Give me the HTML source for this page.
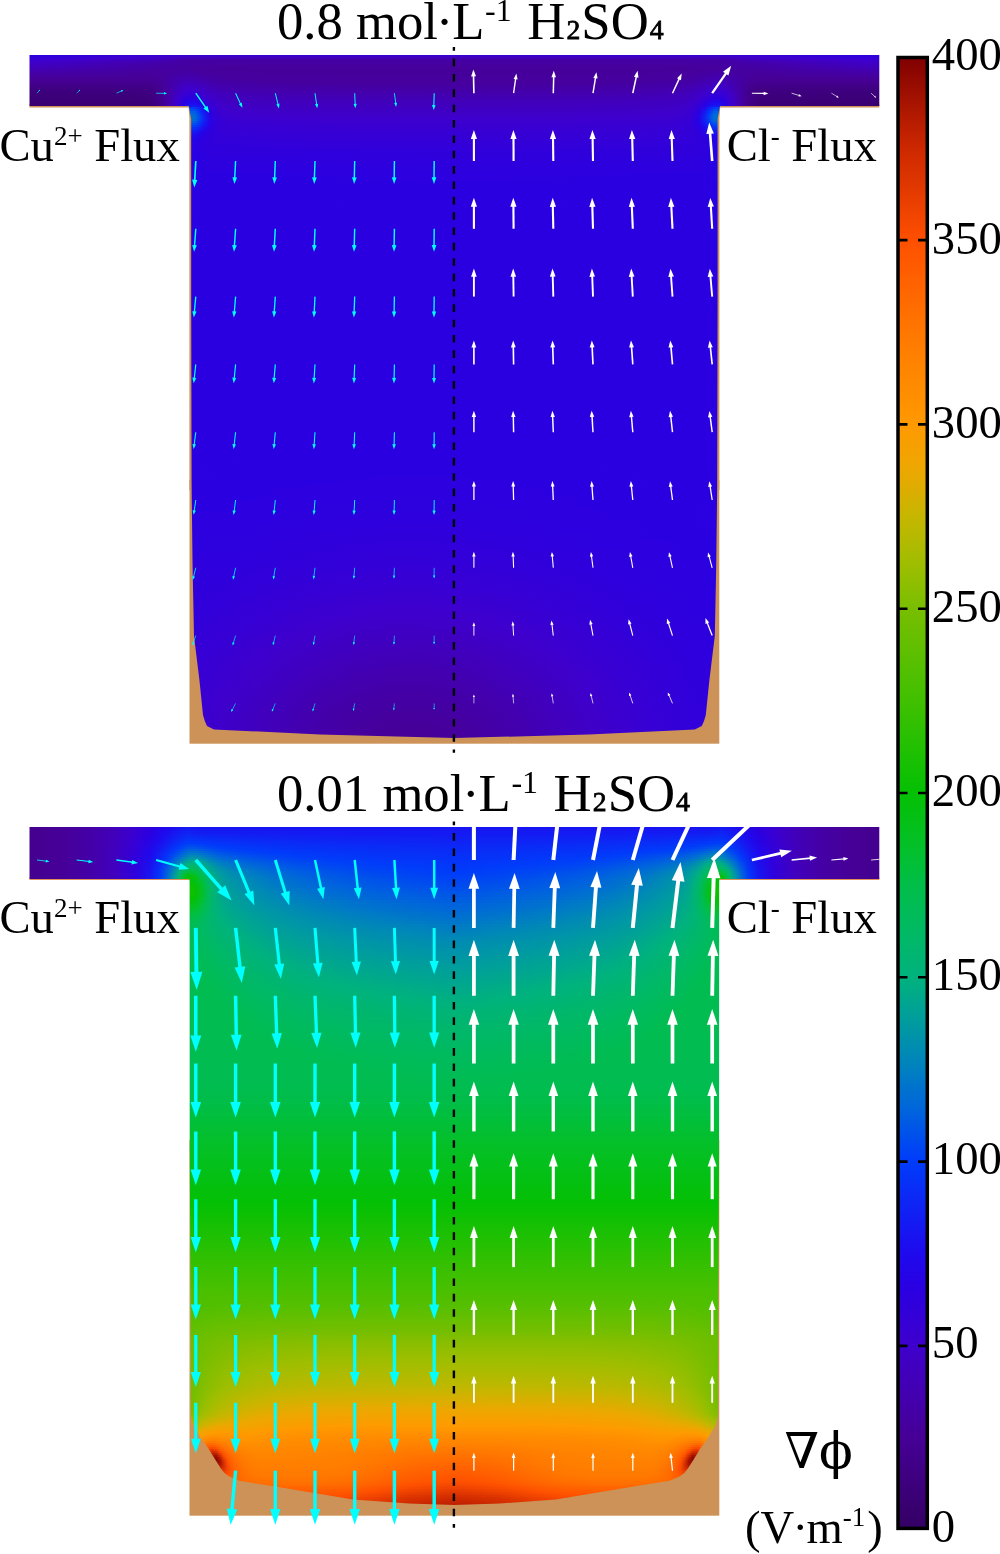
<!DOCTYPE html>
<html><head><meta charset="utf-8"><title>Flux</title><style>html,body{margin:0;padding:0;background:#fff}svg{display:block}</style></head><body>
<svg width="1000" height="1554" viewBox="0 0 1000 1554" font-family="'Liberation Serif', serif" fill="#000">
<defs><clipPath id="ct"><path d="M29.5 55.0L29.5 105.9L188.8 105.9L191.2 119.0L191.2 300.0L191.6 484.0L192.6 568.0L194.0 636.0L199.4 680.0L203.0 715.0L204.8 721.0L207.0 726.0L214.0 729.4L320.0 734.6L454.4 738.0L588.8 734.6L694.8 729.4L701.8 726.0L704.0 721.0L705.8 715.0L709.4 680.0L714.8 636.0L716.2 568.0L717.2 484.0L717.6 300.0L717.6 119.0L720.0 105.9L879.3 105.9L879.3 55.0Z"/></clipPath>
<clipPath id="cb"><path d="M29.5 827.0L29.5 879.2L189.2 879.2L189.6 881.0L189.7 1150.0L190.6 1300.0L190.8 1400.0L191.0 1416.0L193.4 1425.6L200.6 1437.6L209.0 1449.6L215.0 1459.2L221.0 1468.8L225.0 1473.5L229.4 1476.6L239.0 1480.8L269.0 1485.6L305.0 1491.6L353.0 1499.4L409.0 1503.6L454.4 1505.0L499.8 1503.6L555.8 1499.4L603.8 1491.6L639.8 1485.6L669.8 1480.8L679.4 1476.6L683.8 1473.5L687.8 1468.8L693.8 1459.2L699.8 1449.6L708.2 1437.6L715.4 1425.6L717.8 1416.0L718.0 1400.0L718.2 1300.0L719.1 1150.0L719.2 881.0L719.6 879.2L879.3 879.2L879.3 827.0Z"/></clipPath>
<clipPath id="cbx"><rect x="29.5" y="827" width="850" height="700"/></clipPath>
<linearGradient id="s1" gradientUnits="userSpaceOnUse" x1="454.4" x2="29.5" spreadMethod="reflect"><stop offset="0" stop-color="#3a00d1"/><stop offset=".639" stop-color="#3a00d1"/><stop offset=".648" stop-color="#3900d2"/><stop offset=".674" stop-color="#3900d2"/><stop offset=".693" stop-color="#3800d3"/><stop offset=".716" stop-color="#3700d4"/><stop offset=".752" stop-color="#3600d5"/><stop offset=".799" stop-color="#3400d7"/><stop offset=".858" stop-color="#3200d9"/><stop offset=".928" stop-color="#2f00dc"/><stop offset="1" stop-color="#2d00de"/></linearGradient>
<linearGradient id="s2" gradientUnits="userSpaceOnUse" x1="454.4" x2="29.5" spreadMethod="reflect"><stop offset="0" stop-color="#3f00c6"/><stop offset=".556" stop-color="#3f00c6"/><stop offset=".575" stop-color="#3f00c7"/><stop offset=".625" stop-color="#3f00c7"/><stop offset=".632" stop-color="#3f00c8"/><stop offset=".639" stop-color="#3f00c8"/><stop offset=".648" stop-color="#3f00c9"/><stop offset=".66" stop-color="#3e00cb"/><stop offset=".674" stop-color="#3e00cc"/><stop offset=".693" stop-color="#3d00ce"/><stop offset=".716" stop-color="#3c00cf"/><stop offset=".752" stop-color="#3a00d1"/><stop offset=".799" stop-color="#3800d3"/><stop offset=".858" stop-color="#3500d6"/><stop offset=".928" stop-color="#3200d9"/><stop offset="1" stop-color="#2f00dc"/></linearGradient>
<linearGradient id="s3" gradientUnits="userSpaceOnUse" x1="454.4" x2="29.5" spreadMethod="reflect"><stop offset="0" stop-color="#4100bb"/><stop offset=".61" stop-color="#4100bb"/><stop offset=".618" stop-color="#4100bc"/><stop offset=".625" stop-color="#4000bc"/><stop offset=".632" stop-color="#4000bd"/><stop offset=".639" stop-color="#4000be"/><stop offset=".648" stop-color="#4000bf"/><stop offset=".66" stop-color="#4000c1"/><stop offset=".674" stop-color="#3f00c4"/><stop offset=".693" stop-color="#3f00c6"/><stop offset=".716" stop-color="#3e00ca"/><stop offset=".752" stop-color="#3e00cd"/><stop offset=".799" stop-color="#3c00cf"/><stop offset=".858" stop-color="#3900d2"/><stop offset=".928" stop-color="#3500d6"/><stop offset="1" stop-color="#3200d9"/></linearGradient>
<linearGradient id="s4" gradientUnits="userSpaceOnUse" x1="454.4" x2="29.5" spreadMethod="reflect"><stop offset="0" stop-color="#4200b2"/><stop offset=".618" stop-color="#4200b2"/><stop offset=".625" stop-color="#4200b3"/><stop offset=".632" stop-color="#4200b4"/><stop offset=".639" stop-color="#4200b5"/><stop offset=".648" stop-color="#4100b7"/><stop offset=".66" stop-color="#4100b9"/><stop offset=".674" stop-color="#4000bc"/><stop offset=".693" stop-color="#4000c0"/><stop offset=".716" stop-color="#3f00c4"/><stop offset=".752" stop-color="#3f00c7"/><stop offset=".799" stop-color="#3e00cb"/><stop offset=".858" stop-color="#3c00cf"/><stop offset=".928" stop-color="#3800d3"/><stop offset="1" stop-color="#3500d6"/></linearGradient>
<linearGradient id="s5" gradientUnits="userSpaceOnUse" x1="454.4" x2="29.5" spreadMethod="reflect"><stop offset="0" stop-color="#4300a8"/><stop offset=".601" stop-color="#4300a8"/><stop offset=".61" stop-color="#4300a9"/><stop offset=".618" stop-color="#4300a9"/><stop offset=".625" stop-color="#4300aa"/><stop offset=".632" stop-color="#4300ab"/><stop offset=".639" stop-color="#4300ac"/><stop offset=".648" stop-color="#4200af"/><stop offset=".66" stop-color="#4200b2"/><stop offset=".674" stop-color="#4100b6"/><stop offset=".693" stop-color="#4100ba"/><stop offset=".716" stop-color="#4000bf"/><stop offset=".752" stop-color="#4000c2"/><stop offset=".799" stop-color="#3f00c6"/><stop offset=".858" stop-color="#3e00cb"/><stop offset=".928" stop-color="#3b00d0"/><stop offset="1" stop-color="#3700d4"/></linearGradient>
<linearGradient id="s6" gradientUnits="userSpaceOnUse" x1="454.4" x2="29.5" spreadMethod="reflect"><stop offset="0" stop-color="#4400a3"/><stop offset=".61" stop-color="#4400a3"/><stop offset=".618" stop-color="#4400a4"/><stop offset=".625" stop-color="#4400a5"/><stop offset=".632" stop-color="#4400a6"/><stop offset=".639" stop-color="#4400a7"/><stop offset=".648" stop-color="#4300a9"/><stop offset=".66" stop-color="#4300ad"/><stop offset=".674" stop-color="#4200b1"/><stop offset=".693" stop-color="#4100b5"/><stop offset=".716" stop-color="#4100ba"/><stop offset=".752" stop-color="#4000bd"/><stop offset=".799" stop-color="#4000c1"/><stop offset=".858" stop-color="#3f00c7"/><stop offset=".928" stop-color="#3e00cd"/><stop offset="1" stop-color="#3a00d1"/></linearGradient>
<linearGradient id="s7" gradientUnits="userSpaceOnUse" x1="454.4" x2="29.5" spreadMethod="reflect"><stop offset="0" stop-color="#4400a1"/><stop offset=".533" stop-color="#4400a1"/><stop offset=".556" stop-color="#4400a2"/><stop offset=".61" stop-color="#4400a2"/><stop offset=".618" stop-color="#4400a3"/><stop offset=".625" stop-color="#4400a3"/><stop offset=".632" stop-color="#4400a4"/><stop offset=".639" stop-color="#4400a5"/><stop offset=".648" stop-color="#4400a6"/><stop offset=".66" stop-color="#4300a9"/><stop offset=".674" stop-color="#4300ab"/><stop offset=".693" stop-color="#4200ae"/><stop offset=".716" stop-color="#4200b2"/><stop offset=".752" stop-color="#4100b5"/><stop offset=".799" stop-color="#4100ba"/><stop offset=".858" stop-color="#4000bf"/><stop offset=".928" stop-color="#3f00c6"/><stop offset="1" stop-color="#3e00cd"/></linearGradient>
<linearGradient id="s8" gradientUnits="userSpaceOnUse" x1="454.4" x2="29.5" spreadMethod="reflect"><stop offset="0" stop-color="#4500a0"/><stop offset=".575" stop-color="#4500a0"/><stop offset=".589" stop-color="#4400a0"/><stop offset=".601" stop-color="#4400a1"/><stop offset=".625" stop-color="#4400a1"/><stop offset=".632" stop-color="#4400a2"/><stop offset=".639" stop-color="#4400a2"/><stop offset=".648" stop-color="#4400a3"/><stop offset=".66" stop-color="#4400a3"/><stop offset=".674" stop-color="#4400a4"/><stop offset=".693" stop-color="#4400a5"/><stop offset=".716" stop-color="#4300a8"/><stop offset=".752" stop-color="#4300ac"/><stop offset=".799" stop-color="#4200b1"/><stop offset=".858" stop-color="#4100b7"/><stop offset=".928" stop-color="#4000bf"/><stop offset="1" stop-color="#3f00c6"/></linearGradient>
<linearGradient id="s9" gradientUnits="userSpaceOnUse" x1="454.4" x2="29.5" spreadMethod="reflect"><stop offset="0" stop-color="#45009e"/><stop offset=".556" stop-color="#45009e"/><stop offset=".575" stop-color="#45009f"/><stop offset=".601" stop-color="#45009f"/><stop offset=".61" stop-color="#4500a0"/><stop offset=".625" stop-color="#4500a0"/><stop offset=".632" stop-color="#4400a0"/><stop offset=".639" stop-color="#4400a1"/><stop offset=".648" stop-color="#4400a1"/><stop offset=".66" stop-color="#4400a2"/><stop offset=".674" stop-color="#4400a2"/><stop offset=".693" stop-color="#4400a3"/><stop offset=".716" stop-color="#4400a6"/><stop offset=".752" stop-color="#4300a9"/><stop offset=".799" stop-color="#4300ad"/><stop offset=".858" stop-color="#4200b2"/><stop offset=".928" stop-color="#4100b9"/><stop offset="1" stop-color="#4000bf"/></linearGradient>
<linearGradient id="s10" gradientUnits="userSpaceOnUse" x1="454.4" x2="29.5" spreadMethod="reflect"><stop offset="0" stop-color="#45009c"/><stop offset=".556" stop-color="#45009c"/><stop offset=".575" stop-color="#45009d"/><stop offset=".589" stop-color="#45009e"/><stop offset=".61" stop-color="#45009e"/><stop offset=".618" stop-color="#45009f"/><stop offset=".632" stop-color="#45009f"/><stop offset=".639" stop-color="#4500a0"/><stop offset=".648" stop-color="#4500a0"/><stop offset=".66" stop-color="#4400a0"/><stop offset=".674" stop-color="#4400a1"/><stop offset=".693" stop-color="#4400a1"/><stop offset=".716" stop-color="#4400a3"/><stop offset=".752" stop-color="#4400a6"/><stop offset=".799" stop-color="#4300a9"/><stop offset=".858" stop-color="#4300ae"/><stop offset=".928" stop-color="#4200b3"/><stop offset="1" stop-color="#4100b9"/></linearGradient>
<linearGradient id="s11" gradientUnits="userSpaceOnUse" x1="454.4" x2="29.5" spreadMethod="reflect"><stop offset="0" stop-color="#45009a"/><stop offset=".533" stop-color="#45009a"/><stop offset=".556" stop-color="#45009b"/><stop offset=".575" stop-color="#45009c"/><stop offset=".589" stop-color="#45009c"/><stop offset=".601" stop-color="#45009d"/><stop offset=".61" stop-color="#45009d"/><stop offset=".618" stop-color="#45009e"/><stop offset=".632" stop-color="#45009e"/><stop offset=".639" stop-color="#45009f"/><stop offset=".693" stop-color="#45009f"/><stop offset=".716" stop-color="#4400a1"/><stop offset=".752" stop-color="#4400a2"/><stop offset=".799" stop-color="#4400a5"/><stop offset=".858" stop-color="#4300a9"/><stop offset=".928" stop-color="#4300ae"/><stop offset="1" stop-color="#4200b2"/></linearGradient>
<linearGradient id="s12" gradientUnits="userSpaceOnUse" x1="454.4" x2="29.5" spreadMethod="reflect"><stop offset="0" stop-color="#45009b"/><stop offset=".293" stop-color="#45009b"/><stop offset=".363" stop-color="#45009c"/><stop offset=".469" stop-color="#45009c"/><stop offset=".505" stop-color="#45009d"/><stop offset=".533" stop-color="#45009d"/><stop offset=".556" stop-color="#45009e"/><stop offset=".575" stop-color="#45009f"/><stop offset=".589" stop-color="#4500a0"/><stop offset=".601" stop-color="#4400a1"/><stop offset=".61" stop-color="#4400a2"/><stop offset=".618" stop-color="#4400a3"/><stop offset=".639" stop-color="#4400a3"/><stop offset=".648" stop-color="#4400a2"/><stop offset=".66" stop-color="#4400a1"/><stop offset=".674" stop-color="#4500a0"/><stop offset=".693" stop-color="#45009e"/><stop offset=".716" stop-color="#45009e"/><stop offset=".752" stop-color="#45009f"/><stop offset=".799" stop-color="#4400a2"/><stop offset=".858" stop-color="#4400a4"/><stop offset=".928" stop-color="#4300a8"/><stop offset="1" stop-color="#4300ab"/></linearGradient>
<linearGradient id="s13" gradientUnits="userSpaceOnUse" x1="454.4" x2="29.5" spreadMethod="reflect"><stop offset="0" stop-color="#45009c"/><stop offset=".422" stop-color="#45009c"/><stop offset=".469" stop-color="#45009d"/><stop offset=".505" stop-color="#45009d"/><stop offset=".533" stop-color="#45009e"/><stop offset=".556" stop-color="#45009f"/><stop offset=".575" stop-color="#4500a0"/><stop offset=".589" stop-color="#4400a2"/><stop offset=".601" stop-color="#4400a3"/><stop offset=".61" stop-color="#4400a4"/><stop offset=".618" stop-color="#4400a5"/><stop offset=".625" stop-color="#4400a6"/><stop offset=".632" stop-color="#4400a6"/><stop offset=".639" stop-color="#4400a5"/><stop offset=".648" stop-color="#4400a4"/><stop offset=".66" stop-color="#4400a2"/><stop offset=".674" stop-color="#4500a0"/><stop offset=".693" stop-color="#45009d"/><stop offset=".716" stop-color="#45009c"/><stop offset=".752" stop-color="#45009c"/><stop offset=".799" stop-color="#45009e"/><stop offset=".858" stop-color="#4500a0"/><stop offset=".928" stop-color="#4400a2"/><stop offset="1" stop-color="#4400a4"/></linearGradient>
<linearGradient id="s14" gradientUnits="userSpaceOnUse" x1="454.4" x2="29.5" spreadMethod="reflect"><stop offset="0" stop-color="#45009c"/><stop offset=".199" stop-color="#45009c"/><stop offset=".293" stop-color="#45009d"/><stop offset=".469" stop-color="#45009d"/><stop offset=".505" stop-color="#45009e"/><stop offset=".533" stop-color="#45009e"/><stop offset=".556" stop-color="#45009f"/><stop offset=".575" stop-color="#4400a1"/><stop offset=".589" stop-color="#4400a4"/><stop offset=".601" stop-color="#4400a6"/><stop offset=".61" stop-color="#4300a9"/><stop offset=".618" stop-color="#4300aa"/><stop offset=".625" stop-color="#4300ab"/><stop offset=".632" stop-color="#4300aa"/><stop offset=".639" stop-color="#4300a9"/><stop offset=".648" stop-color="#4300a7"/><stop offset=".66" stop-color="#4400a4"/><stop offset=".674" stop-color="#4500a0"/><stop offset=".693" stop-color="#45009c"/><stop offset=".716" stop-color="#460099"/><stop offset=".752" stop-color="#450099"/><stop offset=".799" stop-color="#45009a"/><stop offset=".858" stop-color="#45009c"/><stop offset=".928" stop-color="#45009d"/><stop offset="1" stop-color="#45009f"/></linearGradient>
<linearGradient id="s15" gradientUnits="userSpaceOnUse" x1="454.4" x2="29.5" spreadMethod="reflect"><stop offset="0" stop-color="#45009d"/><stop offset=".363" stop-color="#45009d"/><stop offset=".422" stop-color="#45009e"/><stop offset=".505" stop-color="#45009e"/><stop offset=".533" stop-color="#45009f"/><stop offset=".556" stop-color="#4400a1"/><stop offset=".575" stop-color="#4400a4"/><stop offset=".589" stop-color="#4300a8"/><stop offset=".601" stop-color="#4300ab"/><stop offset=".61" stop-color="#4300ae"/><stop offset=".618" stop-color="#4200af"/><stop offset=".625" stop-color="#4200b0"/><stop offset=".632" stop-color="#4200af"/><stop offset=".639" stop-color="#4300ae"/><stop offset=".648" stop-color="#4300ab"/><stop offset=".66" stop-color="#4400a7"/><stop offset=".674" stop-color="#4400a1"/><stop offset=".693" stop-color="#45009b"/><stop offset=".716" stop-color="#460097"/><stop offset=".799" stop-color="#460097"/><stop offset=".858" stop-color="#460098"/><stop offset=".928" stop-color="#460099"/><stop offset="1" stop-color="#45009a"/></linearGradient>
<linearGradient id="s16" gradientUnits="userSpaceOnUse" x1="454.4" x2="29.5" spreadMethod="reflect"><stop offset="0" stop-color="#45009d"/><stop offset=".104" stop-color="#45009d"/><stop offset=".199" stop-color="#45009e"/><stop offset=".422" stop-color="#45009e"/><stop offset=".469" stop-color="#45009f"/><stop offset=".505" stop-color="#45009f"/><stop offset=".533" stop-color="#4400a1"/><stop offset=".556" stop-color="#4400a4"/><stop offset=".575" stop-color="#4300a8"/><stop offset=".589" stop-color="#4300ac"/><stop offset=".601" stop-color="#4200b0"/><stop offset=".61" stop-color="#4200b3"/><stop offset=".618" stop-color="#4200b4"/><stop offset=".625" stop-color="#4200b5"/><stop offset=".632" stop-color="#4200b4"/><stop offset=".639" stop-color="#4200b2"/><stop offset=".648" stop-color="#4200af"/><stop offset=".66" stop-color="#4300a9"/><stop offset=".674" stop-color="#4400a2"/><stop offset=".693" stop-color="#45009a"/><stop offset=".716" stop-color="#460095"/><stop offset=".752" stop-color="#450094"/><stop offset=".858" stop-color="#450094"/><stop offset=".928" stop-color="#450095"/><stop offset="1" stop-color="#460095"/></linearGradient>
<linearGradient id="s17" gradientUnits="userSpaceOnUse" x1="454.4" x2="29.5" spreadMethod="reflect"><stop offset="0" stop-color="#45009e"/><stop offset=".363" stop-color="#45009e"/><stop offset=".422" stop-color="#45009f"/><stop offset=".469" stop-color="#4400a1"/><stop offset=".505" stop-color="#4400a2"/><stop offset=".533" stop-color="#4400a5"/><stop offset=".556" stop-color="#4300a8"/><stop offset=".575" stop-color="#4300ac"/><stop offset=".589" stop-color="#4200b1"/><stop offset=".601" stop-color="#4200b5"/><stop offset=".61" stop-color="#4100b8"/><stop offset=".618" stop-color="#4100ba"/><stop offset=".625" stop-color="#4100ba"/><stop offset=".632" stop-color="#4100b9"/><stop offset=".639" stop-color="#4100b6"/><stop offset=".648" stop-color="#4200b2"/><stop offset=".66" stop-color="#4300ab"/><stop offset=".674" stop-color="#4400a2"/><stop offset=".693" stop-color="#460097"/><stop offset=".716" stop-color="#440091"/><stop offset=".752" stop-color="#440090"/><stop offset="1" stop-color="#440090"/></linearGradient>
<linearGradient id="s18" gradientUnits="userSpaceOnUse" x1="454.4" x2="29.5" spreadMethod="reflect"><stop offset="0" stop-color="#45009f"/><stop offset=".293" stop-color="#45009f"/><stop offset=".363" stop-color="#4500a0"/><stop offset=".422" stop-color="#4400a2"/><stop offset=".469" stop-color="#4400a4"/><stop offset=".505" stop-color="#4400a6"/><stop offset=".533" stop-color="#4300a8"/><stop offset=".556" stop-color="#4300ab"/><stop offset=".575" stop-color="#4200b0"/><stop offset=".589" stop-color="#4100b5"/><stop offset=".601" stop-color="#4100ba"/><stop offset=".61" stop-color="#4000be"/><stop offset=".618" stop-color="#4000c0"/><stop offset=".625" stop-color="#4000c0"/><stop offset=".632" stop-color="#4000be"/><stop offset=".639" stop-color="#4100bb"/><stop offset=".648" stop-color="#4100b6"/><stop offset=".66" stop-color="#4300ad"/><stop offset=".674" stop-color="#4400a2"/><stop offset=".693" stop-color="#460095"/><stop offset=".716" stop-color="#43008e"/><stop offset=".752" stop-color="#43008d"/><stop offset=".799" stop-color="#43008c"/><stop offset=".858" stop-color="#42008c"/><stop offset="1" stop-color="#42008c"/></linearGradient>
<linearGradient id="s19" gradientUnits="userSpaceOnUse" x1="454.4" x2="29.5" spreadMethod="reflect"><stop offset="0" stop-color="#4400a1"/><stop offset=".199" stop-color="#4400a1"/><stop offset=".293" stop-color="#4400a2"/><stop offset=".363" stop-color="#4400a4"/><stop offset=".422" stop-color="#4400a5"/><stop offset=".469" stop-color="#4400a7"/><stop offset=".505" stop-color="#4300a9"/><stop offset=".533" stop-color="#4300ab"/><stop offset=".556" stop-color="#4200af"/><stop offset=".575" stop-color="#4200b5"/><stop offset=".589" stop-color="#4100ba"/><stop offset=".601" stop-color="#4000c0"/><stop offset=".61" stop-color="#3f00c4"/><stop offset=".618" stop-color="#3f00c6"/><stop offset=".625" stop-color="#3f00c6"/><stop offset=".632" stop-color="#3f00c4"/><stop offset=".639" stop-color="#4000c0"/><stop offset=".648" stop-color="#4100b9"/><stop offset=".66" stop-color="#4200af"/><stop offset=".674" stop-color="#4400a2"/><stop offset=".693" stop-color="#450093"/><stop offset=".716" stop-color="#42008a"/><stop offset=".752" stop-color="#410089"/><stop offset=".799" stop-color="#410088"/><stop offset=".928" stop-color="#410088"/><stop offset="1" stop-color="#410087"/></linearGradient>
<linearGradient id="s20" gradientUnits="userSpaceOnUse" x1="454.4" x2="29.5" spreadMethod="reflect"><stop offset="0" stop-color="#4400a4"/><stop offset=".104" stop-color="#4400a4"/><stop offset=".199" stop-color="#4400a5"/><stop offset=".293" stop-color="#4400a6"/><stop offset=".363" stop-color="#4400a7"/><stop offset=".422" stop-color="#4300a8"/><stop offset=".469" stop-color="#4300aa"/><stop offset=".505" stop-color="#4300ac"/><stop offset=".533" stop-color="#4200af"/><stop offset=".556" stop-color="#4200b3"/><stop offset=".575" stop-color="#4100b9"/><stop offset=".589" stop-color="#4000bf"/><stop offset=".601" stop-color="#3f00c5"/><stop offset=".61" stop-color="#3e00ca"/><stop offset=".618" stop-color="#3e00cc"/><stop offset=".625" stop-color="#3e00cc"/><stop offset=".632" stop-color="#3f00c9"/><stop offset=".639" stop-color="#3f00c5"/><stop offset=".648" stop-color="#4000bd"/><stop offset=".66" stop-color="#4200b1"/><stop offset=".674" stop-color="#4400a2"/><stop offset=".693" stop-color="#440091"/><stop offset=".716" stop-color="#410087"/><stop offset=".752" stop-color="#400085"/><stop offset=".799" stop-color="#400085"/><stop offset=".858" stop-color="#400084"/><stop offset=".928" stop-color="#3f0083"/><stop offset="1" stop-color="#3f0083"/></linearGradient>
<linearGradient id="s21" gradientUnits="userSpaceOnUse" x1="454.4" x2="29.5" spreadMethod="reflect"><stop offset="0" stop-color="#4400a7"/><stop offset=".104" stop-color="#4300a7"/><stop offset=".199" stop-color="#4300a8"/><stop offset=".293" stop-color="#4300a9"/><stop offset=".363" stop-color="#4300aa"/><stop offset=".422" stop-color="#4300ac"/><stop offset=".469" stop-color="#4300ad"/><stop offset=".505" stop-color="#4200af"/><stop offset=".533" stop-color="#4200b2"/><stop offset=".556" stop-color="#4100b6"/><stop offset=".575" stop-color="#4000bd"/><stop offset=".589" stop-color="#3f00c4"/><stop offset=".601" stop-color="#3e00cb"/><stop offset=".61" stop-color="#3d00ce"/><stop offset=".618" stop-color="#3b00d0"/><stop offset=".625" stop-color="#3b00d0"/><stop offset=".632" stop-color="#3d00ce"/><stop offset=".639" stop-color="#3e00ca"/><stop offset=".648" stop-color="#4000c1"/><stop offset=".66" stop-color="#4200b3"/><stop offset=".674" stop-color="#4400a2"/><stop offset=".693" stop-color="#43008f"/><stop offset=".716" stop-color="#3f0083"/><stop offset=".752" stop-color="#3f0081"/><stop offset=".799" stop-color="#3e0081"/><stop offset=".858" stop-color="#3e0080"/><stop offset=".928" stop-color="#3e007f"/><stop offset="1" stop-color="#3d007e"/></linearGradient>
<linearGradient id="s22" gradientUnits="userSpaceOnUse" x1="454.4" x2="29.5" spreadMethod="reflect"><stop offset="0" stop-color="#4300aa"/><stop offset=".104" stop-color="#4300ab"/><stop offset=".199" stop-color="#4300ab"/><stop offset=".293" stop-color="#4300ac"/><stop offset=".363" stop-color="#4300ad"/><stop offset=".422" stop-color="#4200af"/><stop offset=".469" stop-color="#4200b1"/><stop offset=".505" stop-color="#4200b3"/><stop offset=".533" stop-color="#4100b5"/><stop offset=".556" stop-color="#4100ba"/><stop offset=".575" stop-color="#4000c1"/><stop offset=".589" stop-color="#3f00c9"/><stop offset=".601" stop-color="#3c00cf"/><stop offset=".61" stop-color="#3900d2"/><stop offset=".618" stop-color="#3800d3"/><stop offset=".625" stop-color="#3800d3"/><stop offset=".632" stop-color="#3a00d1"/><stop offset=".639" stop-color="#3d00ce"/><stop offset=".648" stop-color="#3f00c5"/><stop offset=".66" stop-color="#4100b6"/><stop offset=".674" stop-color="#4400a3"/><stop offset=".693" stop-color="#43008e"/><stop offset=".716" stop-color="#3f0082"/><stop offset=".752" stop-color="#3e0080"/><stop offset=".799" stop-color="#3e007f"/><stop offset=".858" stop-color="#3d007e"/><stop offset=".928" stop-color="#3d007d"/><stop offset="1" stop-color="#3d007c"/></linearGradient>
<linearGradient id="s23" gradientUnits="userSpaceOnUse" x1="454.4" x2="29.5" spreadMethod="reflect"><stop offset="0" stop-color="#4300ae"/><stop offset=".104" stop-color="#4300ae"/><stop offset=".199" stop-color="#4200ae"/><stop offset=".293" stop-color="#4200af"/><stop offset=".363" stop-color="#4200b0"/><stop offset=".422" stop-color="#4200b2"/><stop offset=".469" stop-color="#4200b4"/><stop offset=".505" stop-color="#4100b6"/><stop offset=".533" stop-color="#4100b8"/><stop offset=".556" stop-color="#4000bd"/><stop offset=".575" stop-color="#3f00c5"/><stop offset=".589" stop-color="#3e00cd"/><stop offset=".601" stop-color="#3900d2"/><stop offset=".61" stop-color="#3500d6"/><stop offset=".618" stop-color="#3400d7"/><stop offset=".625" stop-color="#3400d7"/><stop offset=".632" stop-color="#3700d4"/><stop offset=".639" stop-color="#3a00d1"/><stop offset=".648" stop-color="#3f00c9"/><stop offset=".66" stop-color="#4100b9"/><stop offset=".674" stop-color="#4400a4"/><stop offset=".693" stop-color="#43008d"/><stop offset=".716" stop-color="#3e0080"/><stop offset=".752" stop-color="#3d007e"/><stop offset=".799" stop-color="#3d007d"/><stop offset=".858" stop-color="#3d007d"/><stop offset=".928" stop-color="#3d007c"/><stop offset="1" stop-color="#3c007b"/></linearGradient>
<linearGradient id="s24" gradientUnits="userSpaceOnUse" x1="454.4" x2="29.5" spreadMethod="reflect"><stop offset="0" stop-color="#4200b1"/><stop offset=".104" stop-color="#4200b1"/><stop offset=".199" stop-color="#4200b2"/><stop offset=".293" stop-color="#4200b2"/><stop offset=".363" stop-color="#4200b4"/><stop offset=".422" stop-color="#4100b5"/><stop offset=".469" stop-color="#4100b7"/><stop offset=".505" stop-color="#4100b9"/><stop offset=".533" stop-color="#4100bb"/><stop offset=".556" stop-color="#4000c0"/><stop offset=".575" stop-color="#3f00c8"/><stop offset=".589" stop-color="#3b00d0"/><stop offset=".601" stop-color="#3500d6"/><stop offset=".61" stop-color="#3100da"/><stop offset=".618" stop-color="#3000db"/><stop offset=".625" stop-color="#3000db"/><stop offset=".632" stop-color="#3300d8"/><stop offset=".639" stop-color="#3700d4"/><stop offset=".648" stop-color="#3e00cd"/><stop offset=".66" stop-color="#4100bb"/><stop offset=".674" stop-color="#4400a5"/><stop offset=".693" stop-color="#43008d"/><stop offset=".716" stop-color="#3e007f"/><stop offset=".752" stop-color="#3d007c"/><stop offset=".799" stop-color="#3d007c"/><stop offset=".858" stop-color="#3c007b"/><stop offset=".928" stop-color="#3c007a"/><stop offset="1" stop-color="#3c0079"/></linearGradient>
<linearGradient id="s25" gradientUnits="userSpaceOnUse" x1="454.4" x2="29.5" spreadMethod="reflect"><stop offset="0" stop-color="#4200b4"/><stop offset=".104" stop-color="#4200b4"/><stop offset=".199" stop-color="#4200b5"/><stop offset=".293" stop-color="#4100b6"/><stop offset=".363" stop-color="#4100b7"/><stop offset=".422" stop-color="#4100b8"/><stop offset=".469" stop-color="#4100b9"/><stop offset=".505" stop-color="#4100bb"/><stop offset=".533" stop-color="#4000bd"/><stop offset=".556" stop-color="#4000c2"/><stop offset=".575" stop-color="#3e00cc"/><stop offset=".589" stop-color="#3700d4"/><stop offset=".601" stop-color="#3100da"/><stop offset=".61" stop-color="#2d00de"/><stop offset=".618" stop-color="#2b00e0"/><stop offset=".625" stop-color="#2c00df"/><stop offset=".632" stop-color="#2f00dc"/><stop offset=".639" stop-color="#3400d7"/><stop offset=".648" stop-color="#3c00cf"/><stop offset=".66" stop-color="#4000bd"/><stop offset=".674" stop-color="#4400a6"/><stop offset=".693" stop-color="#42008c"/><stop offset=".716" stop-color="#3d007d"/><stop offset=".752" stop-color="#3c007b"/><stop offset=".799" stop-color="#3c007a"/><stop offset=".858" stop-color="#3c0079"/><stop offset=".928" stop-color="#3b0078"/><stop offset="1" stop-color="#3b0077"/></linearGradient>
<linearGradient id="s26" gradientUnits="userSpaceOnUse" x1="454.4" x2="29.5" spreadMethod="reflect"><stop offset="0" stop-color="#4100b7"/><stop offset=".104" stop-color="#4100b7"/><stop offset=".199" stop-color="#4100b8"/><stop offset=".293" stop-color="#4100b8"/><stop offset=".363" stop-color="#4100b9"/><stop offset=".422" stop-color="#4100ba"/><stop offset=".469" stop-color="#4100bc"/><stop offset=".505" stop-color="#4000bd"/><stop offset=".533" stop-color="#4000bf"/><stop offset=".556" stop-color="#3f00c5"/><stop offset=".575" stop-color="#3c00cf"/><stop offset=".589" stop-color="#3400d7"/><stop offset=".601" stop-color="#2c00df"/><stop offset=".61" stop-color="#2802e3"/><stop offset=".618" stop-color="#2703e5"/><stop offset=".625" stop-color="#2802e3"/><stop offset=".632" stop-color="#2b00e0"/><stop offset=".639" stop-color="#3100da"/><stop offset=".648" stop-color="#3a00d1"/><stop offset=".66" stop-color="#4000bf"/><stop offset=".674" stop-color="#4400a6"/><stop offset=".693" stop-color="#42008b"/><stop offset=".716" stop-color="#3d007c"/><stop offset=".752" stop-color="#3c0079"/><stop offset=".799" stop-color="#3b0078"/><stop offset=".858" stop-color="#3b0078"/><stop offset=".928" stop-color="#3b0077"/><stop offset="1" stop-color="#3a0076"/></linearGradient>
<linearGradient id="s27" gradientUnits="userSpaceOnUse" x1="454.4" x2="29.5" spreadMethod="reflect"><stop offset="0" stop-color="#4100ba"/><stop offset=".199" stop-color="#4100ba"/><stop offset=".293" stop-color="#4100bb"/><stop offset=".363" stop-color="#4100bc"/><stop offset=".422" stop-color="#4000bd"/><stop offset=".469" stop-color="#4000be"/><stop offset=".505" stop-color="#4000c0"/><stop offset=".533" stop-color="#4000c2"/><stop offset=".556" stop-color="#3f00c8"/><stop offset=".575" stop-color="#3900d2"/><stop offset=".589" stop-color="#2f00dc"/><stop offset=".601" stop-color="#2703e4"/><stop offset=".61" stop-color="#2206e9"/><stop offset=".618" stop-color="#2107ea"/><stop offset=".625" stop-color="#2306e8"/><stop offset=".632" stop-color="#2702e4"/><stop offset=".639" stop-color="#2e00dd"/><stop offset=".648" stop-color="#3800d3"/><stop offset=".66" stop-color="#4000c1"/><stop offset=".674" stop-color="#4400a6"/><stop offset=".693" stop-color="#42008a"/><stop offset=".716" stop-color="#3c007a"/><stop offset=".752" stop-color="#3b0078"/><stop offset=".799" stop-color="#3b0077"/><stop offset=".858" stop-color="#3a0076"/><stop offset=".928" stop-color="#3a0075"/><stop offset="1" stop-color="#3a0074"/></linearGradient>
<linearGradient id="s28" gradientUnits="userSpaceOnUse" x1="454.4" x2="29.5" spreadMethod="reflect"><stop offset="0" stop-color="#4000bc"/><stop offset=".199" stop-color="#4000bc"/><stop offset=".293" stop-color="#4000bd"/><stop offset=".363" stop-color="#4000be"/><stop offset=".422" stop-color="#4000bf"/><stop offset=".469" stop-color="#4000c0"/><stop offset=".505" stop-color="#4000c2"/><stop offset=".533" stop-color="#3f00c4"/><stop offset=".556" stop-color="#3e00cb"/><stop offset=".575" stop-color="#3600d5"/><stop offset=".589" stop-color="#2b00e0"/><stop offset=".601" stop-color="#2107eb"/><stop offset=".61" stop-color="#1c0def"/><stop offset=".618" stop-color="#1c0eef"/><stop offset=".625" stop-color="#1e0aee"/><stop offset=".632" stop-color="#2306e8"/><stop offset=".639" stop-color="#2a00e1"/><stop offset=".648" stop-color="#3600d5"/><stop offset=".66" stop-color="#4000c2"/><stop offset=".674" stop-color="#4400a6"/><stop offset=".693" stop-color="#410089"/><stop offset=".716" stop-color="#3b0079"/><stop offset=".752" stop-color="#3a0076"/><stop offset=".799" stop-color="#3a0075"/><stop offset=".858" stop-color="#3a0074"/><stop offset=".928" stop-color="#3a0073"/><stop offset="1" stop-color="#390072"/></linearGradient>
<linearGradient id="s29" gradientUnits="userSpaceOnUse" x1="454.4" x2="29.5" spreadMethod="reflect"><stop offset="0" stop-color="#4000be"/><stop offset=".104" stop-color="#4000be"/><stop offset=".199" stop-color="#4000bf"/><stop offset=".293" stop-color="#4000bf"/><stop offset=".363" stop-color="#4000c0"/><stop offset=".422" stop-color="#4000c1"/><stop offset=".469" stop-color="#3f00c3"/><stop offset=".505" stop-color="#3f00c4"/><stop offset=".533" stop-color="#3f00c7"/><stop offset=".556" stop-color="#3e00cd"/><stop offset=".575" stop-color="#3300d8"/><stop offset=".589" stop-color="#2603e6"/><stop offset=".601" stop-color="#1b0fef"/><stop offset=".61" stop-color="#1618f1"/><stop offset=".618" stop-color="#1518f1"/><stop offset=".625" stop-color="#1913f0"/><stop offset=".632" stop-color="#1f09ed"/><stop offset=".639" stop-color="#2702e4"/><stop offset=".648" stop-color="#3400d7"/><stop offset=".66" stop-color="#3f00c3"/><stop offset=".674" stop-color="#4400a6"/><stop offset=".693" stop-color="#410088"/><stop offset=".716" stop-color="#3b0077"/><stop offset=".752" stop-color="#3a0074"/><stop offset=".799" stop-color="#3a0073"/><stop offset=".858" stop-color="#390073"/><stop offset=".928" stop-color="#390072"/><stop offset="1" stop-color="#390071"/></linearGradient>
<linearGradient id="s30" gradientUnits="userSpaceOnUse" x1="454.4" x2="29.5" spreadMethod="reflect"><stop offset="0" stop-color="#4000c1"/><stop offset=".199" stop-color="#4000c1"/><stop offset=".293" stop-color="#4000c2"/><stop offset=".363" stop-color="#4000c3"/><stop offset=".422" stop-color="#3f00c4"/><stop offset=".469" stop-color="#3f00c5"/><stop offset=".505" stop-color="#3f00c7"/><stop offset=".533" stop-color="#3f00c9"/><stop offset=".556" stop-color="#3c00cf"/><stop offset=".575" stop-color="#3000db"/><stop offset=".589" stop-color="#2009ec"/><stop offset=".601" stop-color="#0e24f4"/><stop offset=".61" stop-color="#0238f9"/><stop offset=".618" stop-color="#0041f7"/><stop offset=".625" stop-color="#003dfa"/><stop offset=".632" stop-color="#0534f8"/><stop offset=".639" stop-color="#0a2bf6"/><stop offset=".648" stop-color="#121ef3"/><stop offset=".66" stop-color="#1912f0"/><stop offset=".674" stop-color="#2009ec"/><stop offset=".693" stop-color="#2604e6"/><stop offset=".716" stop-color="#2901e2"/><stop offset=".752" stop-color="#2b00e0"/><stop offset="1" stop-color="#2b00e0"/></linearGradient>
<linearGradient id="s31" gradientUnits="userSpaceOnUse" x1="454.4" x2="29.5" spreadMethod="reflect"><stop offset="0" stop-color="#3f00c3"/><stop offset=".199" stop-color="#3f00c3"/><stop offset=".293" stop-color="#3f00c4"/><stop offset=".363" stop-color="#3f00c5"/><stop offset=".422" stop-color="#3f00c6"/><stop offset=".469" stop-color="#3f00c8"/><stop offset=".505" stop-color="#3f00c9"/><stop offset=".533" stop-color="#3e00cb"/><stop offset=".556" stop-color="#3b00d0"/><stop offset=".575" stop-color="#2d00de"/><stop offset=".589" stop-color="#1b0fef"/><stop offset=".601" stop-color="#082ff7"/><stop offset=".61" stop-color="#0048f2"/><stop offset=".618" stop-color="#0051eb"/><stop offset=".625" stop-color="#004af0"/><stop offset=".632" stop-color="#003bfa"/><stop offset=".639" stop-color="#0730f7"/><stop offset=".648" stop-color="#1021f4"/><stop offset=".66" stop-color="#1814f0"/><stop offset=".674" stop-color="#1f09ed"/><stop offset=".693" stop-color="#2504e7"/><stop offset=".716" stop-color="#2801e3"/><stop offset=".752" stop-color="#2a00e1"/><stop offset="1" stop-color="#2a00e1"/></linearGradient>
<linearGradient id="s32" gradientUnits="userSpaceOnUse" x1="454.4" x2="29.5" spreadMethod="reflect"><stop offset="0" stop-color="#3f00c5"/><stop offset=".104" stop-color="#3f00c5"/><stop offset=".199" stop-color="#3f00c6"/><stop offset=".293" stop-color="#3f00c6"/><stop offset=".363" stop-color="#3f00c7"/><stop offset=".422" stop-color="#3f00c8"/><stop offset=".469" stop-color="#3e00ca"/><stop offset=".505" stop-color="#3e00cb"/><stop offset=".533" stop-color="#3e00cd"/><stop offset=".556" stop-color="#3900d2"/><stop offset=".575" stop-color="#2b00e0"/><stop offset=".589" stop-color="#1617f1"/><stop offset=".601" stop-color="#0239f9"/><stop offset=".61" stop-color="#0057e7"/><stop offset=".618" stop-color="#005fe1"/><stop offset=".625" stop-color="#0056e7"/><stop offset=".632" stop-color="#0045f4"/><stop offset=".639" stop-color="#0534f8"/><stop offset=".648" stop-color="#0f24f4"/><stop offset=".66" stop-color="#1815f1"/><stop offset=".674" stop-color="#1e0aee"/><stop offset=".693" stop-color="#2405e8"/><stop offset=".716" stop-color="#2702e4"/><stop offset=".752" stop-color="#2901e3"/><stop offset=".928" stop-color="#2901e3"/><stop offset="1" stop-color="#2901e2"/></linearGradient>
<linearGradient id="s33" gradientUnits="userSpaceOnUse" x1="454.4" x2="29.5" spreadMethod="reflect"><stop offset="0" stop-color="#3f00c8"/><stop offset=".199" stop-color="#3f00c8"/><stop offset=".293" stop-color="#3f00c9"/><stop offset=".363" stop-color="#3f00ca"/><stop offset=".422" stop-color="#3e00cb"/><stop offset=".469" stop-color="#3e00cc"/><stop offset=".505" stop-color="#3e00cd"/><stop offset=".533" stop-color="#3d00ce"/><stop offset=".556" stop-color="#3800d3"/><stop offset=".575" stop-color="#2901e2"/><stop offset=".589" stop-color="#131df2"/><stop offset=".601" stop-color="#0043f5"/><stop offset=".61" stop-color="#0063dd"/><stop offset=".618" stop-color="#0069d7"/><stop offset=".625" stop-color="#0060e0"/><stop offset=".632" stop-color="#004cef"/><stop offset=".639" stop-color="#0337f9"/><stop offset=".648" stop-color="#0e25f5"/><stop offset=".66" stop-color="#1716f1"/><stop offset=".674" stop-color="#1e0aee"/><stop offset=".693" stop-color="#2306e8"/><stop offset=".716" stop-color="#2603e5"/><stop offset=".752" stop-color="#2702e4"/><stop offset=".799" stop-color="#2802e4"/><stop offset="1" stop-color="#2802e4"/></linearGradient>
<linearGradient id="s34" gradientUnits="userSpaceOnUse" x1="454.4" x2="29.5" spreadMethod="reflect"><stop offset="0" stop-color="#3e00ca"/><stop offset=".199" stop-color="#3e00ca"/><stop offset=".293" stop-color="#3e00cb"/><stop offset=".363" stop-color="#3e00cc"/><stop offset=".422" stop-color="#3e00cd"/><stop offset=".469" stop-color="#3e00cd"/><stop offset=".505" stop-color="#3d00ce"/><stop offset=".533" stop-color="#3c00cf"/><stop offset=".556" stop-color="#3700d4"/><stop offset=".575" stop-color="#2702e4"/><stop offset=".589" stop-color="#1021f3"/><stop offset=".601" stop-color="#004bef"/><stop offset=".61" stop-color="#006ad6"/><stop offset=".618" stop-color="#006fd1"/><stop offset=".625" stop-color="#0065db"/><stop offset=".632" stop-color="#0050ec"/><stop offset=".639" stop-color="#0239f9"/><stop offset=".648" stop-color="#0d26f5"/><stop offset=".66" stop-color="#1716f1"/><stop offset=".674" stop-color="#1e0bee"/><stop offset=".693" stop-color="#2206e9"/><stop offset=".716" stop-color="#2504e6"/><stop offset=".752" stop-color="#2603e5"/><stop offset="1" stop-color="#2603e5"/></linearGradient>
<linearGradient id="s35" gradientUnits="userSpaceOnUse" x1="454.4" x2="29.5" spreadMethod="reflect"><stop offset="0" stop-color="#3e00cc"/><stop offset=".199" stop-color="#3e00cc"/><stop offset=".293" stop-color="#3e00cd"/><stop offset=".363" stop-color="#3e00cd"/><stop offset=".422" stop-color="#3d00ce"/><stop offset=".469" stop-color="#3c00cf"/><stop offset=".505" stop-color="#3c00cf"/><stop offset=".533" stop-color="#3a00d1"/><stop offset=".556" stop-color="#3600d5"/><stop offset=".575" stop-color="#2603e5"/><stop offset=".589" stop-color="#0f22f4"/><stop offset=".601" stop-color="#004dee"/><stop offset=".61" stop-color="#006bd5"/><stop offset=".618" stop-color="#0070d0"/><stop offset=".625" stop-color="#0065db"/><stop offset=".632" stop-color="#004fec"/><stop offset=".639" stop-color="#0238f9"/><stop offset=".648" stop-color="#0e25f5"/><stop offset=".66" stop-color="#1715f1"/><stop offset=".674" stop-color="#1e0bee"/><stop offset=".693" stop-color="#2207ea"/><stop offset=".716" stop-color="#2504e7"/><stop offset=".752" stop-color="#2604e6"/><stop offset="1" stop-color="#2604e6"/></linearGradient>
<linearGradient id="s36" gradientUnits="userSpaceOnUse" x1="454.4" x2="29.5" spreadMethod="reflect"><stop offset="0" stop-color="#3d00ce"/><stop offset=".293" stop-color="#3d00ce"/><stop offset=".363" stop-color="#3c00cf"/><stop offset=".422" stop-color="#3c00cf"/><stop offset=".469" stop-color="#3b00d0"/><stop offset=".505" stop-color="#3a00d1"/><stop offset=".533" stop-color="#3900d2"/><stop offset=".556" stop-color="#3500d6"/><stop offset=".575" stop-color="#2603e5"/><stop offset=".589" stop-color="#1021f3"/><stop offset=".601" stop-color="#0049f1"/><stop offset=".61" stop-color="#0066da"/><stop offset=".618" stop-color="#006ad6"/><stop offset=".625" stop-color="#005fe1"/><stop offset=".632" stop-color="#0049f1"/><stop offset=".639" stop-color="#0435f8"/><stop offset=".648" stop-color="#0f22f4"/><stop offset=".66" stop-color="#1913f0"/><stop offset=".674" stop-color="#1f09ed"/><stop offset=".693" stop-color="#2306e9"/><stop offset=".716" stop-color="#2504e6"/><stop offset=".752" stop-color="#2604e6"/><stop offset=".799" stop-color="#2603e6"/><stop offset="1" stop-color="#2603e6"/></linearGradient>
<linearGradient id="s37" gradientUnits="userSpaceOnUse" x1="454.4" x2="29.5" spreadMethod="reflect"><stop offset="0" stop-color="#3c00cf"/><stop offset=".293" stop-color="#3c00cf"/><stop offset=".363" stop-color="#3b00d0"/><stop offset=".422" stop-color="#3b00d0"/><stop offset=".469" stop-color="#3a00d1"/><stop offset=".505" stop-color="#3900d2"/><stop offset=".533" stop-color="#3800d3"/><stop offset=".556" stop-color="#3400d7"/><stop offset=".575" stop-color="#2703e5"/><stop offset=".589" stop-color="#131df3"/><stop offset=".601" stop-color="#003ff8"/><stop offset=".61" stop-color="#005be4"/><stop offset=".618" stop-color="#0060e0"/><stop offset=".625" stop-color="#0054e9"/><stop offset=".632" stop-color="#0040f7"/><stop offset=".639" stop-color="#0730f7"/><stop offset=".648" stop-color="#121ef3"/><stop offset=".66" stop-color="#1a10ef"/><stop offset=".674" stop-color="#2009ec"/><stop offset=".693" stop-color="#2306e8"/><stop offset=".716" stop-color="#2504e6"/><stop offset=".752" stop-color="#2603e6"/><stop offset=".799" stop-color="#2603e5"/><stop offset="1" stop-color="#2603e5"/></linearGradient>
<linearGradient id="s38" gradientUnits="userSpaceOnUse" x1="454.4" x2="29.5" spreadMethod="reflect"><stop offset="0" stop-color="#3b00d0"/><stop offset=".199" stop-color="#3b00d0"/><stop offset=".293" stop-color="#3a00d1"/><stop offset=".363" stop-color="#3a00d1"/><stop offset=".422" stop-color="#3900d2"/><stop offset=".469" stop-color="#3900d2"/><stop offset=".505" stop-color="#3800d3"/><stop offset=".533" stop-color="#3700d4"/><stop offset=".556" stop-color="#3400d7"/><stop offset=".575" stop-color="#2802e3"/><stop offset=".589" stop-color="#1617f1"/><stop offset=".601" stop-color="#0435f8"/><stop offset=".61" stop-color="#004cee"/><stop offset=".618" stop-color="#0051eb"/><stop offset=".625" stop-color="#0046f3"/><stop offset=".632" stop-color="#0337f9"/><stop offset=".639" stop-color="#0b29f6"/><stop offset=".648" stop-color="#141af2"/><stop offset=".66" stop-color="#1c0eef"/><stop offset=".674" stop-color="#2008eb"/><stop offset=".693" stop-color="#2405e8"/><stop offset=".716" stop-color="#2504e6"/><stop offset=".752" stop-color="#2603e6"/><stop offset=".799" stop-color="#2603e5"/><stop offset="1" stop-color="#2603e5"/></linearGradient>
<linearGradient id="s39" gradientUnits="userSpaceOnUse" x1="454.4" x2="29.5" spreadMethod="reflect"><stop offset="0" stop-color="#3a00d1"/><stop offset=".199" stop-color="#3a00d1"/><stop offset=".293" stop-color="#3900d2"/><stop offset=".363" stop-color="#3900d2"/><stop offset=".422" stop-color="#3800d3"/><stop offset=".469" stop-color="#3800d3"/><stop offset=".505" stop-color="#3700d4"/><stop offset=".533" stop-color="#3700d4"/><stop offset=".556" stop-color="#3400d7"/><stop offset=".575" stop-color="#2900e2"/><stop offset=".589" stop-color="#1a11f0"/><stop offset=".601" stop-color="#0a2bf6"/><stop offset=".61" stop-color="#013bfa"/><stop offset=".618" stop-color="#003ff8"/><stop offset=".625" stop-color="#0238f9"/><stop offset=".632" stop-color="#092ef7"/><stop offset=".639" stop-color="#0f22f4"/><stop offset=".648" stop-color="#1716f1"/><stop offset=".66" stop-color="#1d0bee"/><stop offset=".674" stop-color="#2107ea"/><stop offset=".693" stop-color="#2405e8"/><stop offset=".716" stop-color="#2504e6"/><stop offset=".752" stop-color="#2603e6"/><stop offset=".799" stop-color="#2603e5"/><stop offset="1" stop-color="#2603e5"/></linearGradient>
<linearGradient id="s40" gradientUnits="userSpaceOnUse" x1="454.4" x2="29.5" spreadMethod="reflect"><stop offset="0" stop-color="#3900d2"/><stop offset=".104" stop-color="#3900d2"/><stop offset=".199" stop-color="#3800d3"/><stop offset=".422" stop-color="#3800d3"/><stop offset=".469" stop-color="#3700d4"/><stop offset=".505" stop-color="#3700d4"/><stop offset=".533" stop-color="#3600d5"/><stop offset=".556" stop-color="#3400d7"/><stop offset=".575" stop-color="#2b00e0"/><stop offset=".589" stop-color="#1e0aee"/><stop offset=".601" stop-color="#1120f3"/><stop offset=".61" stop-color="#082ef7"/><stop offset=".618" stop-color="#0632f8"/><stop offset=".625" stop-color="#092df6"/><stop offset=".632" stop-color="#0e25f4"/><stop offset=".639" stop-color="#131cf2"/><stop offset=".648" stop-color="#1a11f0"/><stop offset=".66" stop-color="#1f09ed"/><stop offset=".674" stop-color="#2207ea"/><stop offset=".693" stop-color="#2405e7"/><stop offset=".716" stop-color="#2504e6"/><stop offset=".752" stop-color="#2604e6"/><stop offset=".799" stop-color="#2603e6"/><stop offset="1" stop-color="#2603e6"/></linearGradient>
<linearGradient id="s41" gradientUnits="userSpaceOnUse" x1="454.4" x2="29.5" spreadMethod="reflect"><stop offset="0" stop-color="#3800d3"/><stop offset=".293" stop-color="#3800d3"/><stop offset=".363" stop-color="#3700d4"/><stop offset=".422" stop-color="#3700d4"/><stop offset=".469" stop-color="#3600d5"/><stop offset=".505" stop-color="#3600d5"/><stop offset=".533" stop-color="#3500d6"/><stop offset=".556" stop-color="#3300d8"/><stop offset=".575" stop-color="#2d00de"/><stop offset=".589" stop-color="#2206e9"/><stop offset=".601" stop-color="#1715f1"/><stop offset=".61" stop-color="#0f22f4"/><stop offset=".618" stop-color="#0d26f5"/><stop offset=".625" stop-color="#0f23f4"/><stop offset=".632" stop-color="#131cf2"/><stop offset=".639" stop-color="#1715f1"/><stop offset=".648" stop-color="#1c0def"/><stop offset=".66" stop-color="#2008ec"/><stop offset=".674" stop-color="#2306e9"/><stop offset=".693" stop-color="#2405e7"/><stop offset=".716" stop-color="#2504e6"/><stop offset=".752" stop-color="#2604e6"/><stop offset="1" stop-color="#2604e6"/></linearGradient>
<linearGradient id="s42" gradientUnits="userSpaceOnUse" x1="454.4" x2="29.5" spreadMethod="reflect"><stop offset="0" stop-color="#3700d4"/><stop offset=".363" stop-color="#3700d4"/><stop offset=".422" stop-color="#3600d5"/><stop offset=".469" stop-color="#3600d5"/><stop offset=".505" stop-color="#3500d6"/><stop offset=".533" stop-color="#3500d6"/><stop offset=".556" stop-color="#3300d8"/><stop offset=".575" stop-color="#2e00dd"/><stop offset=".589" stop-color="#2604e6"/><stop offset=".601" stop-color="#1d0cef"/><stop offset=".61" stop-color="#1618f1"/><stop offset=".618" stop-color="#131cf2"/><stop offset=".625" stop-color="#151af2"/><stop offset=".632" stop-color="#1815f1"/><stop offset=".639" stop-color="#1b0fef"/><stop offset=".648" stop-color="#1e0aee"/><stop offset=".66" stop-color="#2107ea"/><stop offset=".674" stop-color="#2306e8"/><stop offset=".693" stop-color="#2505e7"/><stop offset=".716" stop-color="#2504e6"/><stop offset=".752" stop-color="#2604e6"/><stop offset="1" stop-color="#2604e6"/></linearGradient>
<linearGradient id="s43" gradientUnits="userSpaceOnUse" x1="454.4" x2="29.5" spreadMethod="reflect"><stop offset="0" stop-color="#3600d5"/><stop offset=".363" stop-color="#3600d5"/><stop offset=".422" stop-color="#3500d6"/><stop offset=".505" stop-color="#3500d6"/><stop offset=".533" stop-color="#3400d7"/><stop offset=".556" stop-color="#3300d8"/><stop offset=".575" stop-color="#2f00dc"/><stop offset=".589" stop-color="#2801e3"/><stop offset=".601" stop-color="#2107eb"/><stop offset=".61" stop-color="#1b0fef"/><stop offset=".618" stop-color="#1913f0"/><stop offset=".625" stop-color="#1912f0"/><stop offset=".632" stop-color="#1b0eef"/><stop offset=".639" stop-color="#1e0bee"/><stop offset=".648" stop-color="#2008ec"/><stop offset=".66" stop-color="#2206e9"/><stop offset=".674" stop-color="#2405e8"/><stop offset=".693" stop-color="#2504e7"/><stop offset=".716" stop-color="#2504e6"/><stop offset=".752" stop-color="#2604e6"/><stop offset="1" stop-color="#2604e6"/></linearGradient>
<linearGradient id="s44" gradientUnits="userSpaceOnUse" x1="454.4" x2="29.5" spreadMethod="reflect"><stop offset="0" stop-color="#3600d5"/><stop offset=".199" stop-color="#3600d5"/><stop offset=".293" stop-color="#3500d6"/><stop offset=".422" stop-color="#3500d6"/><stop offset=".469" stop-color="#3400d7"/><stop offset=".505" stop-color="#3400d7"/><stop offset=".533" stop-color="#3300d8"/><stop offset=".556" stop-color="#3200d9"/><stop offset=".575" stop-color="#2f00dc"/><stop offset=".589" stop-color="#2b00e0"/><stop offset=".601" stop-color="#2405e7"/><stop offset=".61" stop-color="#1f09ed"/><stop offset=".618" stop-color="#1d0cef"/><stop offset=".625" stop-color="#1d0cee"/><stop offset=".632" stop-color="#1e0aee"/><stop offset=".639" stop-color="#2009ec"/><stop offset=".648" stop-color="#2107ea"/><stop offset=".66" stop-color="#2306e9"/><stop offset=".674" stop-color="#2405e8"/><stop offset=".693" stop-color="#2504e7"/><stop offset=".716" stop-color="#2504e6"/><stop offset="1" stop-color="#2504e6"/></linearGradient>
<linearGradient id="s45" gradientUnits="userSpaceOnUse" x1="454.4" x2="29.5" spreadMethod="reflect"><stop offset="0" stop-color="#3500d6"/><stop offset=".293" stop-color="#3500d6"/><stop offset=".363" stop-color="#3400d7"/><stop offset=".469" stop-color="#3400d7"/><stop offset=".505" stop-color="#3300d8"/><stop offset=".533" stop-color="#3300d8"/><stop offset=".556" stop-color="#3200d9"/><stop offset=".575" stop-color="#3000db"/><stop offset=".589" stop-color="#2c00df"/><stop offset=".601" stop-color="#2703e4"/><stop offset=".61" stop-color="#2207ea"/><stop offset=".618" stop-color="#2009ec"/><stop offset=".625" stop-color="#1f09ec"/><stop offset=".632" stop-color="#2008eb"/><stop offset=".639" stop-color="#2107ea"/><stop offset=".648" stop-color="#2206e9"/><stop offset=".66" stop-color="#2305e8"/><stop offset=".674" stop-color="#2405e7"/><stop offset=".693" stop-color="#2504e7"/><stop offset=".716" stop-color="#2504e6"/><stop offset="1" stop-color="#2504e6"/></linearGradient>
<linearGradient id="s46" gradientUnits="userSpaceOnUse" x1="454.4" x2="29.5" spreadMethod="reflect"><stop offset="0" stop-color="#3400d7"/><stop offset=".363" stop-color="#3400d7"/><stop offset=".422" stop-color="#3300d8"/><stop offset=".469" stop-color="#3300d8"/><stop offset=".505" stop-color="#3200d9"/><stop offset=".533" stop-color="#3200d9"/><stop offset=".556" stop-color="#3100da"/><stop offset=".575" stop-color="#3000db"/><stop offset=".589" stop-color="#2d00de"/><stop offset=".601" stop-color="#2801e3"/><stop offset=".61" stop-color="#2405e7"/><stop offset=".618" stop-color="#2207ea"/><stop offset=".632" stop-color="#2207ea"/><stop offset=".639" stop-color="#2306e9"/><stop offset=".648" stop-color="#2305e8"/><stop offset=".66" stop-color="#2405e7"/><stop offset=".674" stop-color="#2505e7"/><stop offset=".693" stop-color="#2504e6"/><stop offset="1" stop-color="#2504e6"/></linearGradient>
<linearGradient id="s47" gradientUnits="userSpaceOnUse" x1="454.4" x2="29.5" spreadMethod="reflect"><stop offset="0" stop-color="#3400d7"/><stop offset=".104" stop-color="#3300d8"/><stop offset=".422" stop-color="#3300d8"/><stop offset=".469" stop-color="#3200d9"/><stop offset=".505" stop-color="#3200d9"/><stop offset=".533" stop-color="#3100da"/><stop offset=".556" stop-color="#3100da"/><stop offset=".575" stop-color="#3000db"/><stop offset=".589" stop-color="#2e00dd"/><stop offset=".601" stop-color="#2a00e1"/><stop offset=".61" stop-color="#2604e6"/><stop offset=".618" stop-color="#2305e8"/><stop offset=".625" stop-color="#2306e8"/><stop offset=".632" stop-color="#2306e8"/><stop offset=".639" stop-color="#2405e8"/><stop offset=".648" stop-color="#2405e7"/><stop offset=".66" stop-color="#2505e7"/><stop offset=".674" stop-color="#2504e7"/><stop offset=".693" stop-color="#2504e6"/><stop offset=".752" stop-color="#2504e6"/><stop offset=".799" stop-color="#2604e6"/><stop offset="1" stop-color="#2604e6"/></linearGradient>
<linearGradient id="s48" gradientUnits="userSpaceOnUse" x1="454.4" x2="29.5" spreadMethod="reflect"><stop offset="0" stop-color="#3300d8"/><stop offset=".199" stop-color="#3300d8"/><stop offset=".293" stop-color="#3200d9"/><stop offset=".422" stop-color="#3200d9"/><stop offset=".469" stop-color="#3100da"/><stop offset=".533" stop-color="#3100da"/><stop offset=".556" stop-color="#3000db"/><stop offset=".575" stop-color="#3000db"/><stop offset=".589" stop-color="#2e00dd"/><stop offset=".601" stop-color="#2a00e1"/><stop offset=".61" stop-color="#2703e5"/><stop offset=".618" stop-color="#2505e7"/><stop offset=".625" stop-color="#2405e7"/><stop offset=".639" stop-color="#2405e7"/><stop offset=".648" stop-color="#2504e7"/><stop offset=".66" stop-color="#2504e6"/><stop offset=".693" stop-color="#2504e6"/><stop offset=".716" stop-color="#2604e6"/><stop offset="1" stop-color="#2604e6"/></linearGradient>
<linearGradient id="s49" gradientUnits="userSpaceOnUse" x1="454.4" x2="29.5" spreadMethod="reflect"><stop offset="0" stop-color="#3200d9"/><stop offset=".293" stop-color="#3200d9"/><stop offset=".363" stop-color="#3100da"/><stop offset=".469" stop-color="#3100da"/><stop offset=".505" stop-color="#3000db"/><stop offset=".556" stop-color="#3000db"/><stop offset=".575" stop-color="#2f00dc"/><stop offset=".589" stop-color="#2e00dd"/><stop offset=".601" stop-color="#2b00e0"/><stop offset=".61" stop-color="#2702e4"/><stop offset=".618" stop-color="#2504e6"/><stop offset=".625" stop-color="#2504e7"/><stop offset=".632" stop-color="#2504e7"/><stop offset=".639" stop-color="#2504e6"/><stop offset=".674" stop-color="#2504e6"/><stop offset=".693" stop-color="#2604e6"/><stop offset="1" stop-color="#2604e6"/></linearGradient>
<linearGradient id="s50" gradientUnits="userSpaceOnUse" x1="454.4" x2="29.5" spreadMethod="reflect"><stop offset="0" stop-color="#3100da"/><stop offset=".422" stop-color="#3100da"/><stop offset=".469" stop-color="#3000db"/><stop offset=".556" stop-color="#3000db"/><stop offset=".575" stop-color="#2f00dc"/><stop offset=".589" stop-color="#2e00dd"/><stop offset=".601" stop-color="#2b00e0"/><stop offset=".61" stop-color="#2802e4"/><stop offset=".618" stop-color="#2604e6"/><stop offset=".625" stop-color="#2504e6"/><stop offset=".66" stop-color="#2504e6"/><stop offset=".674" stop-color="#2604e6"/><stop offset="1" stop-color="#2604e6"/></linearGradient>
<linearGradient id="s51" gradientUnits="userSpaceOnUse" x1="454.4" x2="29.5" spreadMethod="reflect"><stop offset="0" stop-color="#3100da"/><stop offset=".199" stop-color="#3100da"/><stop offset=".293" stop-color="#3000db"/><stop offset=".533" stop-color="#3000db"/><stop offset=".556" stop-color="#2f00dc"/><stop offset=".575" stop-color="#2f00dc"/><stop offset=".589" stop-color="#2e00dd"/><stop offset=".601" stop-color="#2b00e0"/><stop offset=".61" stop-color="#2802e3"/><stop offset=".618" stop-color="#2603e5"/><stop offset=".625" stop-color="#2504e6"/><stop offset=".632" stop-color="#2504e6"/><stop offset=".639" stop-color="#2604e6"/><stop offset=".693" stop-color="#2604e6"/><stop offset=".716" stop-color="#2603e6"/><stop offset="1" stop-color="#2603e6"/></linearGradient>
<linearGradient id="s52" gradientUnits="userSpaceOnUse" x1="454.4" x2="189" spreadMethod="reflect"><stop offset="0" stop-color="#3000db"/><stop offset=".838" stop-color="#2f00dc"/><stop offset=".906" stop-color="#2f00dc"/><stop offset=".932" stop-color="#2e00dd"/><stop offset=".955" stop-color="#2c00df"/><stop offset=".974" stop-color="#2901e2"/><stop offset=".989" stop-color="#2603e5"/><stop offset="1" stop-color="#2604e6"/></linearGradient>
<linearGradient id="s53" gradientUnits="userSpaceOnUse" x1="454.4" x2="189" spreadMethod="reflect"><stop offset="0" stop-color="#2f00dc"/><stop offset=".838" stop-color="#2e00dd"/><stop offset=".906" stop-color="#2e00dd"/><stop offset=".932" stop-color="#2d00de"/><stop offset=".955" stop-color="#2c00df"/><stop offset=".974" stop-color="#2801e3"/><stop offset=".989" stop-color="#2603e5"/><stop offset="1" stop-color="#2603e6"/></linearGradient>
<linearGradient id="s54" gradientUnits="userSpaceOnUse" x1="454.4" x2="189" spreadMethod="reflect"><stop offset="0" stop-color="#2e00dd"/><stop offset=".838" stop-color="#2d00de"/><stop offset=".906" stop-color="#2d00de"/><stop offset=".932" stop-color="#2c00df"/><stop offset=".955" stop-color="#2b00e0"/><stop offset=".974" stop-color="#2802e3"/><stop offset=".989" stop-color="#2603e5"/><stop offset="1" stop-color="#2604e6"/></linearGradient>
<linearGradient id="s55" gradientUnits="userSpaceOnUse" x1="454.4" x2="189" spreadMethod="reflect"><stop offset="0" stop-color="#2d00de"/><stop offset=".838" stop-color="#2c00df"/><stop offset=".932" stop-color="#2c00df"/><stop offset=".955" stop-color="#2a00e1"/><stop offset=".974" stop-color="#2802e3"/><stop offset=".989" stop-color="#2603e5"/><stop offset="1" stop-color="#2604e6"/></linearGradient>
<linearGradient id="s56" gradientUnits="userSpaceOnUse" x1="454.4" x2="189" spreadMethod="reflect"><stop offset="0" stop-color="#2c00df"/><stop offset=".838" stop-color="#2b00e0"/><stop offset=".932" stop-color="#2b00e0"/><stop offset=".955" stop-color="#2a00e1"/><stop offset=".974" stop-color="#2802e3"/><stop offset=".989" stop-color="#2603e5"/><stop offset="1" stop-color="#2603e5"/></linearGradient>
<linearGradient id="s57" gradientUnits="userSpaceOnUse" x1="454.4" x2="189" spreadMethod="reflect"><stop offset="0" stop-color="#2c00df"/><stop offset=".838" stop-color="#2b00e0"/><stop offset=".932" stop-color="#2b00e0"/><stop offset=".955" stop-color="#2a00e1"/><stop offset=".974" stop-color="#2802e3"/><stop offset=".989" stop-color="#2703e5"/><stop offset="1" stop-color="#2703e5"/></linearGradient>
<linearGradient id="s58" gradientUnits="userSpaceOnUse" x1="454.4" x2="189" spreadMethod="reflect"><stop offset="0" stop-color="#2b00e0"/><stop offset=".932" stop-color="#2b00e0"/><stop offset=".955" stop-color="#2a00e1"/><stop offset=".974" stop-color="#2801e3"/><stop offset=".989" stop-color="#2702e4"/><stop offset="1" stop-color="#2703e4"/></linearGradient>
<linearGradient id="s59" gradientUnits="userSpaceOnUse" x1="454.4" x2="189" spreadMethod="reflect"><stop offset="0" stop-color="#2b00e0"/><stop offset=".932" stop-color="#2b00e0"/><stop offset=".955" stop-color="#2a00e1"/><stop offset=".974" stop-color="#2801e3"/><stop offset=".989" stop-color="#2702e4"/><stop offset="1" stop-color="#2702e4"/></linearGradient>
<linearGradient id="s60" gradientUnits="userSpaceOnUse" x1="454.4" x2="189" spreadMethod="reflect"><stop offset="0" stop-color="#2b00e0"/><stop offset=".906" stop-color="#2b00e0"/><stop offset=".932" stop-color="#2a00e1"/><stop offset=".955" stop-color="#2a00e1"/><stop offset=".974" stop-color="#2801e3"/><stop offset=".989" stop-color="#2702e4"/><stop offset="1" stop-color="#2702e4"/></linearGradient>
<linearGradient id="s61" gradientUnits="userSpaceOnUse" x1="454.4" x2="189" spreadMethod="reflect"><stop offset="0" stop-color="#2b00e0"/><stop offset=".838" stop-color="#2b00e0"/><stop offset=".876" stop-color="#2a00e1"/><stop offset=".955" stop-color="#2a00e1"/><stop offset=".974" stop-color="#2901e3"/><stop offset=".989" stop-color="#2802e4"/><stop offset="1" stop-color="#2702e4"/></linearGradient>
<linearGradient id="s62" gradientUnits="userSpaceOnUse" x1="454.4" x2="189" spreadMethod="reflect"><stop offset="0" stop-color="#2b00e0"/><stop offset=".838" stop-color="#2a00e1"/><stop offset=".955" stop-color="#2a00e1"/><stop offset=".974" stop-color="#2901e3"/><stop offset=".989" stop-color="#2802e3"/><stop offset="1" stop-color="#2802e4"/></linearGradient>
<linearGradient id="s63" gradientUnits="userSpaceOnUse" x1="454.4" x2="189" spreadMethod="reflect"><stop offset="0" stop-color="#2a00e1"/><stop offset=".955" stop-color="#2a00e1"/><stop offset=".974" stop-color="#2901e3"/><stop offset=".989" stop-color="#2802e3"/><stop offset="1" stop-color="#2802e3"/></linearGradient>
<linearGradient id="s64" gradientUnits="userSpaceOnUse" x1="454.4" x2="189" spreadMethod="reflect"><stop offset="0" stop-color="#2a00e1"/><stop offset=".955" stop-color="#2a00e1"/><stop offset=".974" stop-color="#2901e2"/><stop offset=".989" stop-color="#2802e3"/><stop offset="1" stop-color="#2802e3"/></linearGradient>
<linearGradient id="s65" gradientUnits="userSpaceOnUse" x1="454.4" x2="189" spreadMethod="reflect"><stop offset="0" stop-color="#2a00e1"/><stop offset=".955" stop-color="#2a00e1"/><stop offset=".974" stop-color="#2901e2"/><stop offset=".989" stop-color="#2801e3"/><stop offset="1" stop-color="#2802e3"/></linearGradient>
<linearGradient id="s66" gradientUnits="userSpaceOnUse" x1="454.4" x2="189" spreadMethod="reflect"><stop offset="0" stop-color="#2a00e1"/><stop offset=".955" stop-color="#2a00e1"/><stop offset=".974" stop-color="#2901e2"/><stop offset=".989" stop-color="#2801e3"/><stop offset="1" stop-color="#2801e3"/></linearGradient>
<linearGradient id="s67" gradientUnits="userSpaceOnUse" x1="454.4" x2="189" spreadMethod="reflect"><stop offset="0" stop-color="#2a00e1"/><stop offset=".955" stop-color="#2a00e1"/><stop offset=".974" stop-color="#2901e2"/><stop offset=".989" stop-color="#2901e2"/><stop offset="1" stop-color="#2901e3"/></linearGradient>
<linearGradient id="s68" gradientUnits="userSpaceOnUse" x1="454.4" x2="189" spreadMethod="reflect"><stop offset="0" stop-color="#2a00e1"/><stop offset=".955" stop-color="#2a00e1"/><stop offset=".974" stop-color="#2901e2"/><stop offset="1" stop-color="#2901e2"/></linearGradient>
<linearGradient id="s69" gradientUnits="userSpaceOnUse" x1="454.4" x2="189" spreadMethod="reflect"><stop offset="0" stop-color="#2a00e1"/><stop offset=".955" stop-color="#2a00e1"/><stop offset=".974" stop-color="#2901e2"/><stop offset="1" stop-color="#2901e2"/></linearGradient>
<linearGradient id="s70" gradientUnits="userSpaceOnUse" x1="454.4" x2="189" spreadMethod="reflect"><stop offset="0" stop-color="#2a00e1"/><stop offset=".955" stop-color="#2a00e1"/><stop offset=".974" stop-color="#2901e2"/><stop offset="1" stop-color="#2901e2"/></linearGradient>
<linearGradient id="s71" gradientUnits="userSpaceOnUse" x1="454.4" x2="189" spreadMethod="reflect"><stop offset="0" stop-color="#2a00e1"/><stop offset=".955" stop-color="#2a00e1"/><stop offset=".974" stop-color="#2900e2"/><stop offset=".989" stop-color="#2901e2"/><stop offset="1" stop-color="#2901e2"/></linearGradient>
<linearGradient id="s72" gradientUnits="userSpaceOnUse" x1="189" x2="720"><stop offset="0" stop-color="#2a00e1"/><stop offset=".25" stop-color="#2a00e1"/><stop offset=".312" stop-color="#2b00e0"/><stop offset=".5" stop-color="#2b00e0"/><stop offset=".562" stop-color="#2a00e1"/><stop offset="1" stop-color="#2a00e1"/></linearGradient>
<linearGradient id="s73" gradientUnits="userSpaceOnUse" x1="189" x2="720"><stop offset="0" stop-color="#2a00e1"/><stop offset=".188" stop-color="#2a00e1"/><stop offset=".25" stop-color="#2b00e0"/><stop offset=".562" stop-color="#2b00e0"/><stop offset=".625" stop-color="#2a00e1"/><stop offset="1" stop-color="#2a00e1"/></linearGradient>
<linearGradient id="s74" gradientUnits="userSpaceOnUse" x1="189" x2="720"><stop offset="0" stop-color="#2a00e1"/><stop offset=".188" stop-color="#2a00e1"/><stop offset=".25" stop-color="#2b00e0"/><stop offset=".625" stop-color="#2b00e0"/><stop offset=".688" stop-color="#2a00e1"/><stop offset="1" stop-color="#2a00e1"/></linearGradient>
<linearGradient id="s75" gradientUnits="userSpaceOnUse" x1="189" x2="720"><stop offset="0" stop-color="#2a00e1"/><stop offset=".125" stop-color="#2a00e1"/><stop offset=".188" stop-color="#2b00e0"/><stop offset=".625" stop-color="#2b00e0"/><stop offset=".688" stop-color="#2a00e1"/><stop offset="1" stop-color="#2a00e1"/></linearGradient>
<linearGradient id="s76" gradientUnits="userSpaceOnUse" x1="189" x2="720"><stop offset="0" stop-color="#2a00e1"/><stop offset=".125" stop-color="#2a00e1"/><stop offset=".188" stop-color="#2b00e0"/><stop offset=".688" stop-color="#2b00e0"/><stop offset=".75" stop-color="#2a00e1"/><stop offset="1" stop-color="#2a00e1"/></linearGradient>
<linearGradient id="s77" gradientUnits="userSpaceOnUse" x1="189" x2="720"><stop offset="0" stop-color="#2a00e1"/><stop offset=".062" stop-color="#2a00e1"/><stop offset=".125" stop-color="#2b00e0"/><stop offset=".688" stop-color="#2b00e0"/><stop offset=".75" stop-color="#2a00e1"/><stop offset="1" stop-color="#2a00e1"/></linearGradient>
<linearGradient id="s78" gradientUnits="userSpaceOnUse" x1="189" x2="720"><stop offset="0" stop-color="#2a00e1"/><stop offset=".062" stop-color="#2a00e1"/><stop offset=".125" stop-color="#2b00e0"/><stop offset=".75" stop-color="#2b00e0"/><stop offset=".812" stop-color="#2a00e1"/><stop offset="1" stop-color="#2a00e1"/></linearGradient>
<linearGradient id="s79" gradientUnits="userSpaceOnUse" x1="189" x2="720"><stop offset="0" stop-color="#2a00e1"/><stop offset=".062" stop-color="#2b00e0"/><stop offset=".75" stop-color="#2b00e0"/><stop offset=".812" stop-color="#2a00e1"/><stop offset="1" stop-color="#2a00e1"/></linearGradient>
<linearGradient id="s80" gradientUnits="userSpaceOnUse" x1="189" x2="720"><stop offset="0" stop-color="#2a00e1"/><stop offset=".062" stop-color="#2b00e0"/><stop offset=".75" stop-color="#2b00e0"/><stop offset=".812" stop-color="#2a00e1"/><stop offset="1" stop-color="#2a00e1"/></linearGradient>
<linearGradient id="s81" gradientUnits="userSpaceOnUse" x1="189" x2="720"><stop offset="0" stop-color="#2a00e1"/><stop offset=".062" stop-color="#2b00e0"/><stop offset=".812" stop-color="#2b00e0"/><stop offset=".875" stop-color="#2a00e1"/><stop offset="1" stop-color="#2a00e1"/></linearGradient>
<linearGradient id="s82" gradientUnits="userSpaceOnUse" x1="189" x2="720"><stop offset="0" stop-color="#2a00e1"/><stop offset=".062" stop-color="#2b00e0"/><stop offset=".312" stop-color="#2b00e0"/><stop offset=".375" stop-color="#2c00df"/><stop offset=".5" stop-color="#2c00df"/><stop offset=".562" stop-color="#2b00e0"/><stop offset=".812" stop-color="#2b00e0"/><stop offset=".875" stop-color="#2a00e1"/><stop offset="1" stop-color="#2a00e1"/></linearGradient>
<linearGradient id="s83" gradientUnits="userSpaceOnUse" x1="189" x2="720"><stop offset="0" stop-color="#2b00e0"/><stop offset=".25" stop-color="#2b00e0"/><stop offset=".312" stop-color="#2c00df"/><stop offset=".562" stop-color="#2c00df"/><stop offset=".625" stop-color="#2b00e0"/><stop offset=".812" stop-color="#2b00e0"/><stop offset=".875" stop-color="#2a00e1"/><stop offset="1" stop-color="#2a00e1"/></linearGradient>
<linearGradient id="s84" gradientUnits="userSpaceOnUse" x1="189" x2="720"><stop offset="0" stop-color="#2b00e0"/><stop offset=".188" stop-color="#2b00e0"/><stop offset=".25" stop-color="#2c00df"/><stop offset=".562" stop-color="#2c00df"/><stop offset=".625" stop-color="#2b00e0"/><stop offset=".812" stop-color="#2b00e0"/><stop offset=".875" stop-color="#2a00e1"/><stop offset="1" stop-color="#2a00e1"/></linearGradient>
<linearGradient id="s85" gradientUnits="userSpaceOnUse" x1="189" x2="720"><stop offset="0" stop-color="#2b00e0"/><stop offset=".125" stop-color="#2b00e0"/><stop offset=".188" stop-color="#2c00df"/><stop offset=".625" stop-color="#2c00df"/><stop offset=".688" stop-color="#2b00e0"/><stop offset=".875" stop-color="#2b00e0"/><stop offset=".938" stop-color="#2a00e1"/><stop offset="1" stop-color="#2a00e1"/></linearGradient>
<linearGradient id="s86" gradientUnits="userSpaceOnUse" x1="189" x2="720"><stop offset="0" stop-color="#2b00e0"/><stop offset=".125" stop-color="#2b00e0"/><stop offset=".188" stop-color="#2c00df"/><stop offset=".625" stop-color="#2c00df"/><stop offset=".688" stop-color="#2b00e0"/><stop offset=".875" stop-color="#2b00e0"/><stop offset=".938" stop-color="#2a00e1"/><stop offset="1" stop-color="#2a00e1"/></linearGradient>
<linearGradient id="s87" gradientUnits="userSpaceOnUse" x1="189" x2="720"><stop offset="0" stop-color="#2b00e0"/><stop offset=".125" stop-color="#2b00e0"/><stop offset=".188" stop-color="#2c00df"/><stop offset=".312" stop-color="#2c00df"/><stop offset=".375" stop-color="#2d00de"/><stop offset=".438" stop-color="#2d00de"/><stop offset=".5" stop-color="#2c00df"/><stop offset=".688" stop-color="#2c00df"/><stop offset=".75" stop-color="#2b00e0"/><stop offset=".875" stop-color="#2b00e0"/><stop offset=".938" stop-color="#2a00e1"/><stop offset="1" stop-color="#2a00e1"/></linearGradient>
<linearGradient id="s88" gradientUnits="userSpaceOnUse" x1="189" x2="720"><stop offset="0" stop-color="#2b00e0"/><stop offset=".062" stop-color="#2b00e0"/><stop offset=".125" stop-color="#2c00df"/><stop offset=".25" stop-color="#2c00df"/><stop offset=".312" stop-color="#2d00de"/><stop offset=".5" stop-color="#2d00de"/><stop offset=".562" stop-color="#2c00df"/><stop offset=".688" stop-color="#2c00df"/><stop offset=".75" stop-color="#2b00e0"/><stop offset=".875" stop-color="#2b00e0"/><stop offset=".938" stop-color="#2a00e1"/><stop offset="1" stop-color="#2a00e1"/></linearGradient>
<linearGradient id="s89" gradientUnits="userSpaceOnUse" x1="189" x2="720"><stop offset="0" stop-color="#2b00e0"/><stop offset=".062" stop-color="#2b00e0"/><stop offset=".125" stop-color="#2c00df"/><stop offset=".188" stop-color="#2c00df"/><stop offset=".25" stop-color="#2d00de"/><stop offset=".562" stop-color="#2d00de"/><stop offset=".625" stop-color="#2c00df"/><stop offset=".688" stop-color="#2c00df"/><stop offset=".75" stop-color="#2b00e0"/><stop offset=".938" stop-color="#2b00e0"/><stop offset="1" stop-color="#2a00e1"/></linearGradient>
<linearGradient id="s90" gradientUnits="userSpaceOnUse" x1="189" x2="720"><stop offset="0" stop-color="#2b00e0"/><stop offset=".062" stop-color="#2b00e0"/><stop offset=".125" stop-color="#2c00df"/><stop offset=".188" stop-color="#2c00df"/><stop offset=".25" stop-color="#2d00de"/><stop offset=".625" stop-color="#2d00de"/><stop offset=".688" stop-color="#2c00df"/><stop offset=".75" stop-color="#2c00df"/><stop offset=".812" stop-color="#2b00e0"/><stop offset=".938" stop-color="#2b00e0"/><stop offset="1" stop-color="#2a00e1"/></linearGradient>
<linearGradient id="s91" gradientUnits="userSpaceOnUse" x1="189" x2="720"><stop offset="0" stop-color="#2b00e0"/><stop offset=".062" stop-color="#2c00df"/><stop offset=".125" stop-color="#2c00df"/><stop offset=".188" stop-color="#2d00de"/><stop offset=".312" stop-color="#2d00de"/><stop offset=".375" stop-color="#2e00dd"/><stop offset=".5" stop-color="#2e00dd"/><stop offset=".562" stop-color="#2d00de"/><stop offset=".625" stop-color="#2d00de"/><stop offset=".688" stop-color="#2c00df"/><stop offset=".75" stop-color="#2c00df"/><stop offset=".812" stop-color="#2b00e0"/><stop offset=".938" stop-color="#2b00e0"/><stop offset="1" stop-color="#2a00e1"/></linearGradient>
<linearGradient id="s92" gradientUnits="userSpaceOnUse" x1="189" x2="720"><stop offset="0" stop-color="#2b00e0"/><stop offset=".062" stop-color="#2c00df"/><stop offset=".125" stop-color="#2c00df"/><stop offset=".188" stop-color="#2d00de"/><stop offset=".25" stop-color="#2d00de"/><stop offset=".312" stop-color="#2e00dd"/><stop offset=".5" stop-color="#2e00dd"/><stop offset=".562" stop-color="#2d00de"/><stop offset=".625" stop-color="#2d00de"/><stop offset=".688" stop-color="#2c00df"/><stop offset=".75" stop-color="#2c00df"/><stop offset=".812" stop-color="#2b00e0"/><stop offset=".938" stop-color="#2b00e0"/><stop offset="1" stop-color="#2a00e1"/></linearGradient>
<linearGradient id="s93" gradientUnits="userSpaceOnUse" x1="189" x2="720"><stop offset="0" stop-color="#2b00e0"/><stop offset=".062" stop-color="#2c00df"/><stop offset=".125" stop-color="#2c00df"/><stop offset=".188" stop-color="#2d00de"/><stop offset=".25" stop-color="#2e00dd"/><stop offset=".562" stop-color="#2e00dd"/><stop offset=".625" stop-color="#2d00de"/><stop offset=".688" stop-color="#2d00de"/><stop offset=".75" stop-color="#2c00df"/><stop offset=".812" stop-color="#2c00df"/><stop offset=".875" stop-color="#2b00e0"/><stop offset=".938" stop-color="#2b00e0"/><stop offset="1" stop-color="#2a00e1"/></linearGradient>
<linearGradient id="s94" gradientUnits="userSpaceOnUse" x1="189" x2="720"><stop offset="0" stop-color="#2b00e0"/><stop offset=".062" stop-color="#2c00df"/><stop offset=".125" stop-color="#2d00de"/><stop offset=".188" stop-color="#2d00de"/><stop offset=".25" stop-color="#2e00dd"/><stop offset=".312" stop-color="#2e00dd"/><stop offset=".375" stop-color="#2f00dc"/><stop offset=".5" stop-color="#2f00dc"/><stop offset=".562" stop-color="#2e00dd"/><stop offset=".625" stop-color="#2e00dd"/><stop offset=".688" stop-color="#2d00de"/><stop offset=".75" stop-color="#2c00df"/><stop offset=".812" stop-color="#2c00df"/><stop offset=".875" stop-color="#2b00e0"/><stop offset=".938" stop-color="#2b00e0"/><stop offset="1" stop-color="#2a00e1"/></linearGradient>
<linearGradient id="s95" gradientUnits="userSpaceOnUse" x1="189" x2="720"><stop offset="0" stop-color="#2c00df"/><stop offset=".062" stop-color="#2c00df"/><stop offset=".125" stop-color="#2d00de"/><stop offset=".188" stop-color="#2e00dd"/><stop offset=".25" stop-color="#2e00dd"/><stop offset=".312" stop-color="#2f00dc"/><stop offset=".5" stop-color="#2f00dc"/><stop offset=".562" stop-color="#2e00dd"/><stop offset=".625" stop-color="#2e00dd"/><stop offset=".688" stop-color="#2d00de"/><stop offset=".75" stop-color="#2c00df"/><stop offset=".812" stop-color="#2c00df"/><stop offset=".875" stop-color="#2b00e0"/><stop offset="1" stop-color="#2b00e0"/></linearGradient>
<linearGradient id="s96" gradientUnits="userSpaceOnUse" x1="189" x2="720"><stop offset="0" stop-color="#2c00df"/><stop offset=".062" stop-color="#2c00df"/><stop offset=".125" stop-color="#2d00de"/><stop offset=".188" stop-color="#2e00dd"/><stop offset=".25" stop-color="#2f00dc"/><stop offset=".312" stop-color="#2f00dc"/><stop offset=".375" stop-color="#3000db"/><stop offset=".438" stop-color="#3000db"/><stop offset=".5" stop-color="#2f00dc"/><stop offset=".562" stop-color="#2f00dc"/><stop offset=".625" stop-color="#2e00dd"/><stop offset=".688" stop-color="#2d00de"/><stop offset=".75" stop-color="#2d00de"/><stop offset=".812" stop-color="#2c00df"/><stop offset=".875" stop-color="#2b00e0"/><stop offset="1" stop-color="#2b00e0"/></linearGradient>
<linearGradient id="s97" gradientUnits="userSpaceOnUse" x1="189" x2="720"><stop offset="0" stop-color="#2c00df"/><stop offset=".062" stop-color="#2d00de"/><stop offset=".125" stop-color="#2d00de"/><stop offset=".188" stop-color="#2e00dd"/><stop offset=".25" stop-color="#2f00dc"/><stop offset=".312" stop-color="#3000db"/><stop offset=".5" stop-color="#3000db"/><stop offset=".562" stop-color="#2f00dc"/><stop offset=".625" stop-color="#2f00dc"/><stop offset=".688" stop-color="#2e00dd"/><stop offset=".75" stop-color="#2d00de"/><stop offset=".812" stop-color="#2c00df"/><stop offset=".875" stop-color="#2b00e0"/><stop offset="1" stop-color="#2b00e0"/></linearGradient>
<linearGradient id="s98" gradientUnits="userSpaceOnUse" x1="189" x2="720"><stop offset="0" stop-color="#2c00df"/><stop offset=".062" stop-color="#2d00de"/><stop offset=".125" stop-color="#2e00dd"/><stop offset=".188" stop-color="#2f00dc"/><stop offset=".25" stop-color="#2f00dc"/><stop offset=".312" stop-color="#3000db"/><stop offset=".375" stop-color="#3100da"/><stop offset=".438" stop-color="#3100da"/><stop offset=".5" stop-color="#3000db"/><stop offset=".562" stop-color="#3000db"/><stop offset=".625" stop-color="#2f00dc"/><stop offset=".688" stop-color="#2e00dd"/><stop offset=".75" stop-color="#2d00de"/><stop offset=".812" stop-color="#2c00df"/><stop offset=".875" stop-color="#2c00df"/><stop offset=".938" stop-color="#2b00e0"/><stop offset="1" stop-color="#2b00e0"/></linearGradient>
<linearGradient id="s99" gradientUnits="userSpaceOnUse" x1="189" x2="720"><stop offset="0" stop-color="#2c00df"/><stop offset=".062" stop-color="#2d00de"/><stop offset=".125" stop-color="#2e00dd"/><stop offset=".188" stop-color="#2f00dc"/><stop offset=".25" stop-color="#3000db"/><stop offset=".312" stop-color="#3100da"/><stop offset=".5" stop-color="#3100da"/><stop offset=".562" stop-color="#3000db"/><stop offset=".625" stop-color="#2f00dc"/><stop offset=".688" stop-color="#2e00dd"/><stop offset=".75" stop-color="#2d00de"/><stop offset=".812" stop-color="#2c00df"/><stop offset=".875" stop-color="#2c00df"/><stop offset=".938" stop-color="#2b00e0"/><stop offset="1" stop-color="#2b00e0"/></linearGradient>
<linearGradient id="s100" gradientUnits="userSpaceOnUse" x1="189" x2="720"><stop offset="0" stop-color="#2c00df"/><stop offset=".062" stop-color="#2d00de"/><stop offset=".125" stop-color="#2e00dd"/><stop offset=".188" stop-color="#2f00dc"/><stop offset=".25" stop-color="#3000db"/><stop offset=".312" stop-color="#3100da"/><stop offset=".375" stop-color="#3200d9"/><stop offset=".438" stop-color="#3200d9"/><stop offset=".5" stop-color="#3100da"/><stop offset=".562" stop-color="#3100da"/><stop offset=".625" stop-color="#3000db"/><stop offset=".688" stop-color="#2f00dc"/><stop offset=".75" stop-color="#2e00dd"/><stop offset=".812" stop-color="#2d00de"/><stop offset=".875" stop-color="#2c00df"/><stop offset=".938" stop-color="#2b00e0"/><stop offset="1" stop-color="#2b00e0"/></linearGradient>
<linearGradient id="s101" gradientUnits="userSpaceOnUse" x1="189" x2="720"><stop offset="0" stop-color="#2d00de"/><stop offset=".062" stop-color="#2e00dd"/><stop offset=".125" stop-color="#2f00dc"/><stop offset=".188" stop-color="#3000db"/><stop offset=".25" stop-color="#3100da"/><stop offset=".312" stop-color="#3200d9"/><stop offset=".5" stop-color="#3200d9"/><stop offset=".562" stop-color="#3100da"/><stop offset=".625" stop-color="#3000db"/><stop offset=".688" stop-color="#2f00dc"/><stop offset=".75" stop-color="#2e00dd"/><stop offset=".812" stop-color="#2d00de"/><stop offset=".875" stop-color="#2c00df"/><stop offset=".938" stop-color="#2b00e0"/><stop offset="1" stop-color="#2b00e0"/></linearGradient>
<linearGradient id="s102" gradientUnits="userSpaceOnUse" x1="189" x2="720"><stop offset="0" stop-color="#2d00de"/><stop offset=".062" stop-color="#2e00dd"/><stop offset=".125" stop-color="#2f00dc"/><stop offset=".188" stop-color="#3000db"/><stop offset=".25" stop-color="#3100da"/><stop offset=".312" stop-color="#3200d9"/><stop offset=".375" stop-color="#3300d8"/><stop offset=".438" stop-color="#3300d8"/><stop offset=".5" stop-color="#3200d9"/><stop offset=".562" stop-color="#3200d9"/><stop offset=".625" stop-color="#3100da"/><stop offset=".688" stop-color="#2f00dc"/><stop offset=".75" stop-color="#2e00dd"/><stop offset=".812" stop-color="#2d00de"/><stop offset=".875" stop-color="#2c00df"/><stop offset=".938" stop-color="#2b00e0"/><stop offset="1" stop-color="#2b00e0"/></linearGradient>
<linearGradient id="s103" gradientUnits="userSpaceOnUse" x1="189" x2="720"><stop offset="0" stop-color="#2d00de"/><stop offset=".062" stop-color="#2e00dd"/><stop offset=".125" stop-color="#2f00dc"/><stop offset=".188" stop-color="#3100da"/><stop offset=".25" stop-color="#3200d9"/><stop offset=".312" stop-color="#3300d8"/><stop offset=".5" stop-color="#3300d8"/><stop offset=".562" stop-color="#3200d9"/><stop offset=".625" stop-color="#3100da"/><stop offset=".688" stop-color="#3000db"/><stop offset=".75" stop-color="#2f00dc"/><stop offset=".812" stop-color="#2d00de"/><stop offset=".875" stop-color="#2c00df"/><stop offset=".938" stop-color="#2c00df"/><stop offset="1" stop-color="#2b00e0"/></linearGradient>
<linearGradient id="s104" gradientUnits="userSpaceOnUse" x1="189" x2="720"><stop offset="0" stop-color="#2d00de"/><stop offset=".062" stop-color="#2e00dd"/><stop offset=".125" stop-color="#3000db"/><stop offset=".188" stop-color="#3100da"/><stop offset=".25" stop-color="#3200d9"/><stop offset=".312" stop-color="#3300d8"/><stop offset=".375" stop-color="#3400d7"/><stop offset=".5" stop-color="#3400d7"/><stop offset=".562" stop-color="#3300d8"/><stop offset=".625" stop-color="#3200d9"/><stop offset=".688" stop-color="#3000db"/><stop offset=".75" stop-color="#2f00dc"/><stop offset=".812" stop-color="#2e00dd"/><stop offset=".875" stop-color="#2c00df"/><stop offset=".938" stop-color="#2c00df"/><stop offset="1" stop-color="#2b00e0"/></linearGradient>
<linearGradient id="s105" gradientUnits="userSpaceOnUse" x1="189" x2="720"><stop offset="0" stop-color="#2d00de"/><stop offset=".062" stop-color="#2f00dc"/><stop offset=".125" stop-color="#3000db"/><stop offset=".188" stop-color="#3200d9"/><stop offset=".25" stop-color="#3300d8"/><stop offset=".312" stop-color="#3400d7"/><stop offset=".375" stop-color="#3500d6"/><stop offset=".438" stop-color="#3500d6"/><stop offset=".5" stop-color="#3400d7"/><stop offset=".562" stop-color="#3300d8"/><stop offset=".625" stop-color="#3200d9"/><stop offset=".688" stop-color="#3100da"/><stop offset=".75" stop-color="#2f00dc"/><stop offset=".812" stop-color="#2e00dd"/><stop offset=".875" stop-color="#2d00de"/><stop offset=".938" stop-color="#2c00df"/><stop offset="1" stop-color="#2b00e0"/></linearGradient>
<linearGradient id="s106" gradientUnits="userSpaceOnUse" x1="189" x2="720"><stop offset="0" stop-color="#2e00dd"/><stop offset=".062" stop-color="#2f00dc"/><stop offset=".125" stop-color="#3100da"/><stop offset=".188" stop-color="#3200d9"/><stop offset=".25" stop-color="#3400d7"/><stop offset=".312" stop-color="#3500d6"/><stop offset=".375" stop-color="#3600d5"/><stop offset=".438" stop-color="#3600d5"/><stop offset=".5" stop-color="#3500d6"/><stop offset=".562" stop-color="#3400d7"/><stop offset=".625" stop-color="#3300d8"/><stop offset=".688" stop-color="#3100da"/><stop offset=".75" stop-color="#3000db"/><stop offset=".812" stop-color="#2e00dd"/><stop offset=".875" stop-color="#2d00de"/><stop offset=".938" stop-color="#2c00df"/><stop offset="1" stop-color="#2b00e0"/></linearGradient>
<linearGradient id="s107" gradientUnits="userSpaceOnUse" x1="189" x2="720"><stop offset="0" stop-color="#2e00dd"/><stop offset=".062" stop-color="#2f00dc"/><stop offset=".125" stop-color="#3100da"/><stop offset=".188" stop-color="#3300d8"/><stop offset=".25" stop-color="#3400d7"/><stop offset=".312" stop-color="#3600d5"/><stop offset=".5" stop-color="#3600d5"/><stop offset=".562" stop-color="#3500d6"/><stop offset=".625" stop-color="#3300d8"/><stop offset=".688" stop-color="#3200d9"/><stop offset=".75" stop-color="#3000db"/><stop offset=".812" stop-color="#2e00dd"/><stop offset=".875" stop-color="#2d00de"/><stop offset=".938" stop-color="#2c00df"/><stop offset="1" stop-color="#2b00e0"/></linearGradient>
<linearGradient id="s108" gradientUnits="userSpaceOnUse" x1="189" x2="720"><stop offset="0" stop-color="#2e00dd"/><stop offset=".062" stop-color="#3000db"/><stop offset=".125" stop-color="#3200d9"/><stop offset=".188" stop-color="#3300d8"/><stop offset=".25" stop-color="#3500d6"/><stop offset=".312" stop-color="#3600d5"/><stop offset=".375" stop-color="#3700d4"/><stop offset=".5" stop-color="#3700d4"/><stop offset=".562" stop-color="#3500d6"/><stop offset=".625" stop-color="#3400d7"/><stop offset=".688" stop-color="#3200d9"/><stop offset=".75" stop-color="#3000db"/><stop offset=".812" stop-color="#2f00dc"/><stop offset=".875" stop-color="#2d00de"/><stop offset=".938" stop-color="#2c00df"/><stop offset="1" stop-color="#2b00e0"/></linearGradient>
<linearGradient id="s109" gradientUnits="userSpaceOnUse" x1="189" x2="720"><stop offset="0" stop-color="#2e00dd"/><stop offset=".062" stop-color="#3000db"/><stop offset=".125" stop-color="#3200d9"/><stop offset=".188" stop-color="#3400d7"/><stop offset=".25" stop-color="#3600d5"/><stop offset=".312" stop-color="#3700d4"/><stop offset=".375" stop-color="#3800d3"/><stop offset=".438" stop-color="#3800d3"/><stop offset=".5" stop-color="#3700d4"/><stop offset=".562" stop-color="#3600d5"/><stop offset=".625" stop-color="#3500d6"/><stop offset=".688" stop-color="#3300d8"/><stop offset=".75" stop-color="#3100da"/><stop offset=".812" stop-color="#2f00dc"/><stop offset=".875" stop-color="#2d00de"/><stop offset=".938" stop-color="#2c00df"/><stop offset="1" stop-color="#2b00e0"/></linearGradient>
<linearGradient id="s110" gradientUnits="userSpaceOnUse" x1="189" x2="720"><stop offset="0" stop-color="#2f00dc"/><stop offset=".062" stop-color="#3000db"/><stop offset=".125" stop-color="#3200d9"/><stop offset=".188" stop-color="#3500d6"/><stop offset=".25" stop-color="#3600d5"/><stop offset=".312" stop-color="#3800d3"/><stop offset=".375" stop-color="#3900d2"/><stop offset=".438" stop-color="#3900d2"/><stop offset=".5" stop-color="#3800d3"/><stop offset=".562" stop-color="#3700d4"/><stop offset=".625" stop-color="#3500d6"/><stop offset=".688" stop-color="#3300d8"/><stop offset=".75" stop-color="#3100da"/><stop offset=".812" stop-color="#2f00dc"/><stop offset=".875" stop-color="#2e00dd"/><stop offset=".938" stop-color="#2c00df"/><stop offset="1" stop-color="#2c00df"/></linearGradient>
<linearGradient id="s111" gradientUnits="userSpaceOnUse" x1="189" x2="720"><stop offset="0" stop-color="#2f00dc"/><stop offset=".062" stop-color="#3100da"/><stop offset=".125" stop-color="#3300d8"/><stop offset=".188" stop-color="#3500d6"/><stop offset=".25" stop-color="#3700d4"/><stop offset=".312" stop-color="#3900d2"/><stop offset=".375" stop-color="#3a00d1"/><stop offset=".438" stop-color="#3a00d1"/><stop offset=".5" stop-color="#3900d2"/><stop offset=".562" stop-color="#3800d3"/><stop offset=".625" stop-color="#3600d5"/><stop offset=".688" stop-color="#3400d7"/><stop offset=".75" stop-color="#3200d9"/><stop offset=".812" stop-color="#3000db"/><stop offset=".875" stop-color="#2e00dd"/><stop offset=".938" stop-color="#2d00de"/><stop offset="1" stop-color="#2c00df"/></linearGradient>
<linearGradient id="s112" gradientUnits="userSpaceOnUse" x1="189" x2="720"><stop offset="0" stop-color="#2f00dc"/><stop offset=".062" stop-color="#3100da"/><stop offset=".125" stop-color="#3400d7"/><stop offset=".188" stop-color="#3600d5"/><stop offset=".25" stop-color="#3800d3"/><stop offset=".312" stop-color="#3a00d1"/><stop offset=".375" stop-color="#3b00d0"/><stop offset=".438" stop-color="#3b00d0"/><stop offset=".5" stop-color="#3a00d1"/><stop offset=".562" stop-color="#3900d2"/><stop offset=".625" stop-color="#3700d4"/><stop offset=".688" stop-color="#3400d7"/><stop offset=".75" stop-color="#3200d9"/><stop offset=".812" stop-color="#3000db"/><stop offset=".875" stop-color="#2e00dd"/><stop offset=".938" stop-color="#2d00de"/><stop offset="1" stop-color="#2c00df"/></linearGradient>
<linearGradient id="s113" gradientUnits="userSpaceOnUse" x1="189" x2="720"><stop offset="0" stop-color="#3000db"/><stop offset=".062" stop-color="#3200d9"/><stop offset=".125" stop-color="#3400d7"/><stop offset=".188" stop-color="#3700d4"/><stop offset=".25" stop-color="#3900d2"/><stop offset=".312" stop-color="#3b00d0"/><stop offset=".375" stop-color="#3c00cf"/><stop offset=".438" stop-color="#3c00cf"/><stop offset=".5" stop-color="#3b00d0"/><stop offset=".562" stop-color="#3900d2"/><stop offset=".625" stop-color="#3700d4"/><stop offset=".688" stop-color="#3500d6"/><stop offset=".75" stop-color="#3200d9"/><stop offset=".812" stop-color="#3000db"/><stop offset=".875" stop-color="#2e00dd"/><stop offset=".938" stop-color="#2d00de"/><stop offset="1" stop-color="#2c00df"/></linearGradient>
<linearGradient id="s114" gradientUnits="userSpaceOnUse" x1="189" x2="720"><stop offset="0" stop-color="#3000db"/><stop offset=".062" stop-color="#3200d9"/><stop offset=".125" stop-color="#3500d6"/><stop offset=".188" stop-color="#3700d4"/><stop offset=".25" stop-color="#3a00d1"/><stop offset=".312" stop-color="#3c00cf"/><stop offset=".375" stop-color="#3d00ce"/><stop offset=".438" stop-color="#3d00ce"/><stop offset=".5" stop-color="#3c00cf"/><stop offset=".562" stop-color="#3a00d1"/><stop offset=".625" stop-color="#3800d3"/><stop offset=".688" stop-color="#3500d6"/><stop offset=".75" stop-color="#3300d8"/><stop offset=".812" stop-color="#3100da"/><stop offset=".875" stop-color="#2f00dc"/><stop offset=".938" stop-color="#2d00de"/><stop offset="1" stop-color="#2c00df"/></linearGradient>
<linearGradient id="s115" gradientUnits="userSpaceOnUse" x1="189" x2="720"><stop offset="0" stop-color="#3000db"/><stop offset=".062" stop-color="#3300d8"/><stop offset=".125" stop-color="#3500d6"/><stop offset=".188" stop-color="#3800d3"/><stop offset=".25" stop-color="#3b00d0"/><stop offset=".312" stop-color="#3c00cf"/><stop offset=".375" stop-color="#3e00cd"/><stop offset=".438" stop-color="#3e00cd"/><stop offset=".5" stop-color="#3d00ce"/><stop offset=".562" stop-color="#3b00d0"/><stop offset=".625" stop-color="#3900d2"/><stop offset=".688" stop-color="#3600d5"/><stop offset=".75" stop-color="#3300d8"/><stop offset=".812" stop-color="#3100da"/><stop offset=".875" stop-color="#2f00dc"/><stop offset=".938" stop-color="#2d00de"/><stop offset="1" stop-color="#2c00df"/></linearGradient>
<linearGradient id="s116" gradientUnits="userSpaceOnUse" x1="189" x2="720"><stop offset="0" stop-color="#3100da"/><stop offset=".062" stop-color="#3300d8"/><stop offset=".125" stop-color="#3600d5"/><stop offset=".188" stop-color="#3900d2"/><stop offset=".25" stop-color="#3b00d0"/><stop offset=".312" stop-color="#3d00ce"/><stop offset=".375" stop-color="#3e00cc"/><stop offset=".438" stop-color="#3e00cc"/><stop offset=".5" stop-color="#3e00cd"/><stop offset=".562" stop-color="#3c00cf"/><stop offset=".625" stop-color="#3a00d1"/><stop offset=".688" stop-color="#3700d4"/><stop offset=".75" stop-color="#3400d7"/><stop offset=".812" stop-color="#3100da"/><stop offset=".875" stop-color="#2f00dc"/><stop offset=".938" stop-color="#2d00de"/><stop offset="1" stop-color="#2c00df"/></linearGradient>
<linearGradient id="s117" gradientUnits="userSpaceOnUse" x1="189" x2="720"><stop offset="0" stop-color="#3100da"/><stop offset=".062" stop-color="#3400d7"/><stop offset=".125" stop-color="#3600d5"/><stop offset=".188" stop-color="#3a00d1"/><stop offset=".25" stop-color="#3c00cf"/><stop offset=".312" stop-color="#3e00cc"/><stop offset=".375" stop-color="#3e00ca"/><stop offset=".438" stop-color="#3e00ca"/><stop offset=".5" stop-color="#3e00cb"/><stop offset=".562" stop-color="#3d00ce"/><stop offset=".625" stop-color="#3a00d1"/><stop offset=".688" stop-color="#3700d4"/><stop offset=".75" stop-color="#3400d7"/><stop offset=".812" stop-color="#3200d9"/><stop offset=".875" stop-color="#2f00dc"/><stop offset=".938" stop-color="#2e00dd"/><stop offset="1" stop-color="#2c00df"/></linearGradient>
<linearGradient id="s118" gradientUnits="userSpaceOnUse" x1="189" x2="720"><stop offset="0" stop-color="#3100da"/><stop offset=".062" stop-color="#3400d7"/><stop offset=".125" stop-color="#3700d4"/><stop offset=".188" stop-color="#3a00d1"/><stop offset=".25" stop-color="#3d00ce"/><stop offset=".312" stop-color="#3e00ca"/><stop offset=".375" stop-color="#3f00c8"/><stop offset=".438" stop-color="#3f00c8"/><stop offset=".5" stop-color="#3f00ca"/><stop offset=".562" stop-color="#3e00cd"/><stop offset=".625" stop-color="#3b00d0"/><stop offset=".688" stop-color="#3800d3"/><stop offset=".75" stop-color="#3500d6"/><stop offset=".812" stop-color="#3200d9"/><stop offset=".875" stop-color="#3000db"/><stop offset=".938" stop-color="#2e00dd"/><stop offset="1" stop-color="#2c00df"/></linearGradient>
<linearGradient id="s119" gradientUnits="userSpaceOnUse" x1="189" x2="720"><stop offset="0" stop-color="#3200d9"/><stop offset=".062" stop-color="#3400d7"/><stop offset=".125" stop-color="#3800d3"/><stop offset=".188" stop-color="#3b00d0"/><stop offset=".25" stop-color="#3e00cd"/><stop offset=".312" stop-color="#3f00c9"/><stop offset=".375" stop-color="#3f00c6"/><stop offset=".438" stop-color="#3f00c6"/><stop offset=".5" stop-color="#3f00c8"/><stop offset=".562" stop-color="#3e00cb"/><stop offset=".625" stop-color="#3c00cf"/><stop offset=".688" stop-color="#3900d2"/><stop offset=".75" stop-color="#3600d5"/><stop offset=".812" stop-color="#3200d9"/><stop offset=".875" stop-color="#3000db"/><stop offset=".938" stop-color="#2e00dd"/><stop offset="1" stop-color="#2c00df"/></linearGradient>
<linearGradient id="s120" gradientUnits="userSpaceOnUse" x1="189" x2="720"><stop offset="0" stop-color="#3200d9"/><stop offset=".062" stop-color="#3500d6"/><stop offset=".125" stop-color="#3800d3"/><stop offset=".188" stop-color="#3c00cf"/><stop offset=".25" stop-color="#3e00cb"/><stop offset=".312" stop-color="#3f00c7"/><stop offset=".375" stop-color="#3f00c4"/><stop offset=".438" stop-color="#3f00c4"/><stop offset=".5" stop-color="#3f00c6"/><stop offset=".562" stop-color="#3e00ca"/><stop offset=".625" stop-color="#3d00ce"/><stop offset=".688" stop-color="#3a00d1"/><stop offset=".75" stop-color="#3600d5"/><stop offset=".812" stop-color="#3300d8"/><stop offset=".875" stop-color="#3000db"/><stop offset=".938" stop-color="#2e00dd"/><stop offset="1" stop-color="#2d00de"/></linearGradient>
<linearGradient id="s121" gradientUnits="userSpaceOnUse" x1="189" x2="720"><stop offset="0" stop-color="#3200d9"/><stop offset=".062" stop-color="#3600d5"/><stop offset=".125" stop-color="#3900d2"/><stop offset=".188" stop-color="#3d00ce"/><stop offset=".25" stop-color="#3f00c9"/><stop offset=".312" stop-color="#3f00c5"/><stop offset=".375" stop-color="#4000c3"/><stop offset=".438" stop-color="#4000c2"/><stop offset=".5" stop-color="#3f00c4"/><stop offset=".562" stop-color="#3f00c8"/><stop offset=".625" stop-color="#3e00cd"/><stop offset=".688" stop-color="#3a00d1"/><stop offset=".75" stop-color="#3700d4"/><stop offset=".812" stop-color="#3300d8"/><stop offset=".875" stop-color="#3000db"/><stop offset=".938" stop-color="#2e00dd"/><stop offset="1" stop-color="#2d00de"/></linearGradient>
<linearGradient id="s122" gradientUnits="userSpaceOnUse" x1="189" x2="720"><stop offset="0" stop-color="#3300d8"/><stop offset=".062" stop-color="#3600d5"/><stop offset=".125" stop-color="#3a00d1"/><stop offset=".188" stop-color="#3e00cd"/><stop offset=".25" stop-color="#3f00c8"/><stop offset=".312" stop-color="#3f00c3"/><stop offset=".375" stop-color="#4000c1"/><stop offset=".438" stop-color="#4000c0"/><stop offset=".5" stop-color="#4000c2"/><stop offset=".562" stop-color="#3f00c6"/><stop offset=".625" stop-color="#3e00cc"/><stop offset=".688" stop-color="#3b00d0"/><stop offset=".75" stop-color="#3700d4"/><stop offset=".812" stop-color="#3400d7"/><stop offset=".875" stop-color="#3100da"/><stop offset=".938" stop-color="#2e00dd"/><stop offset="1" stop-color="#2d00de"/></linearGradient>
<linearGradient id="s123" gradientUnits="userSpaceOnUse" x1="189" x2="720"><stop offset="0" stop-color="#3300d8"/><stop offset=".062" stop-color="#3700d4"/><stop offset=".125" stop-color="#3a00d1"/><stop offset=".188" stop-color="#3e00cc"/><stop offset=".25" stop-color="#3f00c6"/><stop offset=".312" stop-color="#4000c1"/><stop offset=".375" stop-color="#4000bf"/><stop offset=".438" stop-color="#4000be"/><stop offset=".5" stop-color="#4000c0"/><stop offset=".562" stop-color="#3f00c5"/><stop offset=".625" stop-color="#3e00ca"/><stop offset=".688" stop-color="#3c00cf"/><stop offset=".75" stop-color="#3800d3"/><stop offset=".812" stop-color="#3400d7"/><stop offset=".875" stop-color="#3100da"/><stop offset=".938" stop-color="#2f00dc"/><stop offset="1" stop-color="#2d00de"/></linearGradient>
<linearGradient id="s124" gradientUnits="userSpaceOnUse" x1="189" x2="720"><stop offset="0" stop-color="#3300d8"/><stop offset=".062" stop-color="#3700d4"/><stop offset=".125" stop-color="#3b00d0"/><stop offset=".188" stop-color="#3e00cb"/><stop offset=".25" stop-color="#3f00c5"/><stop offset=".312" stop-color="#4000c0"/><stop offset=".375" stop-color="#4000bd"/><stop offset=".438" stop-color="#4000bc"/><stop offset=".5" stop-color="#4000be"/><stop offset=".562" stop-color="#3f00c3"/><stop offset=".625" stop-color="#3f00c9"/><stop offset=".688" stop-color="#3c00cf"/><stop offset=".75" stop-color="#3800d3"/><stop offset=".812" stop-color="#3500d6"/><stop offset=".875" stop-color="#3100da"/><stop offset=".938" stop-color="#2f00dc"/><stop offset="1" stop-color="#2d00de"/></linearGradient>
<linearGradient id="s125" gradientUnits="userSpaceOnUse" x1="189" x2="720"><stop offset="0" stop-color="#3400d7"/><stop offset=".062" stop-color="#3800d3"/><stop offset=".125" stop-color="#3c00cf"/><stop offset=".188" stop-color="#3f00c9"/><stop offset=".25" stop-color="#3f00c3"/><stop offset=".312" stop-color="#4000be"/><stop offset=".375" stop-color="#4100bb"/><stop offset=".438" stop-color="#4100ba"/><stop offset=".5" stop-color="#4000bc"/><stop offset=".562" stop-color="#4000c1"/><stop offset=".625" stop-color="#3f00c7"/><stop offset=".688" stop-color="#3d00ce"/><stop offset=".75" stop-color="#3900d2"/><stop offset=".812" stop-color="#3500d6"/><stop offset=".875" stop-color="#3200d9"/><stop offset=".938" stop-color="#2f00dc"/><stop offset="1" stop-color="#2d00de"/></linearGradient>
<linearGradient id="s126" gradientUnits="userSpaceOnUse" x1="189" x2="720"><stop offset="0" stop-color="#3400d7"/><stop offset=".062" stop-color="#3800d3"/><stop offset=".125" stop-color="#3c00cf"/><stop offset=".188" stop-color="#3f00c8"/><stop offset=".25" stop-color="#4000c1"/><stop offset=".312" stop-color="#4000bc"/><stop offset=".375" stop-color="#4100b9"/><stop offset=".438" stop-color="#4100b8"/><stop offset=".5" stop-color="#4100bb"/><stop offset=".562" stop-color="#4000bf"/><stop offset=".625" stop-color="#3f00c6"/><stop offset=".688" stop-color="#3e00cd"/><stop offset=".75" stop-color="#3900d2"/><stop offset=".812" stop-color="#3500d6"/><stop offset=".875" stop-color="#3200d9"/><stop offset=".938" stop-color="#2f00dc"/><stop offset="1" stop-color="#2d00de"/></linearGradient>
<linearGradient id="s127" gradientUnits="userSpaceOnUse" x1="189" x2="720"><stop offset="0" stop-color="#3500d6"/><stop offset=".062" stop-color="#3900d2"/><stop offset=".125" stop-color="#3d00ce"/><stop offset=".188" stop-color="#3f00c7"/><stop offset=".25" stop-color="#4000c0"/><stop offset=".312" stop-color="#4100ba"/><stop offset=".375" stop-color="#4100b7"/><stop offset=".438" stop-color="#4100b6"/><stop offset=".5" stop-color="#4100b9"/><stop offset=".562" stop-color="#4000be"/><stop offset=".625" stop-color="#3f00c4"/><stop offset=".688" stop-color="#3e00cc"/><stop offset=".75" stop-color="#3a00d1"/><stop offset=".812" stop-color="#3600d5"/><stop offset=".875" stop-color="#3200d9"/><stop offset=".938" stop-color="#2f00dc"/><stop offset="1" stop-color="#2d00de"/></linearGradient>
<linearGradient id="s128" gradientUnits="userSpaceOnUse" x1="189" x2="720"><stop offset="0" stop-color="#3500d6"/><stop offset=".062" stop-color="#3900d2"/><stop offset=".125" stop-color="#3e00cd"/><stop offset=".188" stop-color="#3f00c5"/><stop offset=".25" stop-color="#4000be"/><stop offset=".312" stop-color="#4100b8"/><stop offset=".375" stop-color="#4200b5"/><stop offset=".438" stop-color="#4200b4"/><stop offset=".5" stop-color="#4100b7"/><stop offset=".562" stop-color="#4000bc"/><stop offset=".625" stop-color="#3f00c3"/><stop offset=".688" stop-color="#3e00cb"/><stop offset=".75" stop-color="#3b00d0"/><stop offset=".812" stop-color="#3600d5"/><stop offset=".875" stop-color="#3300d8"/><stop offset=".938" stop-color="#3000db"/><stop offset="1" stop-color="#2e00dd"/></linearGradient>
<linearGradient id="s129" gradientUnits="userSpaceOnUse" x1="189" x2="720"><stop offset="0" stop-color="#3500d6"/><stop offset=".062" stop-color="#3a00d1"/><stop offset=".125" stop-color="#3e00cc"/><stop offset=".188" stop-color="#3f00c4"/><stop offset=".25" stop-color="#4000bc"/><stop offset=".312" stop-color="#4100b6"/><stop offset=".375" stop-color="#4200b3"/><stop offset=".438" stop-color="#4200b2"/><stop offset=".5" stop-color="#4200b5"/><stop offset=".562" stop-color="#4100ba"/><stop offset=".625" stop-color="#4000c1"/><stop offset=".688" stop-color="#3f00c9"/><stop offset=".75" stop-color="#3b00d0"/><stop offset=".812" stop-color="#3700d4"/><stop offset=".875" stop-color="#3300d8"/><stop offset=".938" stop-color="#3000db"/><stop offset="1" stop-color="#2e00dd"/></linearGradient>
<linearGradient id="s130" gradientUnits="userSpaceOnUse" x1="189" x2="720"><stop offset="0" stop-color="#3600d5"/><stop offset=".062" stop-color="#3a00d1"/><stop offset=".125" stop-color="#3e00cb"/><stop offset=".188" stop-color="#4000c2"/><stop offset=".25" stop-color="#4100bb"/><stop offset=".312" stop-color="#4200b4"/><stop offset=".375" stop-color="#4200b1"/><stop offset=".438" stop-color="#4200b0"/><stop offset=".5" stop-color="#4200b3"/><stop offset=".562" stop-color="#4100b8"/><stop offset=".625" stop-color="#4000c0"/><stop offset=".688" stop-color="#3f00c8"/><stop offset=".75" stop-color="#3c00cf"/><stop offset=".812" stop-color="#3700d4"/><stop offset=".875" stop-color="#3300d8"/><stop offset=".938" stop-color="#3000db"/><stop offset="1" stop-color="#2e00dd"/></linearGradient>
<linearGradient id="s131" gradientUnits="userSpaceOnUse" x1="189" x2="720"><stop offset="0" stop-color="#3600d5"/><stop offset=".062" stop-color="#3b00d0"/><stop offset=".125" stop-color="#3e00ca"/><stop offset=".188" stop-color="#4000c1"/><stop offset=".25" stop-color="#4100b9"/><stop offset=".312" stop-color="#4200b3"/><stop offset=".375" stop-color="#4200af"/><stop offset=".438" stop-color="#4200ae"/><stop offset=".5" stop-color="#4200b1"/><stop offset=".562" stop-color="#4100b7"/><stop offset=".625" stop-color="#4000be"/><stop offset=".688" stop-color="#3f00c7"/><stop offset=".75" stop-color="#3c00cf"/><stop offset=".812" stop-color="#3700d4"/><stop offset=".875" stop-color="#3300d8"/><stop offset=".938" stop-color="#3000db"/><stop offset="1" stop-color="#2e00dd"/></linearGradient>
<linearGradient id="s132" gradientUnits="userSpaceOnUse" x1="189" x2="720"><stop offset="0" stop-color="#3600d5"/><stop offset=".062" stop-color="#3b00d0"/><stop offset=".125" stop-color="#3f00c9"/><stop offset=".188" stop-color="#4000c0"/><stop offset=".25" stop-color="#4100b7"/><stop offset=".312" stop-color="#4200b1"/><stop offset=".375" stop-color="#4300ad"/><stop offset=".438" stop-color="#4300ac"/><stop offset=".5" stop-color="#4200af"/><stop offset=".562" stop-color="#4100b5"/><stop offset=".625" stop-color="#4000bd"/><stop offset=".688" stop-color="#3f00c6"/><stop offset=".75" stop-color="#3d00ce"/><stop offset=".812" stop-color="#3800d3"/><stop offset=".875" stop-color="#3400d7"/><stop offset=".938" stop-color="#3000db"/><stop offset="1" stop-color="#2e00dd"/></linearGradient>
<linearGradient id="s133" gradientUnits="userSpaceOnUse" x1="189" x2="720"><stop offset="0" stop-color="#3700d4"/><stop offset=".062" stop-color="#3c00cf"/><stop offset=".125" stop-color="#3f00c8"/><stop offset=".188" stop-color="#4000be"/><stop offset=".25" stop-color="#4100b6"/><stop offset=".312" stop-color="#4200af"/><stop offset=".375" stop-color="#4300ab"/><stop offset=".438" stop-color="#4300ab"/><stop offset=".5" stop-color="#4300ad"/><stop offset=".562" stop-color="#4200b3"/><stop offset=".625" stop-color="#4100bc"/><stop offset=".688" stop-color="#3f00c5"/><stop offset=".75" stop-color="#3d00ce"/><stop offset=".812" stop-color="#3800d3"/><stop offset=".875" stop-color="#3400d7"/><stop offset=".938" stop-color="#3100da"/><stop offset="1" stop-color="#2e00dd"/></linearGradient>
<linearGradient id="s134" gradientUnits="userSpaceOnUse" x1="189" x2="720"><stop offset="0" stop-color="#3700d4"/><stop offset=".062" stop-color="#3c00cf"/><stop offset=".125" stop-color="#3f00c7"/><stop offset=".188" stop-color="#4000bd"/><stop offset=".25" stop-color="#4200b4"/><stop offset=".312" stop-color="#4300ad"/><stop offset=".375" stop-color="#4300a9"/><stop offset=".438" stop-color="#4300a9"/><stop offset=".5" stop-color="#4300ac"/><stop offset=".562" stop-color="#4200b2"/><stop offset=".625" stop-color="#4100ba"/><stop offset=".688" stop-color="#3f00c4"/><stop offset=".75" stop-color="#3e00cd"/><stop offset=".812" stop-color="#3900d2"/><stop offset=".875" stop-color="#3400d7"/><stop offset=".938" stop-color="#3100da"/><stop offset="1" stop-color="#2e00dd"/></linearGradient>
<linearGradient id="s135" gradientUnits="userSpaceOnUse" x1="189" x2="720"><stop offset="0" stop-color="#3800d3"/><stop offset=".062" stop-color="#3d00ce"/><stop offset=".125" stop-color="#3f00c6"/><stop offset=".188" stop-color="#4000bc"/><stop offset=".25" stop-color="#4200b3"/><stop offset=".312" stop-color="#4300ac"/><stop offset=".375" stop-color="#4300a8"/><stop offset=".438" stop-color="#4400a7"/><stop offset=".5" stop-color="#4300aa"/><stop offset=".562" stop-color="#4200b0"/><stop offset=".625" stop-color="#4100b9"/><stop offset=".688" stop-color="#4000c3"/><stop offset=".75" stop-color="#3e00cc"/><stop offset=".812" stop-color="#3900d2"/><stop offset=".875" stop-color="#3500d6"/><stop offset=".938" stop-color="#3100da"/><stop offset="1" stop-color="#2e00dd"/></linearGradient>
<linearGradient id="s136" gradientUnits="userSpaceOnUse" x1="189" x2="720"><stop offset="0" stop-color="#3800d3"/><stop offset=".062" stop-color="#3d00ce"/><stop offset=".125" stop-color="#3f00c5"/><stop offset=".188" stop-color="#4100bb"/><stop offset=".25" stop-color="#4200b1"/><stop offset=".312" stop-color="#4300aa"/><stop offset=".375" stop-color="#4400a6"/><stop offset=".438" stop-color="#4400a5"/><stop offset=".5" stop-color="#4300a8"/><stop offset=".562" stop-color="#4200af"/><stop offset=".625" stop-color="#4100b8"/><stop offset=".688" stop-color="#4000c1"/><stop offset=".75" stop-color="#3e00cb"/><stop offset=".812" stop-color="#3900d2"/><stop offset=".875" stop-color="#3500d6"/><stop offset=".938" stop-color="#3100da"/><stop offset="1" stop-color="#2e00dd"/></linearGradient>
<linearGradient id="s137" gradientUnits="userSpaceOnUse" x1="189" x2="720"><stop offset="0" stop-color="#3800d3"/><stop offset=".062" stop-color="#3e00cd"/><stop offset=".125" stop-color="#3f00c4"/><stop offset=".188" stop-color="#4100b9"/><stop offset=".25" stop-color="#4200b0"/><stop offset=".312" stop-color="#4300a9"/><stop offset=".375" stop-color="#4400a4"/><stop offset=".438" stop-color="#4400a4"/><stop offset=".5" stop-color="#4400a7"/><stop offset=".562" stop-color="#4300ad"/><stop offset=".625" stop-color="#4100b6"/><stop offset=".688" stop-color="#4000c0"/><stop offset=".75" stop-color="#3e00cb"/><stop offset=".812" stop-color="#3a00d1"/><stop offset=".875" stop-color="#3500d6"/><stop offset=".938" stop-color="#3100da"/><stop offset="1" stop-color="#2f00dc"/></linearGradient>
<linearGradient id="s138" gradientUnits="userSpaceOnUse" x1="189" x2="720"><stop offset="0" stop-color="#3800d3"/><stop offset=".062" stop-color="#3e00cd"/><stop offset=".125" stop-color="#3f00c3"/><stop offset=".188" stop-color="#4100b8"/><stop offset=".25" stop-color="#4200af"/><stop offset=".312" stop-color="#4400a7"/><stop offset=".375" stop-color="#4400a3"/><stop offset=".438" stop-color="#4400a2"/><stop offset=".5" stop-color="#4400a5"/><stop offset=".562" stop-color="#4300ac"/><stop offset=".625" stop-color="#4100b5"/><stop offset=".688" stop-color="#4000c0"/><stop offset=".75" stop-color="#3e00ca"/><stop offset=".812" stop-color="#3a00d1"/><stop offset=".875" stop-color="#3500d6"/><stop offset=".938" stop-color="#3100da"/><stop offset="1" stop-color="#2f00dc"/></linearGradient>
<linearGradient id="s139" gradientUnits="userSpaceOnUse" x1="189" x2="720"><stop offset="0" stop-color="#3900d2"/><stop offset=".062" stop-color="#3e00cc"/><stop offset=".125" stop-color="#4000c2"/><stop offset=".188" stop-color="#4100b7"/><stop offset=".25" stop-color="#4300ad"/><stop offset=".312" stop-color="#4400a6"/><stop offset=".375" stop-color="#4400a1"/><stop offset=".438" stop-color="#4400a1"/><stop offset=".5" stop-color="#4400a4"/><stop offset=".562" stop-color="#4300ab"/><stop offset=".625" stop-color="#4200b4"/><stop offset=".688" stop-color="#4000bf"/><stop offset=".75" stop-color="#3f00c9"/><stop offset=".812" stop-color="#3a00d1"/><stop offset=".875" stop-color="#3500d6"/><stop offset=".938" stop-color="#3200d9"/><stop offset="1" stop-color="#2f00dc"/></linearGradient>
<linearGradient id="s140" gradientUnits="userSpaceOnUse" x1="189" x2="720"><stop offset="0" stop-color="#3900d2"/><stop offset=".062" stop-color="#3e00cc"/><stop offset=".125" stop-color="#4000c1"/><stop offset=".188" stop-color="#4100b6"/><stop offset=".25" stop-color="#4300ac"/><stop offset=".312" stop-color="#4400a4"/><stop offset=".375" stop-color="#4500a0"/><stop offset=".438" stop-color="#45009f"/><stop offset=".5" stop-color="#4400a3"/><stop offset=".562" stop-color="#4300a9"/><stop offset=".625" stop-color="#4200b3"/><stop offset=".688" stop-color="#4000be"/><stop offset=".75" stop-color="#3f00c9"/><stop offset=".812" stop-color="#3b00d0"/><stop offset=".875" stop-color="#3600d5"/><stop offset=".938" stop-color="#3200d9"/><stop offset="1" stop-color="#2f00dc"/></linearGradient>
<linearGradient id="s141" gradientUnits="userSpaceOnUse" x1="189" x2="720"><stop offset="0" stop-color="#3900d2"/><stop offset=".062" stop-color="#3e00cb"/><stop offset=".125" stop-color="#4000c0"/><stop offset=".188" stop-color="#4100b5"/><stop offset=".25" stop-color="#4300ab"/><stop offset=".312" stop-color="#4400a3"/><stop offset=".375" stop-color="#45009e"/><stop offset=".438" stop-color="#45009e"/><stop offset=".5" stop-color="#4400a1"/><stop offset=".562" stop-color="#4300a8"/><stop offset=".625" stop-color="#4200b2"/><stop offset=".688" stop-color="#4000bd"/><stop offset=".75" stop-color="#3f00c8"/><stop offset=".812" stop-color="#3b00d0"/><stop offset=".875" stop-color="#3600d5"/><stop offset=".938" stop-color="#3200d9"/><stop offset="1" stop-color="#2f00dc"/></linearGradient>
<linearGradient id="s142" gradientUnits="userSpaceOnUse" x1="189" x2="720"><stop offset="0" stop-color="#3900d2"/><stop offset=".062" stop-color="#3e00cb"/><stop offset=".125" stop-color="#4000c0"/><stop offset=".188" stop-color="#4200b5"/><stop offset=".25" stop-color="#4300aa"/><stop offset=".312" stop-color="#4400a2"/><stop offset=".375" stop-color="#45009d"/><stop offset=".438" stop-color="#45009d"/><stop offset=".5" stop-color="#4500a0"/><stop offset=".562" stop-color="#4300a7"/><stop offset=".625" stop-color="#4200b1"/><stop offset=".688" stop-color="#4000bc"/><stop offset=".75" stop-color="#3f00c7"/><stop offset=".812" stop-color="#3b00d0"/><stop offset=".875" stop-color="#3600d5"/><stop offset=".938" stop-color="#3200d9"/><stop offset="1" stop-color="#2f00dc"/></linearGradient>
<linearGradient id="s143" gradientUnits="userSpaceOnUse" x1="189" x2="720"><stop offset="0" stop-color="#3a00d1"/><stop offset=".062" stop-color="#3e00ca"/><stop offset=".125" stop-color="#4000bf"/><stop offset=".188" stop-color="#4200b4"/><stop offset=".25" stop-color="#4300a9"/><stop offset=".312" stop-color="#4400a1"/><stop offset=".375" stop-color="#45009c"/><stop offset=".438" stop-color="#45009b"/><stop offset=".5" stop-color="#45009f"/><stop offset=".562" stop-color="#4400a6"/><stop offset=".625" stop-color="#4200b0"/><stop offset=".688" stop-color="#4100bb"/><stop offset=".75" stop-color="#3f00c7"/><stop offset=".812" stop-color="#3b00d0"/><stop offset=".875" stop-color="#3600d5"/><stop offset=".938" stop-color="#3200d9"/><stop offset="1" stop-color="#2f00dc"/></linearGradient>
<linearGradient id="s144" gradientUnits="userSpaceOnUse" x1="189" x2="720"><stop offset="0" stop-color="#3a00d1"/><stop offset=".062" stop-color="#3e00ca"/><stop offset=".125" stop-color="#4000bf"/><stop offset=".188" stop-color="#4200b3"/><stop offset=".25" stop-color="#4300a8"/><stop offset=".312" stop-color="#4500a0"/><stop offset=".375" stop-color="#45009b"/><stop offset=".438" stop-color="#45009a"/><stop offset=".5" stop-color="#45009e"/><stop offset=".562" stop-color="#4400a5"/><stop offset=".625" stop-color="#4200af"/><stop offset=".688" stop-color="#4100bb"/><stop offset=".75" stop-color="#3f00c6"/><stop offset=".812" stop-color="#3c00cf"/><stop offset=".875" stop-color="#3600d5"/><stop offset=".938" stop-color="#3200d9"/><stop offset="1" stop-color="#2f00dc"/></linearGradient>
<linearGradient id="s145" gradientUnits="userSpaceOnUse" x1="189" x2="720"><stop offset="0" stop-color="#3a00d1"/><stop offset=".062" stop-color="#3f00c9"/><stop offset=".125" stop-color="#4000be"/><stop offset=".188" stop-color="#4200b2"/><stop offset=".25" stop-color="#4300a8"/><stop offset=".312" stop-color="#45009f"/><stop offset=".375" stop-color="#45009a"/><stop offset=".438" stop-color="#450099"/><stop offset=".5" stop-color="#45009d"/><stop offset=".562" stop-color="#4400a5"/><stop offset=".625" stop-color="#4200af"/><stop offset=".688" stop-color="#4100ba"/><stop offset=".75" stop-color="#3f00c6"/><stop offset=".812" stop-color="#3c00cf"/><stop offset=".875" stop-color="#3700d4"/><stop offset=".938" stop-color="#3200d9"/><stop offset="1" stop-color="#2f00dc"/></linearGradient>
<linearGradient id="s146" gradientUnits="userSpaceOnUse" x1="189" x2="720"><stop offset="0" stop-color="#3a00d1"/><stop offset=".062" stop-color="#3f00c9"/><stop offset=".125" stop-color="#4000be"/><stop offset=".188" stop-color="#4200b2"/><stop offset=".25" stop-color="#4400a7"/><stop offset=".312" stop-color="#45009e"/><stop offset=".375" stop-color="#460099"/><stop offset=".438" stop-color="#460099"/><stop offset=".5" stop-color="#45009c"/><stop offset=".562" stop-color="#4400a4"/><stop offset=".625" stop-color="#4200ae"/><stop offset=".688" stop-color="#4100ba"/><stop offset=".75" stop-color="#3f00c5"/><stop offset=".812" stop-color="#3c00cf"/><stop offset=".875" stop-color="#3700d4"/><stop offset=".938" stop-color="#3200d9"/><stop offset="1" stop-color="#2f00dc"/></linearGradient>
<linearGradient id="s147" gradientUnits="userSpaceOnUse" x1="189" x2="720"><stop offset="0" stop-color="#3a00d1"/><stop offset=".062" stop-color="#3f00c9"/><stop offset=".125" stop-color="#4000bd"/><stop offset=".188" stop-color="#4200b1"/><stop offset=".25" stop-color="#4400a6"/><stop offset=".312" stop-color="#45009e"/><stop offset=".375" stop-color="#460099"/><stop offset=".438" stop-color="#460098"/><stop offset=".5" stop-color="#45009c"/><stop offset=".562" stop-color="#4400a3"/><stop offset=".625" stop-color="#4300ae"/><stop offset=".688" stop-color="#4100b9"/><stop offset=".75" stop-color="#3f00c5"/><stop offset=".812" stop-color="#3c00cf"/><stop offset=".875" stop-color="#3700d4"/><stop offset=".938" stop-color="#3200d9"/><stop offset="1" stop-color="#2f00dc"/></linearGradient>
<linearGradient id="s148" gradientUnits="userSpaceOnUse" x1="189" x2="720"><stop offset="0" stop-color="#3a00d1"/><stop offset=".062" stop-color="#3f00c8"/><stop offset=".125" stop-color="#4000bd"/><stop offset=".188" stop-color="#4200b1"/><stop offset=".25" stop-color="#4400a6"/><stop offset=".312" stop-color="#45009d"/><stop offset=".375" stop-color="#460098"/><stop offset=".438" stop-color="#460097"/><stop offset=".5" stop-color="#45009b"/><stop offset=".562" stop-color="#4400a3"/><stop offset=".625" stop-color="#4300ad"/><stop offset=".688" stop-color="#4100b9"/><stop offset=".75" stop-color="#3f00c5"/><stop offset=".812" stop-color="#3c00cf"/><stop offset=".875" stop-color="#3700d4"/><stop offset=".938" stop-color="#3300d8"/><stop offset="1" stop-color="#2f00dc"/></linearGradient>
<linearGradient id="s149" gradientUnits="userSpaceOnUse" x1="454.4" x2="29.5" spreadMethod="reflect"><stop offset="0" stop-color="#1715f1"/><stop offset=".601" stop-color="#1715f1"/><stop offset=".61" stop-color="#1716f1"/><stop offset=".618" stop-color="#1618f1"/><stop offset=".625" stop-color="#1519f2"/><stop offset=".632" stop-color="#1519f2"/><stop offset=".639" stop-color="#1617f1"/><stop offset=".648" stop-color="#1814f0"/><stop offset=".66" stop-color="#1b0fef"/><stop offset=".674" stop-color="#1f09ed"/><stop offset=".693" stop-color="#2405e7"/><stop offset=".716" stop-color="#2c00df"/><stop offset=".752" stop-color="#3a00d1"/><stop offset=".799" stop-color="#4100ba"/><stop offset=".858" stop-color="#4400a7"/><stop offset=".928" stop-color="#460098"/><stop offset="1" stop-color="#44008f"/></linearGradient>
<linearGradient id="s150" gradientUnits="userSpaceOnUse" x1="454.4" x2="29.5" spreadMethod="reflect"><stop offset="0" stop-color="#1617f1"/><stop offset=".556" stop-color="#1617f1"/><stop offset=".575" stop-color="#1618f1"/><stop offset=".601" stop-color="#1618f1"/><stop offset=".61" stop-color="#1519f2"/><stop offset=".618" stop-color="#141bf2"/><stop offset=".625" stop-color="#131cf2"/><stop offset=".632" stop-color="#131cf2"/><stop offset=".639" stop-color="#141af2"/><stop offset=".648" stop-color="#1617f1"/><stop offset=".66" stop-color="#1912f0"/><stop offset=".674" stop-color="#1d0bee"/><stop offset=".693" stop-color="#2306e8"/><stop offset=".716" stop-color="#2b00e0"/><stop offset=".752" stop-color="#3900d2"/><stop offset=".799" stop-color="#4100ba"/><stop offset=".858" stop-color="#4400a7"/><stop offset=".928" stop-color="#460098"/><stop offset="1" stop-color="#44008f"/></linearGradient>
<linearGradient id="s151" gradientUnits="userSpaceOnUse" x1="454.4" x2="29.5" spreadMethod="reflect"><stop offset="0" stop-color="#1519f2"/><stop offset=".293" stop-color="#1519f2"/><stop offset=".363" stop-color="#151af2"/><stop offset=".422" stop-color="#151af2"/><stop offset=".469" stop-color="#141af2"/><stop offset=".533" stop-color="#141af2"/><stop offset=".556" stop-color="#141bf2"/><stop offset=".601" stop-color="#141bf2"/><stop offset=".61" stop-color="#131df3"/><stop offset=".618" stop-color="#121ff3"/><stop offset=".625" stop-color="#1120f3"/><stop offset=".632" stop-color="#1120f3"/><stop offset=".639" stop-color="#121ef3"/><stop offset=".648" stop-color="#141af2"/><stop offset=".66" stop-color="#1815f1"/><stop offset=".674" stop-color="#1c0def"/><stop offset=".693" stop-color="#2207ea"/><stop offset=".716" stop-color="#2a00e1"/><stop offset=".752" stop-color="#3900d2"/><stop offset=".799" stop-color="#4100ba"/><stop offset=".858" stop-color="#4400a7"/><stop offset=".928" stop-color="#460098"/><stop offset="1" stop-color="#44008f"/></linearGradient>
<linearGradient id="s152" gradientUnits="userSpaceOnUse" x1="454.4" x2="29.5" spreadMethod="reflect"><stop offset="0" stop-color="#141bf2"/><stop offset=".199" stop-color="#141bf2"/><stop offset=".293" stop-color="#131cf2"/><stop offset=".363" stop-color="#131cf2"/><stop offset=".422" stop-color="#131df2"/><stop offset=".469" stop-color="#131df3"/><stop offset=".505" stop-color="#121df3"/><stop offset=".533" stop-color="#121ef3"/><stop offset=".556" stop-color="#121ef3"/><stop offset=".575" stop-color="#111ff3"/><stop offset=".589" stop-color="#111ff3"/><stop offset=".601" stop-color="#1120f3"/><stop offset=".61" stop-color="#1021f4"/><stop offset=".618" stop-color="#0f23f4"/><stop offset=".625" stop-color="#0e25f4"/><stop offset=".632" stop-color="#0e24f4"/><stop offset=".639" stop-color="#1022f4"/><stop offset=".648" stop-color="#121df3"/><stop offset=".66" stop-color="#1618f1"/><stop offset=".674" stop-color="#1a10ef"/><stop offset=".693" stop-color="#2108eb"/><stop offset=".716" stop-color="#2901e2"/><stop offset=".752" stop-color="#3800d3"/><stop offset=".799" stop-color="#4100bb"/><stop offset=".858" stop-color="#4400a7"/><stop offset=".928" stop-color="#460098"/><stop offset="1" stop-color="#44008f"/></linearGradient>
<linearGradient id="s153" gradientUnits="userSpaceOnUse" x1="454.4" x2="29.5" spreadMethod="reflect"><stop offset="0" stop-color="#131df3"/><stop offset=".104" stop-color="#121df3"/><stop offset=".199" stop-color="#121ef3"/><stop offset=".293" stop-color="#121ef3"/><stop offset=".363" stop-color="#111ff3"/><stop offset=".422" stop-color="#1120f3"/><stop offset=".469" stop-color="#1120f3"/><stop offset=".505" stop-color="#1021f4"/><stop offset=".533" stop-color="#1022f4"/><stop offset=".556" stop-color="#0f23f4"/><stop offset=".575" stop-color="#0f24f4"/><stop offset=".589" stop-color="#0e24f4"/><stop offset=".601" stop-color="#0e25f5"/><stop offset=".61" stop-color="#0d27f5"/><stop offset=".618" stop-color="#0c28f5"/><stop offset=".625" stop-color="#0b29f6"/><stop offset=".632" stop-color="#0c28f5"/><stop offset=".639" stop-color="#0d26f5"/><stop offset=".648" stop-color="#1021f4"/><stop offset=".66" stop-color="#141bf2"/><stop offset=".674" stop-color="#1913f0"/><stop offset=".693" stop-color="#2009ec"/><stop offset=".716" stop-color="#2802e3"/><stop offset=".752" stop-color="#3800d3"/><stop offset=".799" stop-color="#4100bb"/><stop offset=".858" stop-color="#4400a7"/><stop offset=".928" stop-color="#460098"/><stop offset="1" stop-color="#44008f"/></linearGradient>
<linearGradient id="s154" gradientUnits="userSpaceOnUse" x1="454.4" x2="29.5" spreadMethod="reflect"><stop offset="0" stop-color="#111ff3"/><stop offset=".104" stop-color="#1120f3"/><stop offset=".199" stop-color="#1120f3"/><stop offset=".293" stop-color="#1021f4"/><stop offset=".363" stop-color="#1022f4"/><stop offset=".422" stop-color="#0f23f4"/><stop offset=".469" stop-color="#0e24f4"/><stop offset=".505" stop-color="#0e25f5"/><stop offset=".533" stop-color="#0d27f5"/><stop offset=".556" stop-color="#0c28f5"/><stop offset=".575" stop-color="#0b29f5"/><stop offset=".589" stop-color="#0b2af6"/><stop offset=".601" stop-color="#0a2bf6"/><stop offset=".61" stop-color="#092df6"/><stop offset=".618" stop-color="#082ef7"/><stop offset=".625" stop-color="#082ff7"/><stop offset=".632" stop-color="#092df6"/><stop offset=".639" stop-color="#0b2af6"/><stop offset=".648" stop-color="#0e25f4"/><stop offset=".66" stop-color="#121ef3"/><stop offset=".674" stop-color="#1716f1"/><stop offset=".693" stop-color="#1e0aee"/><stop offset=".716" stop-color="#2702e4"/><stop offset=".752" stop-color="#3700d4"/><stop offset=".799" stop-color="#4100bb"/><stop offset=".858" stop-color="#4400a7"/><stop offset=".928" stop-color="#460098"/><stop offset="1" stop-color="#44008f"/></linearGradient>
<linearGradient id="s155" gradientUnits="userSpaceOnUse" x1="454.4" x2="29.5" spreadMethod="reflect"><stop offset="0" stop-color="#1021f4"/><stop offset=".104" stop-color="#1022f4"/><stop offset=".199" stop-color="#0f23f4"/><stop offset=".293" stop-color="#0e24f4"/><stop offset=".363" stop-color="#0e25f5"/><stop offset=".422" stop-color="#0d27f5"/><stop offset=".469" stop-color="#0c28f5"/><stop offset=".505" stop-color="#0b2af6"/><stop offset=".533" stop-color="#0a2cf6"/><stop offset=".556" stop-color="#092df6"/><stop offset=".575" stop-color="#082ef7"/><stop offset=".589" stop-color="#0730f7"/><stop offset=".601" stop-color="#0731f7"/><stop offset=".61" stop-color="#0632f8"/><stop offset=".618" stop-color="#0534f8"/><stop offset=".625" stop-color="#0534f8"/><stop offset=".632" stop-color="#0632f8"/><stop offset=".639" stop-color="#082ff7"/><stop offset=".648" stop-color="#0b29f5"/><stop offset=".66" stop-color="#1022f4"/><stop offset=".674" stop-color="#1519f2"/><stop offset=".693" stop-color="#1d0cee"/><stop offset=".716" stop-color="#2603e5"/><stop offset=".752" stop-color="#3600d5"/><stop offset=".799" stop-color="#4100bb"/><stop offset=".858" stop-color="#4400a7"/><stop offset=".928" stop-color="#460098"/><stop offset="1" stop-color="#44008f"/></linearGradient>
<linearGradient id="s156" gradientUnits="userSpaceOnUse" x1="454.4" x2="29.5" spreadMethod="reflect"><stop offset="0" stop-color="#0f23f4"/><stop offset=".104" stop-color="#0e24f4"/><stop offset=".199" stop-color="#0e25f5"/><stop offset=".293" stop-color="#0d27f5"/><stop offset=".363" stop-color="#0c29f5"/><stop offset=".422" stop-color="#0a2bf6"/><stop offset=".469" stop-color="#092df6"/><stop offset=".505" stop-color="#082ef7"/><stop offset=".533" stop-color="#0730f7"/><stop offset=".556" stop-color="#0631f7"/><stop offset=".575" stop-color="#0533f8"/><stop offset=".589" stop-color="#0435f8"/><stop offset=".601" stop-color="#0337f9"/><stop offset=".61" stop-color="#0238f9"/><stop offset=".618" stop-color="#0239f9"/><stop offset=".625" stop-color="#013af9"/><stop offset=".632" stop-color="#0337f9"/><stop offset=".639" stop-color="#0533f8"/><stop offset=".648" stop-color="#092ef7"/><stop offset=".66" stop-color="#0d26f5"/><stop offset=".674" stop-color="#131cf2"/><stop offset=".693" stop-color="#1b0eef"/><stop offset=".716" stop-color="#2504e6"/><stop offset=".752" stop-color="#3600d5"/><stop offset=".799" stop-color="#4100bc"/><stop offset=".858" stop-color="#4400a7"/><stop offset=".928" stop-color="#460098"/><stop offset="1" stop-color="#44008f"/></linearGradient>
<linearGradient id="s157" gradientUnits="userSpaceOnUse" x1="454.4" x2="29.5" spreadMethod="reflect"><stop offset="0" stop-color="#0e25f5"/><stop offset=".104" stop-color="#0d27f5"/><stop offset=".199" stop-color="#0c28f5"/><stop offset=".293" stop-color="#0b2af6"/><stop offset=".363" stop-color="#0a2cf6"/><stop offset=".422" stop-color="#082ef7"/><stop offset=".469" stop-color="#0730f7"/><stop offset=".505" stop-color="#0632f8"/><stop offset=".533" stop-color="#0534f8"/><stop offset=".556" stop-color="#0436f9"/><stop offset=".575" stop-color="#0238f9"/><stop offset=".589" stop-color="#013bfa"/><stop offset=".601" stop-color="#003df9"/><stop offset=".61" stop-color="#0040f7"/><stop offset=".618" stop-color="#0041f6"/><stop offset=".625" stop-color="#0041f6"/><stop offset=".632" stop-color="#003df9"/><stop offset=".639" stop-color="#0239f9"/><stop offset=".648" stop-color="#0632f8"/><stop offset=".66" stop-color="#0b2af6"/><stop offset=".674" stop-color="#1120f3"/><stop offset=".693" stop-color="#1a11f0"/><stop offset=".716" stop-color="#2405e7"/><stop offset=".752" stop-color="#3500d6"/><stop offset=".799" stop-color="#4000bc"/><stop offset=".858" stop-color="#4400a7"/><stop offset=".928" stop-color="#460098"/><stop offset="1" stop-color="#44008f"/></linearGradient>
<linearGradient id="s158" gradientUnits="userSpaceOnUse" x1="454.4" x2="29.5" spreadMethod="reflect"><stop offset="0" stop-color="#0c27f5"/><stop offset=".104" stop-color="#0b29f5"/><stop offset=".199" stop-color="#0a2bf6"/><stop offset=".293" stop-color="#092df6"/><stop offset=".363" stop-color="#082ff7"/><stop offset=".422" stop-color="#0731f7"/><stop offset=".469" stop-color="#0533f8"/><stop offset=".505" stop-color="#0436f8"/><stop offset=".533" stop-color="#0238f9"/><stop offset=".556" stop-color="#013afa"/><stop offset=".575" stop-color="#003ef8"/><stop offset=".589" stop-color="#0043f5"/><stop offset=".601" stop-color="#0046f3"/><stop offset=".61" stop-color="#004af0"/><stop offset=".618" stop-color="#004bef"/><stop offset=".625" stop-color="#004bef"/><stop offset=".632" stop-color="#0047f2"/><stop offset=".639" stop-color="#0040f7"/><stop offset=".648" stop-color="#0338f9"/><stop offset=".66" stop-color="#082ff7"/><stop offset=".674" stop-color="#0f23f4"/><stop offset=".693" stop-color="#1814f0"/><stop offset=".716" stop-color="#2306e8"/><stop offset=".752" stop-color="#3500d6"/><stop offset=".799" stop-color="#4000bc"/><stop offset=".858" stop-color="#4400a7"/><stop offset=".928" stop-color="#460098"/><stop offset="1" stop-color="#44008f"/></linearGradient>
<linearGradient id="s159" gradientUnits="userSpaceOnUse" x1="454.4" x2="29.5" spreadMethod="reflect"><stop offset="0" stop-color="#0b29f6"/><stop offset=".104" stop-color="#0a2bf6"/><stop offset=".199" stop-color="#092df6"/><stop offset=".293" stop-color="#082ff7"/><stop offset=".363" stop-color="#0631f7"/><stop offset=".422" stop-color="#0534f8"/><stop offset=".469" stop-color="#0337f9"/><stop offset=".505" stop-color="#013af9"/><stop offset=".533" stop-color="#003cfa"/><stop offset=".556" stop-color="#0041f6"/><stop offset=".575" stop-color="#0047f2"/><stop offset=".589" stop-color="#004cee"/><stop offset=".601" stop-color="#0052ea"/><stop offset=".61" stop-color="#0056e8"/><stop offset=".618" stop-color="#0057e6"/><stop offset=".625" stop-color="#0056e7"/><stop offset=".632" stop-color="#0051eb"/><stop offset=".639" stop-color="#0049f1"/><stop offset=".648" stop-color="#003ef9"/><stop offset=".66" stop-color="#0533f8"/><stop offset=".674" stop-color="#0d27f5"/><stop offset=".693" stop-color="#1716f1"/><stop offset=".716" stop-color="#2207ea"/><stop offset=".752" stop-color="#3400d7"/><stop offset=".799" stop-color="#4000bd"/><stop offset=".858" stop-color="#4400a7"/><stop offset=".928" stop-color="#460098"/><stop offset="1" stop-color="#44008f"/></linearGradient>
<linearGradient id="s160" gradientUnits="userSpaceOnUse" x1="454.4" x2="29.5" spreadMethod="reflect"><stop offset="0" stop-color="#0a2bf6"/><stop offset=".104" stop-color="#092df6"/><stop offset=".199" stop-color="#082ff7"/><stop offset=".293" stop-color="#0631f7"/><stop offset=".363" stop-color="#0534f8"/><stop offset=".422" stop-color="#0337f9"/><stop offset=".469" stop-color="#013afa"/><stop offset=".505" stop-color="#003ef8"/><stop offset=".533" stop-color="#0043f5"/><stop offset=".556" stop-color="#0049f1"/><stop offset=".575" stop-color="#0051eb"/><stop offset=".589" stop-color="#0058e6"/><stop offset=".601" stop-color="#005fe1"/><stop offset=".61" stop-color="#0063dd"/><stop offset=".618" stop-color="#0064dc"/><stop offset=".625" stop-color="#0062de"/><stop offset=".632" stop-color="#005ce3"/><stop offset=".639" stop-color="#0053ea"/><stop offset=".648" stop-color="#0046f3"/><stop offset=".66" stop-color="#0239f9"/><stop offset=".674" stop-color="#0a2bf6"/><stop offset=".693" stop-color="#1519f2"/><stop offset=".716" stop-color="#2108eb"/><stop offset=".752" stop-color="#3400d7"/><stop offset=".799" stop-color="#4000bd"/><stop offset=".858" stop-color="#4400a7"/><stop offset=".928" stop-color="#460098"/><stop offset="1" stop-color="#44008f"/></linearGradient>
<linearGradient id="s161" gradientUnits="userSpaceOnUse" x1="454.4" x2="29.5" spreadMethod="reflect"><stop offset="0" stop-color="#092df6"/><stop offset=".104" stop-color="#082ff7"/><stop offset=".199" stop-color="#0731f7"/><stop offset=".293" stop-color="#0534f8"/><stop offset=".363" stop-color="#0337f9"/><stop offset=".422" stop-color="#013afa"/><stop offset=".469" stop-color="#003ff8"/><stop offset=".505" stop-color="#0044f4"/><stop offset=".533" stop-color="#004bef"/><stop offset=".556" stop-color="#0052ea"/><stop offset=".575" stop-color="#005ce3"/><stop offset=".589" stop-color="#0064dc"/><stop offset=".601" stop-color="#006bd5"/><stop offset=".61" stop-color="#006fd1"/><stop offset=".618" stop-color="#006fd1"/><stop offset=".625" stop-color="#006dd3"/><stop offset=".632" stop-color="#0066da"/><stop offset=".639" stop-color="#005de2"/><stop offset=".648" stop-color="#004fec"/><stop offset=".66" stop-color="#003ff8"/><stop offset=".674" stop-color="#082ff7"/><stop offset=".693" stop-color="#131cf2"/><stop offset=".716" stop-color="#2008ec"/><stop offset=".752" stop-color="#3300d8"/><stop offset=".799" stop-color="#4000bd"/><stop offset=".858" stop-color="#4400a7"/><stop offset=".928" stop-color="#460098"/><stop offset="1" stop-color="#44008f"/></linearGradient>
<linearGradient id="s162" gradientUnits="userSpaceOnUse" x1="454.4" x2="29.5" spreadMethod="reflect"><stop offset="0" stop-color="#082ef7"/><stop offset=".104" stop-color="#0731f7"/><stop offset=".199" stop-color="#0533f8"/><stop offset=".293" stop-color="#0436f9"/><stop offset=".363" stop-color="#0239f9"/><stop offset=".422" stop-color="#003ef9"/><stop offset=".469" stop-color="#0044f4"/><stop offset=".505" stop-color="#004bef"/><stop offset=".533" stop-color="#0053ea"/><stop offset=".556" stop-color="#005ce3"/><stop offset=".575" stop-color="#0066da"/><stop offset=".589" stop-color="#006fd1"/><stop offset=".601" stop-color="#0077c9"/><stop offset=".61" stop-color="#007cc4"/><stop offset=".618" stop-color="#007cc4"/><stop offset=".625" stop-color="#0079c7"/><stop offset=".632" stop-color="#0071cf"/><stop offset=".639" stop-color="#0067d9"/><stop offset=".648" stop-color="#0059e5"/><stop offset=".66" stop-color="#0046f3"/><stop offset=".674" stop-color="#0533f8"/><stop offset=".693" stop-color="#121ff3"/><stop offset=".716" stop-color="#1f09ed"/><stop offset=".752" stop-color="#3300d8"/><stop offset=".799" stop-color="#4000bd"/><stop offset=".858" stop-color="#4400a7"/><stop offset=".928" stop-color="#460098"/><stop offset="1" stop-color="#44008f"/></linearGradient>
<linearGradient id="s163" gradientUnits="userSpaceOnUse" x1="454.4" x2="29.5" spreadMethod="reflect"><stop offset="0" stop-color="#0730f7"/><stop offset=".104" stop-color="#0632f8"/><stop offset=".199" stop-color="#0435f8"/><stop offset=".293" stop-color="#0238f9"/><stop offset=".363" stop-color="#003cfa"/><stop offset=".422" stop-color="#0043f5"/><stop offset=".469" stop-color="#004bf0"/><stop offset=".505" stop-color="#0053ea"/><stop offset=".533" stop-color="#005be4"/><stop offset=".556" stop-color="#0064dc"/><stop offset=".575" stop-color="#0070d0"/><stop offset=".589" stop-color="#007bc5"/><stop offset=".601" stop-color="#0084bb"/><stop offset=".61" stop-color="#0089b6"/><stop offset=".618" stop-color="#0089b6"/><stop offset=".625" stop-color="#0085ba"/><stop offset=".632" stop-color="#007dc3"/><stop offset=".639" stop-color="#0071cf"/><stop offset=".648" stop-color="#0063dd"/><stop offset=".66" stop-color="#004fed"/><stop offset=".674" stop-color="#0337f9"/><stop offset=".693" stop-color="#1021f4"/><stop offset=".716" stop-color="#1e0aee"/><stop offset=".752" stop-color="#3200d9"/><stop offset=".799" stop-color="#4000be"/><stop offset=".858" stop-color="#4400a7"/><stop offset=".928" stop-color="#460098"/><stop offset="1" stop-color="#44008f"/></linearGradient>
<linearGradient id="s164" gradientUnits="userSpaceOnUse" x1="454.4" x2="29.5" spreadMethod="reflect"><stop offset="0" stop-color="#0631f7"/><stop offset=".104" stop-color="#0534f8"/><stop offset=".199" stop-color="#0337f9"/><stop offset=".293" stop-color="#013bfa"/><stop offset=".363" stop-color="#0040f7"/><stop offset=".422" stop-color="#0048f2"/><stop offset=".469" stop-color="#0051eb"/><stop offset=".505" stop-color="#005ae4"/><stop offset=".533" stop-color="#0063dd"/><stop offset=".556" stop-color="#006dd3"/><stop offset=".575" stop-color="#007ac6"/><stop offset=".589" stop-color="#0087b8"/><stop offset=".601" stop-color="#0091ac"/><stop offset=".61" stop-color="#0096a6"/><stop offset=".618" stop-color="#0096a6"/><stop offset=".625" stop-color="#0092ab"/><stop offset=".632" stop-color="#0088b6"/><stop offset=".639" stop-color="#007dc3"/><stop offset=".648" stop-color="#006cd4"/><stop offset=".66" stop-color="#0057e6"/><stop offset=".674" stop-color="#003cfa"/><stop offset=".693" stop-color="#0e24f4"/><stop offset=".716" stop-color="#1d0bee"/><stop offset=".752" stop-color="#3200d9"/><stop offset=".799" stop-color="#4000be"/><stop offset=".858" stop-color="#4400a7"/><stop offset=".928" stop-color="#460098"/><stop offset="1" stop-color="#44008f"/></linearGradient>
<linearGradient id="s165" gradientUnits="userSpaceOnUse" x1="454.4" x2="29.5" spreadMethod="reflect"><stop offset="0" stop-color="#0533f8"/><stop offset=".104" stop-color="#0436f9"/><stop offset=".199" stop-color="#0239f9"/><stop offset=".293" stop-color="#003ef9"/><stop offset=".363" stop-color="#0044f4"/><stop offset=".422" stop-color="#004dee"/><stop offset=".469" stop-color="#0057e6"/><stop offset=".505" stop-color="#0061df"/><stop offset=".533" stop-color="#006ad6"/><stop offset=".556" stop-color="#0075cb"/><stop offset=".575" stop-color="#0084bb"/><stop offset=".589" stop-color="#0092ab"/><stop offset=".601" stop-color="#009d9c"/><stop offset=".61" stop-color="#00a196"/><stop offset=".618" stop-color="#00a197"/><stop offset=".625" stop-color="#009d9d"/><stop offset=".632" stop-color="#0094a8"/><stop offset=".639" stop-color="#0088b7"/><stop offset=".648" stop-color="#0076ca"/><stop offset=".66" stop-color="#0060e0"/><stop offset=".674" stop-color="#0042f6"/><stop offset=".693" stop-color="#0d27f5"/><stop offset=".716" stop-color="#1c0def"/><stop offset=".752" stop-color="#3100da"/><stop offset=".799" stop-color="#4000be"/><stop offset=".858" stop-color="#4400a7"/><stop offset=".928" stop-color="#460098"/><stop offset="1" stop-color="#44008f"/></linearGradient>
<linearGradient id="s166" gradientUnits="userSpaceOnUse" x1="454.4" x2="29.5" spreadMethod="reflect"><stop offset="0" stop-color="#0534f8"/><stop offset=".104" stop-color="#0337f9"/><stop offset=".199" stop-color="#013bfa"/><stop offset=".293" stop-color="#0041f7"/><stop offset=".363" stop-color="#0048f1"/><stop offset=".422" stop-color="#0053ea"/><stop offset=".469" stop-color="#005ee2"/><stop offset=".505" stop-color="#0067d9"/><stop offset=".533" stop-color="#0071cf"/><stop offset=".556" stop-color="#007ec2"/><stop offset=".575" stop-color="#008db0"/><stop offset=".589" stop-color="#009d9d"/><stop offset=".601" stop-color="#00a78e"/><stop offset=".61" stop-color="#00ab88"/><stop offset=".618" stop-color="#00ab88"/><stop offset=".625" stop-color="#00a78d"/><stop offset=".632" stop-color="#00a099"/><stop offset=".639" stop-color="#0094a9"/><stop offset=".648" stop-color="#0081be"/><stop offset=".66" stop-color="#0069d7"/><stop offset=".674" stop-color="#0049f1"/><stop offset=".693" stop-color="#0b2af6"/><stop offset=".716" stop-color="#1b0fef"/><stop offset=".752" stop-color="#3100da"/><stop offset=".799" stop-color="#4000be"/><stop offset=".858" stop-color="#4400a7"/><stop offset=".928" stop-color="#460098"/><stop offset="1" stop-color="#44008f"/></linearGradient>
<linearGradient id="s167" gradientUnits="userSpaceOnUse" x1="454.4" x2="29.5" spreadMethod="reflect"><stop offset="0" stop-color="#0436f9"/><stop offset=".104" stop-color="#0239f9"/><stop offset=".199" stop-color="#003df9"/><stop offset=".293" stop-color="#0044f4"/><stop offset=".363" stop-color="#004dee"/><stop offset=".422" stop-color="#0058e6"/><stop offset=".469" stop-color="#0063dd"/><stop offset=".505" stop-color="#006dd3"/><stop offset=".533" stop-color="#0078c8"/><stop offset=".556" stop-color="#0085ba"/><stop offset=".575" stop-color="#0097a5"/><stop offset=".589" stop-color="#00a591"/><stop offset=".601" stop-color="#00b081"/><stop offset=".61" stop-color="#00b37a"/><stop offset=".618" stop-color="#00b379"/><stop offset=".625" stop-color="#00b27d"/><stop offset=".632" stop-color="#00aa88"/><stop offset=".639" stop-color="#009f9a"/><stop offset=".648" stop-color="#008cb2"/><stop offset=".66" stop-color="#0071cf"/><stop offset=".674" stop-color="#004fec"/><stop offset=".693" stop-color="#092cf6"/><stop offset=".716" stop-color="#1a10ef"/><stop offset=".752" stop-color="#3100da"/><stop offset=".799" stop-color="#4000be"/><stop offset=".858" stop-color="#4400a7"/><stop offset=".928" stop-color="#460098"/><stop offset="1" stop-color="#44008f"/></linearGradient>
<linearGradient id="s168" gradientUnits="userSpaceOnUse" x1="454.4" x2="29.5" spreadMethod="reflect"><stop offset="0" stop-color="#0337f9"/><stop offset=".104" stop-color="#013bfa"/><stop offset=".199" stop-color="#0040f7"/><stop offset=".293" stop-color="#0048f2"/><stop offset=".363" stop-color="#0051eb"/><stop offset=".422" stop-color="#005de2"/><stop offset=".469" stop-color="#0068d8"/><stop offset=".505" stop-color="#0073cd"/><stop offset=".533" stop-color="#007fc1"/><stop offset=".556" stop-color="#008cb2"/><stop offset=".575" stop-color="#009d9c"/><stop offset=".589" stop-color="#00ac86"/><stop offset=".601" stop-color="#00b475"/><stop offset=".61" stop-color="#00b66d"/><stop offset=".618" stop-color="#00b76c"/><stop offset=".625" stop-color="#00b66f"/><stop offset=".632" stop-color="#00b378"/><stop offset=".639" stop-color="#00aa8a"/><stop offset=".648" stop-color="#0096a6"/><stop offset=".66" stop-color="#007ac6"/><stop offset=".674" stop-color="#0056e7"/><stop offset=".693" stop-color="#082ff7"/><stop offset=".716" stop-color="#1a11f0"/><stop offset=".752" stop-color="#3000db"/><stop offset=".799" stop-color="#4000bf"/><stop offset=".858" stop-color="#4400a7"/><stop offset=".928" stop-color="#460098"/><stop offset="1" stop-color="#44008f"/></linearGradient>
<linearGradient id="s169" gradientUnits="userSpaceOnUse" x1="454.4" x2="29.5" spreadMethod="reflect"><stop offset="0" stop-color="#0239f9"/><stop offset=".104" stop-color="#003dfa"/><stop offset=".199" stop-color="#0042f5"/><stop offset=".293" stop-color="#004bef"/><stop offset=".363" stop-color="#0056e8"/><stop offset=".422" stop-color="#0061df"/><stop offset=".469" stop-color="#006dd3"/><stop offset=".505" stop-color="#0079c7"/><stop offset=".533" stop-color="#0084bb"/><stop offset=".556" stop-color="#0092ab"/><stop offset=".575" stop-color="#00a394"/><stop offset=".589" stop-color="#00b37b"/><stop offset=".601" stop-color="#00b76a"/><stop offset=".61" stop-color="#00ba61"/><stop offset=".618" stop-color="#00ba5e"/><stop offset=".625" stop-color="#00ba60"/><stop offset=".632" stop-color="#00b869"/><stop offset=".639" stop-color="#00b379"/><stop offset=".648" stop-color="#00a098"/><stop offset=".66" stop-color="#0082bd"/><stop offset=".674" stop-color="#005ce3"/><stop offset=".693" stop-color="#0631f7"/><stop offset=".716" stop-color="#1913f0"/><stop offset=".752" stop-color="#3000db"/><stop offset=".799" stop-color="#4000bf"/><stop offset=".858" stop-color="#4400a7"/><stop offset=".928" stop-color="#460098"/><stop offset="1" stop-color="#44008f"/></linearGradient>
<linearGradient id="s170" gradientUnits="userSpaceOnUse" x1="454.4" x2="29.5" spreadMethod="reflect"><stop offset="0" stop-color="#013afa"/><stop offset=".104" stop-color="#003ff8"/><stop offset=".199" stop-color="#0045f4"/><stop offset=".293" stop-color="#004fec"/><stop offset=".363" stop-color="#005ae5"/><stop offset=".422" stop-color="#0065db"/><stop offset=".469" stop-color="#0072ce"/><stop offset=".505" stop-color="#007ec2"/><stop offset=".533" stop-color="#0089b5"/><stop offset=".556" stop-color="#0096a5"/><stop offset=".575" stop-color="#00a88c"/><stop offset=".589" stop-color="#00b572"/><stop offset=".601" stop-color="#00ba5f"/><stop offset=".61" stop-color="#00bc53"/><stop offset=".618" stop-color="#00bd4f"/><stop offset=".625" stop-color="#00bd50"/><stop offset=".632" stop-color="#00bb59"/><stop offset=".639" stop-color="#00b76c"/><stop offset=".648" stop-color="#00a98b"/><stop offset=".66" stop-color="#0089b5"/><stop offset=".674" stop-color="#0062de"/><stop offset=".693" stop-color="#0534f8"/><stop offset=".716" stop-color="#1814f0"/><stop offset=".752" stop-color="#2f00dc"/><stop offset=".799" stop-color="#4000bf"/><stop offset=".858" stop-color="#4400a7"/><stop offset=".928" stop-color="#460098"/><stop offset="1" stop-color="#44008f"/></linearGradient>
<linearGradient id="s171" gradientUnits="userSpaceOnUse" x1="454.4" x2="29.5" spreadMethod="reflect"><stop offset="0" stop-color="#003cfa"/><stop offset=".104" stop-color="#0041f6"/><stop offset=".199" stop-color="#0048f1"/><stop offset=".293" stop-color="#0053ea"/><stop offset=".363" stop-color="#005ee2"/><stop offset=".422" stop-color="#0069d7"/><stop offset=".469" stop-color="#0076ca"/><stop offset=".505" stop-color="#0083bd"/><stop offset=".533" stop-color="#008db0"/><stop offset=".556" stop-color="#009ba0"/><stop offset=".575" stop-color="#00ad84"/><stop offset=".589" stop-color="#00b76a"/><stop offset=".601" stop-color="#00bc55"/><stop offset=".61" stop-color="#00be45"/><stop offset=".618" stop-color="#01bf3c"/><stop offset=".625" stop-color="#02bf3a"/><stop offset=".632" stop-color="#00be48"/><stop offset=".639" stop-color="#00ba5d"/><stop offset=".648" stop-color="#00b17f"/><stop offset=".66" stop-color="#0090ad"/><stop offset=".674" stop-color="#0066da"/><stop offset=".693" stop-color="#0436f8"/><stop offset=".716" stop-color="#1715f1"/><stop offset=".752" stop-color="#2f00dc"/><stop offset=".799" stop-color="#4000bf"/><stop offset=".858" stop-color="#4400a7"/><stop offset=".928" stop-color="#460098"/><stop offset="1" stop-color="#44008f"/></linearGradient>
<linearGradient id="s172" gradientUnits="userSpaceOnUse" x1="454.4" x2="29.5" spreadMethod="reflect"><stop offset="0" stop-color="#003df9"/><stop offset=".104" stop-color="#0043f5"/><stop offset=".199" stop-color="#004bef"/><stop offset=".293" stop-color="#0056e8"/><stop offset=".363" stop-color="#0061df"/><stop offset=".422" stop-color="#006dd3"/><stop offset=".469" stop-color="#007ac6"/><stop offset=".505" stop-color="#0086b8"/><stop offset=".533" stop-color="#0091ac"/><stop offset=".556" stop-color="#009e9c"/><stop offset=".575" stop-color="#00b27d"/><stop offset=".589" stop-color="#00b962"/><stop offset=".601" stop-color="#00be4a"/><stop offset=".61" stop-color="#02bf32"/><stop offset=".618" stop-color="#04c026"/><stop offset=".625" stop-color="#04c021"/><stop offset=".632" stop-color="#03bf2f"/><stop offset=".639" stop-color="#00bd50"/><stop offset=".648" stop-color="#00b476"/><stop offset=".66" stop-color="#0095a7"/><stop offset=".674" stop-color="#006ad6"/><stop offset=".693" stop-color="#0337f9"/><stop offset=".716" stop-color="#1716f1"/><stop offset=".752" stop-color="#2f00dc"/><stop offset=".799" stop-color="#4000bf"/><stop offset=".858" stop-color="#4400a7"/><stop offset=".928" stop-color="#460098"/><stop offset="1" stop-color="#44008f"/></linearGradient>
<linearGradient id="s173" gradientUnits="userSpaceOnUse" x1="454.4" x2="29.5" spreadMethod="reflect"><stop offset="0" stop-color="#003ff8"/><stop offset=".104" stop-color="#0046f3"/><stop offset=".199" stop-color="#004eed"/><stop offset=".293" stop-color="#0059e5"/><stop offset=".363" stop-color="#0064dc"/><stop offset=".422" stop-color="#0070d0"/><stop offset=".469" stop-color="#007ec2"/><stop offset=".505" stop-color="#008ab4"/><stop offset=".533" stop-color="#0093a9"/><stop offset=".556" stop-color="#00a198"/><stop offset=".575" stop-color="#00b378"/><stop offset=".589" stop-color="#00bb5a"/><stop offset=".601" stop-color="#01bf3e"/><stop offset=".61" stop-color="#04c021"/><stop offset=".618" stop-color="#04c013"/><stop offset=".625" stop-color="#04c00a"/><stop offset=".632" stop-color="#04c01b"/><stop offset=".639" stop-color="#01be43"/><stop offset=".648" stop-color="#00b670"/><stop offset=".66" stop-color="#009aa2"/><stop offset=".674" stop-color="#006dd3"/><stop offset=".693" stop-color="#0239f9"/><stop offset=".716" stop-color="#1617f1"/><stop offset=".752" stop-color="#2e00dd"/><stop offset=".799" stop-color="#4000bf"/><stop offset=".858" stop-color="#4400a7"/><stop offset=".928" stop-color="#460098"/><stop offset="1" stop-color="#44008f"/></linearGradient>
<linearGradient id="s174" gradientUnits="userSpaceOnUse" x1="454.4" x2="29.5" spreadMethod="reflect"><stop offset="0" stop-color="#0042f6"/><stop offset=".104" stop-color="#0048f1"/><stop offset=".199" stop-color="#0051eb"/><stop offset=".293" stop-color="#005ce3"/><stop offset=".363" stop-color="#0067d9"/><stop offset=".422" stop-color="#0073cd"/><stop offset=".469" stop-color="#0081bf"/><stop offset=".505" stop-color="#008cb1"/><stop offset=".533" stop-color="#0095a7"/><stop offset=".556" stop-color="#00a394"/><stop offset=".575" stop-color="#00b574"/><stop offset=".589" stop-color="#00bc54"/><stop offset=".601" stop-color="#02bf32"/><stop offset=".61" stop-color="#04c012"/><stop offset=".618" stop-color="#09c004"/><stop offset=".625" stop-color="#13c003"/><stop offset=".632" stop-color="#04c00d"/><stop offset=".639" stop-color="#02bf39"/><stop offset=".648" stop-color="#00b76b"/><stop offset=".66" stop-color="#009c9e"/><stop offset=".674" stop-color="#006fd1"/><stop offset=".693" stop-color="#013af9"/><stop offset=".716" stop-color="#1618f1"/><stop offset=".752" stop-color="#2e00dd"/><stop offset=".799" stop-color="#4000c0"/><stop offset=".858" stop-color="#4400a7"/><stop offset=".928" stop-color="#460098"/><stop offset="1" stop-color="#44008f"/></linearGradient>
<linearGradient id="s175" gradientUnits="userSpaceOnUse" x1="454.4" x2="189" spreadMethod="reflect"><stop offset="0" stop-color="#0044f4"/><stop offset=".167" stop-color="#004cef"/><stop offset=".299" stop-color="#0053ea"/><stop offset=".412" stop-color="#005ae4"/><stop offset=".514" stop-color="#0063dd"/><stop offset=".601" stop-color="#006cd4"/><stop offset=".676" stop-color="#0076ca"/><stop offset=".74" stop-color="#0081be"/><stop offset=".793" stop-color="#008cb2"/><stop offset=".838" stop-color="#0094a8"/><stop offset=".876" stop-color="#009e9b"/><stop offset=".906" stop-color="#00af81"/><stop offset=".932" stop-color="#00ba5f"/><stop offset=".955" stop-color="#02bf35"/><stop offset=".974" stop-color="#04c017"/><stop offset=".989" stop-color="#04c00e"/><stop offset="1" stop-color="#04c00e"/></linearGradient>
<linearGradient id="s176" gradientUnits="userSpaceOnUse" x1="454.4" x2="189" spreadMethod="reflect"><stop offset="0" stop-color="#0048f2"/><stop offset=".167" stop-color="#004fec"/><stop offset=".299" stop-color="#0057e7"/><stop offset=".412" stop-color="#005ee2"/><stop offset=".514" stop-color="#0066da"/><stop offset=".601" stop-color="#006fd1"/><stop offset=".676" stop-color="#0079c7"/><stop offset=".74" stop-color="#0084bb"/><stop offset=".793" stop-color="#008eaf"/><stop offset=".838" stop-color="#0096a6"/><stop offset=".876" stop-color="#00a098"/><stop offset=".906" stop-color="#00b27d"/><stop offset=".932" stop-color="#00bb5a"/><stop offset=".955" stop-color="#03c02b"/><stop offset=".974" stop-color="#04c00d"/><stop offset=".989" stop-color="#05c004"/><stop offset="1" stop-color="#04c004"/></linearGradient>
<linearGradient id="s177" gradientUnits="userSpaceOnUse" x1="454.4" x2="189" spreadMethod="reflect"><stop offset="0" stop-color="#004cef"/><stop offset=".167" stop-color="#0053e9"/><stop offset=".299" stop-color="#005ae4"/><stop offset=".412" stop-color="#0062de"/><stop offset=".514" stop-color="#0069d7"/><stop offset=".601" stop-color="#0072ce"/><stop offset=".676" stop-color="#007dc3"/><stop offset=".74" stop-color="#0087b7"/><stop offset=".793" stop-color="#0090ad"/><stop offset=".838" stop-color="#0098a3"/><stop offset=".876" stop-color="#00a295"/><stop offset=".906" stop-color="#00b37a"/><stop offset=".932" stop-color="#00bc56"/><stop offset=".955" stop-color="#04c023"/><stop offset=".974" stop-color="#04c006"/><stop offset=".989" stop-color="#0cc003"/><stop offset="1" stop-color="#0bc004"/></linearGradient>
<linearGradient id="s178" gradientUnits="userSpaceOnUse" x1="454.4" x2="189" spreadMethod="reflect"><stop offset="0" stop-color="#004fec"/><stop offset=".167" stop-color="#0057e7"/><stop offset=".299" stop-color="#005ee2"/><stop offset=".412" stop-color="#0065db"/><stop offset=".514" stop-color="#006dd3"/><stop offset=".601" stop-color="#0076ca"/><stop offset=".676" stop-color="#0080c0"/><stop offset=".74" stop-color="#008bb4"/><stop offset=".793" stop-color="#0092aa"/><stop offset=".838" stop-color="#009ba1"/><stop offset=".876" stop-color="#00a492"/><stop offset=".906" stop-color="#00b378"/><stop offset=".932" stop-color="#00bc53"/><stop offset=".955" stop-color="#04c020"/><stop offset=".974" stop-color="#06c004"/><stop offset=".989" stop-color="#0fc003"/><stop offset="1" stop-color="#0fc003"/></linearGradient>
<linearGradient id="s179" gradientUnits="userSpaceOnUse" x1="454.4" x2="189" spreadMethod="reflect"><stop offset="0" stop-color="#0053e9"/><stop offset=".167" stop-color="#005be4"/><stop offset=".299" stop-color="#0062de"/><stop offset=".412" stop-color="#0068d8"/><stop offset=".514" stop-color="#0070d0"/><stop offset=".601" stop-color="#0079c7"/><stop offset=".676" stop-color="#0083bc"/><stop offset=".74" stop-color="#008db1"/><stop offset=".793" stop-color="#0094a8"/><stop offset=".838" stop-color="#009c9e"/><stop offset=".876" stop-color="#00a690"/><stop offset=".906" stop-color="#00b476"/><stop offset=".932" stop-color="#00bc52"/><stop offset=".955" stop-color="#04c01f"/><stop offset=".974" stop-color="#06c004"/><stop offset=".989" stop-color="#0fc003"/><stop offset="1" stop-color="#0fc003"/></linearGradient>
<linearGradient id="s180" gradientUnits="userSpaceOnUse" x1="454.4" x2="189" spreadMethod="reflect"><stop offset="0" stop-color="#0057e7"/><stop offset=".167" stop-color="#005fe1"/><stop offset=".299" stop-color="#0065db"/><stop offset=".412" stop-color="#006cd4"/><stop offset=".514" stop-color="#0074cc"/><stop offset=".601" stop-color="#007dc3"/><stop offset=".676" stop-color="#0086b8"/><stop offset=".74" stop-color="#008fae"/><stop offset=".793" stop-color="#0097a5"/><stop offset=".838" stop-color="#009e9b"/><stop offset=".876" stop-color="#00a78e"/><stop offset=".906" stop-color="#00b475"/><stop offset=".932" stop-color="#00bc52"/><stop offset=".955" stop-color="#04c022"/><stop offset=".974" stop-color="#04c006"/><stop offset=".989" stop-color="#0cc003"/><stop offset="1" stop-color="#0bc004"/></linearGradient>
<linearGradient id="s181" gradientUnits="userSpaceOnUse" x1="454.4" x2="189" spreadMethod="reflect"><stop offset="0" stop-color="#005be4"/><stop offset=".167" stop-color="#0062de"/><stop offset=".299" stop-color="#0068d8"/><stop offset=".412" stop-color="#006fd1"/><stop offset=".514" stop-color="#0077c9"/><stop offset=".601" stop-color="#0080c0"/><stop offset=".676" stop-color="#0089b5"/><stop offset=".74" stop-color="#0091ac"/><stop offset=".793" stop-color="#0099a3"/><stop offset=".838" stop-color="#00a099"/><stop offset=".876" stop-color="#00a98b"/><stop offset=".906" stop-color="#00b475"/><stop offset=".932" stop-color="#00bc54"/><stop offset=".955" stop-color="#04c027"/><stop offset=".974" stop-color="#04c00c"/><stop offset=".989" stop-color="#05c004"/><stop offset="1" stop-color="#05c004"/></linearGradient>
<linearGradient id="s182" gradientUnits="userSpaceOnUse" x1="454.4" x2="189" spreadMethod="reflect"><stop offset="0" stop-color="#005ee1"/><stop offset=".167" stop-color="#0065db"/><stop offset=".299" stop-color="#006cd4"/><stop offset=".412" stop-color="#0073cd"/><stop offset=".514" stop-color="#007bc5"/><stop offset=".601" stop-color="#0083bc"/><stop offset=".676" stop-color="#008cb2"/><stop offset=".74" stop-color="#0093a9"/><stop offset=".793" stop-color="#009ba0"/><stop offset=".838" stop-color="#00a196"/><stop offset=".876" stop-color="#00aa89"/><stop offset=".906" stop-color="#00b474"/><stop offset=".932" stop-color="#00bb57"/><stop offset=".955" stop-color="#03bf2f"/><stop offset=".974" stop-color="#04c015"/><stop offset=".989" stop-color="#04c00c"/><stop offset="1" stop-color="#04c00c"/></linearGradient>
<linearGradient id="s183" gradientUnits="userSpaceOnUse" x1="454.4" x2="189" spreadMethod="reflect"><stop offset="0" stop-color="#0062de"/><stop offset=".167" stop-color="#0069d7"/><stop offset=".299" stop-color="#006fd1"/><stop offset=".412" stop-color="#0076ca"/><stop offset=".514" stop-color="#007ec2"/><stop offset=".601" stop-color="#0086b9"/><stop offset=".676" stop-color="#008eaf"/><stop offset=".74" stop-color="#0096a6"/><stop offset=".793" stop-color="#009d9d"/><stop offset=".838" stop-color="#00a394"/><stop offset=".876" stop-color="#00ab87"/><stop offset=".906" stop-color="#00b474"/><stop offset=".932" stop-color="#00bb5a"/><stop offset=".955" stop-color="#02bf38"/><stop offset=".974" stop-color="#04c01f"/><stop offset=".989" stop-color="#04c016"/><stop offset="1" stop-color="#04c016"/></linearGradient>
<linearGradient id="s184" gradientUnits="userSpaceOnUse" x1="454.4" x2="189" spreadMethod="reflect"><stop offset="0" stop-color="#0065db"/><stop offset=".167" stop-color="#006cd4"/><stop offset=".299" stop-color="#0072ce"/><stop offset=".412" stop-color="#0079c7"/><stop offset=".514" stop-color="#0081be"/><stop offset=".601" stop-color="#0089b5"/><stop offset=".676" stop-color="#0091ac"/><stop offset=".74" stop-color="#0098a4"/><stop offset=".793" stop-color="#009e9b"/><stop offset=".838" stop-color="#00a591"/><stop offset=".876" stop-color="#00ad85"/><stop offset=".906" stop-color="#00b474"/><stop offset=".932" stop-color="#00ba5d"/><stop offset=".955" stop-color="#01be42"/><stop offset=".974" stop-color="#03c02a"/><stop offset=".989" stop-color="#04c021"/><stop offset="1" stop-color="#04c021"/></linearGradient>
<linearGradient id="s185" gradientUnits="userSpaceOnUse" x1="454.4" x2="189" spreadMethod="reflect"><stop offset="0" stop-color="#0068d8"/><stop offset=".167" stop-color="#006fd1"/><stop offset=".299" stop-color="#0076ca"/><stop offset=".412" stop-color="#007dc3"/><stop offset=".514" stop-color="#0084bb"/><stop offset=".601" stop-color="#008cb2"/><stop offset=".676" stop-color="#0093aa"/><stop offset=".74" stop-color="#009aa1"/><stop offset=".793" stop-color="#00a098"/><stop offset=".838" stop-color="#00a68f"/><stop offset=".876" stop-color="#00ae83"/><stop offset=".906" stop-color="#00b474"/><stop offset=".932" stop-color="#00ba60"/><stop offset=".955" stop-color="#00be4a"/><stop offset=".974" stop-color="#02bf36"/><stop offset=".989" stop-color="#03bf2e"/><stop offset="1" stop-color="#03bf2e"/></linearGradient>
<linearGradient id="s186" gradientUnits="userSpaceOnUse" x1="454.4" x2="189" spreadMethod="reflect"><stop offset="0" stop-color="#006cd4"/><stop offset=".167" stop-color="#0073cd"/><stop offset=".299" stop-color="#0079c7"/><stop offset=".412" stop-color="#0080c0"/><stop offset=".514" stop-color="#0087b7"/><stop offset=".601" stop-color="#008eaf"/><stop offset=".676" stop-color="#0095a7"/><stop offset=".74" stop-color="#009c9f"/><stop offset=".793" stop-color="#00a296"/><stop offset=".838" stop-color="#00a88c"/><stop offset=".876" stop-color="#00af81"/><stop offset=".906" stop-color="#00b574"/><stop offset=".932" stop-color="#00b963"/><stop offset=".955" stop-color="#00bd50"/><stop offset=".974" stop-color="#01be41"/><stop offset=".989" stop-color="#02bf3a"/><stop offset="1" stop-color="#02bf39"/></linearGradient>
<linearGradient id="s187" gradientUnits="userSpaceOnUse" x1="454.4" x2="189" spreadMethod="reflect"><stop offset="0" stop-color="#006fd1"/><stop offset=".167" stop-color="#0076ca"/><stop offset=".299" stop-color="#007dc3"/><stop offset=".412" stop-color="#0083bc"/><stop offset=".514" stop-color="#008ab4"/><stop offset=".601" stop-color="#0090ad"/><stop offset=".676" stop-color="#0097a5"/><stop offset=".74" stop-color="#009e9c"/><stop offset=".793" stop-color="#00a493"/><stop offset=".838" stop-color="#00aa89"/><stop offset=".876" stop-color="#00b17f"/><stop offset=".906" stop-color="#00b574"/><stop offset=".932" stop-color="#00b965"/><stop offset=".955" stop-color="#00bc55"/><stop offset=".974" stop-color="#00be4a"/><stop offset=".989" stop-color="#00be45"/><stop offset="1" stop-color="#01be43"/></linearGradient>
<linearGradient id="s188" gradientUnits="userSpaceOnUse" x1="454.4" x2="189" spreadMethod="reflect"><stop offset="0" stop-color="#0073cd"/><stop offset=".167" stop-color="#007ac6"/><stop offset=".299" stop-color="#0080c0"/><stop offset=".412" stop-color="#0086b8"/><stop offset=".514" stop-color="#008db1"/><stop offset=".601" stop-color="#0093aa"/><stop offset=".676" stop-color="#0099a2"/><stop offset=".74" stop-color="#009f99"/><stop offset=".793" stop-color="#00a590"/><stop offset=".838" stop-color="#00ac87"/><stop offset=".876" stop-color="#00b27d"/><stop offset=".906" stop-color="#00b573"/><stop offset=".932" stop-color="#00b866"/><stop offset=".955" stop-color="#00bb59"/><stop offset=".974" stop-color="#00bd50"/><stop offset=".989" stop-color="#00bd4c"/><stop offset="1" stop-color="#00be4b"/></linearGradient>
<linearGradient id="s189" gradientUnits="userSpaceOnUse" x1="454.4" x2="189" spreadMethod="reflect"><stop offset="0" stop-color="#0076ca"/><stop offset=".167" stop-color="#007dc3"/><stop offset=".299" stop-color="#0083bc"/><stop offset=".412" stop-color="#0089b5"/><stop offset=".514" stop-color="#008fae"/><stop offset=".601" stop-color="#0095a7"/><stop offset=".676" stop-color="#009ba0"/><stop offset=".74" stop-color="#00a197"/><stop offset=".793" stop-color="#00a78e"/><stop offset=".838" stop-color="#00ad84"/><stop offset=".876" stop-color="#00b37b"/><stop offset=".906" stop-color="#00b572"/><stop offset=".932" stop-color="#00b867"/><stop offset=".955" stop-color="#00ba5c"/><stop offset=".974" stop-color="#00bc55"/><stop offset=".989" stop-color="#00bc50"/><stop offset="1" stop-color="#00bd4f"/></linearGradient>
<linearGradient id="s190" gradientUnits="userSpaceOnUse" x1="454.4" x2="189" spreadMethod="reflect"><stop offset="0" stop-color="#007ac6"/><stop offset=".167" stop-color="#0081bf"/><stop offset=".299" stop-color="#0086b9"/><stop offset=".412" stop-color="#008cb2"/><stop offset=".514" stop-color="#0091ac"/><stop offset=".601" stop-color="#0097a5"/><stop offset=".676" stop-color="#009d9d"/><stop offset=".74" stop-color="#00a394"/><stop offset=".793" stop-color="#00a98b"/><stop offset=".838" stop-color="#00af82"/><stop offset=".876" stop-color="#00b379"/><stop offset=".906" stop-color="#00b571"/><stop offset=".932" stop-color="#00b867"/><stop offset=".955" stop-color="#00ba5e"/><stop offset=".974" stop-color="#00bb58"/><stop offset=".989" stop-color="#00bc54"/><stop offset="1" stop-color="#00bc52"/></linearGradient>
<linearGradient id="s191" gradientUnits="userSpaceOnUse" x1="454.4" x2="189" spreadMethod="reflect"><stop offset="0" stop-color="#007dc3"/><stop offset=".167" stop-color="#0084bc"/><stop offset=".299" stop-color="#0089b5"/><stop offset=".412" stop-color="#008eaf"/><stop offset=".514" stop-color="#0093a9"/><stop offset=".601" stop-color="#0099a2"/><stop offset=".676" stop-color="#009f9a"/><stop offset=".74" stop-color="#00a492"/><stop offset=".793" stop-color="#00aa89"/><stop offset=".838" stop-color="#00b17f"/><stop offset=".876" stop-color="#00b477"/><stop offset=".906" stop-color="#00b66f"/><stop offset=".932" stop-color="#00b867"/><stop offset=".955" stop-color="#00ba5f"/><stop offset=".974" stop-color="#00bb5a"/><stop offset=".989" stop-color="#00bc56"/><stop offset="1" stop-color="#00bc54"/></linearGradient>
<linearGradient id="s192" gradientUnits="userSpaceOnUse" x1="454.4" x2="189" spreadMethod="reflect"><stop offset="0" stop-color="#0080bf"/><stop offset=".167" stop-color="#0087b8"/><stop offset=".299" stop-color="#008cb2"/><stop offset=".412" stop-color="#0090ac"/><stop offset=".514" stop-color="#0096a6"/><stop offset=".601" stop-color="#009ba0"/><stop offset=".676" stop-color="#00a098"/><stop offset=".74" stop-color="#00a68f"/><stop offset=".793" stop-color="#00ac86"/><stop offset=".838" stop-color="#00b27d"/><stop offset=".876" stop-color="#00b475"/><stop offset=".906" stop-color="#00b66e"/><stop offset=".932" stop-color="#00b966"/><stop offset=".955" stop-color="#00ba60"/><stop offset=".974" stop-color="#00bb5b"/><stop offset=".989" stop-color="#00bb57"/><stop offset="1" stop-color="#00bc55"/></linearGradient>
<linearGradient id="s193" gradientUnits="userSpaceOnUse" x1="454.4" x2="189" spreadMethod="reflect"><stop offset="0" stop-color="#0083bc"/><stop offset=".167" stop-color="#008ab5"/><stop offset=".299" stop-color="#008eaf"/><stop offset=".412" stop-color="#0093aa"/><stop offset=".514" stop-color="#0098a4"/><stop offset=".601" stop-color="#009d9d"/><stop offset=".676" stop-color="#00a295"/><stop offset=".74" stop-color="#00a88c"/><stop offset=".793" stop-color="#00ae83"/><stop offset=".838" stop-color="#00b37b"/><stop offset=".876" stop-color="#00b573"/><stop offset=".906" stop-color="#00b76c"/><stop offset=".932" stop-color="#00b965"/><stop offset=".955" stop-color="#00ba60"/><stop offset=".974" stop-color="#00bb5b"/><stop offset=".989" stop-color="#00bb57"/><stop offset="1" stop-color="#00bc55"/></linearGradient>
<linearGradient id="s194" gradientUnits="userSpaceOnUse" x1="454.4" x2="189" spreadMethod="reflect"><stop offset="0" stop-color="#0087b8"/><stop offset=".167" stop-color="#008cb1"/><stop offset=".299" stop-color="#0090ad"/><stop offset=".412" stop-color="#0095a7"/><stop offset=".514" stop-color="#009aa1"/><stop offset=".601" stop-color="#009f9a"/><stop offset=".676" stop-color="#00a493"/><stop offset=".74" stop-color="#00aa8a"/><stop offset=".793" stop-color="#00b081"/><stop offset=".838" stop-color="#00b379"/><stop offset=".876" stop-color="#00b571"/><stop offset=".906" stop-color="#00b76a"/><stop offset=".932" stop-color="#00b964"/><stop offset=".955" stop-color="#00ba5f"/><stop offset=".974" stop-color="#00bb5a"/><stop offset=".989" stop-color="#00bb57"/><stop offset="1" stop-color="#00bc55"/></linearGradient>
<linearGradient id="s195" gradientUnits="userSpaceOnUse" x1="454.4" x2="189" spreadMethod="reflect"><stop offset="0" stop-color="#008ab5"/><stop offset=".167" stop-color="#008eaf"/><stop offset=".299" stop-color="#0093aa"/><stop offset=".412" stop-color="#0097a5"/><stop offset=".514" stop-color="#009c9f"/><stop offset=".601" stop-color="#00a098"/><stop offset=".676" stop-color="#00a690"/><stop offset=".74" stop-color="#00ab87"/><stop offset=".793" stop-color="#00b17e"/><stop offset=".838" stop-color="#00b477"/><stop offset=".876" stop-color="#00b66f"/><stop offset=".906" stop-color="#00b868"/><stop offset=".932" stop-color="#00b963"/><stop offset=".955" stop-color="#00ba5e"/><stop offset=".974" stop-color="#00bb5a"/><stop offset=".989" stop-color="#00bb56"/><stop offset="1" stop-color="#00bc54"/></linearGradient>
<linearGradient id="s196" gradientUnits="userSpaceOnUse" x1="454.4" x2="189" spreadMethod="reflect"><stop offset="0" stop-color="#008cb1"/><stop offset=".167" stop-color="#0091ac"/><stop offset=".299" stop-color="#0095a7"/><stop offset=".412" stop-color="#0099a2"/><stop offset=".514" stop-color="#009e9c"/><stop offset=".601" stop-color="#00a295"/><stop offset=".676" stop-color="#00a78d"/><stop offset=".74" stop-color="#00ad85"/><stop offset=".793" stop-color="#00b27c"/><stop offset=".838" stop-color="#00b474"/><stop offset=".876" stop-color="#00b66d"/><stop offset=".906" stop-color="#00b867"/><stop offset=".932" stop-color="#00b962"/><stop offset=".955" stop-color="#00ba5d"/><stop offset=".974" stop-color="#00bb59"/><stop offset=".989" stop-color="#00bc55"/><stop offset="1" stop-color="#00bc53"/></linearGradient>
<linearGradient id="s197" gradientUnits="userSpaceOnUse" x1="454.4" x2="189" spreadMethod="reflect"><stop offset="0" stop-color="#008eaf"/><stop offset=".167" stop-color="#0093aa"/><stop offset=".299" stop-color="#0097a5"/><stop offset=".412" stop-color="#009ba0"/><stop offset=".514" stop-color="#009f99"/><stop offset=".601" stop-color="#00a493"/><stop offset=".676" stop-color="#00a98b"/><stop offset=".74" stop-color="#00af82"/><stop offset=".793" stop-color="#00b37a"/><stop offset=".838" stop-color="#00b572"/><stop offset=".876" stop-color="#00b76b"/><stop offset=".906" stop-color="#00b965"/><stop offset=".932" stop-color="#00ba60"/><stop offset=".955" stop-color="#00ba5c"/><stop offset=".974" stop-color="#00bb58"/><stop offset=".989" stop-color="#00bc54"/><stop offset="1" stop-color="#00bc52"/></linearGradient>
<linearGradient id="s198" gradientUnits="userSpaceOnUse" x1="454.4" x2="189" spreadMethod="reflect"><stop offset="0" stop-color="#0091ac"/><stop offset=".167" stop-color="#0095a7"/><stop offset=".299" stop-color="#0099a2"/><stop offset=".412" stop-color="#009d9d"/><stop offset=".514" stop-color="#00a197"/><stop offset=".601" stop-color="#00a690"/><stop offset=".676" stop-color="#00ab88"/><stop offset=".74" stop-color="#00b07f"/><stop offset=".793" stop-color="#00b378"/><stop offset=".838" stop-color="#00b670"/><stop offset=".876" stop-color="#00b869"/><stop offset=".906" stop-color="#00b964"/><stop offset=".932" stop-color="#00ba5f"/><stop offset=".955" stop-color="#00bb5a"/><stop offset=".974" stop-color="#00bb56"/><stop offset=".989" stop-color="#00bc53"/><stop offset="1" stop-color="#00bc51"/></linearGradient>
<linearGradient id="s199" gradientUnits="userSpaceOnUse" x1="454.4" x2="189" spreadMethod="reflect"><stop offset="0" stop-color="#0093aa"/><stop offset=".167" stop-color="#0097a5"/><stop offset=".299" stop-color="#009ba0"/><stop offset=".412" stop-color="#009f9a"/><stop offset=".514" stop-color="#00a394"/><stop offset=".601" stop-color="#00a78d"/><stop offset=".676" stop-color="#00ac85"/><stop offset=".74" stop-color="#00b27d"/><stop offset=".793" stop-color="#00b476"/><stop offset=".838" stop-color="#00b66e"/><stop offset=".876" stop-color="#00b867"/><stop offset=".906" stop-color="#00b963"/><stop offset=".932" stop-color="#00ba5e"/><stop offset=".955" stop-color="#00bb59"/><stop offset=".974" stop-color="#00bc55"/><stop offset=".989" stop-color="#00bc51"/><stop offset="1" stop-color="#00bc51"/></linearGradient>
<linearGradient id="s200" gradientUnits="userSpaceOnUse" x1="454.4" x2="189" spreadMethod="reflect"><stop offset="0" stop-color="#0095a7"/><stop offset=".167" stop-color="#0099a2"/><stop offset=".299" stop-color="#009d9d"/><stop offset=".412" stop-color="#00a098"/><stop offset=".514" stop-color="#00a492"/><stop offset=".601" stop-color="#00a98b"/><stop offset=".676" stop-color="#00ae83"/><stop offset=".74" stop-color="#00b37b"/><stop offset=".793" stop-color="#00b574"/><stop offset=".838" stop-color="#00b76c"/><stop offset=".876" stop-color="#00b866"/><stop offset=".906" stop-color="#00ba61"/><stop offset=".932" stop-color="#00ba5c"/><stop offset=".955" stop-color="#00bb58"/><stop offset=".974" stop-color="#00bc54"/><stop offset=".989" stop-color="#00bc51"/><stop offset="1" stop-color="#00bc51"/></linearGradient>
<linearGradient id="s201" gradientUnits="userSpaceOnUse" x1="454.4" x2="189" spreadMethod="reflect"><stop offset="0" stop-color="#0097a5"/><stop offset=".167" stop-color="#009b9f"/><stop offset=".299" stop-color="#009f9a"/><stop offset=".412" stop-color="#00a295"/><stop offset=".514" stop-color="#00a68f"/><stop offset=".601" stop-color="#00ab88"/><stop offset=".676" stop-color="#00b080"/><stop offset=".74" stop-color="#00b379"/><stop offset=".793" stop-color="#00b572"/><stop offset=".838" stop-color="#00b76a"/><stop offset=".876" stop-color="#00b965"/><stop offset=".906" stop-color="#00ba60"/><stop offset=".932" stop-color="#00bb5b"/><stop offset=".955" stop-color="#00bb56"/><stop offset=".974" stop-color="#00bc52"/><stop offset=".989" stop-color="#00bc51"/><stop offset="1" stop-color="#00bc51"/></linearGradient>
<linearGradient id="s202" gradientUnits="userSpaceOnUse" x1="454.4" x2="189" spreadMethod="reflect"><stop offset="0" stop-color="#0099a2"/><stop offset=".167" stop-color="#009d9d"/><stop offset=".299" stop-color="#00a098"/><stop offset=".412" stop-color="#00a493"/><stop offset=".514" stop-color="#00a88c"/><stop offset=".601" stop-color="#00ac86"/><stop offset=".676" stop-color="#00b27e"/><stop offset=".74" stop-color="#00b477"/><stop offset=".793" stop-color="#00b670"/><stop offset=".838" stop-color="#00b868"/><stop offset=".876" stop-color="#00b963"/><stop offset=".906" stop-color="#00ba5e"/><stop offset=".932" stop-color="#00bb59"/><stop offset=".955" stop-color="#00bc55"/><stop offset=".974" stop-color="#00bc51"/><stop offset="1" stop-color="#00bc51"/></linearGradient>
<linearGradient id="s203" gradientUnits="userSpaceOnUse" x1="454.4" x2="189" spreadMethod="reflect"><stop offset="0" stop-color="#009b9f"/><stop offset=".167" stop-color="#009f9a"/><stop offset=".299" stop-color="#00a295"/><stop offset=".412" stop-color="#00a690"/><stop offset=".514" stop-color="#00aa8a"/><stop offset=".601" stop-color="#00ae83"/><stop offset=".676" stop-color="#00b27b"/><stop offset=".74" stop-color="#00b475"/><stop offset=".793" stop-color="#00b66e"/><stop offset=".838" stop-color="#00b867"/><stop offset=".876" stop-color="#00b962"/><stop offset=".906" stop-color="#00ba5d"/><stop offset=".932" stop-color="#00bb58"/><stop offset=".955" stop-color="#00bc54"/><stop offset=".974" stop-color="#00bc51"/><stop offset="1" stop-color="#00bc51"/></linearGradient>
<linearGradient id="s204" gradientUnits="userSpaceOnUse" x1="454.4" x2="189" spreadMethod="reflect"><stop offset="0" stop-color="#009d9d"/><stop offset=".167" stop-color="#00a198"/><stop offset=".299" stop-color="#00a493"/><stop offset=".412" stop-color="#00a78d"/><stop offset=".514" stop-color="#00ab87"/><stop offset=".601" stop-color="#00b080"/><stop offset=".676" stop-color="#00b379"/><stop offset=".74" stop-color="#00b573"/><stop offset=".793" stop-color="#00b76c"/><stop offset=".838" stop-color="#00b965"/><stop offset=".876" stop-color="#00ba60"/><stop offset=".906" stop-color="#00bb5b"/><stop offset=".932" stop-color="#00bb57"/><stop offset=".955" stop-color="#00bc52"/><stop offset=".974" stop-color="#00bc51"/><stop offset="1" stop-color="#00bc51"/></linearGradient>
<linearGradient id="s205" gradientUnits="userSpaceOnUse" x1="454.4" x2="189" spreadMethod="reflect"><stop offset="0" stop-color="#009f9a"/><stop offset=".167" stop-color="#00a295"/><stop offset=".299" stop-color="#00a690"/><stop offset=".412" stop-color="#00a98b"/><stop offset=".514" stop-color="#00ad85"/><stop offset=".601" stop-color="#00b27e"/><stop offset=".676" stop-color="#00b477"/><stop offset=".74" stop-color="#00b571"/><stop offset=".793" stop-color="#00b76a"/><stop offset=".838" stop-color="#00b964"/><stop offset=".876" stop-color="#00ba5f"/><stop offset=".906" stop-color="#00bb5a"/><stop offset=".932" stop-color="#00bc55"/><stop offset=".955" stop-color="#00bc51"/><stop offset="1" stop-color="#00bc51"/></linearGradient>
<linearGradient id="s206" gradientUnits="userSpaceOnUse" x1="454.4" x2="189" spreadMethod="reflect"><stop offset="0" stop-color="#00a198"/><stop offset=".167" stop-color="#00a492"/><stop offset=".299" stop-color="#00a78d"/><stop offset=".412" stop-color="#00ab88"/><stop offset=".514" stop-color="#00af82"/><stop offset=".601" stop-color="#00b27c"/><stop offset=".676" stop-color="#00b475"/><stop offset=".74" stop-color="#00b66f"/><stop offset=".793" stop-color="#00b868"/><stop offset=".838" stop-color="#00b963"/><stop offset=".876" stop-color="#00ba5d"/><stop offset=".906" stop-color="#00bb59"/><stop offset=".932" stop-color="#00bc54"/><stop offset=".955" stop-color="#00bc51"/><stop offset="1" stop-color="#00bc51"/></linearGradient>
<linearGradient id="s207" gradientUnits="userSpaceOnUse" x1="454.4" x2="189" spreadMethod="reflect"><stop offset="0" stop-color="#00a295"/><stop offset=".167" stop-color="#00a690"/><stop offset=".299" stop-color="#00a98b"/><stop offset=".412" stop-color="#00ac86"/><stop offset=".514" stop-color="#00b07f"/><stop offset=".601" stop-color="#00b37a"/><stop offset=".676" stop-color="#00b573"/><stop offset=".74" stop-color="#00b76d"/><stop offset=".793" stop-color="#00b866"/><stop offset=".838" stop-color="#00ba61"/><stop offset=".876" stop-color="#00ba5c"/><stop offset=".906" stop-color="#00bb57"/><stop offset=".932" stop-color="#00bc52"/><stop offset=".955" stop-color="#00bc51"/><stop offset="1" stop-color="#00bc51"/></linearGradient>
<linearGradient id="s208" gradientUnits="userSpaceOnUse" x1="454.4" x2="189" spreadMethod="reflect"><stop offset="0" stop-color="#00a492"/><stop offset=".167" stop-color="#00a78d"/><stop offset=".299" stop-color="#00ab88"/><stop offset=".412" stop-color="#00ae83"/><stop offset=".514" stop-color="#00b27d"/><stop offset=".601" stop-color="#00b478"/><stop offset=".676" stop-color="#00b571"/><stop offset=".74" stop-color="#00b76b"/><stop offset=".793" stop-color="#00b965"/><stop offset=".838" stop-color="#00ba60"/><stop offset=".876" stop-color="#00bb5a"/><stop offset=".906" stop-color="#00bc56"/><stop offset=".932" stop-color="#00bc51"/><stop offset="1" stop-color="#00bc51"/></linearGradient>
<linearGradient id="s209" gradientUnits="userSpaceOnUse" x1="454.4" x2="189" spreadMethod="reflect"><stop offset="0" stop-color="#00a690"/><stop offset=".167" stop-color="#00a98a"/><stop offset=".299" stop-color="#00ac86"/><stop offset=".412" stop-color="#00b080"/><stop offset=".514" stop-color="#00b37b"/><stop offset=".601" stop-color="#00b476"/><stop offset=".676" stop-color="#00b66f"/><stop offset=".74" stop-color="#00b869"/><stop offset=".793" stop-color="#00b964"/><stop offset=".838" stop-color="#00ba5e"/><stop offset=".876" stop-color="#00bb59"/><stop offset=".906" stop-color="#00bc54"/><stop offset=".932" stop-color="#00bc51"/><stop offset="1" stop-color="#00bc51"/></linearGradient>
<linearGradient id="s210" gradientUnits="userSpaceOnUse" x1="454.4" x2="189" spreadMethod="reflect"><stop offset="0" stop-color="#00a78d"/><stop offset=".167" stop-color="#00ab88"/><stop offset=".299" stop-color="#00ae83"/><stop offset=".412" stop-color="#00b27e"/><stop offset=".514" stop-color="#00b379"/><stop offset=".601" stop-color="#00b573"/><stop offset=".676" stop-color="#00b66d"/><stop offset=".74" stop-color="#00b867"/><stop offset=".793" stop-color="#00b962"/><stop offset=".838" stop-color="#00ba5d"/><stop offset=".876" stop-color="#00bb58"/><stop offset=".906" stop-color="#00bc53"/><stop offset=".932" stop-color="#00bc51"/><stop offset="1" stop-color="#00bc51"/></linearGradient>
<linearGradient id="s211" gradientUnits="userSpaceOnUse" x1="454.4" x2="189" spreadMethod="reflect"><stop offset="0" stop-color="#00a98b"/><stop offset=".167" stop-color="#00ad85"/><stop offset=".299" stop-color="#00b080"/><stop offset=".412" stop-color="#00b27c"/><stop offset=".514" stop-color="#00b477"/><stop offset=".601" stop-color="#00b571"/><stop offset=".676" stop-color="#00b76b"/><stop offset=".74" stop-color="#00b966"/><stop offset=".793" stop-color="#00ba61"/><stop offset=".838" stop-color="#00bb5b"/><stop offset=".876" stop-color="#00bb56"/><stop offset=".906" stop-color="#00bc51"/><stop offset="1" stop-color="#00bc51"/></linearGradient>
<linearGradient id="s212" gradientUnits="userSpaceOnUse" x1="454.4" x2="189" spreadMethod="reflect"><stop offset="0" stop-color="#00ab88"/><stop offset=".167" stop-color="#00ae83"/><stop offset=".299" stop-color="#00b27e"/><stop offset=".412" stop-color="#00b37a"/><stop offset=".514" stop-color="#00b475"/><stop offset=".601" stop-color="#00b66f"/><stop offset=".676" stop-color="#00b869"/><stop offset=".74" stop-color="#00b964"/><stop offset=".793" stop-color="#00ba5f"/><stop offset=".838" stop-color="#00bb5a"/><stop offset=".876" stop-color="#00bc55"/><stop offset=".906" stop-color="#00bc51"/><stop offset="1" stop-color="#00bc51"/></linearGradient>
<linearGradient id="s213" gradientUnits="userSpaceOnUse" x1="454.4" x2="189" spreadMethod="reflect"><stop offset="0" stop-color="#00ac85"/><stop offset=".167" stop-color="#00b080"/><stop offset=".299" stop-color="#00b27c"/><stop offset=".412" stop-color="#00b478"/><stop offset=".514" stop-color="#00b573"/><stop offset=".601" stop-color="#00b66d"/><stop offset=".676" stop-color="#00b868"/><stop offset=".74" stop-color="#00b963"/><stop offset=".793" stop-color="#00ba5e"/><stop offset=".838" stop-color="#00bb59"/><stop offset=".876" stop-color="#00bc53"/><stop offset=".906" stop-color="#00bc51"/><stop offset="1" stop-color="#00bc51"/></linearGradient>
<linearGradient id="s214" gradientUnits="userSpaceOnUse" x1="454.4" x2="189" spreadMethod="reflect"><stop offset="0" stop-color="#00ae83"/><stop offset=".167" stop-color="#00b27d"/><stop offset=".299" stop-color="#00b37a"/><stop offset=".412" stop-color="#00b475"/><stop offset=".514" stop-color="#00b571"/><stop offset=".601" stop-color="#00b76b"/><stop offset=".676" stop-color="#00b866"/><stop offset=".74" stop-color="#00b961"/><stop offset=".793" stop-color="#00ba5c"/><stop offset=".838" stop-color="#00bb57"/><stop offset=".876" stop-color="#00bc52"/><stop offset=".906" stop-color="#00bc51"/><stop offset="1" stop-color="#00bc51"/></linearGradient>
<linearGradient id="s215" gradientUnits="userSpaceOnUse" x1="454.4" x2="189" spreadMethod="reflect"><stop offset="0" stop-color="#00b080"/><stop offset=".167" stop-color="#00b27b"/><stop offset=".299" stop-color="#00b478"/><stop offset=".412" stop-color="#00b573"/><stop offset=".514" stop-color="#00b66f"/><stop offset=".601" stop-color="#00b769"/><stop offset=".676" stop-color="#00b965"/><stop offset=".74" stop-color="#00ba60"/><stop offset=".793" stop-color="#00bb5b"/><stop offset=".838" stop-color="#00bc56"/><stop offset=".876" stop-color="#00bc51"/><stop offset="1" stop-color="#00bc51"/></linearGradient>
<linearGradient id="s216" gradientUnits="userSpaceOnUse" x1="454.4" x2="189" spreadMethod="reflect"><stop offset="0" stop-color="#00b27e"/><stop offset=".167" stop-color="#00b379"/><stop offset=".299" stop-color="#00b476"/><stop offset=".412" stop-color="#00b571"/><stop offset=".514" stop-color="#00b76d"/><stop offset=".601" stop-color="#00b868"/><stop offset=".676" stop-color="#00b963"/><stop offset=".74" stop-color="#00ba5e"/><stop offset=".793" stop-color="#00bb59"/><stop offset=".838" stop-color="#00bc54"/><stop offset=".876" stop-color="#00bc51"/><stop offset="1" stop-color="#00bc51"/></linearGradient>
<linearGradient id="s217" gradientUnits="userSpaceOnUse" x1="454.4" x2="189" spreadMethod="reflect"><stop offset="0" stop-color="#00b27b"/><stop offset=".167" stop-color="#00b477"/><stop offset=".299" stop-color="#00b573"/><stop offset=".412" stop-color="#00b66f"/><stop offset=".514" stop-color="#00b76b"/><stop offset=".601" stop-color="#00b866"/><stop offset=".676" stop-color="#00b962"/><stop offset=".74" stop-color="#00ba5d"/><stop offset=".793" stop-color="#00bb58"/><stop offset=".838" stop-color="#00bc53"/><stop offset=".876" stop-color="#00bc51"/><stop offset="1" stop-color="#00bc51"/></linearGradient>
<linearGradient id="s218" gradientUnits="userSpaceOnUse" x1="454.4" x2="189" spreadMethod="reflect"><stop offset="0" stop-color="#00b379"/><stop offset=".167" stop-color="#00b475"/><stop offset=".299" stop-color="#00b571"/><stop offset=".412" stop-color="#00b66d"/><stop offset=".514" stop-color="#00b869"/><stop offset=".601" stop-color="#00b965"/><stop offset=".676" stop-color="#00ba60"/><stop offset=".74" stop-color="#00bb5c"/><stop offset=".793" stop-color="#00bb57"/><stop offset=".838" stop-color="#00bc51"/><stop offset="1" stop-color="#00bc51"/></linearGradient>
<linearGradient id="s219" gradientUnits="userSpaceOnUse" x1="454.4" x2="189" spreadMethod="reflect"><stop offset="0" stop-color="#00b477"/><stop offset=".167" stop-color="#00b573"/><stop offset=".299" stop-color="#00b66f"/><stop offset=".412" stop-color="#00b76b"/><stop offset=".514" stop-color="#00b867"/><stop offset=".601" stop-color="#00b963"/><stop offset=".676" stop-color="#00ba5f"/><stop offset=".74" stop-color="#00bb5a"/><stop offset=".793" stop-color="#00bc55"/><stop offset=".838" stop-color="#00bc51"/><stop offset="1" stop-color="#00bc51"/></linearGradient>
<linearGradient id="s220" gradientUnits="userSpaceOnUse" x1="454.4" x2="189" spreadMethod="reflect"><stop offset="0" stop-color="#00b475"/><stop offset=".167" stop-color="#00b571"/><stop offset=".299" stop-color="#00b66d"/><stop offset=".412" stop-color="#00b769"/><stop offset=".514" stop-color="#00b966"/><stop offset=".601" stop-color="#00b962"/><stop offset=".676" stop-color="#00ba5d"/><stop offset=".74" stop-color="#00bb59"/><stop offset=".793" stop-color="#00bc54"/><stop offset=".838" stop-color="#00bc51"/><stop offset="1" stop-color="#00bc51"/></linearGradient>
<linearGradient id="s221" gradientUnits="userSpaceOnUse" x1="454.4" x2="189" spreadMethod="reflect"><stop offset="0" stop-color="#00b573"/><stop offset=".167" stop-color="#00b66f"/><stop offset=".299" stop-color="#00b76b"/><stop offset=".412" stop-color="#00b868"/><stop offset=".514" stop-color="#00b964"/><stop offset=".601" stop-color="#00ba60"/><stop offset=".676" stop-color="#00ba5c"/><stop offset=".74" stop-color="#00bb57"/><stop offset=".793" stop-color="#00bc52"/><stop offset=".838" stop-color="#00bc51"/><stop offset="1" stop-color="#00bc51"/></linearGradient>
<linearGradient id="s222" gradientUnits="userSpaceOnUse" x1="454.4" x2="189" spreadMethod="reflect"><stop offset="0" stop-color="#00b571"/><stop offset=".167" stop-color="#00b66d"/><stop offset=".299" stop-color="#00b769"/><stop offset=".412" stop-color="#00b866"/><stop offset=".514" stop-color="#00b963"/><stop offset=".601" stop-color="#00ba5f"/><stop offset=".676" stop-color="#00bb5b"/><stop offset=".74" stop-color="#00bc56"/><stop offset=".793" stop-color="#00bc51"/><stop offset="1" stop-color="#00bc51"/></linearGradient>
<linearGradient id="s223" gradientUnits="userSpaceOnUse" x1="454.4" x2="189" spreadMethod="reflect"><stop offset="0" stop-color="#00b66f"/><stop offset=".167" stop-color="#00b76b"/><stop offset=".299" stop-color="#00b868"/><stop offset=".412" stop-color="#00b965"/><stop offset=".514" stop-color="#00b961"/><stop offset=".601" stop-color="#00ba5d"/><stop offset=".676" stop-color="#00bb59"/><stop offset=".74" stop-color="#00bc54"/><stop offset=".793" stop-color="#00bc51"/><stop offset="1" stop-color="#00bc51"/></linearGradient>
<linearGradient id="s224" gradientUnits="userSpaceOnUse" x1="454.4" x2="189" spreadMethod="reflect"><stop offset="0" stop-color="#00b66d"/><stop offset=".167" stop-color="#00b869"/><stop offset=".299" stop-color="#00b866"/><stop offset=".412" stop-color="#00b963"/><stop offset=".514" stop-color="#00ba60"/><stop offset=".601" stop-color="#00ba5c"/><stop offset=".676" stop-color="#00bb58"/><stop offset=".74" stop-color="#00bc53"/><stop offset=".793" stop-color="#00bc51"/><stop offset="1" stop-color="#00bc51"/></linearGradient>
<linearGradient id="s225" gradientUnits="userSpaceOnUse" x1="454.4" x2="189" spreadMethod="reflect"><stop offset="0" stop-color="#00b76b"/><stop offset=".167" stop-color="#00b867"/><stop offset=".299" stop-color="#00b965"/><stop offset=".412" stop-color="#00b962"/><stop offset=".514" stop-color="#00ba5e"/><stop offset=".601" stop-color="#00bb5b"/><stop offset=".676" stop-color="#00bb56"/><stop offset=".74" stop-color="#00bc52"/><stop offset=".793" stop-color="#00bc51"/><stop offset="1" stop-color="#00bc51"/></linearGradient>
<linearGradient id="s226" gradientUnits="userSpaceOnUse" x1="454.4" x2="189" spreadMethod="reflect"><stop offset="0" stop-color="#00b869"/><stop offset=".167" stop-color="#00b866"/><stop offset=".299" stop-color="#00b963"/><stop offset=".412" stop-color="#00ba60"/><stop offset=".514" stop-color="#00ba5d"/><stop offset=".601" stop-color="#00bb59"/><stop offset=".676" stop-color="#00bc55"/><stop offset=".74" stop-color="#00bc51"/><stop offset="1" stop-color="#00bc51"/></linearGradient>
<linearGradient id="s227" gradientUnits="userSpaceOnUse" x1="454.4" x2="189" spreadMethod="reflect"><stop offset="0" stop-color="#00b868"/><stop offset=".167" stop-color="#00b965"/><stop offset=".299" stop-color="#00b962"/><stop offset=".412" stop-color="#00ba5f"/><stop offset=".514" stop-color="#00bb5c"/><stop offset=".601" stop-color="#00bb58"/><stop offset=".676" stop-color="#00bc54"/><stop offset=".74" stop-color="#00bc51"/><stop offset="1" stop-color="#00bc51"/></linearGradient>
<linearGradient id="s228" gradientUnits="userSpaceOnUse" x1="454.4" x2="189" spreadMethod="reflect"><stop offset="0" stop-color="#00b866"/><stop offset=".167" stop-color="#00b963"/><stop offset=".299" stop-color="#00ba60"/><stop offset=".412" stop-color="#00ba5d"/><stop offset=".514" stop-color="#00bb5a"/><stop offset=".601" stop-color="#00bb56"/><stop offset=".676" stop-color="#00bc52"/><stop offset=".74" stop-color="#00bc51"/><stop offset="1" stop-color="#00bc51"/></linearGradient>
<linearGradient id="s229" gradientUnits="userSpaceOnUse" x1="454.4" x2="189" spreadMethod="reflect"><stop offset="0" stop-color="#00b965"/><stop offset=".167" stop-color="#00b962"/><stop offset=".299" stop-color="#00ba5f"/><stop offset=".412" stop-color="#00ba5c"/><stop offset=".514" stop-color="#00bb59"/><stop offset=".601" stop-color="#00bc55"/><stop offset=".676" stop-color="#00bc51"/><stop offset="1" stop-color="#00bc51"/></linearGradient>
<linearGradient id="s230" gradientUnits="userSpaceOnUse" x1="454.4" x2="189" spreadMethod="reflect"><stop offset="0" stop-color="#00b963"/><stop offset=".167" stop-color="#00ba60"/><stop offset=".299" stop-color="#00ba5d"/><stop offset=".412" stop-color="#00bb5b"/><stop offset=".514" stop-color="#00bb57"/><stop offset=".601" stop-color="#00bc54"/><stop offset=".676" stop-color="#00bc51"/><stop offset="1" stop-color="#00bc51"/></linearGradient>
<linearGradient id="s231" gradientUnits="userSpaceOnUse" x1="454.4" x2="189" spreadMethod="reflect"><stop offset="0" stop-color="#00b962"/><stop offset=".167" stop-color="#00ba5f"/><stop offset=".299" stop-color="#00ba5c"/><stop offset=".412" stop-color="#00bb59"/><stop offset=".514" stop-color="#00bc56"/><stop offset=".601" stop-color="#00bc52"/><stop offset=".676" stop-color="#00bc51"/><stop offset="1" stop-color="#00bc51"/></linearGradient>
<linearGradient id="s232" gradientUnits="userSpaceOnUse" x1="454.4" x2="189" spreadMethod="reflect"><stop offset="0" stop-color="#00ba60"/><stop offset=".167" stop-color="#00ba5d"/><stop offset=".299" stop-color="#00bb5b"/><stop offset=".412" stop-color="#00bb58"/><stop offset=".514" stop-color="#00bc54"/><stop offset=".601" stop-color="#00bc51"/><stop offset="1" stop-color="#00bc51"/></linearGradient>
<linearGradient id="s233" gradientUnits="userSpaceOnUse" x1="454.4" x2="189" spreadMethod="reflect"><stop offset="0" stop-color="#00ba5f"/><stop offset=".167" stop-color="#00ba5c"/><stop offset=".299" stop-color="#00bb59"/><stop offset=".412" stop-color="#00bb56"/><stop offset=".514" stop-color="#00bc53"/><stop offset=".601" stop-color="#00bc51"/><stop offset="1" stop-color="#00bc51"/></linearGradient>
<linearGradient id="s234" gradientUnits="userSpaceOnUse" x1="454.4" x2="189" spreadMethod="reflect"><stop offset="0" stop-color="#00ba5d"/><stop offset=".167" stop-color="#00bb5a"/><stop offset=".299" stop-color="#00bb58"/><stop offset=".412" stop-color="#00bc55"/><stop offset=".514" stop-color="#00bc52"/><stop offset=".601" stop-color="#00bc51"/><stop offset="1" stop-color="#00bc51"/></linearGradient>
<linearGradient id="s235" gradientUnits="userSpaceOnUse" x1="454.4" x2="189" spreadMethod="reflect"><stop offset="0" stop-color="#00ba5c"/><stop offset=".167" stop-color="#00bb59"/><stop offset=".299" stop-color="#00bb56"/><stop offset=".412" stop-color="#00bc54"/><stop offset=".514" stop-color="#00bc51"/><stop offset="1" stop-color="#00bc51"/></linearGradient>
<linearGradient id="s236" gradientUnits="userSpaceOnUse" x1="454.4" x2="189" spreadMethod="reflect"><stop offset="0" stop-color="#00bb5b"/><stop offset=".167" stop-color="#00bb58"/><stop offset=".299" stop-color="#00bc55"/><stop offset=".412" stop-color="#00bc52"/><stop offset=".514" stop-color="#00bc51"/><stop offset="1" stop-color="#00bc51"/></linearGradient>
<linearGradient id="s237" gradientUnits="userSpaceOnUse" x1="454.4" x2="189" spreadMethod="reflect"><stop offset="0" stop-color="#00bb59"/><stop offset=".167" stop-color="#00bb56"/><stop offset=".299" stop-color="#00bc54"/><stop offset=".412" stop-color="#00bc51"/><stop offset="1" stop-color="#00bc51"/></linearGradient>
<linearGradient id="s238" gradientUnits="userSpaceOnUse" x1="454.4" x2="189" spreadMethod="reflect"><stop offset="0" stop-color="#00bb58"/><stop offset=".167" stop-color="#00bc55"/><stop offset=".299" stop-color="#00bc52"/><stop offset=".412" stop-color="#00bc51"/><stop offset="1" stop-color="#00bc51"/></linearGradient>
<linearGradient id="s239" gradientUnits="userSpaceOnUse" x1="454.4" x2="189" spreadMethod="reflect"><stop offset="0" stop-color="#00bb56"/><stop offset=".167" stop-color="#00bc53"/><stop offset=".299" stop-color="#00bc51"/><stop offset="1" stop-color="#00bc51"/></linearGradient>
<linearGradient id="s240" gradientUnits="userSpaceOnUse" x1="454.4" x2="189" spreadMethod="reflect"><stop offset="0" stop-color="#00bc55"/><stop offset=".167" stop-color="#00bc52"/><stop offset=".299" stop-color="#00bc51"/><stop offset="1" stop-color="#00bc51"/></linearGradient>
<linearGradient id="s241" gradientUnits="userSpaceOnUse" x1="454.4" x2="189" spreadMethod="reflect"><stop offset="0" stop-color="#00bc53"/><stop offset=".167" stop-color="#00bc51"/><stop offset="1" stop-color="#00bc51"/></linearGradient>
<linearGradient id="s242" gradientUnits="userSpaceOnUse" x1="454.4" x2="189" spreadMethod="reflect"><stop offset="0" stop-color="#00bc52"/><stop offset=".167" stop-color="#00bc51"/><stop offset="1" stop-color="#00bc51"/></linearGradient>
<linearGradient id="gb" gradientUnits="userSpaceOnUse" x1="0" y1="1131" x2="0" y2="1291"><stop offset="0" stop-color="#02bf32"/><stop offset=".031" stop-color="#03bf2f"/><stop offset=".062" stop-color="#03c02b"/><stop offset=".094" stop-color="#04c027"/><stop offset=".125" stop-color="#04c024"/><stop offset=".156" stop-color="#04c021"/><stop offset=".188" stop-color="#04c01d"/><stop offset=".219" stop-color="#04c01a"/><stop offset=".25" stop-color="#04c017"/><stop offset=".281" stop-color="#04c014"/><stop offset=".312" stop-color="#04c011"/><stop offset=".344" stop-color="#04c00e"/><stop offset=".375" stop-color="#04c00b"/><stop offset=".406" stop-color="#04c008"/><stop offset=".438" stop-color="#04c005"/><stop offset=".469" stop-color="#06c004"/><stop offset=".5" stop-color="#0ac004"/><stop offset=".531" stop-color="#0ec003"/><stop offset=".562" stop-color="#12c003"/><stop offset=".594" stop-color="#16c003"/><stop offset=".625" stop-color="#1ac003"/><stop offset=".656" stop-color="#1ec002"/><stop offset=".688" stop-color="#22c002"/><stop offset=".719" stop-color="#26c002"/><stop offset=".75" stop-color="#2ac001"/><stop offset=".781" stop-color="#2ec001"/><stop offset=".812" stop-color="#32c001"/><stop offset=".844" stop-color="#36c001"/><stop offset=".875" stop-color="#3ac000"/><stop offset=".906" stop-color="#3ec000"/><stop offset=".938" stop-color="#42c000"/><stop offset=".969" stop-color="#46c000"/><stop offset="1" stop-color="#4ac000"/></linearGradient>
<linearGradient id="s243" gradientUnits="userSpaceOnUse" x1="454.4" x2="189" spreadMethod="reflect"><stop offset="0" stop-color="#4bc000"/><stop offset=".601" stop-color="#4bc000"/><stop offset=".676" stop-color="#4ac000"/><stop offset="1" stop-color="#4ac000"/></linearGradient>
<linearGradient id="s244" gradientUnits="userSpaceOnUse" x1="454.4" x2="189" spreadMethod="reflect"><stop offset="0" stop-color="#4cc000"/><stop offset=".793" stop-color="#4cc000"/><stop offset=".838" stop-color="#4bc000"/><stop offset=".955" stop-color="#4bc000"/><stop offset=".974" stop-color="#4ac000"/><stop offset="1" stop-color="#4ac000"/></linearGradient>
<linearGradient id="s245" gradientUnits="userSpaceOnUse" x1="454.4" x2="189" spreadMethod="reflect"><stop offset="0" stop-color="#4ec000"/><stop offset=".601" stop-color="#4ec000"/><stop offset=".676" stop-color="#4dc000"/><stop offset=".838" stop-color="#4dc000"/><stop offset=".876" stop-color="#4cc000"/><stop offset=".932" stop-color="#4cc000"/><stop offset=".955" stop-color="#4bc000"/><stop offset="1" stop-color="#4bc000"/></linearGradient>
<linearGradient id="s246" gradientUnits="userSpaceOnUse" x1="454.4" x2="189" spreadMethod="reflect"><stop offset="0" stop-color="#4fbf00"/><stop offset=".74" stop-color="#4fbf00"/><stop offset=".793" stop-color="#4ebf00"/><stop offset=".838" stop-color="#4ec000"/><stop offset=".876" stop-color="#4ec000"/><stop offset=".906" stop-color="#4dc000"/><stop offset=".932" stop-color="#4dc000"/><stop offset=".955" stop-color="#4cc000"/><stop offset=".989" stop-color="#4cc000"/><stop offset="1" stop-color="#4bc000"/></linearGradient>
<linearGradient id="s247" gradientUnits="userSpaceOnUse" x1="454.4" x2="189" spreadMethod="reflect"><stop offset="0" stop-color="#51bf00"/><stop offset=".601" stop-color="#51bf00"/><stop offset=".676" stop-color="#50bf00"/><stop offset=".793" stop-color="#50bf00"/><stop offset=".838" stop-color="#4fbf00"/><stop offset=".876" stop-color="#4fbf00"/><stop offset=".906" stop-color="#4ebf00"/><stop offset=".932" stop-color="#4ec000"/><stop offset=".955" stop-color="#4dc000"/><stop offset=".974" stop-color="#4dc000"/><stop offset=".989" stop-color="#4cc000"/><stop offset="1" stop-color="#4cc000"/></linearGradient>
<linearGradient id="s248" gradientUnits="userSpaceOnUse" x1="454.4" x2="189" spreadMethod="reflect"><stop offset="0" stop-color="#52bf00"/><stop offset=".676" stop-color="#52bf00"/><stop offset=".74" stop-color="#51bf00"/><stop offset=".793" stop-color="#51bf00"/><stop offset=".838" stop-color="#50bf00"/><stop offset=".876" stop-color="#50bf00"/><stop offset=".906" stop-color="#4fbf00"/><stop offset=".932" stop-color="#4fbf00"/><stop offset=".955" stop-color="#4ec000"/><stop offset=".974" stop-color="#4dc000"/><stop offset="1" stop-color="#4dc000"/></linearGradient>
<linearGradient id="s249" gradientUnits="userSpaceOnUse" x1="454.4" x2="189" spreadMethod="reflect"><stop offset="0" stop-color="#54bf00"/><stop offset=".601" stop-color="#54bf00"/><stop offset=".676" stop-color="#53bf00"/><stop offset=".74" stop-color="#53bf00"/><stop offset=".793" stop-color="#52bf00"/><stop offset=".838" stop-color="#52bf00"/><stop offset=".876" stop-color="#51bf00"/><stop offset=".906" stop-color="#50bf00"/><stop offset=".932" stop-color="#50bf00"/><stop offset=".955" stop-color="#4fbf00"/><stop offset=".974" stop-color="#4ebf00"/><stop offset=".989" stop-color="#4dc000"/><stop offset="1" stop-color="#4dc000"/></linearGradient>
<linearGradient id="s250" gradientUnits="userSpaceOnUse" x1="454.4" x2="189" spreadMethod="reflect"><stop offset="0" stop-color="#56bf00"/><stop offset=".299" stop-color="#56bf00"/><stop offset=".412" stop-color="#55bf00"/><stop offset=".676" stop-color="#55bf00"/><stop offset=".74" stop-color="#54bf00"/><stop offset=".793" stop-color="#54bf00"/><stop offset=".838" stop-color="#53bf00"/><stop offset=".876" stop-color="#52bf00"/><stop offset=".906" stop-color="#51bf00"/><stop offset=".932" stop-color="#50bf00"/><stop offset=".955" stop-color="#50bf00"/><stop offset=".974" stop-color="#4fbf00"/><stop offset=".989" stop-color="#4ebf00"/><stop offset="1" stop-color="#4ec000"/></linearGradient>
<linearGradient id="s251" gradientUnits="userSpaceOnUse" x1="454.4" x2="189" spreadMethod="reflect"><stop offset="0" stop-color="#58bf00"/><stop offset=".299" stop-color="#58bf00"/><stop offset=".412" stop-color="#57bf00"/><stop offset=".676" stop-color="#57bf00"/><stop offset=".74" stop-color="#56bf00"/><stop offset=".793" stop-color="#55bf00"/><stop offset=".838" stop-color="#55bf00"/><stop offset=".876" stop-color="#54bf00"/><stop offset=".906" stop-color="#53bf00"/><stop offset=".932" stop-color="#52bf00"/><stop offset=".955" stop-color="#51bf00"/><stop offset=".974" stop-color="#50bf00"/><stop offset=".989" stop-color="#4fbf00"/><stop offset="1" stop-color="#4fbf00"/></linearGradient>
<linearGradient id="s252" gradientUnits="userSpaceOnUse" x1="454.4" x2="189" spreadMethod="reflect"><stop offset="0" stop-color="#5abf00"/><stop offset=".601" stop-color="#5abf00"/><stop offset=".676" stop-color="#59bf00"/><stop offset=".74" stop-color="#58bf00"/><stop offset=".793" stop-color="#58bf00"/><stop offset=".838" stop-color="#57bf00"/><stop offset=".876" stop-color="#56bf00"/><stop offset=".906" stop-color="#55bf00"/><stop offset=".932" stop-color="#54bf00"/><stop offset=".955" stop-color="#53bf00"/><stop offset=".974" stop-color="#52bf00"/><stop offset=".989" stop-color="#51bf00"/><stop offset="1" stop-color="#50bf00"/></linearGradient>
<linearGradient id="s253" gradientUnits="userSpaceOnUse" x1="454.4" x2="189" spreadMethod="reflect"><stop offset="0" stop-color="#5dbf00"/><stop offset=".412" stop-color="#5dbf00"/><stop offset=".514" stop-color="#5cbf00"/><stop offset=".676" stop-color="#5cbf00"/><stop offset=".74" stop-color="#5bbf00"/><stop offset=".793" stop-color="#5abf00"/><stop offset=".838" stop-color="#59bf00"/><stop offset=".876" stop-color="#58bf00"/><stop offset=".906" stop-color="#57bf00"/><stop offset=".932" stop-color="#56bf00"/><stop offset=".955" stop-color="#55bf00"/><stop offset=".974" stop-color="#53bf00"/><stop offset=".989" stop-color="#52bf00"/><stop offset="1" stop-color="#52bf00"/></linearGradient>
<linearGradient id="s254" gradientUnits="userSpaceOnUse" x1="454.4" x2="189" spreadMethod="reflect"><stop offset="0" stop-color="#5fbf00"/><stop offset=".601" stop-color="#5fbf00"/><stop offset=".676" stop-color="#5ebf00"/><stop offset=".74" stop-color="#5dbf00"/><stop offset=".793" stop-color="#5cbf00"/><stop offset=".838" stop-color="#5bbf00"/><stop offset=".876" stop-color="#5abf00"/><stop offset=".906" stop-color="#59bf00"/><stop offset=".932" stop-color="#58bf00"/><stop offset=".955" stop-color="#56bf00"/><stop offset=".974" stop-color="#55bf00"/><stop offset=".989" stop-color="#54bf00"/><stop offset="1" stop-color="#54bf00"/></linearGradient>
<linearGradient id="s255" gradientUnits="userSpaceOnUse" x1="454.4" x2="189" spreadMethod="reflect"><stop offset="0" stop-color="#62bf00"/><stop offset=".412" stop-color="#62bf00"/><stop offset=".514" stop-color="#61bf00"/><stop offset=".601" stop-color="#61bf00"/><stop offset=".676" stop-color="#60bf00"/><stop offset=".74" stop-color="#60bf00"/><stop offset=".793" stop-color="#5fbf00"/><stop offset=".838" stop-color="#5dbf00"/><stop offset=".876" stop-color="#5cbf00"/><stop offset=".906" stop-color="#5bbf00"/><stop offset=".932" stop-color="#5abf00"/><stop offset=".955" stop-color="#58bf00"/><stop offset=".974" stop-color="#57bf00"/><stop offset=".989" stop-color="#56bf00"/><stop offset="1" stop-color="#55bf00"/></linearGradient>
<linearGradient id="s256" gradientUnits="userSpaceOnUse" x1="454.4" x2="189" spreadMethod="reflect"><stop offset="0" stop-color="#64bf00"/><stop offset=".514" stop-color="#64bf00"/><stop offset=".601" stop-color="#63bf00"/><stop offset=".676" stop-color="#63bf00"/><stop offset=".74" stop-color="#62bf00"/><stop offset=".793" stop-color="#61bf00"/><stop offset=".838" stop-color="#60bf00"/><stop offset=".876" stop-color="#5ebf00"/><stop offset=".906" stop-color="#5dbf00"/><stop offset=".932" stop-color="#5bbf00"/><stop offset=".955" stop-color="#5abf00"/><stop offset=".974" stop-color="#59bf00"/><stop offset=".989" stop-color="#57bf00"/><stop offset="1" stop-color="#57bf00"/></linearGradient>
<linearGradient id="s257" gradientUnits="userSpaceOnUse" x1="454.4" x2="189" spreadMethod="reflect"><stop offset="0" stop-color="#67bf00"/><stop offset=".412" stop-color="#67bf00"/><stop offset=".514" stop-color="#66bf00"/><stop offset=".601" stop-color="#66bf00"/><stop offset=".676" stop-color="#65bf00"/><stop offset=".74" stop-color="#64bf00"/><stop offset=".793" stop-color="#63bf00"/><stop offset=".838" stop-color="#62bf00"/><stop offset=".876" stop-color="#60bf00"/><stop offset=".906" stop-color="#5fbf00"/><stop offset=".932" stop-color="#5dbf00"/><stop offset=".955" stop-color="#5cbf00"/><stop offset=".974" stop-color="#5abf00"/><stop offset=".989" stop-color="#59bf00"/><stop offset="1" stop-color="#58bf00"/></linearGradient>
<linearGradient id="s258" gradientUnits="userSpaceOnUse" x1="454.4" x2="189" spreadMethod="reflect"><stop offset="0" stop-color="#6abf00"/><stop offset=".167" stop-color="#6abf00"/><stop offset=".299" stop-color="#69bf00"/><stop offset=".514" stop-color="#69bf00"/><stop offset=".601" stop-color="#68bf00"/><stop offset=".676" stop-color="#68bf00"/><stop offset=".74" stop-color="#67bf00"/><stop offset=".793" stop-color="#66bf00"/><stop offset=".838" stop-color="#64bf00"/><stop offset=".876" stop-color="#63bf00"/><stop offset=".906" stop-color="#61bf00"/><stop offset=".932" stop-color="#5fbf00"/><stop offset=".955" stop-color="#5ebf00"/><stop offset=".974" stop-color="#5cbf00"/><stop offset=".989" stop-color="#5bbf00"/><stop offset="1" stop-color="#5abf00"/></linearGradient>
<linearGradient id="s259" gradientUnits="userSpaceOnUse" x1="454.4" x2="189" spreadMethod="reflect"><stop offset="0" stop-color="#6cbe00"/><stop offset=".412" stop-color="#6cbe00"/><stop offset=".514" stop-color="#6bbe00"/><stop offset=".601" stop-color="#6bbe00"/><stop offset=".676" stop-color="#6abe00"/><stop offset=".74" stop-color="#69bf00"/><stop offset=".793" stop-color="#68bf00"/><stop offset=".838" stop-color="#66bf00"/><stop offset=".876" stop-color="#65bf00"/><stop offset=".906" stop-color="#63bf00"/><stop offset=".932" stop-color="#61bf00"/><stop offset=".955" stop-color="#5fbf00"/><stop offset=".974" stop-color="#5ebf00"/><stop offset=".989" stop-color="#5cbf00"/><stop offset="1" stop-color="#5bbf00"/></linearGradient>
<linearGradient id="s260" gradientUnits="userSpaceOnUse" x1="454.4" x2="189" spreadMethod="reflect"><stop offset="0" stop-color="#6fbe00"/><stop offset=".299" stop-color="#6fbe00"/><stop offset=".412" stop-color="#6ebe00"/><stop offset=".514" stop-color="#6ebe00"/><stop offset=".601" stop-color="#6dbe00"/><stop offset=".676" stop-color="#6dbe00"/><stop offset=".74" stop-color="#6bbe00"/><stop offset=".793" stop-color="#6abe00"/><stop offset=".838" stop-color="#69bf00"/><stop offset=".876" stop-color="#67bf00"/><stop offset=".906" stop-color="#65bf00"/><stop offset=".932" stop-color="#63bf00"/><stop offset=".955" stop-color="#61bf00"/><stop offset=".974" stop-color="#5fbf00"/><stop offset=".989" stop-color="#5ebf00"/><stop offset="1" stop-color="#5dbf00"/></linearGradient>
<linearGradient id="s261" gradientUnits="userSpaceOnUse" x1="454.4" x2="189" spreadMethod="reflect"><stop offset="0" stop-color="#71be00"/><stop offset=".514" stop-color="#71be00"/><stop offset=".601" stop-color="#70be00"/><stop offset=".676" stop-color="#6fbe00"/><stop offset=".74" stop-color="#6ebe00"/><stop offset=".793" stop-color="#6cbe00"/><stop offset=".838" stop-color="#6bbe00"/><stop offset=".876" stop-color="#69bf00"/><stop offset=".906" stop-color="#67bf00"/><stop offset=".932" stop-color="#65bf00"/><stop offset=".955" stop-color="#63bf00"/><stop offset=".974" stop-color="#61bf00"/><stop offset=".989" stop-color="#5fbf00"/><stop offset="1" stop-color="#5fbf00"/></linearGradient>
<linearGradient id="s262" gradientUnits="userSpaceOnUse" x1="454.4" x2="189" spreadMethod="reflect"><stop offset="0" stop-color="#74be00"/><stop offset=".299" stop-color="#74be00"/><stop offset=".412" stop-color="#73be00"/><stop offset=".514" stop-color="#73be00"/><stop offset=".601" stop-color="#72be00"/><stop offset=".676" stop-color="#71be00"/><stop offset=".74" stop-color="#70be00"/><stop offset=".793" stop-color="#6fbe00"/><stop offset=".838" stop-color="#6dbe00"/><stop offset=".876" stop-color="#6bbe00"/><stop offset=".906" stop-color="#69bf00"/><stop offset=".932" stop-color="#67bf00"/><stop offset=".955" stop-color="#65bf00"/><stop offset=".974" stop-color="#63bf00"/><stop offset=".989" stop-color="#61bf00"/><stop offset="1" stop-color="#60bf00"/></linearGradient>
<linearGradient id="s263" gradientUnits="userSpaceOnUse" x1="454.4" x2="189" spreadMethod="reflect"><stop offset="0" stop-color="#76be00"/><stop offset=".514" stop-color="#76be00"/><stop offset=".601" stop-color="#75be00"/><stop offset=".676" stop-color="#74be00"/><stop offset=".74" stop-color="#73be00"/><stop offset=".793" stop-color="#71be00"/><stop offset=".838" stop-color="#6fbe00"/><stop offset=".876" stop-color="#6dbe00"/><stop offset=".906" stop-color="#6bbe00"/><stop offset=".932" stop-color="#69bf00"/><stop offset=".955" stop-color="#67bf00"/><stop offset=".974" stop-color="#65bf00"/><stop offset=".989" stop-color="#63bf00"/><stop offset="1" stop-color="#62bf00"/></linearGradient>
<linearGradient id="s264" gradientUnits="userSpaceOnUse" x1="454.4" x2="189" spreadMethod="reflect"><stop offset="0" stop-color="#79be00"/><stop offset=".412" stop-color="#79be00"/><stop offset=".514" stop-color="#78be00"/><stop offset=".601" stop-color="#77be00"/><stop offset=".676" stop-color="#76be00"/><stop offset=".74" stop-color="#75be00"/><stop offset=".793" stop-color="#73be00"/><stop offset=".838" stop-color="#71be00"/><stop offset=".876" stop-color="#6fbe00"/><stop offset=".906" stop-color="#6dbe00"/><stop offset=".932" stop-color="#6bbe00"/><stop offset=".955" stop-color="#68bf00"/><stop offset=".974" stop-color="#66bf00"/><stop offset=".989" stop-color="#64bf00"/><stop offset="1" stop-color="#63bf00"/></linearGradient>
<linearGradient id="s265" gradientUnits="userSpaceOnUse" x1="454.4" x2="189" spreadMethod="reflect"><stop offset="0" stop-color="#7dbe00"/><stop offset=".299" stop-color="#7dbe00"/><stop offset=".412" stop-color="#7cbe00"/><stop offset=".514" stop-color="#7cbe00"/><stop offset=".601" stop-color="#7bbe00"/><stop offset=".676" stop-color="#79be00"/><stop offset=".74" stop-color="#77be00"/><stop offset=".793" stop-color="#76be00"/><stop offset=".838" stop-color="#74be00"/><stop offset=".876" stop-color="#71be00"/><stop offset=".906" stop-color="#6fbe00"/><stop offset=".932" stop-color="#6dbe00"/><stop offset=".955" stop-color="#6abe00"/><stop offset=".974" stop-color="#68bf00"/><stop offset=".989" stop-color="#66bf00"/><stop offset="1" stop-color="#65bf00"/></linearGradient>
<linearGradient id="s266" gradientUnits="userSpaceOnUse" x1="454.4" x2="189" spreadMethod="reflect"><stop offset="0" stop-color="#81be00"/><stop offset=".167" stop-color="#80be00"/><stop offset=".412" stop-color="#80be00"/><stop offset=".514" stop-color="#7fbe00"/><stop offset=".601" stop-color="#7ebe00"/><stop offset=".676" stop-color="#7dbe00"/><stop offset=".74" stop-color="#7abe00"/><stop offset=".793" stop-color="#78be00"/><stop offset=".838" stop-color="#76be00"/><stop offset=".876" stop-color="#73be00"/><stop offset=".906" stop-color="#71be00"/><stop offset=".932" stop-color="#6fbe00"/><stop offset=".955" stop-color="#6cbe00"/><stop offset=".974" stop-color="#6abf00"/><stop offset=".989" stop-color="#68bf00"/><stop offset="1" stop-color="#66bf00"/></linearGradient>
<linearGradient id="s267" gradientUnits="userSpaceOnUse" x1="454.4" x2="189" spreadMethod="reflect"><stop offset="0" stop-color="#84be00"/><stop offset=".299" stop-color="#84be00"/><stop offset=".412" stop-color="#83be00"/><stop offset=".514" stop-color="#83be00"/><stop offset=".601" stop-color="#82be00"/><stop offset=".676" stop-color="#80be00"/><stop offset=".74" stop-color="#7ebe00"/><stop offset=".793" stop-color="#7bbe00"/><stop offset=".838" stop-color="#78be00"/><stop offset=".876" stop-color="#76be00"/><stop offset=".906" stop-color="#73be00"/><stop offset=".932" stop-color="#71be00"/><stop offset=".955" stop-color="#6ebe00"/><stop offset=".974" stop-color="#6bbe00"/><stop offset=".989" stop-color="#69bf00"/><stop offset="1" stop-color="#68bf00"/></linearGradient>
<linearGradient id="s268" gradientUnits="userSpaceOnUse" x1="454.4" x2="189" spreadMethod="reflect"><stop offset="0" stop-color="#88be00"/><stop offset=".167" stop-color="#88be00"/><stop offset=".299" stop-color="#87be00"/><stop offset=".412" stop-color="#87be00"/><stop offset=".514" stop-color="#86be00"/><stop offset=".601" stop-color="#85be00"/><stop offset=".676" stop-color="#83be00"/><stop offset=".74" stop-color="#81be00"/><stop offset=".793" stop-color="#7ebe00"/><stop offset=".838" stop-color="#7bbe00"/><stop offset=".876" stop-color="#77be00"/><stop offset=".906" stop-color="#75be00"/><stop offset=".932" stop-color="#72be00"/><stop offset=".955" stop-color="#6fbe00"/><stop offset=".974" stop-color="#6dbe00"/><stop offset=".989" stop-color="#6abe00"/><stop offset="1" stop-color="#69bf00"/></linearGradient>
<linearGradient id="s269" gradientUnits="userSpaceOnUse" x1="454.4" x2="189" spreadMethod="reflect"><stop offset="0" stop-color="#8abe00"/><stop offset=".412" stop-color="#8abe00"/><stop offset=".514" stop-color="#89be00"/><stop offset=".601" stop-color="#88be00"/><stop offset=".676" stop-color="#86be00"/><stop offset=".74" stop-color="#83be00"/><stop offset=".793" stop-color="#80be00"/><stop offset=".838" stop-color="#7dbe00"/><stop offset=".876" stop-color="#79be00"/><stop offset=".906" stop-color="#76be00"/><stop offset=".932" stop-color="#73be00"/><stop offset=".955" stop-color="#70be00"/><stop offset=".974" stop-color="#6dbe00"/><stop offset=".989" stop-color="#6bbe00"/><stop offset="1" stop-color="#69bf00"/></linearGradient>
<linearGradient id="s270" gradientUnits="userSpaceOnUse" x1="454.4" x2="189" spreadMethod="reflect"><stop offset="0" stop-color="#8dbe00"/><stop offset=".167" stop-color="#8dbe00"/><stop offset=".299" stop-color="#8cbe00"/><stop offset=".412" stop-color="#8cbe00"/><stop offset=".514" stop-color="#8bbe00"/><stop offset=".601" stop-color="#8abe00"/><stop offset=".676" stop-color="#88be00"/><stop offset=".74" stop-color="#85be00"/><stop offset=".793" stop-color="#82be00"/><stop offset=".838" stop-color="#7ebe00"/><stop offset=".876" stop-color="#7abe00"/><stop offset=".906" stop-color="#77be00"/><stop offset=".932" stop-color="#74be00"/><stop offset=".955" stop-color="#71be00"/><stop offset=".974" stop-color="#6ebe00"/><stop offset=".989" stop-color="#6bbe00"/><stop offset="1" stop-color="#6abf00"/></linearGradient>
<linearGradient id="s271" gradientUnits="userSpaceOnUse" x1="454.4" x2="189" spreadMethod="reflect"><stop offset="0" stop-color="#8fbe00"/><stop offset=".299" stop-color="#8fbe00"/><stop offset=".412" stop-color="#8ebe00"/><stop offset=".514" stop-color="#8ebe00"/><stop offset=".601" stop-color="#8cbe00"/><stop offset=".676" stop-color="#8abe00"/><stop offset=".74" stop-color="#87be00"/><stop offset=".793" stop-color="#84be00"/><stop offset=".838" stop-color="#80be00"/><stop offset=".876" stop-color="#7cbe00"/><stop offset=".906" stop-color="#78be00"/><stop offset=".932" stop-color="#75be00"/><stop offset=".955" stop-color="#71be00"/><stop offset=".974" stop-color="#6ebe00"/><stop offset=".989" stop-color="#6bbe00"/><stop offset="1" stop-color="#6abf00"/></linearGradient>
<linearGradient id="s272" gradientUnits="userSpaceOnUse" x1="454.4" x2="189" spreadMethod="reflect"><stop offset="0" stop-color="#92be00"/><stop offset=".167" stop-color="#92be00"/><stop offset=".299" stop-color="#91be00"/><stop offset=".412" stop-color="#91be00"/><stop offset=".514" stop-color="#90be00"/><stop offset=".601" stop-color="#8fbe00"/><stop offset=".676" stop-color="#8cbe00"/><stop offset=".74" stop-color="#8abe00"/><stop offset=".793" stop-color="#86be00"/><stop offset=".838" stop-color="#82be00"/><stop offset=".876" stop-color="#7ebe00"/><stop offset=".906" stop-color="#79be00"/><stop offset=".932" stop-color="#75be00"/><stop offset=".955" stop-color="#72be00"/><stop offset=".974" stop-color="#6fbe00"/><stop offset=".989" stop-color="#6cbe00"/><stop offset="1" stop-color="#6abe00"/></linearGradient>
<linearGradient id="s273" gradientUnits="userSpaceOnUse" x1="454.4" x2="189" spreadMethod="reflect"><stop offset="0" stop-color="#94be00"/><stop offset=".299" stop-color="#94be00"/><stop offset=".412" stop-color="#93be00"/><stop offset=".514" stop-color="#92be00"/><stop offset=".601" stop-color="#91be00"/><stop offset=".676" stop-color="#8fbe00"/><stop offset=".74" stop-color="#8cbe00"/><stop offset=".793" stop-color="#88be00"/><stop offset=".838" stop-color="#84be00"/><stop offset=".876" stop-color="#7fbe00"/><stop offset=".906" stop-color="#7abe00"/><stop offset=".932" stop-color="#76be00"/><stop offset=".955" stop-color="#73be00"/><stop offset=".974" stop-color="#6fbe00"/><stop offset=".989" stop-color="#6cbe00"/><stop offset="1" stop-color="#6bbe00"/></linearGradient>
<linearGradient id="s274" gradientUnits="userSpaceOnUse" x1="454.4" x2="189" spreadMethod="reflect"><stop offset="0" stop-color="#97be00"/><stop offset=".167" stop-color="#97be00"/><stop offset=".299" stop-color="#96be00"/><stop offset=".412" stop-color="#96be00"/><stop offset=".514" stop-color="#95be00"/><stop offset=".601" stop-color="#93be00"/><stop offset=".676" stop-color="#91be00"/><stop offset=".74" stop-color="#8ebe00"/><stop offset=".793" stop-color="#8abe00"/><stop offset=".838" stop-color="#86be00"/><stop offset=".876" stop-color="#81be00"/><stop offset=".906" stop-color="#7cbe00"/><stop offset=".932" stop-color="#77be00"/><stop offset=".955" stop-color="#73be00"/><stop offset=".974" stop-color="#70be00"/><stop offset=".989" stop-color="#6dbe00"/><stop offset="1" stop-color="#6bbe00"/></linearGradient>
<linearGradient id="s275" gradientUnits="userSpaceOnUse" x1="454.4" x2="189" spreadMethod="reflect"><stop offset="0" stop-color="#99be00"/><stop offset=".299" stop-color="#99be00"/><stop offset=".412" stop-color="#98be00"/><stop offset=".514" stop-color="#97be00"/><stop offset=".601" stop-color="#96be00"/><stop offset=".676" stop-color="#93be00"/><stop offset=".74" stop-color="#90be00"/><stop offset=".793" stop-color="#8cbe00"/><stop offset=".838" stop-color="#87be00"/><stop offset=".876" stop-color="#82be00"/><stop offset=".906" stop-color="#7dbe00"/><stop offset=".932" stop-color="#78be00"/><stop offset=".955" stop-color="#74be00"/><stop offset=".974" stop-color="#70be00"/><stop offset=".989" stop-color="#6dbe00"/><stop offset="1" stop-color="#6bbe00"/></linearGradient>
<linearGradient id="s276" gradientUnits="userSpaceOnUse" x1="454.4" x2="189" spreadMethod="reflect"><stop offset="0" stop-color="#9cbe00"/><stop offset=".167" stop-color="#9cbe00"/><stop offset=".299" stop-color="#9bbe00"/><stop offset=".412" stop-color="#9bbe00"/><stop offset=".514" stop-color="#9abe00"/><stop offset=".601" stop-color="#98be00"/><stop offset=".676" stop-color="#95be00"/><stop offset=".74" stop-color="#92be00"/><stop offset=".793" stop-color="#8ebe00"/><stop offset=".838" stop-color="#89be00"/><stop offset=".876" stop-color="#84be00"/><stop offset=".906" stop-color="#7ebe00"/><stop offset=".932" stop-color="#79be00"/><stop offset=".955" stop-color="#75be00"/><stop offset=".974" stop-color="#71be00"/><stop offset=".989" stop-color="#6dbe00"/><stop offset="1" stop-color="#6bbe00"/></linearGradient>
<linearGradient id="s277" gradientUnits="userSpaceOnUse" x1="454.4" x2="189" spreadMethod="reflect"><stop offset="0" stop-color="#9ebe00"/><stop offset=".299" stop-color="#9ebe00"/><stop offset=".412" stop-color="#9dbe00"/><stop offset=".514" stop-color="#9cbe00"/><stop offset=".601" stop-color="#9abe00"/><stop offset=".676" stop-color="#98be00"/><stop offset=".74" stop-color="#94be00"/><stop offset=".793" stop-color="#90be00"/><stop offset=".838" stop-color="#8bbe00"/><stop offset=".876" stop-color="#85be00"/><stop offset=".906" stop-color="#80be00"/><stop offset=".932" stop-color="#7abe00"/><stop offset=".955" stop-color="#75be00"/><stop offset=".974" stop-color="#71be00"/><stop offset=".989" stop-color="#6ebe00"/><stop offset="1" stop-color="#6cbe00"/></linearGradient>
<linearGradient id="s278" gradientUnits="userSpaceOnUse" x1="454.4" x2="189" spreadMethod="reflect"><stop offset="0" stop-color="#a1bd00"/><stop offset=".167" stop-color="#a1bd00"/><stop offset=".299" stop-color="#a0be00"/><stop offset=".412" stop-color="#a0be00"/><stop offset=".514" stop-color="#9fbe00"/><stop offset=".601" stop-color="#9dbe00"/><stop offset=".676" stop-color="#9abe00"/><stop offset=".74" stop-color="#96be00"/><stop offset=".793" stop-color="#92be00"/><stop offset=".838" stop-color="#8dbe00"/><stop offset=".876" stop-color="#87be00"/><stop offset=".906" stop-color="#81be00"/><stop offset=".932" stop-color="#7bbe00"/><stop offset=".955" stop-color="#76be00"/><stop offset=".974" stop-color="#72be00"/><stop offset=".989" stop-color="#6ebe00"/><stop offset="1" stop-color="#6cbe00"/></linearGradient>
<linearGradient id="s279" gradientUnits="userSpaceOnUse" x1="454.4" x2="189" spreadMethod="reflect"><stop offset="0" stop-color="#a3bd00"/><stop offset=".299" stop-color="#a3bd00"/><stop offset=".412" stop-color="#a2bd00"/><stop offset=".514" stop-color="#a1bd00"/><stop offset=".601" stop-color="#9fbe00"/><stop offset=".676" stop-color="#9cbe00"/><stop offset=".74" stop-color="#98be00"/><stop offset=".793" stop-color="#94be00"/><stop offset=".838" stop-color="#8ebe00"/><stop offset=".876" stop-color="#88be00"/><stop offset=".906" stop-color="#82be00"/><stop offset=".932" stop-color="#7cbe00"/><stop offset=".955" stop-color="#76be00"/><stop offset=".974" stop-color="#72be00"/><stop offset=".989" stop-color="#6ebe00"/><stop offset="1" stop-color="#6cbe00"/></linearGradient>
<linearGradient id="s280" gradientUnits="userSpaceOnUse" x1="454.4" x2="189" spreadMethod="reflect"><stop offset="0" stop-color="#a6bc00"/><stop offset=".167" stop-color="#a5bd00"/><stop offset=".299" stop-color="#a5bd00"/><stop offset=".412" stop-color="#a4bd00"/><stop offset=".514" stop-color="#a3bd00"/><stop offset=".601" stop-color="#a1bd00"/><stop offset=".676" stop-color="#9ebe00"/><stop offset=".74" stop-color="#9bbe00"/><stop offset=".793" stop-color="#96be00"/><stop offset=".838" stop-color="#90be00"/><stop offset=".876" stop-color="#8abe00"/><stop offset=".906" stop-color="#84be00"/><stop offset=".932" stop-color="#7dbe00"/><stop offset=".955" stop-color="#77be00"/><stop offset=".974" stop-color="#73be00"/><stop offset=".989" stop-color="#6fbe00"/><stop offset="1" stop-color="#6dbe00"/></linearGradient>
<linearGradient id="s281" gradientUnits="userSpaceOnUse" x1="454.4" x2="189" spreadMethod="reflect"><stop offset="0" stop-color="#a8bc00"/><stop offset=".167" stop-color="#a8bc00"/><stop offset=".299" stop-color="#a7bc00"/><stop offset=".412" stop-color="#a7bc00"/><stop offset=".514" stop-color="#a6bc00"/><stop offset=".601" stop-color="#a4bd00"/><stop offset=".676" stop-color="#a1bd00"/><stop offset=".74" stop-color="#9dbe00"/><stop offset=".793" stop-color="#98be00"/><stop offset=".838" stop-color="#92be00"/><stop offset=".876" stop-color="#8cbe00"/><stop offset=".906" stop-color="#85be00"/><stop offset=".932" stop-color="#7ebe00"/><stop offset=".955" stop-color="#78be00"/><stop offset=".974" stop-color="#73be00"/><stop offset=".989" stop-color="#6fbe00"/><stop offset="1" stop-color="#6dbe00"/></linearGradient>
<linearGradient id="s282" gradientUnits="userSpaceOnUse" x1="454.4" x2="189" spreadMethod="reflect"><stop offset="0" stop-color="#aabc00"/><stop offset=".299" stop-color="#aabc00"/><stop offset=".412" stop-color="#a9bc00"/><stop offset=".514" stop-color="#a8bc00"/><stop offset=".601" stop-color="#a6bc00"/><stop offset=".676" stop-color="#a3bd00"/><stop offset=".74" stop-color="#9fbe00"/><stop offset=".793" stop-color="#9abe00"/><stop offset=".838" stop-color="#94be00"/><stop offset=".876" stop-color="#8dbe00"/><stop offset=".906" stop-color="#87be00"/><stop offset=".932" stop-color="#80be00"/><stop offset=".955" stop-color="#79be00"/><stop offset=".974" stop-color="#74be00"/><stop offset=".989" stop-color="#6fbe00"/><stop offset="1" stop-color="#6dbe00"/></linearGradient>
<linearGradient id="s283" gradientUnits="userSpaceOnUse" x1="454.4" x2="189" spreadMethod="reflect"><stop offset="0" stop-color="#adbb00"/><stop offset=".167" stop-color="#adbb00"/><stop offset=".299" stop-color="#acbb00"/><stop offset=".412" stop-color="#acbb00"/><stop offset=".514" stop-color="#aabc00"/><stop offset=".601" stop-color="#a8bc00"/><stop offset=".676" stop-color="#a5bd00"/><stop offset=".74" stop-color="#a1bd00"/><stop offset=".793" stop-color="#9cbe00"/><stop offset=".838" stop-color="#96be00"/><stop offset=".876" stop-color="#8fbe00"/><stop offset=".906" stop-color="#88be00"/><stop offset=".932" stop-color="#81be00"/><stop offset=".955" stop-color="#7abe00"/><stop offset=".974" stop-color="#74be00"/><stop offset=".989" stop-color="#70be00"/><stop offset="1" stop-color="#6dbe00"/></linearGradient>
<linearGradient id="s284" gradientUnits="userSpaceOnUse" x1="454.4" x2="189" spreadMethod="reflect"><stop offset="0" stop-color="#afbb00"/><stop offset=".299" stop-color="#afbb00"/><stop offset=".412" stop-color="#aebb00"/><stop offset=".514" stop-color="#adbb00"/><stop offset=".601" stop-color="#aabc00"/><stop offset=".676" stop-color="#a7bc00"/><stop offset=".74" stop-color="#a3bd00"/><stop offset=".793" stop-color="#9ebe00"/><stop offset=".838" stop-color="#97be00"/><stop offset=".876" stop-color="#90be00"/><stop offset=".906" stop-color="#89be00"/><stop offset=".932" stop-color="#82be00"/><stop offset=".955" stop-color="#7abe00"/><stop offset=".974" stop-color="#75be00"/><stop offset=".989" stop-color="#70be00"/><stop offset="1" stop-color="#6ebe00"/></linearGradient>
<linearGradient id="s285" gradientUnits="userSpaceOnUse" x1="454.4" x2="189" spreadMethod="reflect"><stop offset="0" stop-color="#b2ba00"/><stop offset=".167" stop-color="#b2ba00"/><stop offset=".299" stop-color="#b1ba00"/><stop offset=".412" stop-color="#b0ba00"/><stop offset=".514" stop-color="#afbb00"/><stop offset=".601" stop-color="#adbb00"/><stop offset=".676" stop-color="#a9bc00"/><stop offset=".74" stop-color="#a5bd00"/><stop offset=".793" stop-color="#a0be00"/><stop offset=".838" stop-color="#99be00"/><stop offset=".876" stop-color="#92be00"/><stop offset=".906" stop-color="#8bbe00"/><stop offset=".932" stop-color="#83be00"/><stop offset=".955" stop-color="#7bbe00"/><stop offset=".974" stop-color="#75be00"/><stop offset=".989" stop-color="#71be00"/><stop offset="1" stop-color="#6ebe00"/></linearGradient>
<linearGradient id="s286" gradientUnits="userSpaceOnUse" x1="454.4" x2="189" spreadMethod="reflect"><stop offset="0" stop-color="#b4ba00"/><stop offset=".299" stop-color="#b4ba00"/><stop offset=".412" stop-color="#b3ba00"/><stop offset=".514" stop-color="#b1ba00"/><stop offset=".601" stop-color="#afbb00"/><stop offset=".676" stop-color="#acbb00"/><stop offset=".74" stop-color="#a7bc00"/><stop offset=".793" stop-color="#a1bd00"/><stop offset=".838" stop-color="#9bbe00"/><stop offset=".876" stop-color="#93be00"/><stop offset=".906" stop-color="#8cbe00"/><stop offset=".932" stop-color="#84be00"/><stop offset=".955" stop-color="#7cbe00"/><stop offset=".974" stop-color="#76be00"/><stop offset=".989" stop-color="#71be00"/><stop offset="1" stop-color="#6ebe00"/></linearGradient>
<linearGradient id="s287" gradientUnits="userSpaceOnUse" x1="454.4" x2="189" spreadMethod="reflect"><stop offset="0" stop-color="#b7b900"/><stop offset=".167" stop-color="#b6b900"/><stop offset=".299" stop-color="#b6b900"/><stop offset=".412" stop-color="#b5b900"/><stop offset=".514" stop-color="#b4ba00"/><stop offset=".601" stop-color="#b1ba00"/><stop offset=".676" stop-color="#aebb00"/><stop offset=".74" stop-color="#a9bc00"/><stop offset=".793" stop-color="#a3bd00"/><stop offset=".838" stop-color="#9dbe00"/><stop offset=".876" stop-color="#95be00"/><stop offset=".906" stop-color="#8dbe00"/><stop offset=".932" stop-color="#85be00"/><stop offset=".955" stop-color="#7dbe00"/><stop offset=".974" stop-color="#76be00"/><stop offset=".989" stop-color="#71be00"/><stop offset="1" stop-color="#6fbe00"/></linearGradient>
<linearGradient id="s288" gradientUnits="userSpaceOnUse" x1="454.4" x2="189" spreadMethod="reflect"><stop offset="0" stop-color="#b9b900"/><stop offset=".167" stop-color="#b9b900"/><stop offset=".299" stop-color="#b8b900"/><stop offset=".412" stop-color="#b8b900"/><stop offset=".514" stop-color="#b6b900"/><stop offset=".601" stop-color="#b4ba00"/><stop offset=".676" stop-color="#b0ba00"/><stop offset=".74" stop-color="#abbb00"/><stop offset=".793" stop-color="#a5bd00"/><stop offset=".838" stop-color="#9ebe00"/><stop offset=".876" stop-color="#96be00"/><stop offset=".906" stop-color="#8ebe00"/><stop offset=".932" stop-color="#86be00"/><stop offset=".955" stop-color="#7dbe00"/><stop offset=".974" stop-color="#76be00"/><stop offset=".989" stop-color="#71be00"/><stop offset="1" stop-color="#6ebe00"/></linearGradient>
<linearGradient id="s289" gradientUnits="userSpaceOnUse" x1="454.4" x2="189" spreadMethod="reflect"><stop offset="0" stop-color="#bbb800"/><stop offset=".299" stop-color="#bbb800"/><stop offset=".412" stop-color="#bab800"/><stop offset=".514" stop-color="#b8b900"/><stop offset=".601" stop-color="#b6b900"/><stop offset=".676" stop-color="#b2ba00"/><stop offset=".74" stop-color="#adbb00"/><stop offset=".793" stop-color="#a7bc00"/><stop offset=".838" stop-color="#9fbe00"/><stop offset=".876" stop-color="#97be00"/><stop offset=".906" stop-color="#8fbe00"/><stop offset=".932" stop-color="#86be00"/><stop offset=".955" stop-color="#7dbe00"/><stop offset=".974" stop-color="#76be00"/><stop offset=".989" stop-color="#71be00"/><stop offset="1" stop-color="#6ebe00"/></linearGradient>
<linearGradient id="s290" gradientUnits="userSpaceOnUse" x1="454.4" x2="189" spreadMethod="reflect"><stop offset="0" stop-color="#bfb700"/><stop offset=".167" stop-color="#beb800"/><stop offset=".299" stop-color="#beb800"/><stop offset=".412" stop-color="#bdb800"/><stop offset=".514" stop-color="#bbb800"/><stop offset=".601" stop-color="#b9b900"/><stop offset=".676" stop-color="#b5b900"/><stop offset=".74" stop-color="#afbb00"/><stop offset=".793" stop-color="#a9bc00"/><stop offset=".838" stop-color="#a1bd00"/><stop offset=".876" stop-color="#99be00"/><stop offset=".906" stop-color="#90be00"/><stop offset=".932" stop-color="#87be00"/><stop offset=".955" stop-color="#7ebe00"/><stop offset=".974" stop-color="#76be00"/><stop offset=".989" stop-color="#71be00"/><stop offset="1" stop-color="#6ebe00"/></linearGradient>
<linearGradient id="s291" gradientUnits="userSpaceOnUse" x1="454.4" x2="189" spreadMethod="reflect"><stop offset="0" stop-color="#c2b700"/><stop offset=".299" stop-color="#c2b700"/><stop offset=".412" stop-color="#c1b700"/><stop offset=".514" stop-color="#bfb700"/><stop offset=".601" stop-color="#bcb800"/><stop offset=".676" stop-color="#b8b900"/><stop offset=".74" stop-color="#b3ba00"/><stop offset=".793" stop-color="#acbb00"/><stop offset=".838" stop-color="#a4bd00"/><stop offset=".876" stop-color="#9bbe00"/><stop offset=".906" stop-color="#93be00"/><stop offset=".932" stop-color="#89be00"/><stop offset=".955" stop-color="#80be00"/><stop offset=".974" stop-color="#77be00"/><stop offset=".989" stop-color="#71be00"/><stop offset="1" stop-color="#6ebe00"/></linearGradient>
<linearGradient id="s292" gradientUnits="userSpaceOnUse" x1="454.4" x2="189" spreadMethod="reflect"><stop offset="0" stop-color="#c6b600"/><stop offset=".167" stop-color="#c6b600"/><stop offset=".299" stop-color="#c5b600"/><stop offset=".412" stop-color="#c4b600"/><stop offset=".514" stop-color="#c3b700"/><stop offset=".601" stop-color="#c0b700"/><stop offset=".676" stop-color="#bcb800"/><stop offset=".74" stop-color="#b6b900"/><stop offset=".793" stop-color="#afbb00"/><stop offset=".838" stop-color="#a7bc00"/><stop offset=".876" stop-color="#9ebe00"/><stop offset=".906" stop-color="#95be00"/><stop offset=".932" stop-color="#8bbe00"/><stop offset=".955" stop-color="#81be00"/><stop offset=".974" stop-color="#78be00"/><stop offset=".989" stop-color="#72be00"/><stop offset="1" stop-color="#6fbe00"/></linearGradient>
<linearGradient id="s293" gradientUnits="userSpaceOnUse" x1="454.4" x2="189" spreadMethod="reflect"><stop offset="0" stop-color="#cab400"/><stop offset=".167" stop-color="#cab500"/><stop offset=".299" stop-color="#c9b500"/><stop offset=".412" stop-color="#c8b500"/><stop offset=".514" stop-color="#c6b600"/><stop offset=".601" stop-color="#c3b700"/><stop offset=".676" stop-color="#bfb700"/><stop offset=".74" stop-color="#b9b900"/><stop offset=".793" stop-color="#b2ba00"/><stop offset=".838" stop-color="#aabc00"/><stop offset=".876" stop-color="#a0be00"/><stop offset=".906" stop-color="#97be00"/><stop offset=".932" stop-color="#8dbe00"/><stop offset=".955" stop-color="#83be00"/><stop offset=".974" stop-color="#79be00"/><stop offset=".989" stop-color="#73be00"/><stop offset="1" stop-color="#6fbe00"/></linearGradient>
<linearGradient id="s294" gradientUnits="userSpaceOnUse" x1="454.4" x2="189" spreadMethod="reflect"><stop offset="0" stop-color="#ceb300"/><stop offset=".167" stop-color="#ceb300"/><stop offset=".299" stop-color="#cdb300"/><stop offset=".412" stop-color="#ccb400"/><stop offset=".514" stop-color="#cab400"/><stop offset=".601" stop-color="#c7b600"/><stop offset=".676" stop-color="#c2b700"/><stop offset=".74" stop-color="#bcb800"/><stop offset=".793" stop-color="#b5b900"/><stop offset=".838" stop-color="#acbb00"/><stop offset=".876" stop-color="#a3bd00"/><stop offset=".906" stop-color="#99be00"/><stop offset=".932" stop-color="#8fbe00"/><stop offset=".955" stop-color="#84be00"/><stop offset=".974" stop-color="#7abe00"/><stop offset=".989" stop-color="#73be00"/><stop offset="1" stop-color="#70be00"/></linearGradient>
<linearGradient id="s295" gradientUnits="userSpaceOnUse" x1="454.4" x2="189" spreadMethod="reflect"><stop offset="0" stop-color="#d2b200"/><stop offset=".167" stop-color="#d1b200"/><stop offset=".299" stop-color="#d1b200"/><stop offset=".412" stop-color="#d0b200"/><stop offset=".514" stop-color="#ceb300"/><stop offset=".601" stop-color="#cbb400"/><stop offset=".676" stop-color="#c6b600"/><stop offset=".74" stop-color="#c0b700"/><stop offset=".793" stop-color="#b8b900"/><stop offset=".838" stop-color="#afbb00"/><stop offset=".876" stop-color="#a5bd00"/><stop offset=".906" stop-color="#9bbe00"/><stop offset=".932" stop-color="#91be00"/><stop offset=".955" stop-color="#86be00"/><stop offset=".974" stop-color="#7bbe00"/><stop offset=".989" stop-color="#74be00"/><stop offset="1" stop-color="#70be00"/></linearGradient>
<linearGradient id="s296" gradientUnits="userSpaceOnUse" x1="454.4" x2="189" spreadMethod="reflect"><stop offset="0" stop-color="#d5b000"/><stop offset=".299" stop-color="#d5b000"/><stop offset=".412" stop-color="#d3b100"/><stop offset=".514" stop-color="#d1b200"/><stop offset=".601" stop-color="#ceb300"/><stop offset=".676" stop-color="#c9b500"/><stop offset=".74" stop-color="#c3b700"/><stop offset=".793" stop-color="#bbb800"/><stop offset=".838" stop-color="#b2ba00"/><stop offset=".876" stop-color="#a8bc00"/><stop offset=".906" stop-color="#9ebe00"/><stop offset=".932" stop-color="#93be00"/><stop offset=".955" stop-color="#87be00"/><stop offset=".974" stop-color="#7dbe00"/><stop offset=".989" stop-color="#75be00"/><stop offset="1" stop-color="#71be00"/></linearGradient>
<linearGradient id="s297" gradientUnits="userSpaceOnUse" x1="454.4" x2="189" spreadMethod="reflect"><stop offset="0" stop-color="#d9af00"/><stop offset=".167" stop-color="#d9af00"/><stop offset=".299" stop-color="#d8af00"/><stop offset=".412" stop-color="#d7af00"/><stop offset=".514" stop-color="#d5b000"/><stop offset=".601" stop-color="#d2b200"/><stop offset=".676" stop-color="#cdb300"/><stop offset=".74" stop-color="#c6b600"/><stop offset=".793" stop-color="#beb800"/><stop offset=".838" stop-color="#b5b900"/><stop offset=".876" stop-color="#aabc00"/><stop offset=".906" stop-color="#a0be00"/><stop offset=".932" stop-color="#95be00"/><stop offset=".955" stop-color="#89be00"/><stop offset=".974" stop-color="#7ebe00"/><stop offset=".989" stop-color="#75be00"/><stop offset="1" stop-color="#72be00"/></linearGradient>
<linearGradient id="s298" gradientUnits="userSpaceOnUse" x1="454.4" x2="189" spreadMethod="reflect"><stop offset="0" stop-color="#ddad00"/><stop offset=".167" stop-color="#ddad00"/><stop offset=".299" stop-color="#dcae00"/><stop offset=".412" stop-color="#dbae00"/><stop offset=".514" stop-color="#d9af00"/><stop offset=".601" stop-color="#d5b000"/><stop offset=".676" stop-color="#d0b200"/><stop offset=".74" stop-color="#c9b500"/><stop offset=".793" stop-color="#c1b700"/><stop offset=".838" stop-color="#b7b900"/><stop offset=".876" stop-color="#adbb00"/><stop offset=".906" stop-color="#a2bd00"/><stop offset=".932" stop-color="#97be00"/><stop offset=".955" stop-color="#8bbe00"/><stop offset=".974" stop-color="#7fbe00"/><stop offset=".989" stop-color="#76be00"/><stop offset="1" stop-color="#72be00"/></linearGradient>
<linearGradient id="s299" gradientUnits="userSpaceOnUse" x1="454.4" x2="189" spreadMethod="reflect"><stop offset="0" stop-color="#e1ac00"/><stop offset=".167" stop-color="#e1ac00"/><stop offset=".299" stop-color="#e0ac00"/><stop offset=".412" stop-color="#dfad00"/><stop offset=".514" stop-color="#dcae00"/><stop offset=".601" stop-color="#d9af00"/><stop offset=".676" stop-color="#d4b100"/><stop offset=".74" stop-color="#cdb400"/><stop offset=".793" stop-color="#c4b600"/><stop offset=".838" stop-color="#bab800"/><stop offset=".876" stop-color="#afbb00"/><stop offset=".906" stop-color="#a4bd00"/><stop offset=".932" stop-color="#99be00"/><stop offset=".955" stop-color="#8cbe00"/><stop offset=".974" stop-color="#81be00"/><stop offset=".989" stop-color="#77be00"/><stop offset="1" stop-color="#73be00"/></linearGradient>
<linearGradient id="s300" gradientUnits="userSpaceOnUse" x1="454.4" x2="189" spreadMethod="reflect"><stop offset="0" stop-color="#e5aa00"/><stop offset=".167" stop-color="#e4ab00"/><stop offset=".299" stop-color="#e4ab00"/><stop offset=".412" stop-color="#e2ab00"/><stop offset=".514" stop-color="#e0ac00"/><stop offset=".601" stop-color="#ddad00"/><stop offset=".676" stop-color="#d7b000"/><stop offset=".74" stop-color="#d0b200"/><stop offset=".793" stop-color="#c7b600"/><stop offset=".838" stop-color="#bdb800"/><stop offset=".876" stop-color="#b2ba00"/><stop offset=".906" stop-color="#a7bc00"/><stop offset=".932" stop-color="#9bbe00"/><stop offset=".955" stop-color="#8ebe00"/><stop offset=".974" stop-color="#82be00"/><stop offset=".989" stop-color="#78be00"/><stop offset="1" stop-color="#73be00"/></linearGradient>
<linearGradient id="s301" gradientUnits="userSpaceOnUse" x1="454.4" x2="189" spreadMethod="reflect"><stop offset="0" stop-color="#e9a900"/><stop offset=".167" stop-color="#e9a900"/><stop offset=".299" stop-color="#e8a900"/><stop offset=".412" stop-color="#e7aa00"/><stop offset=".514" stop-color="#e5aa00"/><stop offset=".601" stop-color="#e1ac00"/><stop offset=".676" stop-color="#dbae00"/><stop offset=".74" stop-color="#d4b100"/><stop offset=".793" stop-color="#cbb400"/><stop offset=".838" stop-color="#c0b700"/><stop offset=".876" stop-color="#b5b900"/><stop offset=".906" stop-color="#aabc00"/><stop offset=".932" stop-color="#9ebe00"/><stop offset=".955" stop-color="#91be00"/><stop offset=".974" stop-color="#85be00"/><stop offset=".989" stop-color="#79be00"/><stop offset="1" stop-color="#75be00"/></linearGradient>
<linearGradient id="s302" gradientUnits="userSpaceOnUse" x1="454.4" x2="189" spreadMethod="reflect"><stop offset="0" stop-color="#eca700"/><stop offset=".299" stop-color="#eca700"/><stop offset=".412" stop-color="#eba800"/><stop offset=".514" stop-color="#e9a900"/><stop offset=".601" stop-color="#e5aa00"/><stop offset=".676" stop-color="#e0ac00"/><stop offset=".74" stop-color="#d8af00"/><stop offset=".793" stop-color="#cfb300"/><stop offset=".838" stop-color="#c4b600"/><stop offset=".876" stop-color="#b9b900"/><stop offset=".906" stop-color="#aebb00"/><stop offset=".932" stop-color="#a1bd00"/><stop offset=".955" stop-color="#94be00"/><stop offset=".974" stop-color="#87be00"/><stop offset=".989" stop-color="#7bbe00"/><stop offset="1" stop-color="#76be00"/></linearGradient>
<linearGradient id="s303" gradientUnits="userSpaceOnUse" x1="454.4" x2="189" spreadMethod="reflect"><stop offset="0" stop-color="#efa500"/><stop offset=".167" stop-color="#efa500"/><stop offset=".299" stop-color="#eea600"/><stop offset=".412" stop-color="#eea600"/><stop offset=".514" stop-color="#eca700"/><stop offset=".601" stop-color="#eaa800"/><stop offset=".676" stop-color="#e4ab00"/><stop offset=".74" stop-color="#dcae00"/><stop offset=".793" stop-color="#d3b100"/><stop offset=".838" stop-color="#c8b500"/><stop offset=".876" stop-color="#bdb800"/><stop offset=".906" stop-color="#b1ba00"/><stop offset=".932" stop-color="#a5bd00"/><stop offset=".955" stop-color="#97be00"/><stop offset=".974" stop-color="#8abe00"/><stop offset=".989" stop-color="#7ebe00"/><stop offset="1" stop-color="#77be00"/></linearGradient>
<linearGradient id="s304" gradientUnits="userSpaceOnUse" x1="454.4" x2="189" spreadMethod="reflect"><stop offset="0" stop-color="#f1a400"/><stop offset=".299" stop-color="#f1a400"/><stop offset=".412" stop-color="#f0a500"/><stop offset=".514" stop-color="#efa600"/><stop offset=".601" stop-color="#eda700"/><stop offset=".676" stop-color="#e8a900"/><stop offset=".74" stop-color="#e0ac00"/><stop offset=".793" stop-color="#d7b000"/><stop offset=".838" stop-color="#ccb400"/><stop offset=".876" stop-color="#c1b700"/><stop offset=".906" stop-color="#b5b900"/><stop offset=".932" stop-color="#a8bc00"/><stop offset=".955" stop-color="#9abe00"/><stop offset=".974" stop-color="#8cbe00"/><stop offset=".989" stop-color="#80be00"/><stop offset="1" stop-color="#79be00"/></linearGradient>
<linearGradient id="s305" gradientUnits="userSpaceOnUse" x1="454.4" x2="189" spreadMethod="reflect"><stop offset="0" stop-color="#f3a200"/><stop offset=".167" stop-color="#f3a200"/><stop offset=".299" stop-color="#f3a300"/><stop offset=".412" stop-color="#f2a300"/><stop offset=".514" stop-color="#f1a400"/><stop offset=".601" stop-color="#efa500"/><stop offset=".676" stop-color="#eca700"/><stop offset=".74" stop-color="#e5aa00"/><stop offset=".793" stop-color="#dbae00"/><stop offset=".838" stop-color="#d1b200"/><stop offset=".876" stop-color="#c6b600"/><stop offset=".906" stop-color="#bbb800"/><stop offset=".932" stop-color="#aebb00"/><stop offset=".955" stop-color="#a0be00"/><stop offset=".974" stop-color="#92be00"/><stop offset=".989" stop-color="#85be00"/><stop offset="1" stop-color="#7ebe00"/></linearGradient>
<linearGradient id="s306" gradientUnits="userSpaceOnUse" x1="454.4" x2="189" spreadMethod="reflect"><stop offset="0" stop-color="#f6a100"/><stop offset=".167" stop-color="#f6a100"/><stop offset=".299" stop-color="#f5a100"/><stop offset=".412" stop-color="#f4a100"/><stop offset=".514" stop-color="#f3a200"/><stop offset=".601" stop-color="#f1a400"/><stop offset=".676" stop-color="#eea600"/><stop offset=".74" stop-color="#eaa900"/><stop offset=".793" stop-color="#e0ac00"/><stop offset=".838" stop-color="#d7b000"/><stop offset=".876" stop-color="#cdb300"/><stop offset=".906" stop-color="#c2b700"/><stop offset=".932" stop-color="#b6b900"/><stop offset=".955" stop-color="#a8bc00"/><stop offset=".974" stop-color="#9abe00"/><stop offset=".989" stop-color="#8dbe00"/><stop offset="1" stop-color="#86be00"/></linearGradient>
<linearGradient id="s307" gradientUnits="userSpaceOnUse" x1="454.4" x2="189" spreadMethod="reflect"><stop offset="0" stop-color="#f89f00"/><stop offset=".167" stop-color="#f89f00"/><stop offset=".299" stop-color="#f79f00"/><stop offset=".412" stop-color="#f7a000"/><stop offset=".514" stop-color="#f6a100"/><stop offset=".601" stop-color="#f4a200"/><stop offset=".676" stop-color="#f1a400"/><stop offset=".74" stop-color="#eda700"/><stop offset=".793" stop-color="#e6aa00"/><stop offset=".838" stop-color="#ddad00"/><stop offset=".876" stop-color="#d4b100"/><stop offset=".906" stop-color="#cab400"/><stop offset=".932" stop-color="#beb800"/><stop offset=".955" stop-color="#b0ba00"/><stop offset=".974" stop-color="#a2bd00"/><stop offset=".989" stop-color="#95be00"/><stop offset="1" stop-color="#8ebe00"/></linearGradient>
<linearGradient id="s308" gradientUnits="userSpaceOnUse" x1="454.4" x2="189" spreadMethod="reflect"><stop offset="0" stop-color="#fa9d00"/><stop offset=".167" stop-color="#fa9d00"/><stop offset=".299" stop-color="#fa9e00"/><stop offset=".412" stop-color="#f99e00"/><stop offset=".514" stop-color="#f89f00"/><stop offset=".601" stop-color="#f6a000"/><stop offset=".676" stop-color="#f3a200"/><stop offset=".732" stop-color="#f0a500"/><stop offset=".77" stop-color="#eda700"/><stop offset=".797" stop-color="#eaa800"/><stop offset=".819" stop-color="#e6aa00"/><stop offset=".838" stop-color="#e3ab00"/><stop offset=".853" stop-color="#e0ac00"/><stop offset=".868" stop-color="#ddad00"/><stop offset=".883" stop-color="#d9af00"/><stop offset=".898" stop-color="#d5b000"/><stop offset=".913" stop-color="#cfb200"/><stop offset=".928" stop-color="#c8b500"/><stop offset=".943" stop-color="#c0b700"/><stop offset=".959" stop-color="#b6b900"/><stop offset=".974" stop-color="#aabc00"/><stop offset=".989" stop-color="#9dbe00"/><stop offset="1" stop-color="#96be00"/></linearGradient>
<linearGradient id="s309" gradientUnits="userSpaceOnUse" x1="454.4" x2="189" spreadMethod="reflect"><stop offset="0" stop-color="#fd9c00"/><stop offset=".167" stop-color="#fc9c00"/><stop offset=".299" stop-color="#fc9c00"/><stop offset=".412" stop-color="#fb9c00"/><stop offset=".514" stop-color="#fa9d00"/><stop offset=".601" stop-color="#f89f00"/><stop offset=".676" stop-color="#f6a100"/><stop offset=".732" stop-color="#f2a300"/><stop offset=".77" stop-color="#f0a500"/><stop offset=".797" stop-color="#eda600"/><stop offset=".819" stop-color="#eca800"/><stop offset=".838" stop-color="#e9a900"/><stop offset=".853" stop-color="#e7a900"/><stop offset=".868" stop-color="#e5aa00"/><stop offset=".883" stop-color="#e2ac00"/><stop offset=".898" stop-color="#dead00"/><stop offset=".913" stop-color="#d9af00"/><stop offset=".928" stop-color="#d2b200"/><stop offset=".943" stop-color="#c9b500"/><stop offset=".959" stop-color="#beb800"/><stop offset=".974" stop-color="#b2ba00"/><stop offset=".989" stop-color="#a5bd00"/><stop offset="1" stop-color="#9ebe00"/></linearGradient>
<linearGradient id="s310" gradientUnits="userSpaceOnUse" x1="454.4" x2="189" spreadMethod="reflect"><stop offset="0" stop-color="#ff9a00"/><stop offset=".167" stop-color="#ff9a00"/><stop offset=".299" stop-color="#fe9a00"/><stop offset=".412" stop-color="#fe9b00"/><stop offset=".514" stop-color="#fd9c00"/><stop offset=".601" stop-color="#fb9d00"/><stop offset=".676" stop-color="#f89f00"/><stop offset=".732" stop-color="#f5a100"/><stop offset=".77" stop-color="#f2a300"/><stop offset=".797" stop-color="#f0a400"/><stop offset=".819" stop-color="#efa500"/><stop offset=".838" stop-color="#eea600"/><stop offset=".853" stop-color="#eda700"/><stop offset=".868" stop-color="#eca700"/><stop offset=".883" stop-color="#eaa800"/><stop offset=".898" stop-color="#e7a900"/><stop offset=".913" stop-color="#e2ab00"/><stop offset=".928" stop-color="#dbae00"/><stop offset=".943" stop-color="#d3b100"/><stop offset=".959" stop-color="#c8b500"/><stop offset=".974" stop-color="#bbb800"/><stop offset=".989" stop-color="#aebb00"/><stop offset="1" stop-color="#a6bc00"/></linearGradient>
<linearGradient id="s311" gradientUnits="userSpaceOnUse" x1="454.4" x2="189" spreadMethod="reflect"><stop offset="0" stop-color="#ff9700"/><stop offset=".167" stop-color="#ff9700"/><stop offset=".299" stop-color="#ff9800"/><stop offset=".412" stop-color="#ff9800"/><stop offset=".514" stop-color="#ff9900"/><stop offset=".601" stop-color="#fe9b00"/><stop offset=".676" stop-color="#fb9d00"/><stop offset=".732" stop-color="#f89f00"/><stop offset=".77" stop-color="#f6a100"/><stop offset=".797" stop-color="#f4a200"/><stop offset=".819" stop-color="#f3a300"/><stop offset=".838" stop-color="#f2a300"/><stop offset=".853" stop-color="#f1a300"/><stop offset=".868" stop-color="#f1a400"/><stop offset=".883" stop-color="#f0a400"/><stop offset=".898" stop-color="#efa500"/><stop offset=".913" stop-color="#eda700"/><stop offset=".928" stop-color="#e7a900"/><stop offset=".943" stop-color="#dead00"/><stop offset=".959" stop-color="#d3b100"/><stop offset=".974" stop-color="#c6b600"/><stop offset=".989" stop-color="#b8b900"/><stop offset="1" stop-color="#b0ba00"/></linearGradient>
<linearGradient id="s312" gradientUnits="userSpaceOnUse" x1="454.4" x2="189" spreadMethod="reflect"><stop offset="0" stop-color="#ff9500"/><stop offset=".299" stop-color="#ff9500"/><stop offset=".412" stop-color="#ff9600"/><stop offset=".514" stop-color="#ff9700"/><stop offset=".601" stop-color="#ff9800"/><stop offset=".676" stop-color="#fe9a00"/><stop offset=".732" stop-color="#fb9c00"/><stop offset=".77" stop-color="#f99e00"/><stop offset=".797" stop-color="#f89f00"/><stop offset=".819" stop-color="#f7a000"/><stop offset=".838" stop-color="#f6a000"/><stop offset=".883" stop-color="#f6a000"/><stop offset=".898" stop-color="#f5a100"/><stop offset=".913" stop-color="#f3a200"/><stop offset=".928" stop-color="#f0a500"/><stop offset=".943" stop-color="#eba800"/><stop offset=".959" stop-color="#dfad00"/><stop offset=".974" stop-color="#d1b200"/><stop offset=".989" stop-color="#c2b700"/><stop offset="1" stop-color="#b9b900"/></linearGradient>
<linearGradient id="s313" gradientUnits="userSpaceOnUse" x1="454.4" x2="189" spreadMethod="reflect"><stop offset="0" stop-color="#ff9200"/><stop offset=".299" stop-color="#ff9200"/><stop offset=".412" stop-color="#ff9300"/><stop offset=".514" stop-color="#ff9400"/><stop offset=".601" stop-color="#ff9600"/><stop offset=".676" stop-color="#ff9800"/><stop offset=".732" stop-color="#ff9a00"/><stop offset=".77" stop-color="#fc9c00"/><stop offset=".797" stop-color="#fb9d00"/><stop offset=".853" stop-color="#fb9d00"/><stop offset=".868" stop-color="#fc9c00"/><stop offset=".883" stop-color="#fc9c00"/><stop offset=".898" stop-color="#fb9d00"/><stop offset=".913" stop-color="#f99e00"/><stop offset=".928" stop-color="#f6a000"/><stop offset=".943" stop-color="#f2a300"/><stop offset=".959" stop-color="#eba800"/><stop offset=".974" stop-color="#dcae00"/><stop offset=".989" stop-color="#ccb400"/><stop offset="1" stop-color="#c3b700"/></linearGradient>
<linearGradient id="s314" gradientUnits="userSpaceOnUse" x1="454.4" x2="189" spreadMethod="reflect"><stop offset="0" stop-color="#ff8f00"/><stop offset=".167" stop-color="#ff8f00"/><stop offset=".299" stop-color="#ff9000"/><stop offset=".412" stop-color="#ff9100"/><stop offset=".514" stop-color="#ff9200"/><stop offset=".601" stop-color="#ff9300"/><stop offset=".676" stop-color="#ff9500"/><stop offset=".732" stop-color="#ff9800"/><stop offset=".77" stop-color="#ff9a00"/><stop offset=".797" stop-color="#fe9a00"/><stop offset=".819" stop-color="#fe9a00"/><stop offset=".838" stop-color="#ff9a00"/><stop offset=".853" stop-color="#ff9900"/><stop offset=".868" stop-color="#ff9800"/><stop offset=".883" stop-color="#ff9700"/><stop offset=".898" stop-color="#ff9800"/><stop offset=".913" stop-color="#ff9900"/><stop offset=".928" stop-color="#fd9b00"/><stop offset=".943" stop-color="#f89f00"/><stop offset=".959" stop-color="#f1a400"/><stop offset=".974" stop-color="#e7aa00"/><stop offset=".989" stop-color="#d6b000"/><stop offset="1" stop-color="#ccb400"/></linearGradient>
<linearGradient id="s315" gradientUnits="userSpaceOnUse" x1="454.4" x2="189" spreadMethod="reflect"><stop offset="0" stop-color="#ff8c00"/><stop offset=".167" stop-color="#ff8d00"/><stop offset=".299" stop-color="#ff8e00"/><stop offset=".412" stop-color="#ff8e00"/><stop offset=".514" stop-color="#ff8f00"/><stop offset=".601" stop-color="#ff9100"/><stop offset=".676" stop-color="#ff9300"/><stop offset=".732" stop-color="#ff9600"/><stop offset=".77" stop-color="#ff9700"/><stop offset=".797" stop-color="#ff9800"/><stop offset=".819" stop-color="#ff9700"/><stop offset=".838" stop-color="#ff9600"/><stop offset=".853" stop-color="#ff9400"/><stop offset=".868" stop-color="#ff9300"/><stop offset=".883" stop-color="#ff9200"/><stop offset=".913" stop-color="#ff9200"/><stop offset=".928" stop-color="#ff9500"/><stop offset=".943" stop-color="#ff9a00"/><stop offset=".959" stop-color="#f7a000"/><stop offset=".974" stop-color="#eea600"/><stop offset=".989" stop-color="#dfac00"/><stop offset="1" stop-color="#d5b000"/></linearGradient>
<linearGradient id="s316" gradientUnits="userSpaceOnUse" x1="454.4" x2="189" spreadMethod="reflect"><stop offset="0" stop-color="#ff8a00"/><stop offset=".167" stop-color="#ff8a00"/><stop offset=".299" stop-color="#ff8b00"/><stop offset=".412" stop-color="#ff8c00"/><stop offset=".514" stop-color="#ff8e00"/><stop offset=".601" stop-color="#ff8f00"/><stop offset=".676" stop-color="#ff9100"/><stop offset=".732" stop-color="#ff9400"/><stop offset=".77" stop-color="#ff9500"/><stop offset=".797" stop-color="#ff9500"/><stop offset=".819" stop-color="#ff9400"/><stop offset=".838" stop-color="#ff9200"/><stop offset=".853" stop-color="#ff9000"/><stop offset=".868" stop-color="#ff8e00"/><stop offset=".883" stop-color="#ff8c00"/><stop offset=".898" stop-color="#ff8c00"/><stop offset=".913" stop-color="#ff8b00"/><stop offset=".928" stop-color="#ff8d00"/><stop offset=".943" stop-color="#ff9300"/><stop offset=".959" stop-color="#fd9b00"/><stop offset=".974" stop-color="#f3a300"/><stop offset=".989" stop-color="#e8a900"/><stop offset="1" stop-color="#ddad00"/></linearGradient>
<linearGradient id="s317" gradientUnits="userSpaceOnUse" x1="454.4" x2="189" spreadMethod="reflect"><stop offset="0" stop-color="#ff8700"/><stop offset=".167" stop-color="#ff8800"/><stop offset=".299" stop-color="#ff8900"/><stop offset=".412" stop-color="#ff8b00"/><stop offset=".514" stop-color="#ff8c00"/><stop offset=".601" stop-color="#ff8d00"/><stop offset=".676" stop-color="#ff8f00"/><stop offset=".732" stop-color="#ff9200"/><stop offset=".77" stop-color="#ff9300"/><stop offset=".797" stop-color="#ff9300"/><stop offset=".819" stop-color="#ff9100"/><stop offset=".838" stop-color="#ff8e00"/><stop offset=".853" stop-color="#ff8c00"/><stop offset=".868" stop-color="#ff8900"/><stop offset=".883" stop-color="#ff8700"/><stop offset=".898" stop-color="#ff8500"/><stop offset=".913" stop-color="#ff8400"/><stop offset=".928" stop-color="#ff8500"/><stop offset=".943" stop-color="#ff8d00"/><stop offset=".959" stop-color="#ff9700"/><stop offset=".974" stop-color="#f79f00"/><stop offset=".989" stop-color="#eda600"/><stop offset="1" stop-color="#e4aa00"/></linearGradient>
<linearGradient id="s318" gradientUnits="userSpaceOnUse" x1="454.4" x2="189" spreadMethod="reflect"><stop offset="0" stop-color="#ff8400"/><stop offset=".167" stop-color="#ff8600"/><stop offset=".299" stop-color="#ff8700"/><stop offset=".412" stop-color="#ff8900"/><stop offset=".514" stop-color="#ff8a00"/><stop offset=".601" stop-color="#ff8c00"/><stop offset=".676" stop-color="#ff8e00"/><stop offset=".732" stop-color="#ff9000"/><stop offset=".77" stop-color="#ff9100"/><stop offset=".797" stop-color="#ff9000"/><stop offset=".819" stop-color="#ff8d00"/><stop offset=".838" stop-color="#ff8a00"/><stop offset=".853" stop-color="#ff8600"/><stop offset=".868" stop-color="#ff8300"/><stop offset=".883" stop-color="#ff8000"/><stop offset=".898" stop-color="#ff7c00"/><stop offset=".913" stop-color="#ff7900"/><stop offset=".928" stop-color="#ff7b00"/><stop offset=".943" stop-color="#ff8400"/><stop offset=".959" stop-color="#ff9100"/><stop offset=".974" stop-color="#fe9b00"/><stop offset=".989" stop-color="#f3a200"/><stop offset="1" stop-color="#eea600"/></linearGradient>
<linearGradient id="s319" gradientUnits="userSpaceOnUse" x1="454.4" x2="189" spreadMethod="reflect"><stop offset="0" stop-color="#ff8200"/><stop offset=".167" stop-color="#ff8300"/><stop offset=".299" stop-color="#ff8600"/><stop offset=".412" stop-color="#ff8800"/><stop offset=".514" stop-color="#ff8900"/><stop offset=".601" stop-color="#ff8a00"/><stop offset=".676" stop-color="#ff8c00"/><stop offset=".732" stop-color="#ff8e00"/><stop offset=".77" stop-color="#ff8e00"/><stop offset=".797" stop-color="#ff8d00"/><stop offset=".819" stop-color="#ff8a00"/><stop offset=".838" stop-color="#ff8500"/><stop offset=".853" stop-color="#ff8100"/><stop offset=".868" stop-color="#ff7d00"/><stop offset=".883" stop-color="#ff7900"/><stop offset=".898" stop-color="#ff7100"/><stop offset=".913" stop-color="#ff6b00"/><stop offset=".928" stop-color="#ff6e00"/><stop offset=".943" stop-color="#ff7c00"/><stop offset=".959" stop-color="#ff8b00"/><stop offset=".974" stop-color="#ff9600"/><stop offset=".989" stop-color="#f99e00"/><stop offset="1" stop-color="#f3a200"/></linearGradient>
<linearGradient id="s320" gradientUnits="userSpaceOnUse" x1="454.4" x2="189" spreadMethod="reflect"><stop offset="0" stop-color="#ff7f00"/><stop offset=".167" stop-color="#ff8100"/><stop offset=".299" stop-color="#ff8400"/><stop offset=".412" stop-color="#ff8600"/><stop offset=".514" stop-color="#ff8700"/><stop offset=".601" stop-color="#ff8900"/><stop offset=".676" stop-color="#ff8a00"/><stop offset=".732" stop-color="#ff8c00"/><stop offset=".77" stop-color="#ff8c00"/><stop offset=".797" stop-color="#ff8a00"/><stop offset=".819" stop-color="#ff8600"/><stop offset=".838" stop-color="#ff8100"/><stop offset=".853" stop-color="#ff7c00"/><stop offset=".868" stop-color="#ff7700"/><stop offset=".883" stop-color="#ff6f00"/><stop offset=".898" stop-color="#ff6400"/><stop offset=".913" stop-color="#ff5b00"/><stop offset=".928" stop-color="#ff6100"/><stop offset=".943" stop-color="#ff7500"/><stop offset=".959" stop-color="#ff8600"/><stop offset=".974" stop-color="#ff9100"/><stop offset=".989" stop-color="#fe9a00"/><stop offset="1" stop-color="#f89f00"/></linearGradient>
<linearGradient id="s321" gradientUnits="userSpaceOnUse" x1="454.4" x2="189" spreadMethod="reflect"><stop offset="0" stop-color="#ff7c00"/><stop offset=".167" stop-color="#ff7e00"/><stop offset=".299" stop-color="#ff8200"/><stop offset=".412" stop-color="#ff8500"/><stop offset=".514" stop-color="#ff8600"/><stop offset=".601" stop-color="#ff8700"/><stop offset=".676" stop-color="#ff8900"/><stop offset=".732" stop-color="#ff8a00"/><stop offset=".77" stop-color="#ff8a00"/><stop offset=".797" stop-color="#ff8800"/><stop offset=".819" stop-color="#ff8300"/><stop offset=".838" stop-color="#ff7d00"/><stop offset=".853" stop-color="#ff7700"/><stop offset=".868" stop-color="#ff7000"/><stop offset=".883" stop-color="#ff6400"/><stop offset=".898" stop-color="#ff5300"/><stop offset=".913" stop-color="#f64900"/><stop offset=".928" stop-color="#ff5500"/><stop offset=".943" stop-color="#ff6e00"/><stop offset=".959" stop-color="#ff8100"/><stop offset=".974" stop-color="#ff8d00"/><stop offset=".989" stop-color="#ff9600"/><stop offset="1" stop-color="#fd9b00"/></linearGradient>
<linearGradient id="s322" gradientUnits="userSpaceOnUse" x1="454.4" x2="189" spreadMethod="reflect"><stop offset="0" stop-color="#ff7900"/><stop offset=".167" stop-color="#ff7c00"/><stop offset=".299" stop-color="#ff8000"/><stop offset=".412" stop-color="#ff8400"/><stop offset=".514" stop-color="#ff8500"/><stop offset=".601" stop-color="#ff8600"/><stop offset=".676" stop-color="#ff8700"/><stop offset=".732" stop-color="#ff8900"/><stop offset=".77" stop-color="#ff8800"/><stop offset=".797" stop-color="#ff8500"/><stop offset=".819" stop-color="#ff7f00"/><stop offset=".838" stop-color="#ff7900"/><stop offset=".853" stop-color="#ff7200"/><stop offset=".868" stop-color="#ff6800"/><stop offset=".883" stop-color="#ff5800"/><stop offset=".898" stop-color="#ed4100"/><stop offset=".913" stop-color="#e13800"/><stop offset=".928" stop-color="#f94b00"/><stop offset=".943" stop-color="#ff6800"/><stop offset=".959" stop-color="#ff7d00"/><stop offset=".974" stop-color="#ff8900"/><stop offset=".989" stop-color="#ff9200"/><stop offset="1" stop-color="#ff9700"/></linearGradient>
<linearGradient id="s323" gradientUnits="userSpaceOnUse" x1="454.4" x2="189" spreadMethod="reflect"><stop offset="0" stop-color="#ff7600"/><stop offset=".167" stop-color="#ff7a00"/><stop offset=".299" stop-color="#ff7f00"/><stop offset=".412" stop-color="#ff8200"/><stop offset=".514" stop-color="#ff8400"/><stop offset=".601" stop-color="#ff8500"/><stop offset=".676" stop-color="#ff8600"/><stop offset=".732" stop-color="#ff8700"/><stop offset=".77" stop-color="#ff8600"/><stop offset=".797" stop-color="#ff8200"/><stop offset=".819" stop-color="#ff7c00"/><stop offset=".838" stop-color="#ff7400"/><stop offset=".853" stop-color="#ff6c00"/><stop offset=".868" stop-color="#ff6000"/><stop offset=".883" stop-color="#f74a00"/><stop offset=".898" stop-color="#d52e00"/><stop offset=".913" stop-color="#cf2900"/><stop offset=".928" stop-color="#f04400"/><stop offset=".943" stop-color="#ff6500"/><stop offset=".959" stop-color="#ff7900"/><stop offset=".974" stop-color="#ff8500"/><stop offset=".989" stop-color="#ff8e00"/><stop offset="1" stop-color="#ff9300"/></linearGradient>
<linearGradient id="s324" gradientUnits="userSpaceOnUse" x1="454.4" x2="189" spreadMethod="reflect"><stop offset="0" stop-color="#ff7300"/><stop offset=".167" stop-color="#ff7700"/><stop offset=".299" stop-color="#ff7d00"/><stop offset=".412" stop-color="#ff8100"/><stop offset=".514" stop-color="#ff8300"/><stop offset=".601" stop-color="#ff8400"/><stop offset=".676" stop-color="#ff8500"/><stop offset=".732" stop-color="#ff8600"/><stop offset=".77" stop-color="#ff8400"/><stop offset=".797" stop-color="#ff8000"/><stop offset=".819" stop-color="#ff7900"/><stop offset=".838" stop-color="#ff7000"/><stop offset=".853" stop-color="#ff6600"/><stop offset=".868" stop-color="#ff5700"/><stop offset=".883" stop-color="#e43a00"/><stop offset=".898" stop-color="#b71d00"/><stop offset=".913" stop-color="#bb1f00"/><stop offset=".928" stop-color="#ec4100"/><stop offset=".943" stop-color="#ff6300"/><stop offset=".959" stop-color="#ff7600"/><stop offset=".974" stop-color="#ff8100"/><stop offset=".989" stop-color="#ff8a00"/><stop offset="1" stop-color="#ff8f00"/></linearGradient>
<linearGradient id="s325" gradientUnits="userSpaceOnUse" x1="454.4" x2="189" spreadMethod="reflect"><stop offset="0" stop-color="#ff7000"/><stop offset=".167" stop-color="#ff7500"/><stop offset=".299" stop-color="#ff7b00"/><stop offset=".412" stop-color="#ff8000"/><stop offset=".514" stop-color="#ff8200"/><stop offset=".601" stop-color="#ff8300"/><stop offset=".676" stop-color="#ff8400"/><stop offset=".732" stop-color="#ff8400"/><stop offset=".77" stop-color="#ff8200"/><stop offset=".797" stop-color="#ff7e00"/><stop offset=".819" stop-color="#ff7600"/><stop offset=".838" stop-color="#ff6c00"/><stop offset=".853" stop-color="#ff6100"/><stop offset=".868" stop-color="#fb4d00"/><stop offset=".883" stop-color="#d02b00"/><stop offset=".898" stop-color="#9c0f00"/><stop offset=".913" stop-color="#b21a00"/><stop offset=".928" stop-color="#ed4100"/><stop offset=".943" stop-color="#ff6100"/><stop offset=".959" stop-color="#ff7300"/><stop offset=".974" stop-color="#ff7e00"/><stop offset=".989" stop-color="#ff8700"/><stop offset="1" stop-color="#ff8c00"/></linearGradient>
<linearGradient id="s326" gradientUnits="userSpaceOnUse" x1="454.4" x2="189" spreadMethod="reflect"><stop offset="0" stop-color="#ff6d00"/><stop offset=".167" stop-color="#ff7300"/><stop offset=".299" stop-color="#ff7a00"/><stop offset=".412" stop-color="#ff7f00"/><stop offset=".514" stop-color="#ff8100"/><stop offset=".601" stop-color="#ff8200"/><stop offset=".676" stop-color="#ff8300"/><stop offset=".732" stop-color="#ff8300"/><stop offset=".77" stop-color="#ff8100"/><stop offset=".797" stop-color="#ff7c00"/><stop offset=".819" stop-color="#ff7300"/><stop offset=".838" stop-color="#ff6900"/><stop offset=".853" stop-color="#ff5c00"/><stop offset=".868" stop-color="#ef4400"/><stop offset=".883" stop-color="#b91e00"/><stop offset=".898" stop-color="#8d0700"/><stop offset=".913" stop-color="#b51c00"/><stop offset=".928" stop-color="#f14400"/><stop offset=".943" stop-color="#ff6100"/><stop offset=".959" stop-color="#ff7100"/><stop offset=".974" stop-color="#ff7c00"/><stop offset=".989" stop-color="#ff8400"/><stop offset="1" stop-color="#ff8900"/></linearGradient>
<linearGradient id="s327" gradientUnits="userSpaceOnUse" x1="454.4" x2="189" spreadMethod="reflect"><stop offset="0" stop-color="#ff6b00"/><stop offset=".167" stop-color="#ff7100"/><stop offset=".299" stop-color="#ff7900"/><stop offset=".412" stop-color="#ff7f00"/><stop offset=".514" stop-color="#ff8100"/><stop offset=".601" stop-color="#ff8100"/><stop offset=".676" stop-color="#ff8200"/><stop offset=".732" stop-color="#ff8200"/><stop offset=".77" stop-color="#ff8000"/><stop offset=".797" stop-color="#ff7a00"/><stop offset=".819" stop-color="#ff7100"/><stop offset=".838" stop-color="#ff6600"/><stop offset=".853" stop-color="#ff5700"/><stop offset=".868" stop-color="#e43b00"/><stop offset=".883" stop-color="#a81500"/><stop offset=".898" stop-color="#8c0600"/><stop offset=".913" stop-color="#c22200"/><stop offset=".928" stop-color="#f64900"/><stop offset=".943" stop-color="#ff6100"/><stop offset=".959" stop-color="#ff6f00"/><stop offset=".974" stop-color="#ff7a00"/><stop offset=".989" stop-color="#ff8100"/><stop offset="1" stop-color="#ff8600"/></linearGradient>
<linearGradient id="s328" gradientUnits="userSpaceOnUse" x1="454.4" x2="189" spreadMethod="reflect"><stop offset="0" stop-color="#ff6800"/><stop offset=".167" stop-color="#ff6f00"/><stop offset=".299" stop-color="#ff7800"/><stop offset=".412" stop-color="#ff7e00"/><stop offset=".514" stop-color="#ff8000"/><stop offset=".601" stop-color="#ff8000"/><stop offset=".676" stop-color="#ff8100"/><stop offset=".732" stop-color="#ff8100"/><stop offset=".77" stop-color="#ff7e00"/><stop offset=".797" stop-color="#ff7800"/><stop offset=".819" stop-color="#ff6f00"/><stop offset=".838" stop-color="#ff6300"/><stop offset=".853" stop-color="#ff5200"/><stop offset=".868" stop-color="#dc3400"/><stop offset=".883" stop-color="#a11100"/><stop offset=".898" stop-color="#980c00"/><stop offset=".913" stop-color="#d22c00"/><stop offset=".928" stop-color="#fc4d00"/><stop offset=".943" stop-color="#ff6100"/><stop offset=".959" stop-color="#ff6d00"/><stop offset=".974" stop-color="#ff7700"/><stop offset=".989" stop-color="#ff7f00"/><stop offset="1" stop-color="#ff8300"/></linearGradient>
<linearGradient id="s329" gradientUnits="userSpaceOnUse" x1="454.4" x2="189" spreadMethod="reflect"><stop offset="0" stop-color="#ff6600"/><stop offset=".167" stop-color="#ff6c00"/><stop offset=".299" stop-color="#ff7700"/><stop offset=".412" stop-color="#ff7d00"/><stop offset=".514" stop-color="#ff7f00"/><stop offset=".601" stop-color="#ff8000"/><stop offset=".732" stop-color="#ff8000"/><stop offset=".77" stop-color="#ff7d00"/><stop offset=".797" stop-color="#ff7700"/><stop offset=".819" stop-color="#ff6d00"/><stop offset=".838" stop-color="#ff6000"/><stop offset=".853" stop-color="#fd4e00"/><stop offset=".868" stop-color="#d73000"/><stop offset=".883" stop-color="#a51300"/><stop offset=".898" stop-color="#ac1700"/><stop offset=".913" stop-color="#de3600"/><stop offset=".928" stop-color="#ff5100"/><stop offset=".943" stop-color="#ff6100"/><stop offset=".959" stop-color="#ff6c00"/><stop offset=".974" stop-color="#ff7500"/><stop offset=".989" stop-color="#ff7c00"/><stop offset="1" stop-color="#ff8000"/></linearGradient>
<linearGradient id="s330" gradientUnits="userSpaceOnUse" x1="454.4" x2="189" spreadMethod="reflect"><stop offset="0" stop-color="#ff6300"/><stop offset=".167" stop-color="#ff6a00"/><stop offset=".299" stop-color="#ff7500"/><stop offset=".412" stop-color="#ff7c00"/><stop offset=".514" stop-color="#ff7f00"/><stop offset=".732" stop-color="#ff7f00"/><stop offset=".77" stop-color="#ff7b00"/><stop offset=".797" stop-color="#ff7500"/><stop offset=".819" stop-color="#ff6b00"/><stop offset=".838" stop-color="#ff5e00"/><stop offset=".853" stop-color="#fa4c00"/><stop offset=".868" stop-color="#d62f00"/><stop offset=".883" stop-color="#b31a00"/><stop offset=".898" stop-color="#c52400"/><stop offset=".913" stop-color="#ea3f00"/><stop offset=".928" stop-color="#ff5400"/><stop offset=".943" stop-color="#ff6100"/><stop offset=".959" stop-color="#ff6a00"/><stop offset=".974" stop-color="#ff7300"/><stop offset=".989" stop-color="#ff7a00"/><stop offset="1" stop-color="#ff7d00"/></linearGradient>
<linearGradient id="s331" gradientUnits="userSpaceOnUse" x1="454.4" x2="189" spreadMethod="reflect"><stop offset="0" stop-color="#ff6000"/><stop offset=".167" stop-color="#ff6800"/><stop offset=".299" stop-color="#ff7300"/><stop offset=".412" stop-color="#ff7b00"/><stop offset=".514" stop-color="#ff7e00"/><stop offset=".676" stop-color="#ff7e00"/><stop offset=".732" stop-color="#ff7d00"/><stop offset=".77" stop-color="#ff7a00"/><stop offset=".797" stop-color="#ff7300"/><stop offset=".819" stop-color="#ff6900"/><stop offset=".838" stop-color="#ff5c00"/><stop offset=".853" stop-color="#f84a00"/><stop offset=".868" stop-color="#d93100"/><stop offset=".883" stop-color="#c72500"/><stop offset=".898" stop-color="#d83100"/><stop offset=".913" stop-color="#f44700"/><stop offset=".928" stop-color="#ff5600"/><stop offset=".943" stop-color="#ff6100"/><stop offset=".959" stop-color="#ff6900"/><stop offset=".974" stop-color="#ff7100"/><stop offset=".989" stop-color="#ff7700"/><stop offset="1" stop-color="#ff7a00"/></linearGradient>
<linearGradient id="s332" gradientUnits="userSpaceOnUse" x1="454.4" x2="189" spreadMethod="reflect"><stop offset="0" stop-color="#ff5e00"/><stop offset=".167" stop-color="#ff6600"/><stop offset=".299" stop-color="#ff7200"/><stop offset=".412" stop-color="#ff7a00"/><stop offset=".514" stop-color="#ff7c00"/><stop offset=".732" stop-color="#ff7c00"/><stop offset=".77" stop-color="#ff7800"/><stop offset=".797" stop-color="#ff7100"/><stop offset=".819" stop-color="#ff6800"/><stop offset=".838" stop-color="#ff5b00"/><stop offset=".853" stop-color="#f84a00"/><stop offset=".868" stop-color="#df3600"/><stop offset=".883" stop-color="#d73000"/><stop offset=".898" stop-color="#e63c00"/><stop offset=".913" stop-color="#fa4c00"/><stop offset=".928" stop-color="#ff5800"/><stop offset=".943" stop-color="#ff6000"/><stop offset=".959" stop-color="#ff6700"/><stop offset=".974" stop-color="#ff6e00"/><stop offset=".989" stop-color="#ff7300"/><stop offset="1" stop-color="#ff7700"/></linearGradient>
<linearGradient id="s333" gradientUnits="userSpaceOnUse" x1="454.4" x2="189" spreadMethod="reflect"><stop offset="0" stop-color="#ff5b00"/><stop offset=".167" stop-color="#ff6300"/><stop offset=".299" stop-color="#ff7000"/><stop offset=".412" stop-color="#ff7900"/><stop offset=".514" stop-color="#ff7b00"/><stop offset=".732" stop-color="#ff7b00"/><stop offset=".77" stop-color="#ff7700"/><stop offset=".797" stop-color="#ff7000"/><stop offset=".819" stop-color="#ff6700"/><stop offset=".838" stop-color="#ff5b00"/><stop offset=".853" stop-color="#fb4d00"/><stop offset=".868" stop-color="#e93e00"/><stop offset=".883" stop-color="#e63c00"/><stop offset=".898" stop-color="#f34700"/><stop offset=".913" stop-color="#ff5200"/><stop offset=".928" stop-color="#ff5b00"/><stop offset=".943" stop-color="#ff6200"/><stop offset=".959" stop-color="#ff6900"/><stop offset=".974" stop-color="#ff6f00"/><stop offset=".989" stop-color="#ff7300"/><stop offset="1" stop-color="#ff7600"/></linearGradient>
<linearGradient id="s334" gradientUnits="userSpaceOnUse" x1="454.4" x2="189" spreadMethod="reflect"><stop offset="0" stop-color="#ff5900"/><stop offset=".167" stop-color="#ff6100"/><stop offset=".299" stop-color="#ff6e00"/><stop offset=".412" stop-color="#ff7700"/><stop offset=".514" stop-color="#ff7a00"/><stop offset=".676" stop-color="#ff7a00"/><stop offset=".732" stop-color="#ff7900"/><stop offset=".77" stop-color="#ff7600"/><stop offset=".797" stop-color="#ff6f00"/><stop offset=".819" stop-color="#ff6700"/><stop offset=".838" stop-color="#ff5c00"/><stop offset=".853" stop-color="#ff5000"/><stop offset=".868" stop-color="#f34600"/><stop offset=".883" stop-color="#f34600"/><stop offset=".898" stop-color="#fd4e00"/><stop offset=".913" stop-color="#ff5600"/><stop offset=".928" stop-color="#ff5d00"/><stop offset=".943" stop-color="#ff6300"/><stop offset=".959" stop-color="#ff6900"/><stop offset=".974" stop-color="#ff6f00"/><stop offset=".989" stop-color="#ff7300"/><stop offset="1" stop-color="#ff7500"/></linearGradient>
<linearGradient id="s335" gradientUnits="userSpaceOnUse" x1="454.4" x2="189" spreadMethod="reflect"><stop offset="0" stop-color="#ff5600"/><stop offset=".167" stop-color="#ff5f00"/><stop offset=".299" stop-color="#ff6c00"/><stop offset=".412" stop-color="#ff7500"/><stop offset=".514" stop-color="#ff7800"/><stop offset=".732" stop-color="#ff7800"/><stop offset=".77" stop-color="#ff7400"/><stop offset=".797" stop-color="#ff6e00"/><stop offset=".819" stop-color="#ff6600"/><stop offset=".838" stop-color="#ff5d00"/><stop offset=".853" stop-color="#ff5300"/><stop offset=".868" stop-color="#fb4d00"/><stop offset=".883" stop-color="#fd4e00"/><stop offset=".898" stop-color="#ff5400"/><stop offset=".913" stop-color="#ff5900"/><stop offset=".928" stop-color="#ff5f00"/><stop offset=".943" stop-color="#ff6400"/><stop offset=".959" stop-color="#ff6a00"/><stop offset=".974" stop-color="#ff6f00"/><stop offset=".989" stop-color="#ff7200"/><stop offset="1" stop-color="#ff7400"/></linearGradient>
<linearGradient id="s336" gradientUnits="userSpaceOnUse" x1="454.4" x2="189" spreadMethod="reflect"><stop offset="0" stop-color="#ff5300"/><stop offset=".167" stop-color="#ff5c00"/><stop offset=".299" stop-color="#ff6900"/><stop offset=".412" stop-color="#ff7300"/><stop offset=".514" stop-color="#ff7600"/><stop offset=".676" stop-color="#ff7600"/><stop offset=".732" stop-color="#ff7500"/><stop offset=".77" stop-color="#ff7200"/><stop offset=".797" stop-color="#ff6d00"/><stop offset=".819" stop-color="#ff6600"/><stop offset=".838" stop-color="#ff5e00"/><stop offset=".853" stop-color="#ff5700"/><stop offset=".868" stop-color="#ff5300"/><stop offset=".883" stop-color="#ff5400"/><stop offset=".898" stop-color="#ff5700"/><stop offset=".913" stop-color="#ff5c00"/><stop offset=".928" stop-color="#ff6000"/><stop offset=".943" stop-color="#ff6500"/><stop offset=".959" stop-color="#ff6a00"/><stop offset=".974" stop-color="#ff6e00"/><stop offset=".989" stop-color="#ff7100"/><stop offset="1" stop-color="#ff7300"/></linearGradient>
<linearGradient id="s337" gradientUnits="userSpaceOnUse" x1="454.4" x2="189" spreadMethod="reflect"><stop offset="0" stop-color="#ff5100"/><stop offset=".167" stop-color="#ff5a00"/><stop offset=".299" stop-color="#ff6700"/><stop offset=".412" stop-color="#ff7100"/><stop offset=".514" stop-color="#ff7400"/><stop offset=".676" stop-color="#ff7400"/><stop offset=".732" stop-color="#ff7300"/><stop offset=".77" stop-color="#ff7000"/><stop offset=".797" stop-color="#ff6b00"/><stop offset=".819" stop-color="#ff6500"/><stop offset=".838" stop-color="#ff5e00"/><stop offset=".853" stop-color="#ff5900"/><stop offset=".868" stop-color="#ff5700"/><stop offset=".883" stop-color="#ff5700"/><stop offset=".898" stop-color="#ff5a00"/><stop offset=".913" stop-color="#ff5d00"/><stop offset=".928" stop-color="#ff6100"/><stop offset=".943" stop-color="#ff6500"/><stop offset=".959" stop-color="#ff6900"/><stop offset=".974" stop-color="#ff6d00"/><stop offset=".989" stop-color="#ff7000"/><stop offset="1" stop-color="#ff7100"/></linearGradient>
<linearGradient id="s338" gradientUnits="userSpaceOnUse" x1="454.4" x2="189" spreadMethod="reflect"><stop offset="0" stop-color="#fd4e00"/><stop offset=".167" stop-color="#ff5700"/><stop offset=".299" stop-color="#ff6400"/><stop offset=".412" stop-color="#ff6e00"/><stop offset=".514" stop-color="#ff7100"/><stop offset=".732" stop-color="#ff7100"/><stop offset=".77" stop-color="#ff6e00"/><stop offset=".797" stop-color="#ff6a00"/><stop offset=".819" stop-color="#ff6400"/><stop offset=".838" stop-color="#ff5f00"/><stop offset=".853" stop-color="#ff5b00"/><stop offset=".868" stop-color="#ff5900"/><stop offset=".883" stop-color="#ff5a00"/><stop offset=".898" stop-color="#ff5b00"/><stop offset=".913" stop-color="#ff5e00"/><stop offset=".928" stop-color="#ff6100"/><stop offset=".943" stop-color="#ff6500"/><stop offset=".959" stop-color="#ff6900"/><stop offset=".974" stop-color="#ff6c00"/><stop offset=".989" stop-color="#ff6e00"/><stop offset="1" stop-color="#ff6f00"/></linearGradient>
<linearGradient id="s339" gradientUnits="userSpaceOnUse" x1="454.4" x2="189" spreadMethod="reflect"><stop offset="0" stop-color="#f84a00"/><stop offset=".167" stop-color="#ff5300"/><stop offset=".299" stop-color="#ff6100"/><stop offset=".412" stop-color="#ff6a00"/><stop offset=".514" stop-color="#ff6e00"/><stop offset=".676" stop-color="#ff6e00"/><stop offset=".732" stop-color="#ff6d00"/><stop offset=".77" stop-color="#ff6b00"/><stop offset=".797" stop-color="#ff6700"/><stop offset=".819" stop-color="#ff6200"/><stop offset=".838" stop-color="#ff5e00"/><stop offset=".853" stop-color="#ff5b00"/><stop offset=".868" stop-color="#ff5a00"/><stop offset=".883" stop-color="#ff5a00"/><stop offset=".898" stop-color="#ff5b00"/><stop offset=".913" stop-color="#ff5e00"/><stop offset=".928" stop-color="#ff6100"/><stop offset=".943" stop-color="#ff6400"/><stop offset=".959" stop-color="#ff6700"/><stop offset=".974" stop-color="#ff6900"/><stop offset=".989" stop-color="#ff6b00"/><stop offset="1" stop-color="#ff6c00"/></linearGradient>
<linearGradient id="s340" gradientUnits="userSpaceOnUse" x1="454.4" x2="189" spreadMethod="reflect"><stop offset="0" stop-color="#f24600"/><stop offset=".167" stop-color="#fd4f00"/><stop offset=".299" stop-color="#ff5c00"/><stop offset=".412" stop-color="#ff6600"/><stop offset=".514" stop-color="#ff6900"/><stop offset=".676" stop-color="#ff6900"/><stop offset=".732" stop-color="#ff6800"/><stop offset=".77" stop-color="#ff6600"/><stop offset=".797" stop-color="#ff6300"/><stop offset=".819" stop-color="#ff5f00"/><stop offset=".838" stop-color="#ff5c00"/><stop offset=".853" stop-color="#ff5a00"/><stop offset=".868" stop-color="#ff5900"/><stop offset=".883" stop-color="#ff5900"/><stop offset=".898" stop-color="#ff5a00"/><stop offset=".913" stop-color="#ff5c00"/><stop offset=".928" stop-color="#ff5e00"/><stop offset=".943" stop-color="#ff6100"/><stop offset=".959" stop-color="#ff6300"/><stop offset=".974" stop-color="#ff6500"/><stop offset=".989" stop-color="#ff6700"/><stop offset="1" stop-color="#ff6700"/></linearGradient>
<linearGradient id="s341" gradientUnits="userSpaceOnUse" x1="454.4" x2="189" spreadMethod="reflect"><stop offset="0" stop-color="#ec4100"/><stop offset=".167" stop-color="#f74a00"/><stop offset=".299" stop-color="#ff5700"/><stop offset=".412" stop-color="#ff6100"/><stop offset=".514" stop-color="#ff6400"/><stop offset=".732" stop-color="#ff6400"/><stop offset=".77" stop-color="#ff6200"/><stop offset=".797" stop-color="#ff5f00"/><stop offset=".819" stop-color="#ff5c00"/><stop offset=".838" stop-color="#ff5900"/><stop offset=".853" stop-color="#ff5800"/><stop offset=".868" stop-color="#ff5700"/><stop offset=".883" stop-color="#ff5700"/><stop offset=".898" stop-color="#ff5800"/><stop offset=".913" stop-color="#ff5a00"/><stop offset=".928" stop-color="#ff5c00"/><stop offset=".943" stop-color="#ff5e00"/><stop offset=".959" stop-color="#ff6000"/><stop offset=".974" stop-color="#ff6100"/><stop offset=".989" stop-color="#ff6200"/><stop offset="1" stop-color="#ff6300"/></linearGradient>
<linearGradient id="s342" gradientUnits="userSpaceOnUse" x1="454.4" x2="189" spreadMethod="reflect"><stop offset="0" stop-color="#e63c00"/><stop offset=".167" stop-color="#f24500"/><stop offset=".299" stop-color="#ff5300"/><stop offset=".412" stop-color="#ff5c00"/><stop offset=".514" stop-color="#ff6000"/><stop offset=".676" stop-color="#ff6000"/><stop offset=".732" stop-color="#ff5f00"/><stop offset=".77" stop-color="#ff5e00"/><stop offset=".797" stop-color="#ff5b00"/><stop offset=".819" stop-color="#ff5900"/><stop offset=".838" stop-color="#ff5700"/><stop offset=".853" stop-color="#ff5500"/><stop offset=".883" stop-color="#ff5500"/><stop offset=".898" stop-color="#ff5600"/><stop offset=".913" stop-color="#ff5700"/><stop offset=".928" stop-color="#ff5900"/><stop offset=".943" stop-color="#ff5a00"/><stop offset=".959" stop-color="#ff5c00"/><stop offset=".974" stop-color="#ff5d00"/><stop offset=".989" stop-color="#ff5e00"/><stop offset="1" stop-color="#ff5f00"/></linearGradient>
<linearGradient id="s343" gradientUnits="userSpaceOnUse" x1="454.4" x2="189" spreadMethod="reflect"><stop offset="0" stop-color="#e13800"/><stop offset=".167" stop-color="#ec4100"/><stop offset=".299" stop-color="#fc4e00"/><stop offset=".412" stop-color="#ff5800"/><stop offset=".514" stop-color="#ff5b00"/><stop offset=".676" stop-color="#ff5b00"/><stop offset=".732" stop-color="#ff5a00"/><stop offset=".77" stop-color="#ff5900"/><stop offset=".797" stop-color="#ff5700"/><stop offset=".819" stop-color="#ff5500"/><stop offset=".838" stop-color="#ff5400"/><stop offset=".853" stop-color="#ff5300"/><stop offset=".868" stop-color="#ff5200"/><stop offset=".883" stop-color="#ff5200"/><stop offset=".898" stop-color="#ff5300"/><stop offset=".913" stop-color="#ff5400"/><stop offset=".928" stop-color="#ff5600"/><stop offset=".943" stop-color="#ff5700"/><stop offset=".959" stop-color="#ff5800"/><stop offset=".974" stop-color="#ff5900"/><stop offset=".989" stop-color="#ff5a00"/><stop offset="1" stop-color="#ff5a00"/></linearGradient>
<linearGradient id="s344" gradientUnits="userSpaceOnUse" x1="454.4" x2="189" spreadMethod="reflect"><stop offset="0" stop-color="#db3300"/><stop offset=".167" stop-color="#e63c00"/><stop offset=".299" stop-color="#f74900"/><stop offset=".412" stop-color="#ff5300"/><stop offset=".514" stop-color="#ff5600"/><stop offset=".732" stop-color="#ff5600"/><stop offset=".77" stop-color="#ff5500"/><stop offset=".797" stop-color="#ff5300"/><stop offset=".819" stop-color="#ff5200"/><stop offset=".838" stop-color="#ff5000"/><stop offset=".853" stop-color="#fe5000"/><stop offset=".868" stop-color="#fe4f00"/><stop offset=".883" stop-color="#fe4f00"/><stop offset=".898" stop-color="#ff5000"/><stop offset=".913" stop-color="#ff5100"/><stop offset=".928" stop-color="#ff5200"/><stop offset=".943" stop-color="#ff5300"/><stop offset=".959" stop-color="#ff5400"/><stop offset=".974" stop-color="#ff5500"/><stop offset=".989" stop-color="#ff5500"/><stop offset="1" stop-color="#ff5600"/></linearGradient>
<linearGradient id="s345" gradientUnits="userSpaceOnUse" x1="454.4" x2="189" spreadMethod="reflect"><stop offset="0" stop-color="#d52e00"/><stop offset=".167" stop-color="#e03700"/><stop offset=".299" stop-color="#f14500"/><stop offset=".412" stop-color="#fd4e00"/><stop offset=".514" stop-color="#ff5100"/><stop offset=".732" stop-color="#ff5100"/><stop offset=".77" stop-color="#ff5000"/><stop offset=".797" stop-color="#fe4f00"/><stop offset=".819" stop-color="#fc4e00"/><stop offset=".838" stop-color="#fb4d00"/><stop offset=".853" stop-color="#fa4c00"/><stop offset=".883" stop-color="#fa4c00"/><stop offset=".898" stop-color="#fb4d00"/><stop offset=".913" stop-color="#fc4d00"/><stop offset=".928" stop-color="#fd4e00"/><stop offset=".943" stop-color="#fe4f00"/><stop offset=".959" stop-color="#ff5000"/><stop offset=".974" stop-color="#ff5100"/><stop offset="1" stop-color="#ff5100"/></linearGradient>
<linearGradient id="s346" gradientUnits="userSpaceOnUse" x1="454.4" x2="189" spreadMethod="reflect"><stop offset="0" stop-color="#cf2a00"/><stop offset=".167" stop-color="#da3200"/><stop offset=".299" stop-color="#eb4000"/><stop offset=".412" stop-color="#f74a00"/><stop offset=".514" stop-color="#fb4d00"/><stop offset=".732" stop-color="#fb4d00"/><stop offset=".77" stop-color="#fa4c00"/><stop offset=".797" stop-color="#f94b00"/><stop offset=".819" stop-color="#f74a00"/><stop offset=".838" stop-color="#f64900"/><stop offset=".898" stop-color="#f64900"/><stop offset=".913" stop-color="#f74a00"/><stop offset=".928" stop-color="#f84a00"/><stop offset=".943" stop-color="#f94b00"/><stop offset=".959" stop-color="#fa4c00"/><stop offset=".989" stop-color="#fa4c00"/><stop offset="1" stop-color="#fb4d00"/></linearGradient>
<linearGradient id="s347" gradientUnits="userSpaceOnUse" x1="454.4" x2="189" spreadMethod="reflect"><stop offset="0" stop-color="#ca2600"/><stop offset=".167" stop-color="#d62f00"/><stop offset=".299" stop-color="#e73d00"/><stop offset=".412" stop-color="#f34600"/><stop offset=".514" stop-color="#f74a00"/><stop offset=".676" stop-color="#f74a00"/><stop offset=".732" stop-color="#f74900"/><stop offset=".77" stop-color="#f64900"/><stop offset=".797" stop-color="#f54800"/><stop offset=".819" stop-color="#f44700"/><stop offset=".838" stop-color="#f34700"/><stop offset=".853" stop-color="#f34600"/><stop offset=".868" stop-color="#f34600"/><stop offset=".883" stop-color="#f34700"/><stop offset=".898" stop-color="#f44700"/><stop offset=".913" stop-color="#f44700"/><stop offset=".928" stop-color="#f54800"/><stop offset=".943" stop-color="#f54800"/><stop offset=".959" stop-color="#f64900"/><stop offset=".974" stop-color="#f64900"/><stop offset=".989" stop-color="#f74900"/><stop offset="1" stop-color="#f74900"/></linearGradient>
<linearGradient id="s348" gradientUnits="userSpaceOnUse" x1="454.4" x2="189" spreadMethod="reflect"><stop offset="0" stop-color="#c42300"/><stop offset=".167" stop-color="#d22c00"/><stop offset=".299" stop-color="#e33900"/><stop offset=".412" stop-color="#ef4300"/><stop offset=".514" stop-color="#f34600"/><stop offset=".732" stop-color="#f34600"/><stop offset=".77" stop-color="#f24600"/><stop offset=".797" stop-color="#f24500"/><stop offset=".819" stop-color="#f14500"/><stop offset=".838" stop-color="#f04400"/><stop offset=".898" stop-color="#f04400"/><stop offset=".913" stop-color="#f14500"/><stop offset=".928" stop-color="#f14500"/><stop offset=".943" stop-color="#f24500"/><stop offset=".959" stop-color="#f24600"/><stop offset=".974" stop-color="#f34600"/><stop offset="1" stop-color="#f34600"/></linearGradient>
<linearGradient id="s349" gradientUnits="userSpaceOnUse" x1="454.4" x2="189" spreadMethod="reflect"><stop offset="0" stop-color="#be2000"/><stop offset=".167" stop-color="#ce2900"/><stop offset=".299" stop-color="#df3600"/><stop offset=".412" stop-color="#eb4000"/><stop offset=".514" stop-color="#ef4300"/><stop offset=".732" stop-color="#ef4300"/><stop offset=".77" stop-color="#ee4300"/><stop offset=".797" stop-color="#ee4200"/><stop offset=".819" stop-color="#ed4200"/><stop offset=".838" stop-color="#ed4200"/><stop offset=".853" stop-color="#ed4100"/><stop offset=".868" stop-color="#ed4100"/><stop offset=".883" stop-color="#ed4200"/><stop offset=".913" stop-color="#ed4200"/><stop offset=".928" stop-color="#ee4200"/><stop offset=".943" stop-color="#ee4300"/><stop offset=".959" stop-color="#ee4300"/><stop offset=".974" stop-color="#ef4300"/><stop offset="1" stop-color="#ef4300"/></linearGradient>
<linearGradient id="s350" gradientUnits="userSpaceOnUse" x1="454.4" x2="189" spreadMethod="reflect"><stop offset="0" stop-color="#b71d00"/><stop offset=".167" stop-color="#c92600"/><stop offset=".299" stop-color="#db3300"/><stop offset=".412" stop-color="#e73d00"/><stop offset=".514" stop-color="#eb4000"/><stop offset=".77" stop-color="#eb4000"/><stop offset=".797" stop-color="#ea3f00"/><stop offset=".819" stop-color="#ea3f00"/><stop offset=".838" stop-color="#e93f00"/><stop offset=".883" stop-color="#e93f00"/><stop offset=".898" stop-color="#ea3f00"/><stop offset=".928" stop-color="#ea3f00"/><stop offset=".943" stop-color="#ea4000"/><stop offset=".959" stop-color="#eb4000"/><stop offset="1" stop-color="#eb4000"/></linearGradient>
<linearGradient id="gc" gradientUnits="userSpaceOnUse" x1="0" y1="1528.5" x2="0" y2="57.5"><stop offset="0" stop-color="#340064"/><stop offset=".013" stop-color="#38006e"/><stop offset=".025" stop-color="#3b0078"/><stop offset=".037" stop-color="#3f0082"/><stop offset=".05" stop-color="#42008c"/><stop offset=".062" stop-color="#460096"/><stop offset=".075" stop-color="#4400a1"/><stop offset=".087" stop-color="#4300ac"/><stop offset=".1" stop-color="#4100b7"/><stop offset=".113" stop-color="#4000c2"/><stop offset=".125" stop-color="#3e00cd"/><stop offset=".138" stop-color="#3700d4"/><stop offset=".15" stop-color="#3100da"/><stop offset=".163" stop-color="#2a00e1"/><stop offset=".175" stop-color="#2405e8"/><stop offset=".188" stop-color="#1e0aee"/><stop offset=".2" stop-color="#1814f0"/><stop offset=".212" stop-color="#121ef3"/><stop offset=".225" stop-color="#0c28f5"/><stop offset=".237" stop-color="#0632f8"/><stop offset=".25" stop-color="#003cfa"/><stop offset=".263" stop-color="#004bf0"/><stop offset=".275" stop-color="#0059e5"/><stop offset=".287" stop-color="#0067d9"/><stop offset=".3" stop-color="#0073cd"/><stop offset=".312" stop-color="#0080c0"/><stop offset=".325" stop-color="#008bb3"/><stop offset=".338" stop-color="#0096a5"/><stop offset=".35" stop-color="#00a098"/><stop offset=".362" stop-color="#00a98a"/><stop offset=".375" stop-color="#00b27d"/><stop offset=".388" stop-color="#00b573"/><stop offset=".4" stop-color="#00b868"/><stop offset=".412" stop-color="#00ba5e"/><stop offset=".425" stop-color="#00bc53"/><stop offset=".438" stop-color="#00be48"/><stop offset=".45" stop-color="#02bf39"/><stop offset=".463" stop-color="#03c02a"/><stop offset=".475" stop-color="#04c01d"/><stop offset=".487" stop-color="#04c010"/><stop offset=".5" stop-color="#04c004"/><stop offset=".512" stop-color="#10c003"/><stop offset=".525" stop-color="#1cc002"/><stop offset=".537" stop-color="#28c002"/><stop offset=".55" stop-color="#34c001"/><stop offset=".562" stop-color="#40c000"/><stop offset=".575" stop-color="#4bc000"/><stop offset=".588" stop-color="#56bf00"/><stop offset=".6" stop-color="#62bf00"/><stop offset=".613" stop-color="#6dbe00"/><stop offset=".625" stop-color="#78be00"/><stop offset=".637" stop-color="#88be00"/><stop offset=".65" stop-color="#98be00"/><stop offset=".662" stop-color="#a7bc00"/><stop offset=".675" stop-color="#b7b900"/><stop offset=".688" stop-color="#c6b600"/><stop offset=".7" stop-color="#d5b000"/><stop offset=".713" stop-color="#e5aa00"/><stop offset=".725" stop-color="#f0a500"/><stop offset=".738" stop-color="#f79f00"/><stop offset=".75" stop-color="#ff9a00"/><stop offset=".762" stop-color="#ff9300"/><stop offset=".775" stop-color="#ff8c00"/><stop offset=".787" stop-color="#ff8600"/><stop offset=".8" stop-color="#ff7f00"/><stop offset=".812" stop-color="#ff7800"/><stop offset=".825" stop-color="#ff7000"/><stop offset=".838" stop-color="#ff6800"/><stop offset=".85" stop-color="#ff6000"/><stop offset=".863" stop-color="#ff5800"/><stop offset=".875" stop-color="#ff5000"/><stop offset=".887" stop-color="#f54800"/><stop offset=".9" stop-color="#eb4000"/><stop offset=".912" stop-color="#e13800"/><stop offset=".925" stop-color="#d73000"/><stop offset=".938" stop-color="#cd2800"/><stop offset=".95" stop-color="#be2000"/><stop offset=".963" stop-color="#ae1800"/><stop offset=".975" stop-color="#9f1000"/><stop offset=".988" stop-color="#8f0800"/><stop offset="1" stop-color="#800000"/></linearGradient></defs>
<rect width="1000" height="1554" fill="#fff"/>
<rect x="189.5" y="480" width="529.8" height="263.7" fill="#cc9257"/>
<path d="M29.5 104H196V490H189.4V118L188.6 107.5H29.5Z" fill="#cc9257"/>
<path d="M879.3 104H712.8V490H719.4V118L720.2 107.5H879.3Z" fill="#cc9257"/>
<path d="M29.5 877H189.3V879.9H29.5ZM879.3 877H719.5V879.9H879.3Z" fill="#e0905a"/>
<g clip-path="url(#ct)" shape-rendering="crispEdges"><rect x="29" y="55" width="852" height="1" fill="url(#s1)"/>
<rect x="29" y="56" width="852" height="1" fill="url(#s2)"/>
<rect x="29" y="57" width="852" height="1" fill="url(#s3)"/>
<rect x="29" y="58" width="852" height="1" fill="url(#s4)"/>
<rect x="29" y="59" width="852" height="1" fill="url(#s5)"/>
<rect x="29" y="60" width="852" height="1" fill="url(#s6)"/>
<rect x="29" y="61" width="852" height="2" fill="url(#s7)"/>
<rect x="29" y="63" width="852" height="2" fill="url(#s8)"/>
<rect x="29" y="65" width="852" height="2" fill="url(#s9)"/>
<rect x="29" y="67" width="852" height="2" fill="url(#s10)"/>
<rect x="29" y="69" width="852" height="2" fill="url(#s11)"/>
<rect x="29" y="71" width="852" height="2" fill="url(#s12)"/>
<rect x="29" y="73" width="852" height="2" fill="url(#s13)"/>
<rect x="29" y="75" width="852" height="2" fill="url(#s14)"/>
<rect x="29" y="77" width="852" height="2" fill="url(#s15)"/>
<rect x="29" y="79" width="852" height="2" fill="url(#s16)"/>
<rect x="29" y="81" width="852" height="2" fill="url(#s17)"/>
<rect x="29" y="83" width="852" height="2" fill="url(#s18)"/>
<rect x="29" y="85" width="852" height="2" fill="url(#s19)"/>
<rect x="29" y="87" width="852" height="2" fill="url(#s20)"/>
<rect x="29" y="89" width="852" height="2" fill="url(#s21)"/>
<rect x="29" y="91" width="852" height="2" fill="url(#s22)"/>
<rect x="29" y="93" width="852" height="2" fill="url(#s23)"/>
<rect x="29" y="95" width="852" height="2" fill="url(#s24)"/>
<rect x="29" y="97" width="852" height="2" fill="url(#s25)"/>
<rect x="29" y="99" width="852" height="2" fill="url(#s26)"/>
<rect x="29" y="101" width="852" height="2" fill="url(#s27)"/>
<rect x="29" y="103" width="852" height="2" fill="url(#s28)"/>
<rect x="29" y="105" width="852" height="2" fill="url(#s29)"/>
<rect x="29" y="107" width="852" height="2" fill="url(#s30)"/>
<rect x="29" y="109" width="852" height="2" fill="url(#s31)"/>
<rect x="29" y="111" width="852" height="2" fill="url(#s32)"/>
<rect x="29" y="113" width="852" height="2" fill="url(#s33)"/>
<rect x="29" y="115" width="852" height="2" fill="url(#s34)"/>
<rect x="29" y="117" width="852" height="2" fill="url(#s35)"/>
<rect x="29" y="119" width="852" height="2" fill="url(#s36)"/>
<rect x="29" y="121" width="852" height="2" fill="url(#s37)"/>
<rect x="29" y="123" width="852" height="2" fill="url(#s38)"/>
<rect x="29" y="125" width="852" height="2" fill="url(#s39)"/>
<rect x="29" y="127" width="852" height="2" fill="url(#s40)"/>
<rect x="29" y="129" width="852" height="2" fill="url(#s41)"/>
<rect x="29" y="131" width="852" height="2" fill="url(#s42)"/>
<rect x="29" y="133" width="852" height="2" fill="url(#s43)"/>
<rect x="29" y="135" width="852" height="2" fill="url(#s44)"/>
<rect x="29" y="137" width="852" height="2" fill="url(#s45)"/>
<rect x="29" y="139" width="852" height="2" fill="url(#s46)"/>
<rect x="29" y="141" width="852" height="2" fill="url(#s47)"/>
<rect x="29" y="143" width="852" height="2" fill="url(#s48)"/>
<rect x="29" y="145" width="852" height="2" fill="url(#s49)"/>
<rect x="29" y="147" width="852" height="2" fill="url(#s50)"/>
<rect x="29" y="149" width="852" height="2" fill="url(#s51)"/>
<rect x="189" y="151" width="531" height="5" fill="url(#s52)"/>
<rect x="189" y="156" width="531" height="5" fill="url(#s53)"/>
<rect x="189" y="161" width="531" height="5" fill="url(#s54)"/>
<rect x="189" y="166" width="531" height="5" fill="url(#s55)"/>
<rect x="189" y="171" width="531" height="5" fill="url(#s56)"/>
<rect x="189" y="176" width="531" height="5" fill="url(#s57)"/>
<rect x="189" y="181" width="531" height="5" fill="url(#s58)"/>
<rect x="189" y="186" width="531" height="5" fill="url(#s59)"/>
<rect x="189" y="191" width="531" height="5" fill="url(#s60)"/>
<rect x="189" y="196" width="531" height="5" fill="url(#s61)"/>
<rect x="189" y="201" width="531" height="5" fill="url(#s62)"/>
<rect x="189" y="206" width="531" height="5" fill="url(#s63)"/>
<rect x="189" y="211" width="531" height="5" fill="url(#s64)"/>
<rect x="189" y="216" width="531" height="5" fill="url(#s65)"/>
<rect x="189" y="221" width="531" height="5" fill="url(#s66)"/>
<rect x="189" y="226" width="531" height="5" fill="url(#s67)"/>
<rect x="189" y="231" width="531" height="5" fill="url(#s68)"/>
<rect x="189" y="236" width="531" height="5" fill="url(#s69)"/>
<rect x="189" y="241" width="531" height="5" fill="url(#s70)"/>
<rect x="189" y="246" width="531" height="5" fill="url(#s71)"/>
<rect x="189" y="251" width="531" height="130" fill="#2a00e1"/>
<rect x="189" y="381" width="531" height="4" fill="#2a00e1"/>
<rect x="189" y="385" width="531" height="4" fill="#2a00e1"/>
<rect x="189" y="389" width="531" height="4" fill="#2a00e1"/>
<rect x="189" y="393" width="531" height="4" fill="#2a00e1"/>
<rect x="189" y="397" width="531" height="4" fill="#2a00e1"/>
<rect x="189" y="401" width="531" height="4" fill="#2a00e1"/>
<rect x="189" y="405" width="531" height="4" fill="#2a00e1"/>
<rect x="189" y="409" width="531" height="4" fill="#2a00e1"/>
<rect x="189" y="413" width="531" height="4" fill="#2a00e1"/>
<rect x="189" y="417" width="531" height="4" fill="#2a00e1"/>
<rect x="189" y="421" width="531" height="4" fill="#2a00e1"/>
<rect x="189" y="425" width="531" height="4" fill="#2a00e1"/>
<rect x="189" y="429" width="531" height="4" fill="#2a00e1"/>
<rect x="189" y="433" width="531" height="4" fill="#2a00e1"/>
<rect x="189" y="437" width="531" height="4" fill="url(#s72)"/>
<rect x="189" y="441" width="531" height="4" fill="url(#s73)"/>
<rect x="189" y="445" width="531" height="4" fill="url(#s74)"/>
<rect x="189" y="449" width="531" height="4" fill="url(#s75)"/>
<rect x="189" y="453" width="531" height="4" fill="url(#s76)"/>
<rect x="189" y="457" width="531" height="4" fill="url(#s77)"/>
<rect x="189" y="461" width="531" height="4" fill="url(#s78)"/>
<rect x="189" y="465" width="531" height="4" fill="url(#s79)"/>
<rect x="189" y="469" width="531" height="4" fill="url(#s80)"/>
<rect x="189" y="473" width="531" height="4" fill="url(#s81)"/>
<rect x="189" y="477" width="531" height="4" fill="url(#s82)"/>
<rect x="189" y="481" width="531" height="4" fill="url(#s83)"/>
<rect x="189" y="485" width="531" height="4" fill="url(#s84)"/>
<rect x="189" y="489" width="531" height="4" fill="url(#s85)"/>
<rect x="189" y="493" width="531" height="4" fill="url(#s86)"/>
<rect x="189" y="497" width="531" height="4" fill="url(#s87)"/>
<rect x="189" y="501" width="531" height="4" fill="url(#s88)"/>
<rect x="189" y="505" width="531" height="4" fill="url(#s89)"/>
<rect x="189" y="509" width="531" height="4" fill="url(#s90)"/>
<rect x="189" y="513" width="531" height="4" fill="url(#s91)"/>
<rect x="189" y="517" width="531" height="4" fill="url(#s92)"/>
<rect x="189" y="521" width="531" height="4" fill="url(#s93)"/>
<rect x="189" y="525" width="531" height="4" fill="url(#s94)"/>
<rect x="189" y="529" width="531" height="4" fill="url(#s95)"/>
<rect x="189" y="533" width="531" height="4" fill="url(#s96)"/>
<rect x="189" y="537" width="531" height="4" fill="url(#s97)"/>
<rect x="189" y="541" width="531" height="4" fill="url(#s98)"/>
<rect x="189" y="545" width="531" height="4" fill="url(#s99)"/>
<rect x="189" y="549" width="531" height="4" fill="url(#s100)"/>
<rect x="189" y="553" width="531" height="4" fill="url(#s101)"/>
<rect x="189" y="557" width="531" height="4" fill="url(#s102)"/>
<rect x="189" y="561" width="531" height="4" fill="url(#s103)"/>
<rect x="189" y="565" width="531" height="4" fill="url(#s104)"/>
<rect x="189" y="569" width="531" height="4" fill="url(#s105)"/>
<rect x="189" y="573" width="531" height="4" fill="url(#s106)"/>
<rect x="189" y="577" width="531" height="4" fill="url(#s107)"/>
<rect x="189" y="581" width="531" height="4" fill="url(#s108)"/>
<rect x="189" y="585" width="531" height="4" fill="url(#s109)"/>
<rect x="189" y="589" width="531" height="4" fill="url(#s110)"/>
<rect x="189" y="593" width="531" height="4" fill="url(#s111)"/>
<rect x="189" y="597" width="531" height="4" fill="url(#s112)"/>
<rect x="189" y="601" width="531" height="4" fill="url(#s113)"/>
<rect x="189" y="605" width="531" height="4" fill="url(#s114)"/>
<rect x="189" y="609" width="531" height="4" fill="url(#s115)"/>
<rect x="189" y="613" width="531" height="4" fill="url(#s116)"/>
<rect x="189" y="617" width="531" height="4" fill="url(#s117)"/>
<rect x="189" y="621" width="531" height="4" fill="url(#s118)"/>
<rect x="189" y="625" width="531" height="4" fill="url(#s119)"/>
<rect x="189" y="629" width="531" height="4" fill="url(#s120)"/>
<rect x="189" y="633" width="531" height="4" fill="url(#s121)"/>
<rect x="189" y="637" width="531" height="4" fill="url(#s122)"/>
<rect x="189" y="641" width="531" height="4" fill="url(#s123)"/>
<rect x="189" y="645" width="531" height="4" fill="url(#s124)"/>
<rect x="189" y="649" width="531" height="4" fill="url(#s125)"/>
<rect x="189" y="653" width="531" height="4" fill="url(#s126)"/>
<rect x="189" y="657" width="531" height="4" fill="url(#s127)"/>
<rect x="189" y="661" width="531" height="4" fill="url(#s128)"/>
<rect x="189" y="665" width="531" height="4" fill="url(#s129)"/>
<rect x="189" y="669" width="531" height="4" fill="url(#s130)"/>
<rect x="189" y="673" width="531" height="4" fill="url(#s131)"/>
<rect x="189" y="677" width="531" height="4" fill="url(#s132)"/>
<rect x="189" y="681" width="531" height="4" fill="url(#s133)"/>
<rect x="189" y="685" width="531" height="4" fill="url(#s134)"/>
<rect x="189" y="689" width="531" height="4" fill="url(#s135)"/>
<rect x="189" y="693" width="531" height="4" fill="url(#s136)"/>
<rect x="189" y="697" width="531" height="4" fill="url(#s137)"/>
<rect x="189" y="701" width="531" height="4" fill="url(#s138)"/>
<rect x="189" y="705" width="531" height="4" fill="url(#s139)"/>
<rect x="189" y="709" width="531" height="4" fill="url(#s140)"/>
<rect x="189" y="713" width="531" height="4" fill="url(#s141)"/>
<rect x="189" y="717" width="531" height="4" fill="url(#s142)"/>
<rect x="189" y="721" width="531" height="4" fill="url(#s143)"/>
<rect x="189" y="725" width="531" height="4" fill="url(#s144)"/>
<rect x="189" y="729" width="531" height="4" fill="url(#s145)"/>
<rect x="189" y="733" width="531" height="4" fill="url(#s146)"/>
<rect x="189" y="737" width="531" height="4" fill="url(#s147)"/>
<rect x="189" y="741" width="531" height="4" fill="url(#s148)"/></g>
<rect x="189.5" y="1140" width="529.8" height="375.7" fill="#cc9257"/>
<g clip-path="url(#cb)" shape-rendering="crispEdges"><rect x="29" y="827" width="852" height="2" fill="url(#s149)"/>
<rect x="29" y="829" width="852" height="2" fill="url(#s150)"/>
<rect x="29" y="831" width="852" height="2" fill="url(#s151)"/>
<rect x="29" y="833" width="852" height="2" fill="url(#s152)"/>
<rect x="29" y="835" width="852" height="2" fill="url(#s153)"/>
<rect x="29" y="837" width="852" height="2" fill="url(#s154)"/>
<rect x="29" y="839" width="852" height="2" fill="url(#s155)"/>
<rect x="29" y="841" width="852" height="2" fill="url(#s156)"/>
<rect x="29" y="843" width="852" height="2" fill="url(#s157)"/>
<rect x="29" y="845" width="852" height="2" fill="url(#s158)"/>
<rect x="29" y="847" width="852" height="2" fill="url(#s159)"/>
<rect x="29" y="849" width="852" height="2" fill="url(#s160)"/>
<rect x="29" y="851" width="852" height="2" fill="url(#s161)"/>
<rect x="29" y="853" width="852" height="2" fill="url(#s162)"/>
<rect x="29" y="855" width="852" height="2" fill="url(#s163)"/>
<rect x="29" y="857" width="852" height="2" fill="url(#s164)"/>
<rect x="29" y="859" width="852" height="2" fill="url(#s165)"/>
<rect x="29" y="861" width="852" height="2" fill="url(#s166)"/>
<rect x="29" y="863" width="852" height="2" fill="url(#s167)"/>
<rect x="29" y="865" width="852" height="2" fill="url(#s168)"/>
<rect x="29" y="867" width="852" height="2" fill="url(#s169)"/>
<rect x="29" y="869" width="852" height="2" fill="url(#s170)"/>
<rect x="29" y="871" width="852" height="2" fill="url(#s171)"/>
<rect x="29" y="873" width="852" height="2" fill="url(#s172)"/>
<rect x="29" y="875" width="852" height="2" fill="url(#s173)"/>
<rect x="29" y="877" width="852" height="2" fill="url(#s174)"/>
<rect x="189" y="879" width="531" height="3" fill="url(#s175)"/>
<rect x="189" y="882" width="531" height="3" fill="url(#s176)"/>
<rect x="189" y="885" width="531" height="3" fill="url(#s177)"/>
<rect x="189" y="888" width="531" height="3" fill="url(#s178)"/>
<rect x="189" y="891" width="531" height="3" fill="url(#s179)"/>
<rect x="189" y="894" width="531" height="3" fill="url(#s180)"/>
<rect x="189" y="897" width="531" height="3" fill="url(#s181)"/>
<rect x="189" y="900" width="531" height="3" fill="url(#s182)"/>
<rect x="189" y="903" width="531" height="3" fill="url(#s183)"/>
<rect x="189" y="906" width="531" height="3" fill="url(#s184)"/>
<rect x="189" y="909" width="531" height="3" fill="url(#s185)"/>
<rect x="189" y="912" width="531" height="3" fill="url(#s186)"/>
<rect x="189" y="915" width="531" height="3" fill="url(#s187)"/>
<rect x="189" y="918" width="531" height="3" fill="url(#s188)"/>
<rect x="189" y="921" width="531" height="3" fill="url(#s189)"/>
<rect x="189" y="924" width="531" height="3" fill="url(#s190)"/>
<rect x="189" y="927" width="531" height="3" fill="url(#s191)"/>
<rect x="189" y="930" width="531" height="3" fill="url(#s192)"/>
<rect x="189" y="933" width="531" height="3" fill="url(#s193)"/>
<rect x="189" y="936" width="531" height="3" fill="url(#s194)"/>
<rect x="189" y="939" width="531" height="3" fill="url(#s195)"/>
<rect x="189" y="942" width="531" height="3" fill="url(#s196)"/>
<rect x="189" y="945" width="531" height="3" fill="url(#s197)"/>
<rect x="189" y="948" width="531" height="3" fill="url(#s198)"/>
<rect x="189" y="951" width="531" height="3" fill="url(#s199)"/>
<rect x="189" y="954" width="531" height="3" fill="url(#s200)"/>
<rect x="189" y="957" width="531" height="3" fill="url(#s201)"/>
<rect x="189" y="960" width="531" height="3" fill="url(#s202)"/>
<rect x="189" y="963" width="531" height="3" fill="url(#s203)"/>
<rect x="189" y="966" width="531" height="3" fill="url(#s204)"/>
<rect x="189" y="969" width="531" height="3" fill="url(#s205)"/>
<rect x="189" y="972" width="531" height="3" fill="url(#s206)"/>
<rect x="189" y="975" width="531" height="3" fill="url(#s207)"/>
<rect x="189" y="978" width="531" height="3" fill="url(#s208)"/>
<rect x="189" y="981" width="531" height="3" fill="url(#s209)"/>
<rect x="189" y="984" width="531" height="3" fill="url(#s210)"/>
<rect x="189" y="987" width="531" height="3" fill="url(#s211)"/>
<rect x="189" y="990" width="531" height="3" fill="url(#s212)"/>
<rect x="189" y="993" width="531" height="3" fill="url(#s213)"/>
<rect x="189" y="996" width="531" height="3" fill="url(#s214)"/>
<rect x="189" y="999" width="531" height="3" fill="url(#s215)"/>
<rect x="189" y="1002" width="531" height="3" fill="url(#s216)"/>
<rect x="189" y="1005" width="531" height="3" fill="url(#s217)"/>
<rect x="189" y="1008" width="531" height="3" fill="url(#s218)"/>
<rect x="189" y="1011" width="531" height="3" fill="url(#s219)"/>
<rect x="189" y="1014" width="531" height="3" fill="url(#s220)"/>
<rect x="189" y="1017" width="531" height="3" fill="url(#s221)"/>
<rect x="189" y="1020" width="531" height="3" fill="url(#s222)"/>
<rect x="189" y="1023" width="531" height="3" fill="url(#s223)"/>
<rect x="189" y="1026" width="531" height="3" fill="url(#s224)"/>
<rect x="189" y="1029" width="531" height="3" fill="url(#s225)"/>
<rect x="189" y="1032" width="531" height="3" fill="url(#s226)"/>
<rect x="189" y="1035" width="531" height="3" fill="url(#s227)"/>
<rect x="189" y="1038" width="531" height="3" fill="url(#s228)"/>
<rect x="189" y="1041" width="531" height="3" fill="url(#s229)"/>
<rect x="189" y="1044" width="531" height="3" fill="url(#s230)"/>
<rect x="189" y="1047" width="531" height="3" fill="url(#s231)"/>
<rect x="189" y="1050" width="531" height="3" fill="url(#s232)"/>
<rect x="189" y="1053" width="531" height="3" fill="url(#s233)"/>
<rect x="189" y="1056" width="531" height="3" fill="url(#s234)"/>
<rect x="189" y="1059" width="531" height="3" fill="url(#s235)"/>
<rect x="189" y="1062" width="531" height="3" fill="url(#s236)"/>
<rect x="189" y="1065" width="531" height="3" fill="url(#s237)"/>
<rect x="189" y="1068" width="531" height="3" fill="url(#s238)"/>
<rect x="189" y="1071" width="531" height="3" fill="url(#s239)"/>
<rect x="189" y="1074" width="531" height="3" fill="url(#s240)"/>
<rect x="189" y="1077" width="531" height="3" fill="url(#s241)"/>
<rect x="189" y="1080" width="531" height="3" fill="url(#s242)"/>
<rect x="189" y="1083" width="531" height="3" fill="#00bc51"/>
<rect x="189" y="1086" width="531" height="3" fill="#00bd50"/>
<rect x="189" y="1089" width="531" height="3" fill="#00bd4e"/>
<rect x="189" y="1092" width="531" height="3" fill="#00bd4d"/>
<rect x="189" y="1095" width="531" height="3" fill="#00bd4b"/>
<rect x="189" y="1098" width="531" height="3" fill="#00be49"/>
<rect x="189" y="1101" width="531" height="3" fill="#00be48"/>
<rect x="189" y="1104" width="531" height="3" fill="#00be45"/>
<rect x="189" y="1107" width="531" height="3" fill="#01be43"/>
<rect x="189" y="1110" width="531" height="3" fill="#01be41"/>
<rect x="189" y="1113" width="531" height="3" fill="#01bf3f"/>
<rect x="189" y="1116" width="531" height="3" fill="#01bf3c"/>
<rect x="189" y="1119" width="531" height="3" fill="#02bf3a"/>
<rect x="189" y="1122" width="531" height="3" fill="#02bf38"/>
<rect x="189" y="1125" width="531" height="3" fill="#02bf36"/>
<rect x="189" y="1128" width="531" height="3" fill="#02bf33"/>
<rect x="189" y="1131" width="531" height="160" fill="url(#gb)"/>
<rect x="189" y="1291" width="531" height="2" fill="url(#s243)"/>
<rect x="189" y="1293" width="531" height="2" fill="url(#s244)"/>
<rect x="189" y="1295" width="531" height="2" fill="url(#s245)"/>
<rect x="189" y="1297" width="531" height="2" fill="url(#s246)"/>
<rect x="189" y="1299" width="531" height="2" fill="url(#s247)"/>
<rect x="189" y="1301" width="531" height="2" fill="url(#s248)"/>
<rect x="189" y="1303" width="531" height="2" fill="url(#s249)"/>
<rect x="189" y="1305" width="531" height="2" fill="url(#s250)"/>
<rect x="189" y="1307" width="531" height="2" fill="url(#s251)"/>
<rect x="189" y="1309" width="531" height="2" fill="url(#s252)"/>
<rect x="189" y="1311" width="531" height="2" fill="url(#s253)"/>
<rect x="189" y="1313" width="531" height="2" fill="url(#s254)"/>
<rect x="189" y="1315" width="531" height="2" fill="url(#s255)"/>
<rect x="189" y="1317" width="531" height="2" fill="url(#s256)"/>
<rect x="189" y="1319" width="531" height="2" fill="url(#s257)"/>
<rect x="189" y="1321" width="531" height="2" fill="url(#s258)"/>
<rect x="189" y="1323" width="531" height="2" fill="url(#s259)"/>
<rect x="189" y="1325" width="531" height="2" fill="url(#s260)"/>
<rect x="189" y="1327" width="531" height="2" fill="url(#s261)"/>
<rect x="189" y="1329" width="531" height="2" fill="url(#s262)"/>
<rect x="189" y="1331" width="531" height="2" fill="url(#s263)"/>
<rect x="189" y="1333" width="531" height="2" fill="url(#s264)"/>
<rect x="189" y="1335" width="531" height="2" fill="url(#s265)"/>
<rect x="189" y="1337" width="531" height="2" fill="url(#s266)"/>
<rect x="189" y="1339" width="531" height="2" fill="url(#s267)"/>
<rect x="189" y="1341" width="531" height="2" fill="url(#s268)"/>
<rect x="189" y="1343" width="531" height="2" fill="url(#s269)"/>
<rect x="189" y="1345" width="531" height="2" fill="url(#s270)"/>
<rect x="189" y="1347" width="531" height="2" fill="url(#s271)"/>
<rect x="189" y="1349" width="531" height="2" fill="url(#s272)"/>
<rect x="189" y="1351" width="531" height="2" fill="url(#s273)"/>
<rect x="189" y="1353" width="531" height="2" fill="url(#s274)"/>
<rect x="189" y="1355" width="531" height="2" fill="url(#s275)"/>
<rect x="189" y="1357" width="531" height="2" fill="url(#s276)"/>
<rect x="189" y="1359" width="531" height="2" fill="url(#s277)"/>
<rect x="189" y="1361" width="531" height="2" fill="url(#s278)"/>
<rect x="189" y="1363" width="531" height="2" fill="url(#s279)"/>
<rect x="189" y="1365" width="531" height="2" fill="url(#s280)"/>
<rect x="189" y="1367" width="531" height="2" fill="url(#s281)"/>
<rect x="189" y="1369" width="531" height="2" fill="url(#s282)"/>
<rect x="189" y="1371" width="531" height="2" fill="url(#s283)"/>
<rect x="189" y="1373" width="531" height="2" fill="url(#s284)"/>
<rect x="189" y="1375" width="531" height="2" fill="url(#s285)"/>
<rect x="189" y="1377" width="531" height="2" fill="url(#s286)"/>
<rect x="189" y="1379" width="531" height="2" fill="url(#s287)"/>
<rect x="189" y="1381" width="531" height="2" fill="url(#s288)"/>
<rect x="189" y="1383" width="531" height="2" fill="url(#s289)"/>
<rect x="189" y="1385" width="531" height="2" fill="url(#s290)"/>
<rect x="189" y="1387" width="531" height="2" fill="url(#s291)"/>
<rect x="189" y="1389" width="531" height="2" fill="url(#s292)"/>
<rect x="189" y="1391" width="531" height="2" fill="url(#s293)"/>
<rect x="189" y="1393" width="531" height="2" fill="url(#s294)"/>
<rect x="189" y="1395" width="531" height="2" fill="url(#s295)"/>
<rect x="189" y="1397" width="531" height="2" fill="url(#s296)"/>
<rect x="189" y="1399" width="531" height="2" fill="url(#s297)"/>
<rect x="189" y="1401" width="531" height="2" fill="url(#s298)"/>
<rect x="189" y="1403" width="531" height="2" fill="url(#s299)"/>
<rect x="189" y="1405" width="531" height="2" fill="url(#s300)"/>
<rect x="189" y="1407" width="531" height="2" fill="url(#s301)"/>
<rect x="189" y="1409" width="531" height="2" fill="url(#s302)"/>
<rect x="189" y="1411" width="531" height="2" fill="url(#s303)"/>
<rect x="189" y="1413" width="531" height="2" fill="url(#s304)"/>
<rect x="189" y="1415" width="531" height="2" fill="url(#s305)"/>
<rect x="189" y="1417" width="531" height="2" fill="url(#s306)"/>
<rect x="189" y="1419" width="531" height="2" fill="url(#s307)"/>
<rect x="189" y="1421" width="531" height="2" fill="url(#s308)"/>
<rect x="189" y="1423" width="531" height="2" fill="url(#s309)"/>
<rect x="189" y="1425" width="531" height="2" fill="url(#s310)"/>
<rect x="189" y="1427" width="531" height="2" fill="url(#s311)"/>
<rect x="189" y="1429" width="531" height="2" fill="url(#s312)"/>
<rect x="189" y="1431" width="531" height="2" fill="url(#s313)"/>
<rect x="189" y="1433" width="531" height="2" fill="url(#s314)"/>
<rect x="189" y="1435" width="531" height="2" fill="url(#s315)"/>
<rect x="189" y="1437" width="531" height="2" fill="url(#s316)"/>
<rect x="189" y="1439" width="531" height="2" fill="url(#s317)"/>
<rect x="189" y="1441" width="531" height="2" fill="url(#s318)"/>
<rect x="189" y="1443" width="531" height="2" fill="url(#s319)"/>
<rect x="189" y="1445" width="531" height="2" fill="url(#s320)"/>
<rect x="189" y="1447" width="531" height="2" fill="url(#s321)"/>
<rect x="189" y="1449" width="531" height="2" fill="url(#s322)"/>
<rect x="189" y="1451" width="531" height="2" fill="url(#s323)"/>
<rect x="189" y="1453" width="531" height="2" fill="url(#s324)"/>
<rect x="189" y="1455" width="531" height="2" fill="url(#s325)"/>
<rect x="189" y="1457" width="531" height="2" fill="url(#s326)"/>
<rect x="189" y="1459" width="531" height="2" fill="url(#s327)"/>
<rect x="189" y="1461" width="531" height="2" fill="url(#s328)"/>
<rect x="189" y="1463" width="531" height="2" fill="url(#s329)"/>
<rect x="189" y="1465" width="531" height="2" fill="url(#s330)"/>
<rect x="189" y="1467" width="531" height="2" fill="url(#s331)"/>
<rect x="189" y="1469" width="531" height="2" fill="url(#s332)"/>
<rect x="189" y="1471" width="531" height="2" fill="url(#s333)"/>
<rect x="189" y="1473" width="531" height="2" fill="url(#s334)"/>
<rect x="189" y="1475" width="531" height="2" fill="url(#s335)"/>
<rect x="189" y="1477" width="531" height="2" fill="url(#s336)"/>
<rect x="189" y="1479" width="531" height="2" fill="url(#s337)"/>
<rect x="189" y="1481" width="531" height="2" fill="url(#s338)"/>
<rect x="189" y="1483" width="531" height="2" fill="url(#s339)"/>
<rect x="189" y="1485" width="531" height="2" fill="url(#s340)"/>
<rect x="189" y="1487" width="531" height="2" fill="url(#s341)"/>
<rect x="189" y="1489" width="531" height="2" fill="url(#s342)"/>
<rect x="189" y="1491" width="531" height="2" fill="url(#s343)"/>
<rect x="189" y="1493" width="531" height="2" fill="url(#s344)"/>
<rect x="189" y="1495" width="531" height="2" fill="url(#s345)"/>
<rect x="189" y="1497" width="531" height="2" fill="url(#s346)"/>
<rect x="189" y="1499" width="531" height="2" fill="url(#s347)"/>
<rect x="189" y="1501" width="531" height="2" fill="url(#s348)"/>
<rect x="189" y="1503" width="531" height="2" fill="url(#s349)"/>
<rect x="189" y="1505" width="531" height="2" fill="url(#s350)"/></g>
<path d="M453.9 47V752.8" stroke="#000" stroke-width="2.4" stroke-dasharray="7.6 7.756" stroke-dashoffset="3.76" fill="none"/>
<path d="M453.9 821.6V1527.7" stroke="#000" stroke-width="2.4" stroke-dasharray="7.6 7.756" stroke-dashoffset="3.86" fill="none"/>
<g><path d="M37.0 93.2L39.8 90.0" stroke="#00ffff" stroke-width="0.60" fill="none"/><path d="M40.0 89.7L39.6 91.1L38.6 90.3Z" fill="#00ffff"/><path d="M76.7 93.2L79.9 90.0" stroke="#00ffff" stroke-width="0.60" fill="none"/><path d="M80.2 89.7L79.6 91.2L78.7 90.2Z" fill="#00ffff"/><path d="M116.4 93.2L122.3 90.7" stroke="#00ffff" stroke-width="0.60" fill="none"/><path d="M123.4 90.2L121.7 91.9L121.0 90.2Z" fill="#00ffff"/><path d="M156.1 93.2L164.9 93.4" stroke="#00ffff" stroke-width="0.69" fill="none"/><path d="M167.1 93.4L163.9 94.6L164.0 92.1Z" fill="#00ffff"/><path d="M195.8 93.2L205.9 107.9" stroke="#00ffff" stroke-width="1.50" fill="none"/><path d="M209.2 112.8L203.4 108.5L207.4 105.8Z" fill="#00ffff"/><path d="M235.6 93.2L240.8 104.5" stroke="#00ffff" stroke-width="1.01" fill="none"/><path d="M242.4 107.8L238.9 104.3L241.9 102.8Z" fill="#00ffff"/><path d="M275.3 93.2L278.2 105.0" stroke="#00ffff" stroke-width="0.99" fill="none"/><path d="M279.0 108.4L276.3 104.4L279.5 103.6Z" fill="#00ffff"/><path d="M315.0 93.2L316.7 104.9" stroke="#00ffff" stroke-width="0.96" fill="none"/><path d="M317.2 108.3L315.0 104.2L318.2 103.7Z" fill="#00ffff"/><path d="M354.7 93.2L355.2 104.8" stroke="#00ffff" stroke-width="0.95" fill="none"/><path d="M355.3 108.2L353.6 103.9L356.8 103.8Z" fill="#00ffff"/><path d="M394.4 93.2L395.8 103.9" stroke="#00ffff" stroke-width="0.87" fill="none"/><path d="M396.1 106.9L394.2 103.1L397.1 102.7Z" fill="#00ffff"/><path d="M434.2 93.2L433.8 106.1" stroke="#00ffff" stroke-width="1.06" fill="none"/><path d="M433.7 110.0L432.0 105.1L435.6 105.2Z" fill="#00ffff"/><path d="M473.9 93.2L473.5 75.3" stroke="#ffffff" stroke-width="1.62" fill="none"/><path d="M473.4 69.4L476.0 76.3L471.1 76.4Z" fill="#ffffff"/><path d="M513.6 93.2L515.7 78.3" stroke="#ffffff" stroke-width="1.35" fill="none"/><path d="M516.4 73.6L517.6 79.6L513.6 79.0Z" fill="#ffffff"/><path d="M553.3 93.2L553.7 76.3" stroke="#ffffff" stroke-width="1.52" fill="none"/><path d="M553.8 70.8L556.0 77.3L551.4 77.2Z" fill="#ffffff"/><path d="M593.0 93.2L595.6 77.3" stroke="#ffffff" stroke-width="1.45" fill="none"/><path d="M596.4 72.2L597.6 78.6L593.3 77.9Z" fill="#ffffff"/><path d="M632.8 93.2L636.4 76.3" stroke="#ffffff" stroke-width="1.56" fill="none"/><path d="M637.6 70.8L638.5 77.8L633.9 76.8Z" fill="#ffffff"/><path d="M672.5 93.2L679.4 78.4" stroke="#ffffff" stroke-width="1.47" fill="none"/><path d="M681.7 73.6L681.0 80.2L677.0 78.3Z" fill="#ffffff"/><path d="M712.2 93.2L726.3 72.9" stroke="#ffffff" stroke-width="2.27" fill="none"/><path d="M731.2 65.7L728.4 75.6L723.0 71.8Z" fill="#ffffff"/><path d="M751.9 93.2L764.6 93.4" stroke="#ffffff" stroke-width="1.12" fill="none"/><path d="M768.4 93.5L763.6 95.2L763.7 91.7Z" fill="#ffffff"/><path d="M791.6 93.2L799.7 95.6" stroke="#ffffff" stroke-width="0.71" fill="none"/><path d="M801.6 96.2L798.4 96.5L799.1 94.2Z" fill="#ffffff"/><path d="M831.4 93.2L837.6 96.9" stroke="#ffffff" stroke-width="0.60" fill="none"/><path d="M838.9 97.7L836.2 97.3L837.2 95.5Z" fill="#ffffff"/><path d="M871.1 93.2L875.4 97.1" stroke="#ffffff" stroke-width="0.60" fill="none"/><path d="M876.1 97.7L874.1 97.0L875.2 95.8Z" fill="#ffffff"/><path d="M195.8 161.0L194.7 180.8" stroke="#00ffff" stroke-width="1.67" fill="none"/><path d="M194.3 187.5L192.1 179.6L197.4 179.9Z" fill="#00ffff"/><path d="M235.6 161.0L234.7 178.3" stroke="#00ffff" stroke-width="1.45" fill="none"/><path d="M234.4 184.0L232.4 177.2L237.1 177.4Z" fill="#00ffff"/><path d="M275.3 161.0L274.6 178.3" stroke="#00ffff" stroke-width="1.45" fill="none"/><path d="M274.3 184.0L272.3 177.2L276.9 177.4Z" fill="#00ffff"/><path d="M315.0 161.0L314.4 178.3" stroke="#00ffff" stroke-width="1.45" fill="none"/><path d="M314.2 184.0L312.1 177.2L316.8 177.4Z" fill="#00ffff"/><path d="M354.7 161.0L354.3 178.3" stroke="#00ffff" stroke-width="1.45" fill="none"/><path d="M354.1 184.0L352.0 177.3L356.7 177.4Z" fill="#00ffff"/><path d="M394.4 161.0L394.2 178.3" stroke="#00ffff" stroke-width="1.45" fill="none"/><path d="M394.1 184.0L391.8 177.3L396.5 177.4Z" fill="#00ffff"/><path d="M434.2 161.0L434.0 178.3" stroke="#00ffff" stroke-width="1.45" fill="none"/><path d="M434.0 184.0L431.7 177.3L436.4 177.3Z" fill="#00ffff"/><path d="M473.9 161.0L473.9 138.0" stroke="#ffffff" stroke-width="2.11" fill="none"/><path d="M473.9 130.0L477.0 139.0L470.8 139.0Z" fill="#ffffff"/><path d="M513.6 161.0L513.5 138.0" stroke="#ffffff" stroke-width="2.11" fill="none"/><path d="M513.4 130.0L516.6 139.0L510.4 139.0Z" fill="#ffffff"/><path d="M553.3 161.0L553.0 138.0" stroke="#ffffff" stroke-width="2.11" fill="none"/><path d="M552.9 130.0L556.1 139.0L549.9 139.0Z" fill="#ffffff"/><path d="M593.0 161.0L592.6 138.0" stroke="#ffffff" stroke-width="2.11" fill="none"/><path d="M592.4 130.0L595.7 138.9L589.5 139.1Z" fill="#ffffff"/><path d="M632.8 161.0L632.2 138.0" stroke="#ffffff" stroke-width="2.11" fill="none"/><path d="M631.9 130.0L635.3 138.9L629.1 139.1Z" fill="#ffffff"/><path d="M672.5 161.0L671.7 138.0" stroke="#ffffff" stroke-width="2.11" fill="none"/><path d="M671.5 130.0L674.9 138.9L668.7 139.1Z" fill="#ffffff"/><path d="M712.2 161.0L710.0 132.7" stroke="#ffffff" stroke-width="2.62" fill="none"/><path d="M709.2 122.5L713.9 133.4L706.3 134.0Z" fill="#ffffff"/><path d="M195.8 228.8L194.5 246.1" stroke="#00ffff" stroke-width="1.45" fill="none"/><path d="M194.1 251.7L192.2 244.9L196.9 245.3Z" fill="#00ffff"/><path d="M235.6 228.8L234.4 246.1" stroke="#00ffff" stroke-width="1.45" fill="none"/><path d="M234.0 251.7L232.1 244.9L236.8 245.2Z" fill="#00ffff"/><path d="M275.3 228.8L274.3 246.1" stroke="#00ffff" stroke-width="1.45" fill="none"/><path d="M274.0 251.8L272.0 245.0L276.7 245.2Z" fill="#00ffff"/><path d="M315.0 228.8L314.3 246.1" stroke="#00ffff" stroke-width="1.45" fill="none"/><path d="M314.0 251.8L312.0 245.0L316.7 245.2Z" fill="#00ffff"/><path d="M354.7 228.8L354.2 246.1" stroke="#00ffff" stroke-width="1.45" fill="none"/><path d="M354.0 251.8L351.9 245.0L356.6 245.2Z" fill="#00ffff"/><path d="M394.4 228.8L394.1 246.1" stroke="#00ffff" stroke-width="1.45" fill="none"/><path d="M394.0 251.8L391.8 245.1L396.5 245.2Z" fill="#00ffff"/><path d="M434.2 228.8L434.0 246.1" stroke="#00ffff" stroke-width="1.45" fill="none"/><path d="M434.0 251.8L431.7 245.1L436.4 245.1Z" fill="#00ffff"/><path d="M473.9 228.8L473.9 205.8" stroke="#ffffff" stroke-width="2.11" fill="none"/><path d="M473.9 197.8L477.0 206.8L470.8 206.8Z" fill="#ffffff"/><path d="M513.6 228.8L513.4 205.8" stroke="#ffffff" stroke-width="2.11" fill="none"/><path d="M513.3 197.8L516.5 206.8L510.3 206.8Z" fill="#ffffff"/><path d="M553.3 228.8L552.8 205.8" stroke="#ffffff" stroke-width="2.11" fill="none"/><path d="M552.7 197.8L556.0 206.7L549.8 206.9Z" fill="#ffffff"/><path d="M593.0 228.8L592.3 205.8" stroke="#ffffff" stroke-width="2.11" fill="none"/><path d="M592.1 197.8L595.5 206.7L589.3 206.9Z" fill="#ffffff"/><path d="M632.8 228.8L631.8 205.8" stroke="#ffffff" stroke-width="2.11" fill="none"/><path d="M631.5 197.8L634.9 206.7L628.8 206.9Z" fill="#ffffff"/><path d="M672.5 228.8L671.3 205.8" stroke="#ffffff" stroke-width="2.11" fill="none"/><path d="M670.9 197.8L674.4 206.7L668.2 207.0Z" fill="#ffffff"/><path d="M712.2 228.8L710.8 205.8" stroke="#ffffff" stroke-width="2.11" fill="none"/><path d="M710.3 197.9L713.9 206.6L707.7 207.0Z" fill="#ffffff"/><path d="M195.8 296.6L194.3 312.4" stroke="#00ffff" stroke-width="1.32" fill="none"/><path d="M193.8 317.5L192.3 311.2L196.6 311.6Z" fill="#00ffff"/><path d="M235.6 296.6L234.3 312.5" stroke="#00ffff" stroke-width="1.32" fill="none"/><path d="M233.8 317.5L232.2 311.3L236.5 311.6Z" fill="#00ffff"/><path d="M275.3 296.6L274.2 312.5" stroke="#00ffff" stroke-width="1.32" fill="none"/><path d="M273.9 317.6L272.1 311.3L276.4 311.6Z" fill="#00ffff"/><path d="M315.0 296.6L314.2 312.5" stroke="#00ffff" stroke-width="1.32" fill="none"/><path d="M313.9 317.6L312.1 311.4L316.4 311.6Z" fill="#00ffff"/><path d="M354.7 296.6L354.1 312.5" stroke="#00ffff" stroke-width="1.32" fill="none"/><path d="M353.9 317.6L352.0 311.4L356.3 311.6Z" fill="#00ffff"/><path d="M394.4 296.6L394.1 312.5" stroke="#00ffff" stroke-width="1.32" fill="none"/><path d="M394.0 317.6L391.9 311.5L396.3 311.6Z" fill="#00ffff"/><path d="M434.2 296.6L434.0 312.5" stroke="#00ffff" stroke-width="1.32" fill="none"/><path d="M434.0 317.6L431.9 311.5L436.2 311.5Z" fill="#00ffff"/><path d="M473.9 296.6L473.9 275.7" stroke="#ffffff" stroke-width="1.90" fill="none"/><path d="M473.9 268.6L476.7 276.7L471.1 276.7Z" fill="#ffffff"/><path d="M513.6 296.6L513.3 275.7" stroke="#ffffff" stroke-width="1.90" fill="none"/><path d="M513.2 268.6L516.1 276.7L510.5 276.8Z" fill="#ffffff"/><path d="M553.3 296.6L552.7 275.7" stroke="#ffffff" stroke-width="1.90" fill="none"/><path d="M552.5 268.6L555.6 276.6L549.9 276.8Z" fill="#ffffff"/><path d="M593.0 296.6L592.2 275.7" stroke="#ffffff" stroke-width="1.90" fill="none"/><path d="M591.9 268.6L595.0 276.6L589.4 276.9Z" fill="#ffffff"/><path d="M632.8 296.6L631.6 275.8" stroke="#ffffff" stroke-width="1.90" fill="none"/><path d="M631.2 268.6L634.5 276.6L628.8 276.9Z" fill="#ffffff"/><path d="M672.5 296.6L671.0 275.8" stroke="#ffffff" stroke-width="1.90" fill="none"/><path d="M670.5 268.7L673.9 276.6L668.3 277.0Z" fill="#ffffff"/><path d="M712.2 296.6L710.4 275.8" stroke="#ffffff" stroke-width="1.90" fill="none"/><path d="M709.8 268.7L713.3 276.6L707.7 277.0Z" fill="#ffffff"/><path d="M195.8 364.4L194.2 378.8" stroke="#00ffff" stroke-width="1.20" fill="none"/><path d="M193.7 383.3L192.3 377.6L196.3 378.0Z" fill="#00ffff"/><path d="M235.6 364.4L234.2 378.8" stroke="#00ffff" stroke-width="1.20" fill="none"/><path d="M233.7 383.3L232.3 377.6L236.2 378.0Z" fill="#00ffff"/><path d="M275.3 364.4L274.1 378.8" stroke="#00ffff" stroke-width="1.20" fill="none"/><path d="M273.8 383.3L272.2 377.7L276.2 378.0Z" fill="#00ffff"/><path d="M315.0 364.4L314.1 378.9" stroke="#00ffff" stroke-width="1.20" fill="none"/><path d="M313.8 383.4L312.2 377.7L316.1 378.0Z" fill="#00ffff"/><path d="M354.7 364.4L354.1 378.9" stroke="#00ffff" stroke-width="1.20" fill="none"/><path d="M353.9 383.4L352.2 377.8L356.1 378.0Z" fill="#00ffff"/><path d="M394.4 364.4L394.1 378.9" stroke="#00ffff" stroke-width="1.20" fill="none"/><path d="M393.9 383.4L392.1 377.8L396.1 377.9Z" fill="#00ffff"/><path d="M434.2 364.4L434.0 378.9" stroke="#00ffff" stroke-width="1.20" fill="none"/><path d="M434.0 383.4L432.1 377.9L436.0 377.9Z" fill="#00ffff"/><path d="M473.9 364.4L473.9 346.4" stroke="#ffffff" stroke-width="1.63" fill="none"/><path d="M473.9 340.4L476.3 347.4L471.4 347.4Z" fill="#ffffff"/><path d="M513.6 364.4L513.3 346.4" stroke="#ffffff" stroke-width="1.63" fill="none"/><path d="M513.2 340.4L515.7 347.3L510.9 347.4Z" fill="#ffffff"/><path d="M553.3 364.4L552.7 346.4" stroke="#ffffff" stroke-width="1.63" fill="none"/><path d="M552.5 340.4L555.2 347.3L550.3 347.5Z" fill="#ffffff"/><path d="M593.0 364.4L592.1 346.4" stroke="#ffffff" stroke-width="1.63" fill="none"/><path d="M591.8 340.4L594.6 347.3L589.7 347.5Z" fill="#ffffff"/><path d="M632.8 364.4L631.5 346.4" stroke="#ffffff" stroke-width="1.63" fill="none"/><path d="M631.0 340.5L634.0 347.2L629.1 347.6Z" fill="#ffffff"/><path d="M672.5 364.4L670.9 346.4" stroke="#ffffff" stroke-width="1.63" fill="none"/><path d="M670.3 340.5L673.4 347.2L668.5 347.6Z" fill="#ffffff"/><path d="M712.2 364.4L710.3 346.5" stroke="#ffffff" stroke-width="1.63" fill="none"/><path d="M709.6 340.5L712.8 347.2L707.9 347.7Z" fill="#ffffff"/><path d="M195.8 432.2L194.1 445.2" stroke="#00ffff" stroke-width="1.07" fill="none"/><path d="M193.6 449.0L192.5 443.9L196.0 444.4Z" fill="#00ffff"/><path d="M235.6 432.2L234.1 445.2" stroke="#00ffff" stroke-width="1.07" fill="none"/><path d="M233.6 449.1L232.4 444.0L236.0 444.4Z" fill="#00ffff"/><path d="M275.3 432.2L274.1 445.2" stroke="#00ffff" stroke-width="1.07" fill="none"/><path d="M273.7 449.1L272.4 444.1L276.0 444.4Z" fill="#00ffff"/><path d="M315.0 432.2L314.1 445.2" stroke="#00ffff" stroke-width="1.07" fill="none"/><path d="M313.8 449.2L312.4 444.1L315.9 444.4Z" fill="#00ffff"/><path d="M354.7 432.2L354.1 445.3" stroke="#00ffff" stroke-width="1.07" fill="none"/><path d="M353.9 449.2L352.3 444.2L355.9 444.3Z" fill="#00ffff"/><path d="M394.4 432.2L394.1 445.3" stroke="#00ffff" stroke-width="1.07" fill="none"/><path d="M393.9 449.2L392.3 444.2L395.9 444.3Z" fill="#00ffff"/><path d="M434.2 432.2L434.1 445.3" stroke="#00ffff" stroke-width="1.07" fill="none"/><path d="M434.0 449.2L432.3 444.3L435.9 444.3Z" fill="#00ffff"/><path d="M473.9 432.2L473.9 415.9" stroke="#ffffff" stroke-width="1.46" fill="none"/><path d="M473.9 410.7L476.1 416.9L471.7 416.9Z" fill="#ffffff"/><path d="M513.6 432.2L513.3 415.9" stroke="#ffffff" stroke-width="1.46" fill="none"/><path d="M513.1 410.7L515.5 416.9L511.1 417.0Z" fill="#ffffff"/><path d="M553.3 432.2L552.6 416.0" stroke="#ffffff" stroke-width="1.46" fill="none"/><path d="M552.4 410.7L554.9 416.9L550.5 417.0Z" fill="#ffffff"/><path d="M593.0 432.2L592.0 416.0" stroke="#ffffff" stroke-width="1.46" fill="none"/><path d="M591.6 410.7L594.3 416.8L589.8 417.1Z" fill="#ffffff"/><path d="M632.8 432.2L631.4 416.0" stroke="#ffffff" stroke-width="1.46" fill="none"/><path d="M630.9 410.8L633.6 416.8L629.2 417.2Z" fill="#ffffff"/><path d="M672.5 432.2L670.7 416.0" stroke="#ffffff" stroke-width="1.46" fill="none"/><path d="M670.1 410.8L673.0 416.8L668.6 417.3Z" fill="#ffffff"/><path d="M712.2 432.2L710.1 416.1" stroke="#ffffff" stroke-width="1.46" fill="none"/><path d="M709.4 410.9L712.4 416.8L708.0 417.4Z" fill="#ffffff"/><path d="M195.8 500.0L194.1 511.5" stroke="#00ffff" stroke-width="0.95" fill="none"/><path d="M193.6 514.8L192.6 510.3L195.8 510.8Z" fill="#00ffff"/><path d="M235.6 500.0L234.1 511.6" stroke="#00ffff" stroke-width="0.95" fill="none"/><path d="M233.6 514.9L232.6 510.4L235.8 510.8Z" fill="#00ffff"/><path d="M275.3 500.0L274.1 511.6" stroke="#00ffff" stroke-width="0.94" fill="none"/><path d="M273.7 514.9L272.6 510.4L275.8 510.8Z" fill="#00ffff"/><path d="M315.0 500.0L314.1 511.6" stroke="#00ffff" stroke-width="0.95" fill="none"/><path d="M313.8 515.0L312.6 510.5L315.7 510.7Z" fill="#00ffff"/><path d="M354.7 500.0L354.1 511.6" stroke="#00ffff" stroke-width="0.95" fill="none"/><path d="M353.9 515.0L352.5 510.5L355.7 510.7Z" fill="#00ffff"/><path d="M394.4 500.0L394.1 511.6" stroke="#00ffff" stroke-width="0.95" fill="none"/><path d="M394.0 515.0L392.5 510.6L395.7 510.7Z" fill="#00ffff"/><path d="M434.2 500.0L434.1 511.6" stroke="#00ffff" stroke-width="0.95" fill="none"/><path d="M434.0 515.0L432.5 510.6L435.7 510.7Z" fill="#00ffff"/><path d="M473.9 500.0L473.9 485.5" stroke="#ffffff" stroke-width="1.29" fill="none"/><path d="M473.9 481.0L475.9 486.5L471.9 486.5Z" fill="#ffffff"/><path d="M513.6 500.0L513.2 485.5" stroke="#ffffff" stroke-width="1.29" fill="none"/><path d="M513.1 481.0L515.2 486.5L511.3 486.6Z" fill="#ffffff"/><path d="M553.3 500.0L552.6 485.5" stroke="#ffffff" stroke-width="1.29" fill="none"/><path d="M552.4 481.0L554.6 486.4L550.7 486.6Z" fill="#ffffff"/><path d="M593.0 500.0L591.9 485.6" stroke="#ffffff" stroke-width="1.29" fill="none"/><path d="M591.6 481.1L594.0 486.4L590.0 486.7Z" fill="#ffffff"/><path d="M632.8 500.0L631.3 485.6" stroke="#ffffff" stroke-width="1.29" fill="none"/><path d="M630.8 481.1L633.4 486.4L629.4 486.8Z" fill="#ffffff"/><path d="M672.5 500.0L670.6 485.6" stroke="#ffffff" stroke-width="1.29" fill="none"/><path d="M670.1 481.2L672.7 486.4L668.8 486.9Z" fill="#ffffff"/><path d="M712.2 500.0L710.0 485.7" stroke="#ffffff" stroke-width="1.29" fill="none"/><path d="M709.3 481.2L712.1 486.4L708.2 487.0Z" fill="#ffffff"/><path d="M195.8 567.8L193.4 577.4" stroke="#00ffff" stroke-width="0.79" fill="none"/><path d="M192.7 580.0L192.3 576.1L195.0 576.8Z" fill="#00ffff"/><path d="M235.6 567.8L233.5 577.3" stroke="#00ffff" stroke-width="0.77" fill="none"/><path d="M233.0 579.8L232.4 576.0L235.1 576.6Z" fill="#00ffff"/><path d="M275.3 567.8L273.7 577.2" stroke="#00ffff" stroke-width="0.75" fill="none"/><path d="M273.3 579.6L272.6 576.0L275.2 576.4Z" fill="#00ffff"/><path d="M315.0 567.8L313.8 577.0" stroke="#00ffff" stroke-width="0.73" fill="none"/><path d="M313.5 579.4L312.7 575.8L315.2 576.2Z" fill="#00ffff"/><path d="M354.7 567.8L353.9 576.8" stroke="#00ffff" stroke-width="0.71" fill="none"/><path d="M353.7 579.1L352.8 575.7L355.3 575.9Z" fill="#00ffff"/><path d="M394.4 567.8L394.0 576.6" stroke="#00ffff" stroke-width="0.69" fill="none"/><path d="M393.9 578.8L392.8 575.6L395.3 575.7Z" fill="#00ffff"/><path d="M434.2 567.8L434.1 576.4" stroke="#00ffff" stroke-width="0.67" fill="none"/><path d="M434.1 578.5L432.9 575.4L435.3 575.4Z" fill="#00ffff"/><path d="M473.9 567.8L473.9 555.4" stroke="#ffffff" stroke-width="1.09" fill="none"/><path d="M473.9 551.8L475.6 556.4L472.2 556.4Z" fill="#ffffff"/><path d="M513.6 567.8L513.1 555.5" stroke="#ffffff" stroke-width="1.09" fill="none"/><path d="M512.9 551.8L514.8 556.4L511.4 556.5Z" fill="#ffffff"/><path d="M553.3 567.8L552.2 555.5" stroke="#ffffff" stroke-width="1.09" fill="none"/><path d="M551.9 551.9L554.0 556.3L550.6 556.6Z" fill="#ffffff"/><path d="M593.0 567.8L591.4 555.5" stroke="#ffffff" stroke-width="1.09" fill="none"/><path d="M590.9 551.9L593.2 556.3L589.9 556.8Z" fill="#ffffff"/><path d="M632.8 567.8L630.6 555.6" stroke="#ffffff" stroke-width="1.09" fill="none"/><path d="M630.0 552.0L632.5 556.3L629.1 556.9Z" fill="#ffffff"/><path d="M672.5 567.8L669.8 555.7" stroke="#ffffff" stroke-width="1.09" fill="none"/><path d="M669.0 552.2L671.7 556.3L668.4 557.1Z" fill="#ffffff"/><path d="M712.2 567.8L709.0 555.9" stroke="#ffffff" stroke-width="1.09" fill="none"/><path d="M708.0 552.4L710.9 556.4L707.6 557.3Z" fill="#ffffff"/><path d="M195.8 635.6L193.0 643.5" stroke="#00ffff" stroke-width="0.66" fill="none"/><path d="M192.3 645.5L192.2 642.2L194.4 643.0Z" fill="#00ffff"/><path d="M235.6 635.6L233.2 643.5" stroke="#00ffff" stroke-width="0.64" fill="none"/><path d="M232.6 645.4L232.4 642.2L234.6 642.9Z" fill="#00ffff"/><path d="M275.3 635.6L273.4 643.5" stroke="#00ffff" stroke-width="0.63" fill="none"/><path d="M273.0 645.3L272.5 642.2L274.7 642.8Z" fill="#00ffff"/><path d="M315.0 635.6L313.6 643.4" stroke="#00ffff" stroke-width="0.61" fill="none"/><path d="M313.3 645.2L312.7 642.2L314.9 642.6Z" fill="#00ffff"/><path d="M354.7 635.6L353.8 643.3" stroke="#00ffff" stroke-width="0.60" fill="none"/><path d="M353.6 645.0L352.8 642.1L355.0 642.4Z" fill="#00ffff"/><path d="M394.4 635.6L394.0 643.1" stroke="#00ffff" stroke-width="0.60" fill="none"/><path d="M393.9 644.8L393.0 642.0L395.1 642.2Z" fill="#00ffff"/><path d="M434.2 635.6L434.1 642.9" stroke="#00ffff" stroke-width="0.60" fill="none"/><path d="M434.1 644.5L433.1 641.9L435.1 641.9Z" fill="#00ffff"/><path d="M473.9 635.6L473.9 625.1" stroke="#ffffff" stroke-width="0.91" fill="none"/><path d="M473.9 622.2L475.3 626.1L472.4 626.1Z" fill="#ffffff"/><path d="M513.6 635.6L512.9 624.5" stroke="#ffffff" stroke-width="0.97" fill="none"/><path d="M512.7 621.3L514.5 625.4L511.4 625.6Z" fill="#ffffff"/><path d="M553.3 635.6L551.9 623.9" stroke="#ffffff" stroke-width="1.03" fill="none"/><path d="M551.4 620.5L553.6 624.7L550.4 625.1Z" fill="#ffffff"/><path d="M593.0 635.6L590.7 623.4" stroke="#ffffff" stroke-width="1.09" fill="none"/><path d="M590.1 619.8L592.6 624.1L589.3 624.7Z" fill="#ffffff"/><path d="M632.8 635.6L629.6 623.0" stroke="#ffffff" stroke-width="1.15" fill="none"/><path d="M628.6 619.2L631.5 623.5L628.1 624.4Z" fill="#ffffff"/><path d="M672.5 635.6L668.3 622.6" stroke="#ffffff" stroke-width="1.21" fill="none"/><path d="M667.0 618.6L670.4 623.0L666.8 624.1Z" fill="#ffffff"/><path d="M712.2 635.6L707.0 622.3" stroke="#ffffff" stroke-width="1.28" fill="none"/><path d="M705.4 618.1L709.2 622.5L705.5 623.9Z" fill="#ffffff"/><path d="M235.6 703.4L231.9 710.5" stroke="#00ffff" stroke-width="0.62" fill="none"/><path d="M231.1 712.1L231.4 709.1L233.4 710.1Z" fill="#00ffff"/><path d="M275.3 703.4L272.5 710.3" stroke="#00ffff" stroke-width="0.60" fill="none"/><path d="M271.9 711.8L271.9 709.0L273.8 709.8Z" fill="#00ffff"/><path d="M315.0 703.4L313.0 710.1" stroke="#00ffff" stroke-width="0.60" fill="none"/><path d="M312.6 711.4L312.4 708.8L314.2 709.4Z" fill="#00ffff"/><path d="M354.7 703.4L353.5 709.7" stroke="#00ffff" stroke-width="0.60" fill="none"/><path d="M353.2 711.0L352.8 708.6L354.6 708.9Z" fill="#00ffff"/><path d="M394.4 703.4L393.8 709.3" stroke="#00ffff" stroke-width="0.60" fill="none"/><path d="M393.7 710.4L393.1 708.3L394.8 708.4Z" fill="#00ffff"/><path d="M434.2 703.4L434.1 708.9" stroke="#00ffff" stroke-width="0.60" fill="none"/><path d="M434.1 709.7L433.3 707.9L434.9 707.9Z" fill="#00ffff"/><path d="M473.9 703.4L473.9 696.0" stroke="#ffffff" stroke-width="0.61" fill="none"/><path d="M473.9 694.4L474.9 697.0L472.8 697.0Z" fill="#ffffff"/><path d="M513.6 703.4L513.0 695.6" stroke="#ffffff" stroke-width="0.65" fill="none"/><path d="M512.8 693.8L514.2 696.5L512.0 696.7Z" fill="#ffffff"/><path d="M553.3 703.4L552.0 695.3" stroke="#ffffff" stroke-width="0.69" fill="none"/><path d="M551.7 693.3L553.3 696.1L551.0 696.4Z" fill="#ffffff"/><path d="M593.0 703.4L591.0 695.0" stroke="#ffffff" stroke-width="0.73" fill="none"/><path d="M590.5 692.9L592.4 695.7L590.0 696.2Z" fill="#ffffff"/><path d="M632.8 703.4L629.9 694.8" stroke="#ffffff" stroke-width="0.78" fill="none"/><path d="M629.2 692.6L631.4 695.3L629.0 696.1Z" fill="#ffffff"/><path d="M672.5 703.4L668.8 694.6" stroke="#ffffff" stroke-width="0.82" fill="none"/><path d="M667.8 692.4L670.4 695.0L667.9 696.1Z" fill="#ffffff"/></g>
<g clip-path="url(#cbx)"><path d="M37.0 860.0L46.8 861.2" stroke="#00ffff" stroke-width="0.79" fill="none"/><path d="M49.5 861.5L45.7 862.4L46.0 859.7Z" fill="#00ffff"/><path d="M76.7 860.0L89.5 861.5" stroke="#00ffff" stroke-width="1.05" fill="none"/><path d="M93.3 862.0L88.3 863.2L88.7 859.7Z" fill="#00ffff"/><path d="M116.4 860.0L132.8 862.3" stroke="#00ffff" stroke-width="1.38" fill="none"/><path d="M138.1 863.0L131.5 864.4L132.1 859.9Z" fill="#00ffff"/><path d="M156.1 860.0L180.5 866.7" stroke="#00ffff" stroke-width="2.15" fill="none"/><path d="M189.1 869.0L178.7 869.7L180.5 863.1Z" fill="#00ffff"/><path d="M195.8 860.0L221.9 889.6" stroke="#00ffff" stroke-width="3.41" fill="none"/><path d="M231.6 900.6L217.3 892.3L225.2 885.3Z" fill="#00ffff"/><path d="M235.6 860.0L249.3 893.2" stroke="#00ffff" stroke-width="3.10" fill="none"/><path d="M254.4 905.4L244.5 894.1L253.3 890.4Z" fill="#00ffff"/><path d="M275.3 860.0L285.5 893.2" stroke="#00ffff" stroke-width="2.99" fill="none"/><path d="M289.3 905.4L280.8 893.6L289.7 890.9Z" fill="#00ffff"/><path d="M315.0 860.0L321.2 888.8" stroke="#00ffff" stroke-width="2.53" fill="none"/><path d="M323.4 899.2L317.1 888.7L324.8 887.0Z" fill="#00ffff"/><path d="M354.7 860.0L357.8 888.8" stroke="#00ffff" stroke-width="2.48" fill="none"/><path d="M358.9 899.2L353.8 888.2L361.6 887.4Z" fill="#00ffff"/><path d="M394.4 860.0L396.1 888.8" stroke="#00ffff" stroke-width="2.47" fill="none"/><path d="M396.6 899.2L392.1 888.0L399.9 887.6Z" fill="#00ffff"/><path d="M434.2 860.0L434.2 888.8" stroke="#00ffff" stroke-width="2.47" fill="none"/><path d="M434.2 899.2L430.3 887.8L438.0 887.8Z" fill="#00ffff"/><path d="M195.8 927.9L196.4 972.9" stroke="#00ffff" stroke-width="3.91" fill="none"/><path d="M196.7 989.9L190.4 971.9L202.4 971.8Z" fill="#00ffff"/><path d="M235.6 927.9L240.1 967.9" stroke="#00ffff" stroke-width="3.49" fill="none"/><path d="M241.8 982.9L234.6 967.5L245.3 966.3Z" fill="#00ffff"/><path d="M275.3 927.9L279.4 965.1" stroke="#00ffff" stroke-width="3.23" fill="none"/><path d="M280.9 978.9L274.3 964.6L284.2 963.5Z" fill="#00ffff"/><path d="M315.0 927.9L317.9 964.1" stroke="#00ffff" stroke-width="3.13" fill="none"/><path d="M318.9 977.5L312.9 963.4L322.6 962.7Z" fill="#00ffff"/><path d="M354.7 927.9L356.3 962.6" stroke="#00ffff" stroke-width="3.00" fill="none"/><path d="M356.9 975.5L351.6 961.9L360.9 961.4Z" fill="#00ffff"/><path d="M394.4 927.9L395.5 962.1" stroke="#00ffff" stroke-width="2.95" fill="none"/><path d="M395.8 974.6L390.9 961.2L400.0 960.9Z" fill="#00ffff"/><path d="M434.2 927.9L434.2 962.1" stroke="#00ffff" stroke-width="2.95" fill="none"/><path d="M434.2 974.6L429.6 961.1L438.7 961.1Z" fill="#00ffff"/><path d="M195.8 995.7L195.8 1036.5" stroke="#00ffff" stroke-width="3.53" fill="none"/><path d="M195.8 1051.7L190.4 1035.5L201.3 1035.5Z" fill="#00ffff"/><path d="M235.6 995.7L236.3 1035.7" stroke="#00ffff" stroke-width="3.47" fill="none"/><path d="M236.6 1050.7L230.9 1034.8L241.6 1034.7Z" fill="#00ffff"/><path d="M275.3 995.7L276.7 1034.3" stroke="#00ffff" stroke-width="3.34" fill="none"/><path d="M277.3 1048.7L271.6 1033.5L281.9 1033.1Z" fill="#00ffff"/><path d="M315.0 995.7L316.5 1033.9" stroke="#00ffff" stroke-width="3.30" fill="none"/><path d="M317.0 1048.1L311.3 1033.1L321.5 1032.7Z" fill="#00ffff"/><path d="M354.7 995.7L355.5 1033.6" stroke="#00ffff" stroke-width="3.28" fill="none"/><path d="M355.7 1047.7L350.4 1032.7L360.5 1032.5Z" fill="#00ffff"/><path d="M394.4 995.7L394.8 1033.6" stroke="#00ffff" stroke-width="3.28" fill="none"/><path d="M394.9 1047.7L389.7 1032.7L399.9 1032.6Z" fill="#00ffff"/><path d="M434.2 995.7L434.2 1033.6" stroke="#00ffff" stroke-width="3.28" fill="none"/><path d="M434.2 1047.7L429.1 1032.6L439.2 1032.6Z" fill="#00ffff"/><path d="M195.8 1063.5L195.8 1102.9" stroke="#00ffff" stroke-width="3.40" fill="none"/><path d="M195.8 1117.5L190.6 1101.9L201.1 1101.9Z" fill="#00ffff"/><path d="M235.6 1063.5L235.6 1102.9" stroke="#00ffff" stroke-width="3.40" fill="none"/><path d="M235.6 1117.5L230.3 1101.9L240.8 1101.9Z" fill="#00ffff"/><path d="M275.3 1063.5L275.3 1102.9" stroke="#00ffff" stroke-width="3.40" fill="none"/><path d="M275.3 1117.5L270.0 1101.9L280.5 1101.9Z" fill="#00ffff"/><path d="M315.0 1063.5L315.0 1102.9" stroke="#00ffff" stroke-width="3.40" fill="none"/><path d="M315.0 1117.5L309.8 1101.9L320.3 1101.9Z" fill="#00ffff"/><path d="M354.7 1063.5L354.7 1102.9" stroke="#00ffff" stroke-width="3.40" fill="none"/><path d="M354.7 1117.5L349.5 1101.9L360.0 1101.9Z" fill="#00ffff"/><path d="M394.4 1063.5L394.4 1102.9" stroke="#00ffff" stroke-width="3.40" fill="none"/><path d="M394.4 1117.5L389.2 1101.9L399.7 1101.9Z" fill="#00ffff"/><path d="M434.2 1063.5L434.2 1102.9" stroke="#00ffff" stroke-width="3.40" fill="none"/><path d="M434.2 1117.5L428.9 1101.9L439.4 1101.9Z" fill="#00ffff"/><path d="M195.8 1131.4L195.8 1170.6" stroke="#00ffff" stroke-width="3.39" fill="none"/><path d="M195.8 1185.2L190.6 1169.6L201.1 1169.6Z" fill="#00ffff"/><path d="M235.6 1131.4L235.6 1170.6" stroke="#00ffff" stroke-width="3.39" fill="none"/><path d="M235.6 1185.2L230.3 1169.6L240.8 1169.6Z" fill="#00ffff"/><path d="M275.3 1131.4L275.3 1170.6" stroke="#00ffff" stroke-width="3.39" fill="none"/><path d="M275.3 1185.2L270.1 1169.6L280.5 1169.6Z" fill="#00ffff"/><path d="M315.0 1131.4L315.0 1170.6" stroke="#00ffff" stroke-width="3.39" fill="none"/><path d="M315.0 1185.2L309.8 1169.6L320.2 1169.6Z" fill="#00ffff"/><path d="M354.7 1131.4L354.7 1170.6" stroke="#00ffff" stroke-width="3.39" fill="none"/><path d="M354.7 1185.2L349.5 1169.6L360.0 1169.6Z" fill="#00ffff"/><path d="M394.4 1131.4L394.4 1170.6" stroke="#00ffff" stroke-width="3.39" fill="none"/><path d="M394.4 1185.2L389.2 1169.6L399.7 1169.6Z" fill="#00ffff"/><path d="M434.2 1131.4L434.2 1170.6" stroke="#00ffff" stroke-width="3.39" fill="none"/><path d="M434.2 1185.2L428.9 1169.6L439.4 1169.6Z" fill="#00ffff"/><path d="M195.8 1199.2L195.8 1238.0" stroke="#00ffff" stroke-width="3.35" fill="none"/><path d="M195.8 1252.5L190.7 1237.0L201.0 1237.0Z" fill="#00ffff"/><path d="M235.6 1199.2L235.6 1238.0" stroke="#00ffff" stroke-width="3.35" fill="none"/><path d="M235.6 1252.5L230.4 1237.0L240.7 1237.0Z" fill="#00ffff"/><path d="M275.3 1199.2L275.3 1238.0" stroke="#00ffff" stroke-width="3.35" fill="none"/><path d="M275.3 1252.5L270.1 1237.0L280.5 1237.0Z" fill="#00ffff"/><path d="M315.0 1199.2L315.0 1238.0" stroke="#00ffff" stroke-width="3.35" fill="none"/><path d="M315.0 1252.5L309.8 1237.0L320.2 1237.0Z" fill="#00ffff"/><path d="M354.7 1199.2L354.7 1238.0" stroke="#00ffff" stroke-width="3.35" fill="none"/><path d="M354.7 1252.5L349.6 1237.0L359.9 1237.0Z" fill="#00ffff"/><path d="M394.4 1199.2L394.4 1238.0" stroke="#00ffff" stroke-width="3.35" fill="none"/><path d="M394.4 1252.5L389.3 1237.0L399.6 1237.0Z" fill="#00ffff"/><path d="M434.2 1199.2L434.2 1238.0" stroke="#00ffff" stroke-width="3.35" fill="none"/><path d="M434.2 1252.5L429.0 1237.0L439.3 1237.0Z" fill="#00ffff"/><path d="M195.8 1267.1L195.8 1305.4" stroke="#00ffff" stroke-width="3.31" fill="none"/><path d="M195.8 1319.6L190.7 1304.4L201.0 1304.4Z" fill="#00ffff"/><path d="M235.6 1267.1L235.6 1305.4" stroke="#00ffff" stroke-width="3.31" fill="none"/><path d="M235.6 1319.6L230.5 1304.4L240.7 1304.4Z" fill="#00ffff"/><path d="M275.3 1267.1L275.3 1305.4" stroke="#00ffff" stroke-width="3.31" fill="none"/><path d="M275.3 1319.6L270.2 1304.4L280.4 1304.4Z" fill="#00ffff"/><path d="M315.0 1267.1L315.0 1305.4" stroke="#00ffff" stroke-width="3.31" fill="none"/><path d="M315.0 1319.6L309.9 1304.4L320.1 1304.4Z" fill="#00ffff"/><path d="M354.7 1267.1L354.7 1305.4" stroke="#00ffff" stroke-width="3.31" fill="none"/><path d="M354.7 1319.6L349.6 1304.4L359.8 1304.4Z" fill="#00ffff"/><path d="M394.4 1267.1L394.4 1305.4" stroke="#00ffff" stroke-width="3.31" fill="none"/><path d="M394.4 1319.6L389.3 1304.4L399.6 1304.4Z" fill="#00ffff"/><path d="M434.2 1267.1L434.2 1305.4" stroke="#00ffff" stroke-width="3.31" fill="none"/><path d="M434.2 1319.6L429.1 1304.4L439.3 1304.4Z" fill="#00ffff"/><path d="M195.8 1334.9L195.8 1372.9" stroke="#00ffff" stroke-width="3.28" fill="none"/><path d="M195.8 1386.9L190.8 1371.9L200.9 1371.9Z" fill="#00ffff"/><path d="M235.6 1334.9L235.6 1372.9" stroke="#00ffff" stroke-width="3.28" fill="none"/><path d="M235.6 1386.9L230.5 1371.9L240.6 1371.9Z" fill="#00ffff"/><path d="M275.3 1334.9L275.3 1372.9" stroke="#00ffff" stroke-width="3.28" fill="none"/><path d="M275.3 1386.9L270.2 1371.9L280.4 1371.9Z" fill="#00ffff"/><path d="M315.0 1334.9L315.0 1372.9" stroke="#00ffff" stroke-width="3.28" fill="none"/><path d="M315.0 1386.9L309.9 1371.9L320.1 1371.9Z" fill="#00ffff"/><path d="M354.7 1334.9L354.7 1372.9" stroke="#00ffff" stroke-width="3.28" fill="none"/><path d="M354.7 1386.9L349.7 1371.9L359.8 1371.9Z" fill="#00ffff"/><path d="M394.4 1334.9L394.4 1372.9" stroke="#00ffff" stroke-width="3.28" fill="none"/><path d="M394.4 1386.9L389.4 1371.9L399.5 1371.9Z" fill="#00ffff"/><path d="M434.2 1334.9L434.2 1372.9" stroke="#00ffff" stroke-width="3.28" fill="none"/><path d="M434.2 1386.9L429.1 1371.9L439.2 1371.9Z" fill="#00ffff"/><path d="M195.8 1402.8L195.8 1439.7" stroke="#00ffff" stroke-width="3.18" fill="none"/><path d="M195.8 1453.3L190.9 1438.7L200.8 1438.7Z" fill="#00ffff"/><path d="M235.6 1402.8L235.6 1439.7" stroke="#00ffff" stroke-width="3.18" fill="none"/><path d="M235.6 1453.3L230.6 1438.7L240.5 1438.7Z" fill="#00ffff"/><path d="M275.3 1402.8L275.3 1439.7" stroke="#00ffff" stroke-width="3.18" fill="none"/><path d="M275.3 1453.3L270.4 1438.7L280.2 1438.7Z" fill="#00ffff"/><path d="M315.0 1402.8L315.0 1439.7" stroke="#00ffff" stroke-width="3.18" fill="none"/><path d="M315.0 1453.3L310.1 1438.7L319.9 1438.7Z" fill="#00ffff"/><path d="M354.7 1402.8L354.7 1439.7" stroke="#00ffff" stroke-width="3.18" fill="none"/><path d="M354.7 1453.3L349.8 1438.7L359.7 1438.7Z" fill="#00ffff"/><path d="M394.4 1402.8L394.4 1439.7" stroke="#00ffff" stroke-width="3.18" fill="none"/><path d="M394.4 1453.3L389.5 1438.7L399.4 1438.7Z" fill="#00ffff"/><path d="M434.2 1402.8L434.2 1439.7" stroke="#00ffff" stroke-width="3.18" fill="none"/><path d="M434.2 1453.3L429.2 1438.7L439.1 1438.7Z" fill="#00ffff"/><path d="M235.6 1470.7L231.9 1510.0" stroke="#00ffff" stroke-width="3.42" fill="none"/><path d="M230.6 1524.7L226.8 1508.5L237.3 1509.5Z" fill="#00ffff"/><path d="M275.3 1470.7L275.3 1510.0" stroke="#00ffff" stroke-width="3.40" fill="none"/><path d="M275.3 1524.7L270.0 1509.0L280.5 1509.0Z" fill="#00ffff"/><path d="M315.0 1470.7L315.0 1510.0" stroke="#00ffff" stroke-width="3.40" fill="none"/><path d="M315.0 1524.7L309.8 1509.0L320.3 1509.0Z" fill="#00ffff"/><path d="M354.7 1470.7L354.7 1510.0" stroke="#00ffff" stroke-width="3.40" fill="none"/><path d="M354.7 1524.7L349.5 1509.0L360.0 1509.0Z" fill="#00ffff"/><path d="M394.4 1470.7L394.4 1510.0" stroke="#00ffff" stroke-width="3.40" fill="none"/><path d="M394.4 1524.7L389.2 1509.0L399.7 1509.0Z" fill="#00ffff"/><path d="M434.2 1470.7L434.2 1510.0" stroke="#00ffff" stroke-width="3.40" fill="none"/><path d="M434.2 1524.7L428.9 1509.0L439.4 1509.0Z" fill="#00ffff"/><path d="M473.9 860.0L473.9 816.4" stroke="#ffffff" stroke-width="4.00" fill="none"/><path d="M473.9 800.0L479.7 817.4L468.1 817.4Z" fill="#ffffff"/><path d="M513.6 860.0L515.8 816.4" stroke="#ffffff" stroke-width="4.00" fill="none"/><path d="M516.6 800.0L521.5 817.7L509.9 817.1Z" fill="#ffffff"/><path d="M553.3 860.0L558.4 815.0" stroke="#ffffff" stroke-width="4.00" fill="none"/><path d="M560.3 798.0L564.3 816.7L552.3 815.3Z" fill="#ffffff"/><path d="M593.0 860.0L601.8 815.0" stroke="#ffffff" stroke-width="4.00" fill="none"/><path d="M605.0 798.0L607.6 817.1L595.6 814.8Z" fill="#ffffff"/><path d="M632.8 860.0L645.8 815.0" stroke="#ffffff" stroke-width="4.00" fill="none"/><path d="M650.8 798.0L651.5 817.7L639.6 814.2Z" fill="#ffffff"/><path d="M672.5 860.0L692.8 816.5" stroke="#ffffff" stroke-width="4.00" fill="none"/><path d="M700.5 800.0L698.2 820.1L686.6 814.7Z" fill="#ffffff"/><path d="M712.2 860.0L764.1 811.0" stroke="#ffffff" stroke-width="4.00" fill="none"/><path d="M784.2 792.0L769.8 818.6L756.8 804.8Z" fill="#ffffff"/><path d="M751.9 860.0L781.3 853.2" stroke="#ffffff" stroke-width="2.79" fill="none"/><path d="M791.9 850.7L781.2 857.3L779.4 849.5Z" fill="#ffffff"/><path d="M791.6 860.0L810.8 858.1" stroke="#ffffff" stroke-width="1.74" fill="none"/><path d="M817.1 857.5L810.0 860.8L809.5 855.6Z" fill="#ffffff"/><path d="M831.4 860.0L844.4 858.8" stroke="#ffffff" stroke-width="1.16" fill="none"/><path d="M848.4 858.5L843.6 860.7L843.3 857.1Z" fill="#ffffff"/><path d="M871.1 860.0L880.6 859.2" stroke="#ffffff" stroke-width="0.82" fill="none"/><path d="M883.1 859.0L879.7 860.6L879.5 858.0Z" fill="#ffffff"/><path d="M473.9 927.9L473.9 887.8" stroke="#ffffff" stroke-width="3.74" fill="none"/><path d="M473.9 872.9L479.2 888.8L468.5 888.8Z" fill="#ffffff"/><path d="M513.6 927.9L514.3 887.8" stroke="#ffffff" stroke-width="3.74" fill="none"/><path d="M514.6 872.9L519.7 888.9L509.0 888.7Z" fill="#ffffff"/><path d="M553.3 927.9L554.8 887.1" stroke="#ffffff" stroke-width="3.81" fill="none"/><path d="M555.3 871.9L560.2 888.3L549.3 887.9Z" fill="#ffffff"/><path d="M593.0 927.9L596.0 886.4" stroke="#ffffff" stroke-width="3.89" fill="none"/><path d="M597.0 870.9L601.4 887.8L590.4 887.0Z" fill="#ffffff"/><path d="M632.8 927.9L637.1 884.3" stroke="#ffffff" stroke-width="4.00" fill="none"/><path d="M638.8 867.9L642.8 885.8L631.2 884.7Z" fill="#ffffff"/><path d="M672.5 927.9L678.3 880.0" stroke="#ffffff" stroke-width="4.00" fill="none"/><path d="M680.5 861.9L684.5 881.8L671.8 880.2Z" fill="#ffffff"/><path d="M712.2 927.9L713.7 877.2" stroke="#ffffff" stroke-width="4.00" fill="none"/><path d="M714.2 857.9L720.4 878.3L706.9 878.0Z" fill="#ffffff"/><path d="M473.9 995.7L473.9 954.9" stroke="#ffffff" stroke-width="3.81" fill="none"/><path d="M473.9 939.7L479.3 955.9L468.5 955.9Z" fill="#ffffff"/><path d="M513.6 995.7L513.6 954.9" stroke="#ffffff" stroke-width="3.81" fill="none"/><path d="M513.6 939.7L519.0 955.9L508.2 955.9Z" fill="#ffffff"/><path d="M553.3 995.7L554.1 954.9" stroke="#ffffff" stroke-width="3.81" fill="none"/><path d="M554.3 939.7L559.5 956.0L548.6 955.8Z" fill="#ffffff"/><path d="M593.0 995.7L594.5 954.9" stroke="#ffffff" stroke-width="3.81" fill="none"/><path d="M595.0 939.7L599.9 956.1L589.0 955.7Z" fill="#ffffff"/><path d="M632.8 995.7L634.2 954.9" stroke="#ffffff" stroke-width="3.81" fill="none"/><path d="M634.8 939.7L639.6 956.1L628.8 955.7Z" fill="#ffffff"/><path d="M672.5 995.7L673.9 954.9" stroke="#ffffff" stroke-width="3.81" fill="none"/><path d="M674.5 939.7L679.3 956.1L668.5 955.7Z" fill="#ffffff"/><path d="M712.2 995.7L712.9 954.9" stroke="#ffffff" stroke-width="3.81" fill="none"/><path d="M713.2 939.7L718.4 956.0L707.5 955.8Z" fill="#ffffff"/><path d="M473.9 1063.5L473.9 1023.8" stroke="#ffffff" stroke-width="3.71" fill="none"/><path d="M473.9 1008.9L479.2 1024.8L468.6 1024.8Z" fill="#ffffff"/><path d="M513.6 1063.5L513.6 1023.8" stroke="#ffffff" stroke-width="3.71" fill="none"/><path d="M513.6 1008.9L518.9 1024.8L508.3 1024.8Z" fill="#ffffff"/><path d="M553.3 1063.5L553.3 1023.8" stroke="#ffffff" stroke-width="3.71" fill="none"/><path d="M553.3 1008.9L558.6 1024.8L548.0 1024.8Z" fill="#ffffff"/><path d="M593.0 1063.5L593.0 1023.8" stroke="#ffffff" stroke-width="3.71" fill="none"/><path d="M593.0 1008.9L598.4 1024.8L587.7 1024.8Z" fill="#ffffff"/><path d="M632.8 1063.5L632.8 1023.8" stroke="#ffffff" stroke-width="3.71" fill="none"/><path d="M632.8 1008.9L638.1 1024.8L627.5 1024.8Z" fill="#ffffff"/><path d="M672.5 1063.5L672.5 1023.8" stroke="#ffffff" stroke-width="3.71" fill="none"/><path d="M672.5 1008.9L677.8 1024.8L667.2 1024.8Z" fill="#ffffff"/><path d="M712.2 1063.5L712.2 1023.8" stroke="#ffffff" stroke-width="3.71" fill="none"/><path d="M712.2 1008.9L717.5 1024.8L706.9 1024.8Z" fill="#ffffff"/><path d="M473.9 1131.4L473.9 1094.9" stroke="#ffffff" stroke-width="3.40" fill="none"/><path d="M473.9 1081.4L478.8 1095.9L469.0 1095.9Z" fill="#ffffff"/><path d="M513.6 1131.4L513.6 1094.9" stroke="#ffffff" stroke-width="3.40" fill="none"/><path d="M513.6 1081.4L518.5 1095.9L508.7 1095.9Z" fill="#ffffff"/><path d="M553.3 1131.4L553.3 1094.9" stroke="#ffffff" stroke-width="3.40" fill="none"/><path d="M553.3 1081.4L558.2 1095.9L548.5 1095.9Z" fill="#ffffff"/><path d="M593.0 1131.4L593.0 1094.9" stroke="#ffffff" stroke-width="3.40" fill="none"/><path d="M593.0 1081.4L597.9 1095.9L588.2 1095.9Z" fill="#ffffff"/><path d="M632.8 1131.4L632.8 1094.9" stroke="#ffffff" stroke-width="3.40" fill="none"/><path d="M632.8 1081.4L637.6 1095.9L627.9 1095.9Z" fill="#ffffff"/><path d="M672.5 1131.4L672.5 1094.9" stroke="#ffffff" stroke-width="3.40" fill="none"/><path d="M672.5 1081.4L677.4 1095.9L667.6 1095.9Z" fill="#ffffff"/><path d="M712.2 1131.4L712.2 1094.9" stroke="#ffffff" stroke-width="3.40" fill="none"/><path d="M712.2 1081.4L717.1 1095.9L707.3 1095.9Z" fill="#ffffff"/><path d="M473.9 1199.2L473.9 1165.6" stroke="#ffffff" stroke-width="3.13" fill="none"/><path d="M473.9 1153.2L478.4 1166.6L469.4 1166.6Z" fill="#ffffff"/><path d="M513.6 1199.2L513.6 1165.6" stroke="#ffffff" stroke-width="3.13" fill="none"/><path d="M513.6 1153.2L518.1 1166.6L509.1 1166.6Z" fill="#ffffff"/><path d="M553.3 1199.2L553.3 1165.6" stroke="#ffffff" stroke-width="3.13" fill="none"/><path d="M553.3 1153.2L557.8 1166.6L548.8 1166.6Z" fill="#ffffff"/><path d="M593.0 1199.2L593.0 1165.6" stroke="#ffffff" stroke-width="3.13" fill="none"/><path d="M593.0 1153.2L597.6 1166.6L588.5 1166.6Z" fill="#ffffff"/><path d="M632.8 1199.2L632.8 1165.6" stroke="#ffffff" stroke-width="3.13" fill="none"/><path d="M632.8 1153.2L637.3 1166.6L628.3 1166.6Z" fill="#ffffff"/><path d="M672.5 1199.2L672.5 1165.6" stroke="#ffffff" stroke-width="3.13" fill="none"/><path d="M672.5 1153.2L677.0 1166.6L668.0 1166.6Z" fill="#ffffff"/><path d="M712.2 1199.2L712.2 1165.6" stroke="#ffffff" stroke-width="3.13" fill="none"/><path d="M712.2 1153.2L716.7 1166.6L707.7 1166.6Z" fill="#ffffff"/><path d="M473.9 1267.1L473.9 1237.0" stroke="#ffffff" stroke-width="2.79" fill="none"/><path d="M473.9 1226.1L477.9 1238.0L469.9 1238.0Z" fill="#ffffff"/><path d="M513.6 1267.1L513.6 1237.0" stroke="#ffffff" stroke-width="2.79" fill="none"/><path d="M513.6 1226.1L517.6 1238.0L509.6 1238.0Z" fill="#ffffff"/><path d="M553.3 1267.1L553.3 1237.0" stroke="#ffffff" stroke-width="2.79" fill="none"/><path d="M553.3 1226.1L557.4 1238.0L549.3 1238.0Z" fill="#ffffff"/><path d="M593.0 1267.1L593.0 1237.0" stroke="#ffffff" stroke-width="2.79" fill="none"/><path d="M593.0 1226.1L597.1 1238.0L589.0 1238.0Z" fill="#ffffff"/><path d="M632.8 1267.1L632.8 1237.0" stroke="#ffffff" stroke-width="2.79" fill="none"/><path d="M632.8 1226.1L636.8 1238.0L628.7 1238.0Z" fill="#ffffff"/><path d="M672.5 1267.1L672.5 1237.0" stroke="#ffffff" stroke-width="2.79" fill="none"/><path d="M672.5 1226.1L676.5 1238.0L668.5 1238.0Z" fill="#ffffff"/><path d="M712.2 1267.1L712.2 1237.0" stroke="#ffffff" stroke-width="2.79" fill="none"/><path d="M712.2 1226.1L716.2 1238.0L708.2 1238.0Z" fill="#ffffff"/><path d="M473.9 1334.9L473.9 1309.1" stroke="#ffffff" stroke-width="2.38" fill="none"/><path d="M473.9 1299.9L477.4 1310.1L470.4 1310.1Z" fill="#ffffff"/><path d="M513.6 1334.9L513.6 1309.1" stroke="#ffffff" stroke-width="2.38" fill="none"/><path d="M513.6 1299.9L517.1 1310.1L510.1 1310.1Z" fill="#ffffff"/><path d="M553.3 1334.9L553.3 1309.1" stroke="#ffffff" stroke-width="2.38" fill="none"/><path d="M553.3 1299.9L556.8 1310.1L549.9 1310.1Z" fill="#ffffff"/><path d="M593.0 1334.9L593.0 1309.1" stroke="#ffffff" stroke-width="2.38" fill="none"/><path d="M593.0 1299.9L596.5 1310.1L589.6 1310.1Z" fill="#ffffff"/><path d="M632.8 1334.9L632.8 1309.1" stroke="#ffffff" stroke-width="2.38" fill="none"/><path d="M632.8 1299.9L636.2 1310.1L629.3 1310.1Z" fill="#ffffff"/><path d="M672.5 1334.9L672.5 1309.1" stroke="#ffffff" stroke-width="2.38" fill="none"/><path d="M672.5 1299.9L676.0 1310.1L669.0 1310.1Z" fill="#ffffff"/><path d="M712.2 1334.9L712.2 1309.1" stroke="#ffffff" stroke-width="2.38" fill="none"/><path d="M712.2 1299.9L715.7 1310.1L708.7 1310.1Z" fill="#ffffff"/><path d="M473.9 1402.8L473.9 1382.6" stroke="#ffffff" stroke-width="1.84" fill="none"/><path d="M473.9 1375.8L476.6 1383.6L471.2 1383.6Z" fill="#ffffff"/><path d="M513.6 1402.8L513.6 1382.6" stroke="#ffffff" stroke-width="1.84" fill="none"/><path d="M513.6 1375.8L516.3 1383.6L510.9 1383.6Z" fill="#ffffff"/><path d="M553.3 1402.8L553.3 1382.6" stroke="#ffffff" stroke-width="1.84" fill="none"/><path d="M553.3 1375.8L556.1 1383.6L550.6 1383.6Z" fill="#ffffff"/><path d="M593.0 1402.8L593.0 1382.6" stroke="#ffffff" stroke-width="1.84" fill="none"/><path d="M593.0 1375.8L595.8 1383.6L590.3 1383.6Z" fill="#ffffff"/><path d="M632.8 1402.8L632.8 1382.6" stroke="#ffffff" stroke-width="1.84" fill="none"/><path d="M632.8 1375.8L635.5 1383.6L630.0 1383.6Z" fill="#ffffff"/><path d="M672.5 1402.8L672.5 1382.6" stroke="#ffffff" stroke-width="1.84" fill="none"/><path d="M672.5 1375.8L675.2 1383.6L669.8 1383.6Z" fill="#ffffff"/><path d="M712.2 1402.8L712.2 1382.6" stroke="#ffffff" stroke-width="1.84" fill="none"/><path d="M712.2 1375.8L714.9 1383.6L709.5 1383.6Z" fill="#ffffff"/><path d="M473.9 1470.7L473.9 1456.9" stroke="#ffffff" stroke-width="1.22" fill="none"/><path d="M473.9 1452.7L475.8 1457.9L472.0 1457.9Z" fill="#ffffff"/><path d="M513.6 1470.7L513.6 1456.9" stroke="#ffffff" stroke-width="1.22" fill="none"/><path d="M513.6 1452.7L515.5 1457.9L511.7 1457.9Z" fill="#ffffff"/><path d="M553.3 1470.7L553.3 1456.9" stroke="#ffffff" stroke-width="1.22" fill="none"/><path d="M553.3 1452.7L555.2 1457.9L551.4 1457.9Z" fill="#ffffff"/><path d="M593.0 1470.7L593.0 1456.9" stroke="#ffffff" stroke-width="1.22" fill="none"/><path d="M593.0 1452.7L594.9 1457.9L591.2 1457.9Z" fill="#ffffff"/><path d="M632.8 1470.7L632.8 1456.9" stroke="#ffffff" stroke-width="1.22" fill="none"/><path d="M632.8 1452.7L634.7 1457.9L630.9 1457.9Z" fill="#ffffff"/><path d="M672.5 1470.7L671.0 1456.9" stroke="#ffffff" stroke-width="1.23" fill="none"/><path d="M670.5 1452.7L673.0 1457.7L669.2 1458.1Z" fill="#ffffff"/></g>
<rect x="898" y="57.5" width="29.3" height="1470.9" fill="url(#gc)" stroke="#000" stroke-width="3.5"/><path d="M899 240.1H907.5M918 240.1H926" stroke="#000" stroke-width="2.6"/><path d="M899 424.4H907.5M918 424.4H926" stroke="#000" stroke-width="2.6"/><path d="M899 608.7H907.5M918 608.7H926" stroke="#000" stroke-width="2.6"/><path d="M899 793.0H907.5M918 793.0H926" stroke="#000" stroke-width="2.6"/><path d="M899 977.3H907.5M918 977.3H926" stroke="#000" stroke-width="2.6"/><path d="M899 1161.6H907.5M918 1161.6H926" stroke="#000" stroke-width="2.6"/><path d="M899 1345.9H907.5M918 1345.9H926" stroke="#000" stroke-width="2.6"/>
<text x="931.8" y="70.2" font-size="46.7">400</text><text x="931.8" y="254.2" font-size="46.7">350</text><text x="931.8" y="438.2" font-size="46.7">300</text><text x="931.8" y="622.2" font-size="46.7">250</text><text x="931.8" y="806.2" font-size="46.7">200</text><text x="931.8" y="990.2" font-size="46.7">150</text><text x="931.8" y="1174.2" font-size="46.7">100</text><text x="931.8" y="1358.2" font-size="46.7">50</text><text x="931.8" y="1542.2" font-size="46.7">0</text><text x="277" y="39" font-size="52.7">0.8 mol<tspan dx="-2.3">·</tspan><tspan dx="-1">L</tspan><tspan dy="-18" dx="0.6" font-size="32">-1</tspan><tspan dy="18" dx="2.3"> H</tspan><tspan font-size="46" dy="-9" stroke="#000" stroke-width=".8">₂</tspan><tspan dy="9" dx="0.1">SO</tspan><tspan font-size="46" dy="-9" stroke="#000" stroke-width=".8">₄</tspan></text><text x="277" y="811" font-size="52.7">0.01 mol<tspan dx="-2.3">·</tspan><tspan dx="-1">L</tspan><tspan dy="-18" dx="0.6" font-size="32">-1</tspan><tspan dy="18" dx="2.3"> H</tspan><tspan font-size="46" dy="-9" stroke="#000" stroke-width=".8">₂</tspan><tspan dy="9" dx="0.1">SO</tspan><tspan font-size="46" dy="-9" stroke="#000" stroke-width=".8">₄</tspan></text><text x="-0.5" y="161" font-size="46.6">Cu<tspan dy="-16.5" font-size="27">2+</tspan><tspan dy="16.5"> Flux</tspan></text><text x="726.7" y="161" font-size="46.6">Cl<tspan dy="-16.5" font-size="27">-</tspan><tspan dy="16.5"> Flux</tspan></text><text x="-0.5" y="933" font-size="46.6">Cu<tspan dy="-16.5" font-size="27">2+</tspan><tspan dy="16.5"> Flux</tspan></text><text x="726.7" y="933" font-size="46.6">Cl<tspan dy="-16.5" font-size="27">-</tspan><tspan dy="16.5"> Flux</tspan></text><text x="784.4" y="1467.5" font-size="49.5" font-family="'DejaVu Serif', serif">∇ϕ</text><text x="745" y="1542.8" font-size="46.6">(V<tspan dx="-1.6">·</tspan><tspan dx="-1.6">m</tspan><tspan dy="-16.5" font-size="27">-1</tspan><tspan dy="16.5" dx="2">)</tspan></text>
</svg>
</body></html>
